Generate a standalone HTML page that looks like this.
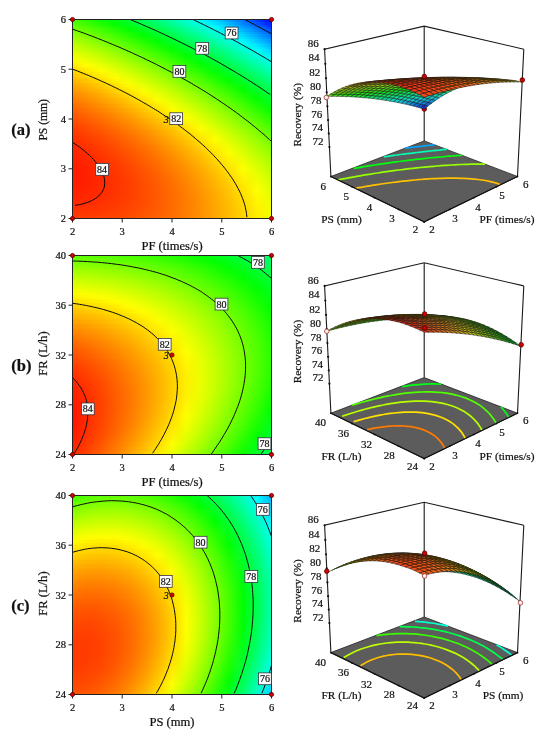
<!DOCTYPE html>
<html><head><meta charset="utf-8"><title>Response surface plots</title>
<style>html,body{margin:0;padding:0;background:#fff;overflow:hidden}svg{display:block}text{font-family:"Liberation Serif","Times New Roman",serif;fill:#111;stroke:#111;stroke-width:0.22px}</style>
</head><body>
<svg width="550" height="736" viewBox="0 0 550 736">
<defs><linearGradient id="ga0"><stop offset="0%" stop-color="#48ff00"/><stop offset="7.1%" stop-color="#2dff00"/><stop offset="14.3%" stop-color="#10ff00"/><stop offset="21.4%" stop-color="#00ff10"/><stop offset="28.6%" stop-color="#00ff32"/><stop offset="35.7%" stop-color="#00ff55"/><stop offset="42.9%" stop-color="#00ff7b"/><stop offset="50%" stop-color="#00ffa3"/><stop offset="57.1%" stop-color="#00ffcd"/><stop offset="64.3%" stop-color="#00fff9"/><stop offset="71.4%" stop-color="#00d6ff"/><stop offset="78.6%" stop-color="#00a6ff"/><stop offset="85.7%" stop-color="#0073ff"/><stop offset="92.9%" stop-color="#003fff"/><stop offset="100%" stop-color="#0008ff"/></linearGradient>
<linearGradient id="ga1"><stop offset="0%" stop-color="#56ff00"/><stop offset="7.1%" stop-color="#3bff00"/><stop offset="14.3%" stop-color="#1dff00"/><stop offset="21.4%" stop-color="#00ff02"/><stop offset="28.6%" stop-color="#00ff23"/><stop offset="35.7%" stop-color="#00ff47"/><stop offset="42.9%" stop-color="#00ff6c"/><stop offset="50%" stop-color="#00ff94"/><stop offset="57.1%" stop-color="#00ffbd"/><stop offset="64.3%" stop-color="#00ffe9"/><stop offset="71.4%" stop-color="#00e7ff"/><stop offset="78.6%" stop-color="#00b7ff"/><stop offset="85.7%" stop-color="#0085ff"/><stop offset="92.9%" stop-color="#0051ff"/><stop offset="100%" stop-color="#001aff"/></linearGradient>
<linearGradient id="ga2"><stop offset="0%" stop-color="#63ff00"/><stop offset="7.1%" stop-color="#48ff00"/><stop offset="14.3%" stop-color="#2bff00"/><stop offset="21.4%" stop-color="#0cff00"/><stop offset="28.6%" stop-color="#00ff15"/><stop offset="35.7%" stop-color="#00ff38"/><stop offset="42.9%" stop-color="#00ff5d"/><stop offset="50%" stop-color="#00ff84"/><stop offset="57.1%" stop-color="#00ffae"/><stop offset="64.3%" stop-color="#00ffd9"/><stop offset="71.4%" stop-color="#00f7ff"/><stop offset="78.6%" stop-color="#00c7ff"/><stop offset="85.7%" stop-color="#0096ff"/><stop offset="92.9%" stop-color="#0062ff"/><stop offset="100%" stop-color="#002cff"/></linearGradient>
<linearGradient id="ga3"><stop offset="0%" stop-color="#70ff00"/><stop offset="7.1%" stop-color="#55ff00"/><stop offset="14.3%" stop-color="#39ff00"/><stop offset="21.4%" stop-color="#1aff00"/><stop offset="28.6%" stop-color="#00ff07"/><stop offset="35.7%" stop-color="#00ff29"/><stop offset="42.9%" stop-color="#00ff4e"/><stop offset="50%" stop-color="#00ff75"/><stop offset="57.1%" stop-color="#00ff9e"/><stop offset="64.3%" stop-color="#00ffc9"/><stop offset="71.4%" stop-color="#00fff7"/><stop offset="78.6%" stop-color="#00d8ff"/><stop offset="85.7%" stop-color="#00a6ff"/><stop offset="92.9%" stop-color="#0073ff"/><stop offset="100%" stop-color="#003dff"/></linearGradient>
<linearGradient id="ga4"><stop offset="0%" stop-color="#7cff00"/><stop offset="7.1%" stop-color="#62ff00"/><stop offset="14.3%" stop-color="#46ff00"/><stop offset="21.4%" stop-color="#28ff00"/><stop offset="28.6%" stop-color="#07ff00"/><stop offset="35.7%" stop-color="#00ff1b"/><stop offset="42.9%" stop-color="#00ff40"/><stop offset="50%" stop-color="#00ff66"/><stop offset="57.1%" stop-color="#00ff8f"/><stop offset="64.3%" stop-color="#00ffba"/><stop offset="71.4%" stop-color="#00ffe7"/><stop offset="78.6%" stop-color="#00e8ff"/><stop offset="85.7%" stop-color="#00b7ff"/><stop offset="92.9%" stop-color="#0084ff"/><stop offset="100%" stop-color="#004fff"/></linearGradient>
<linearGradient id="ga5"><stop offset="0%" stop-color="#88ff00"/><stop offset="7.1%" stop-color="#6fff00"/><stop offset="14.3%" stop-color="#53ff00"/><stop offset="21.4%" stop-color="#35ff00"/><stop offset="28.6%" stop-color="#15ff00"/><stop offset="35.7%" stop-color="#00ff0d"/><stop offset="42.9%" stop-color="#00ff31"/><stop offset="50%" stop-color="#00ff58"/><stop offset="57.1%" stop-color="#00ff80"/><stop offset="64.3%" stop-color="#00ffab"/><stop offset="71.4%" stop-color="#00ffd7"/><stop offset="78.6%" stop-color="#00f8ff"/><stop offset="85.7%" stop-color="#00c7ff"/><stop offset="92.9%" stop-color="#0095ff"/><stop offset="100%" stop-color="#0060ff"/></linearGradient>
<linearGradient id="ga6"><stop offset="0%" stop-color="#95ff00"/><stop offset="7.1%" stop-color="#7bff00"/><stop offset="14.3%" stop-color="#60ff00"/><stop offset="21.4%" stop-color="#42ff00"/><stop offset="28.6%" stop-color="#22ff00"/><stop offset="35.7%" stop-color="#01ff00"/><stop offset="42.9%" stop-color="#00ff23"/><stop offset="50%" stop-color="#00ff49"/><stop offset="57.1%" stop-color="#00ff71"/><stop offset="64.3%" stop-color="#00ff9b"/><stop offset="71.4%" stop-color="#00ffc8"/><stop offset="78.6%" stop-color="#00fff6"/><stop offset="85.7%" stop-color="#00d8ff"/><stop offset="92.9%" stop-color="#00a5ff"/><stop offset="100%" stop-color="#0070ff"/></linearGradient>
<linearGradient id="ga7"><stop offset="0%" stop-color="#a1ff00"/><stop offset="7.1%" stop-color="#88ff00"/><stop offset="14.3%" stop-color="#6cff00"/><stop offset="21.4%" stop-color="#4fff00"/><stop offset="28.6%" stop-color="#30ff00"/><stop offset="35.7%" stop-color="#0eff00"/><stop offset="42.9%" stop-color="#00ff15"/><stop offset="50%" stop-color="#00ff3b"/><stop offset="57.1%" stop-color="#00ff63"/><stop offset="64.3%" stop-color="#00ff8c"/><stop offset="71.4%" stop-color="#00ffb8"/><stop offset="78.6%" stop-color="#00ffe6"/><stop offset="85.7%" stop-color="#00e7ff"/><stop offset="92.9%" stop-color="#00b5ff"/><stop offset="100%" stop-color="#0081ff"/></linearGradient>
<linearGradient id="ga8"><stop offset="0%" stop-color="#acff00"/><stop offset="7.1%" stop-color="#94ff00"/><stop offset="14.3%" stop-color="#79ff00"/><stop offset="21.4%" stop-color="#5cff00"/><stop offset="28.6%" stop-color="#3dff00"/><stop offset="35.7%" stop-color="#1cff00"/><stop offset="42.9%" stop-color="#00ff08"/><stop offset="50%" stop-color="#00ff2d"/><stop offset="57.1%" stop-color="#00ff54"/><stop offset="64.3%" stop-color="#00ff7e"/><stop offset="71.4%" stop-color="#00ffa9"/><stop offset="78.6%" stop-color="#00ffd7"/><stop offset="85.7%" stop-color="#00f7ff"/><stop offset="92.9%" stop-color="#00c5ff"/><stop offset="100%" stop-color="#0091ff"/></linearGradient>
<linearGradient id="ga9"><stop offset="0%" stop-color="#b8ff00"/><stop offset="7.1%" stop-color="#9fff00"/><stop offset="14.3%" stop-color="#85ff00"/><stop offset="21.4%" stop-color="#68ff00"/><stop offset="28.6%" stop-color="#4aff00"/><stop offset="35.7%" stop-color="#29ff00"/><stop offset="42.9%" stop-color="#06ff00"/><stop offset="50%" stop-color="#00ff1f"/><stop offset="57.1%" stop-color="#00ff46"/><stop offset="64.3%" stop-color="#00ff6f"/><stop offset="71.4%" stop-color="#00ff9b"/><stop offset="78.6%" stop-color="#00ffc8"/><stop offset="85.7%" stop-color="#00fff7"/><stop offset="92.9%" stop-color="#00d5ff"/><stop offset="100%" stop-color="#00a1ff"/></linearGradient>
<linearGradient id="ga10"><stop offset="0%" stop-color="#c3ff00"/><stop offset="7.1%" stop-color="#abff00"/><stop offset="14.3%" stop-color="#91ff00"/><stop offset="21.4%" stop-color="#75ff00"/><stop offset="28.6%" stop-color="#56ff00"/><stop offset="35.7%" stop-color="#36ff00"/><stop offset="42.9%" stop-color="#13ff00"/><stop offset="50%" stop-color="#00ff11"/><stop offset="57.1%" stop-color="#00ff38"/><stop offset="64.3%" stop-color="#00ff61"/><stop offset="71.4%" stop-color="#00ff8c"/><stop offset="78.6%" stop-color="#00ffb9"/><stop offset="85.7%" stop-color="#00ffe8"/><stop offset="92.9%" stop-color="#00e5ff"/><stop offset="100%" stop-color="#00b1ff"/></linearGradient>
<linearGradient id="ga11"><stop offset="0%" stop-color="#ceff00"/><stop offset="7.1%" stop-color="#b6ff00"/><stop offset="14.3%" stop-color="#9dff00"/><stop offset="21.4%" stop-color="#81ff00"/><stop offset="28.6%" stop-color="#63ff00"/><stop offset="35.7%" stop-color="#43ff00"/><stop offset="42.9%" stop-color="#20ff00"/><stop offset="50%" stop-color="#00ff04"/><stop offset="57.1%" stop-color="#00ff2a"/><stop offset="64.3%" stop-color="#00ff53"/><stop offset="71.4%" stop-color="#00ff7e"/><stop offset="78.6%" stop-color="#00ffaa"/><stop offset="85.7%" stop-color="#00ffd9"/><stop offset="92.9%" stop-color="#00f4ff"/><stop offset="100%" stop-color="#00c1ff"/></linearGradient>
<linearGradient id="ga12"><stop offset="0%" stop-color="#d9ff00"/><stop offset="7.1%" stop-color="#c2ff00"/><stop offset="14.3%" stop-color="#a8ff00"/><stop offset="21.4%" stop-color="#8dff00"/><stop offset="28.6%" stop-color="#6fff00"/><stop offset="35.7%" stop-color="#4fff00"/><stop offset="42.9%" stop-color="#2dff00"/><stop offset="50%" stop-color="#09ff00"/><stop offset="57.1%" stop-color="#00ff1d"/><stop offset="64.3%" stop-color="#00ff45"/><stop offset="71.4%" stop-color="#00ff6f"/><stop offset="78.6%" stop-color="#00ff9c"/><stop offset="85.7%" stop-color="#00ffca"/><stop offset="92.9%" stop-color="#00fffb"/><stop offset="100%" stop-color="#00d1ff"/></linearGradient>
<linearGradient id="ga13"><stop offset="0%" stop-color="#e4ff00"/><stop offset="7.1%" stop-color="#cdff00"/><stop offset="14.3%" stop-color="#b3ff00"/><stop offset="21.4%" stop-color="#98ff00"/><stop offset="28.6%" stop-color="#7bff00"/><stop offset="35.7%" stop-color="#5bff00"/><stop offset="42.9%" stop-color="#3aff00"/><stop offset="50%" stop-color="#16ff00"/><stop offset="57.1%" stop-color="#00ff10"/><stop offset="64.3%" stop-color="#00ff37"/><stop offset="71.4%" stop-color="#00ff61"/><stop offset="78.6%" stop-color="#00ff8d"/><stop offset="85.7%" stop-color="#00ffbc"/><stop offset="92.9%" stop-color="#00ffec"/><stop offset="100%" stop-color="#00e0ff"/></linearGradient>
<linearGradient id="ga14"><stop offset="0%" stop-color="#eeff00"/><stop offset="7.1%" stop-color="#d7ff00"/><stop offset="14.3%" stop-color="#bfff00"/><stop offset="21.4%" stop-color="#a4ff00"/><stop offset="28.6%" stop-color="#87ff00"/><stop offset="35.7%" stop-color="#67ff00"/><stop offset="42.9%" stop-color="#46ff00"/><stop offset="50%" stop-color="#23ff00"/><stop offset="57.1%" stop-color="#00ff03"/><stop offset="64.3%" stop-color="#00ff2a"/><stop offset="71.4%" stop-color="#00ff54"/><stop offset="78.6%" stop-color="#00ff7f"/><stop offset="85.7%" stop-color="#00ffad"/><stop offset="92.9%" stop-color="#00ffdd"/><stop offset="100%" stop-color="#00efff"/></linearGradient>
<linearGradient id="ga15"><stop offset="0%" stop-color="#f8ff00"/><stop offset="7.1%" stop-color="#e2ff00"/><stop offset="14.3%" stop-color="#c9ff00"/><stop offset="21.4%" stop-color="#afff00"/><stop offset="28.6%" stop-color="#92ff00"/><stop offset="35.7%" stop-color="#73ff00"/><stop offset="42.9%" stop-color="#52ff00"/><stop offset="50%" stop-color="#2fff00"/><stop offset="57.1%" stop-color="#0aff00"/><stop offset="64.3%" stop-color="#00ff1d"/><stop offset="71.4%" stop-color="#00ff46"/><stop offset="78.6%" stop-color="#00ff72"/><stop offset="85.7%" stop-color="#00ff9f"/><stop offset="92.9%" stop-color="#00ffcf"/><stop offset="100%" stop-color="#00feff"/></linearGradient>
<linearGradient id="ga16"><stop offset="0%" stop-color="#fffc00"/><stop offset="7.1%" stop-color="#ecff00"/><stop offset="14.3%" stop-color="#d4ff00"/><stop offset="21.4%" stop-color="#baff00"/><stop offset="28.6%" stop-color="#9dff00"/><stop offset="35.7%" stop-color="#7fff00"/><stop offset="42.9%" stop-color="#5eff00"/><stop offset="50%" stop-color="#3cff00"/><stop offset="57.1%" stop-color="#17ff00"/><stop offset="64.3%" stop-color="#00ff10"/><stop offset="71.4%" stop-color="#00ff39"/><stop offset="78.6%" stop-color="#00ff64"/><stop offset="85.7%" stop-color="#00ff91"/><stop offset="92.9%" stop-color="#00ffc0"/><stop offset="100%" stop-color="#00fff2"/></linearGradient>
<linearGradient id="ga17"><stop offset="0%" stop-color="#fff200"/><stop offset="7.1%" stop-color="#f6ff00"/><stop offset="14.3%" stop-color="#dfff00"/><stop offset="21.4%" stop-color="#c5ff00"/><stop offset="28.6%" stop-color="#a9ff00"/><stop offset="35.7%" stop-color="#8aff00"/><stop offset="42.9%" stop-color="#6aff00"/><stop offset="50%" stop-color="#48ff00"/><stop offset="57.1%" stop-color="#23ff00"/><stop offset="64.3%" stop-color="#00ff03"/><stop offset="71.4%" stop-color="#00ff2c"/><stop offset="78.6%" stop-color="#00ff56"/><stop offset="85.7%" stop-color="#00ff83"/><stop offset="92.9%" stop-color="#00ffb2"/><stop offset="100%" stop-color="#00ffe3"/></linearGradient>
<linearGradient id="ga18"><stop offset="0%" stop-color="#ffe800"/><stop offset="7.1%" stop-color="#fffe00"/><stop offset="14.3%" stop-color="#e9ff00"/><stop offset="21.4%" stop-color="#cfff00"/><stop offset="28.6%" stop-color="#b3ff00"/><stop offset="35.7%" stop-color="#96ff00"/><stop offset="42.9%" stop-color="#76ff00"/><stop offset="50%" stop-color="#54ff00"/><stop offset="57.1%" stop-color="#30ff00"/><stop offset="64.3%" stop-color="#09ff00"/><stop offset="71.4%" stop-color="#00ff1f"/><stop offset="78.6%" stop-color="#00ff49"/><stop offset="85.7%" stop-color="#00ff76"/><stop offset="92.9%" stop-color="#00ffa4"/><stop offset="100%" stop-color="#00ffd5"/></linearGradient>
<linearGradient id="ga19"><stop offset="0%" stop-color="#ffdf00"/><stop offset="7.1%" stop-color="#fff400"/><stop offset="14.3%" stop-color="#f3ff00"/><stop offset="21.4%" stop-color="#d9ff00"/><stop offset="28.6%" stop-color="#beff00"/><stop offset="35.7%" stop-color="#a1ff00"/><stop offset="42.9%" stop-color="#81ff00"/><stop offset="50%" stop-color="#5fff00"/><stop offset="57.1%" stop-color="#3cff00"/><stop offset="64.3%" stop-color="#16ff00"/><stop offset="71.4%" stop-color="#00ff12"/><stop offset="78.6%" stop-color="#00ff3c"/><stop offset="85.7%" stop-color="#00ff68"/><stop offset="92.9%" stop-color="#00ff97"/><stop offset="100%" stop-color="#00ffc7"/></linearGradient>
<linearGradient id="ga20"><stop offset="0%" stop-color="#ffd600"/><stop offset="7.1%" stop-color="#ffeb00"/><stop offset="14.3%" stop-color="#fdff00"/><stop offset="21.4%" stop-color="#e4ff00"/><stop offset="28.6%" stop-color="#c9ff00"/><stop offset="35.7%" stop-color="#abff00"/><stop offset="42.9%" stop-color="#8cff00"/><stop offset="50%" stop-color="#6bff00"/><stop offset="57.1%" stop-color="#47ff00"/><stop offset="64.3%" stop-color="#22ff00"/><stop offset="71.4%" stop-color="#00ff06"/><stop offset="78.6%" stop-color="#00ff2f"/><stop offset="85.7%" stop-color="#00ff5b"/><stop offset="92.9%" stop-color="#00ff89"/><stop offset="100%" stop-color="#00ffb9"/></linearGradient>
<linearGradient id="ga21"><stop offset="0%" stop-color="#ffcd00"/><stop offset="7.1%" stop-color="#ffe100"/><stop offset="14.3%" stop-color="#fff800"/><stop offset="21.4%" stop-color="#edff00"/><stop offset="28.6%" stop-color="#d3ff00"/><stop offset="35.7%" stop-color="#b6ff00"/><stop offset="42.9%" stop-color="#97ff00"/><stop offset="50%" stop-color="#76ff00"/><stop offset="57.1%" stop-color="#53ff00"/><stop offset="64.3%" stop-color="#2eff00"/><stop offset="71.4%" stop-color="#06ff00"/><stop offset="78.6%" stop-color="#00ff23"/><stop offset="85.7%" stop-color="#00ff4e"/><stop offset="92.9%" stop-color="#00ff7c"/><stop offset="100%" stop-color="#00ffac"/></linearGradient>
<linearGradient id="ga22"><stop offset="0%" stop-color="#ffc400"/><stop offset="7.1%" stop-color="#ffd800"/><stop offset="14.3%" stop-color="#ffef00"/><stop offset="21.4%" stop-color="#f7ff00"/><stop offset="28.6%" stop-color="#ddff00"/><stop offset="35.7%" stop-color="#c0ff00"/><stop offset="42.9%" stop-color="#a2ff00"/><stop offset="50%" stop-color="#81ff00"/><stop offset="57.1%" stop-color="#5eff00"/><stop offset="64.3%" stop-color="#39ff00"/><stop offset="71.4%" stop-color="#12ff00"/><stop offset="78.6%" stop-color="#00ff17"/><stop offset="85.7%" stop-color="#00ff42"/><stop offset="92.9%" stop-color="#00ff6f"/><stop offset="100%" stop-color="#00ff9e"/></linearGradient>
<linearGradient id="ga23"><stop offset="0%" stop-color="#ffbc00"/><stop offset="7.1%" stop-color="#ffd000"/><stop offset="14.3%" stop-color="#ffe500"/><stop offset="21.4%" stop-color="#fffd00"/><stop offset="28.6%" stop-color="#e7ff00"/><stop offset="35.7%" stop-color="#caff00"/><stop offset="42.9%" stop-color="#acff00"/><stop offset="50%" stop-color="#8cff00"/><stop offset="57.1%" stop-color="#69ff00"/><stop offset="64.3%" stop-color="#45ff00"/><stop offset="71.4%" stop-color="#1eff00"/><stop offset="78.6%" stop-color="#00ff0a"/><stop offset="85.7%" stop-color="#00ff35"/><stop offset="92.9%" stop-color="#00ff62"/><stop offset="100%" stop-color="#00ff91"/></linearGradient>
<linearGradient id="ga24"><stop offset="0%" stop-color="#ffb300"/><stop offset="7.1%" stop-color="#ffc700"/><stop offset="14.3%" stop-color="#ffdc00"/><stop offset="21.4%" stop-color="#fff400"/><stop offset="28.6%" stop-color="#f0ff00"/><stop offset="35.7%" stop-color="#d4ff00"/><stop offset="42.9%" stop-color="#b6ff00"/><stop offset="50%" stop-color="#96ff00"/><stop offset="57.1%" stop-color="#74ff00"/><stop offset="64.3%" stop-color="#50ff00"/><stop offset="71.4%" stop-color="#2aff00"/><stop offset="78.6%" stop-color="#01ff00"/><stop offset="85.7%" stop-color="#00ff29"/><stop offset="92.9%" stop-color="#00ff56"/><stop offset="100%" stop-color="#00ff84"/></linearGradient>
<linearGradient id="ga25"><stop offset="0%" stop-color="#ffab00"/><stop offset="7.1%" stop-color="#ffbf00"/><stop offset="14.3%" stop-color="#ffd400"/><stop offset="21.4%" stop-color="#ffeb00"/><stop offset="28.6%" stop-color="#faff00"/><stop offset="35.7%" stop-color="#deff00"/><stop offset="42.9%" stop-color="#c0ff00"/><stop offset="50%" stop-color="#a1ff00"/><stop offset="57.1%" stop-color="#7fff00"/><stop offset="64.3%" stop-color="#5bff00"/><stop offset="71.4%" stop-color="#35ff00"/><stop offset="78.6%" stop-color="#0dff00"/><stop offset="85.7%" stop-color="#00ff1d"/><stop offset="92.9%" stop-color="#00ff49"/><stop offset="100%" stop-color="#00ff78"/></linearGradient>
<linearGradient id="ga26"><stop offset="0%" stop-color="#ffa400"/><stop offset="7.1%" stop-color="#ffb600"/><stop offset="14.3%" stop-color="#ffcb00"/><stop offset="21.4%" stop-color="#ffe200"/><stop offset="28.6%" stop-color="#fffb00"/><stop offset="35.7%" stop-color="#e8ff00"/><stop offset="42.9%" stop-color="#caff00"/><stop offset="50%" stop-color="#abff00"/><stop offset="57.1%" stop-color="#89ff00"/><stop offset="64.3%" stop-color="#66ff00"/><stop offset="71.4%" stop-color="#40ff00"/><stop offset="78.6%" stop-color="#19ff00"/><stop offset="85.7%" stop-color="#00ff11"/><stop offset="92.9%" stop-color="#00ff3d"/><stop offset="100%" stop-color="#00ff6b"/></linearGradient>
<linearGradient id="ga27"><stop offset="0%" stop-color="#ff9c00"/><stop offset="7.1%" stop-color="#ffae00"/><stop offset="14.3%" stop-color="#ffc300"/><stop offset="21.4%" stop-color="#ffda00"/><stop offset="28.6%" stop-color="#fff200"/><stop offset="35.7%" stop-color="#f1ff00"/><stop offset="42.9%" stop-color="#d4ff00"/><stop offset="50%" stop-color="#b5ff00"/><stop offset="57.1%" stop-color="#94ff00"/><stop offset="64.3%" stop-color="#71ff00"/><stop offset="71.4%" stop-color="#4bff00"/><stop offset="78.6%" stop-color="#24ff00"/><stop offset="85.7%" stop-color="#00ff06"/><stop offset="92.9%" stop-color="#00ff31"/><stop offset="100%" stop-color="#00ff5f"/></linearGradient>
<linearGradient id="ga28"><stop offset="0%" stop-color="#ff9500"/><stop offset="7.1%" stop-color="#ffa700"/><stop offset="14.3%" stop-color="#ffbb00"/><stop offset="21.4%" stop-color="#ffd100"/><stop offset="28.6%" stop-color="#ffea00"/><stop offset="35.7%" stop-color="#faff00"/><stop offset="42.9%" stop-color="#ddff00"/><stop offset="50%" stop-color="#bfff00"/><stop offset="57.1%" stop-color="#9eff00"/><stop offset="64.3%" stop-color="#7bff00"/><stop offset="71.4%" stop-color="#56ff00"/><stop offset="78.6%" stop-color="#2fff00"/><stop offset="85.7%" stop-color="#06ff00"/><stop offset="92.9%" stop-color="#00ff26"/><stop offset="100%" stop-color="#00ff53"/></linearGradient>
<linearGradient id="ga29"><stop offset="0%" stop-color="#ff8d00"/><stop offset="7.1%" stop-color="#ff9f00"/><stop offset="14.3%" stop-color="#ffb300"/><stop offset="21.4%" stop-color="#ffc900"/><stop offset="28.6%" stop-color="#ffe100"/><stop offset="35.7%" stop-color="#fffb00"/><stop offset="42.9%" stop-color="#e6ff00"/><stop offset="50%" stop-color="#c8ff00"/><stop offset="57.1%" stop-color="#a8ff00"/><stop offset="64.3%" stop-color="#85ff00"/><stop offset="71.4%" stop-color="#60ff00"/><stop offset="78.6%" stop-color="#3aff00"/><stop offset="85.7%" stop-color="#11ff00"/><stop offset="92.9%" stop-color="#00ff1a"/><stop offset="100%" stop-color="#00ff47"/></linearGradient>
<linearGradient id="ga30"><stop offset="0%" stop-color="#ff8600"/><stop offset="7.1%" stop-color="#ff9800"/><stop offset="14.3%" stop-color="#ffab00"/><stop offset="21.4%" stop-color="#ffc100"/><stop offset="28.6%" stop-color="#ffd900"/><stop offset="35.7%" stop-color="#fff300"/><stop offset="42.9%" stop-color="#efff00"/><stop offset="50%" stop-color="#d1ff00"/><stop offset="57.1%" stop-color="#b1ff00"/><stop offset="64.3%" stop-color="#8fff00"/><stop offset="71.4%" stop-color="#6bff00"/><stop offset="78.6%" stop-color="#44ff00"/><stop offset="85.7%" stop-color="#1cff00"/><stop offset="92.9%" stop-color="#00ff0f"/><stop offset="100%" stop-color="#00ff3c"/></linearGradient>
<linearGradient id="ga31"><stop offset="0%" stop-color="#ff8000"/><stop offset="7.1%" stop-color="#ff9100"/><stop offset="14.3%" stop-color="#ffa400"/><stop offset="21.4%" stop-color="#ffb900"/><stop offset="28.6%" stop-color="#ffd100"/><stop offset="35.7%" stop-color="#ffea00"/><stop offset="42.9%" stop-color="#f8ff00"/><stop offset="50%" stop-color="#daff00"/><stop offset="57.1%" stop-color="#bbff00"/><stop offset="64.3%" stop-color="#99ff00"/><stop offset="71.4%" stop-color="#75ff00"/><stop offset="78.6%" stop-color="#4fff00"/><stop offset="85.7%" stop-color="#27ff00"/><stop offset="92.9%" stop-color="#00ff04"/><stop offset="100%" stop-color="#00ff30"/></linearGradient>
<linearGradient id="ga32"><stop offset="0%" stop-color="#ff7900"/><stop offset="7.1%" stop-color="#ff8a00"/><stop offset="14.3%" stop-color="#ff9d00"/><stop offset="21.4%" stop-color="#ffb200"/><stop offset="28.6%" stop-color="#ffc900"/><stop offset="35.7%" stop-color="#ffe200"/><stop offset="42.9%" stop-color="#fffd00"/><stop offset="50%" stop-color="#e3ff00"/><stop offset="57.1%" stop-color="#c4ff00"/><stop offset="64.3%" stop-color="#a2ff00"/><stop offset="71.4%" stop-color="#7fff00"/><stop offset="78.6%" stop-color="#59ff00"/><stop offset="85.7%" stop-color="#31ff00"/><stop offset="92.9%" stop-color="#07ff00"/><stop offset="100%" stop-color="#00ff25"/></linearGradient>
<linearGradient id="ga33"><stop offset="0%" stop-color="#ff7300"/><stop offset="7.1%" stop-color="#ff8300"/><stop offset="14.3%" stop-color="#ff9600"/><stop offset="21.4%" stop-color="#ffab00"/><stop offset="28.6%" stop-color="#ffc100"/><stop offset="35.7%" stop-color="#ffda00"/><stop offset="42.9%" stop-color="#fff500"/><stop offset="50%" stop-color="#ecff00"/><stop offset="57.1%" stop-color="#cdff00"/><stop offset="64.3%" stop-color="#acff00"/><stop offset="71.4%" stop-color="#88ff00"/><stop offset="78.6%" stop-color="#63ff00"/><stop offset="85.7%" stop-color="#3bff00"/><stop offset="92.9%" stop-color="#12ff00"/><stop offset="100%" stop-color="#00ff1a"/></linearGradient>
<linearGradient id="ga34"><stop offset="0%" stop-color="#ff6d00"/><stop offset="7.1%" stop-color="#ff7d00"/><stop offset="14.3%" stop-color="#ff8f00"/><stop offset="21.4%" stop-color="#ffa300"/><stop offset="28.6%" stop-color="#ffba00"/><stop offset="35.7%" stop-color="#ffd200"/><stop offset="42.9%" stop-color="#ffed00"/><stop offset="50%" stop-color="#f4ff00"/><stop offset="57.1%" stop-color="#d5ff00"/><stop offset="64.3%" stop-color="#b5ff00"/><stop offset="71.4%" stop-color="#92ff00"/><stop offset="78.6%" stop-color="#6dff00"/><stop offset="85.7%" stop-color="#45ff00"/><stop offset="92.9%" stop-color="#1cff00"/><stop offset="100%" stop-color="#00ff0f"/></linearGradient>
<linearGradient id="ga35"><stop offset="0%" stop-color="#ff6700"/><stop offset="7.1%" stop-color="#ff7700"/><stop offset="14.3%" stop-color="#ff8900"/><stop offset="21.4%" stop-color="#ff9d00"/><stop offset="28.6%" stop-color="#ffb300"/><stop offset="35.7%" stop-color="#ffcb00"/><stop offset="42.9%" stop-color="#ffe500"/><stop offset="50%" stop-color="#fcff00"/><stop offset="57.1%" stop-color="#deff00"/><stop offset="64.3%" stop-color="#bdff00"/><stop offset="71.4%" stop-color="#9bff00"/><stop offset="78.6%" stop-color="#76ff00"/><stop offset="85.7%" stop-color="#4fff00"/><stop offset="92.9%" stop-color="#26ff00"/><stop offset="100%" stop-color="#00ff05"/></linearGradient>
<linearGradient id="ga36"><stop offset="0%" stop-color="#ff6100"/><stop offset="7.1%" stop-color="#ff7100"/><stop offset="14.3%" stop-color="#ff8200"/><stop offset="21.4%" stop-color="#ff9600"/><stop offset="28.6%" stop-color="#ffac00"/><stop offset="35.7%" stop-color="#ffc400"/><stop offset="42.9%" stop-color="#ffdd00"/><stop offset="50%" stop-color="#fffa00"/><stop offset="57.1%" stop-color="#e6ff00"/><stop offset="64.3%" stop-color="#c6ff00"/><stop offset="71.4%" stop-color="#a4ff00"/><stop offset="78.6%" stop-color="#7fff00"/><stop offset="85.7%" stop-color="#59ff00"/><stop offset="92.9%" stop-color="#30ff00"/><stop offset="100%" stop-color="#06ff00"/></linearGradient>
<linearGradient id="ga37"><stop offset="0%" stop-color="#ff5c00"/><stop offset="7.1%" stop-color="#ff6b00"/><stop offset="14.3%" stop-color="#ff7c00"/><stop offset="21.4%" stop-color="#ff9000"/><stop offset="28.6%" stop-color="#ffa500"/><stop offset="35.7%" stop-color="#ffbc00"/><stop offset="42.9%" stop-color="#ffd600"/><stop offset="50%" stop-color="#fff200"/><stop offset="57.1%" stop-color="#eeff00"/><stop offset="64.3%" stop-color="#cfff00"/><stop offset="71.4%" stop-color="#adff00"/><stop offset="78.6%" stop-color="#88ff00"/><stop offset="85.7%" stop-color="#62ff00"/><stop offset="92.9%" stop-color="#3aff00"/><stop offset="100%" stop-color="#10ff00"/></linearGradient>
<linearGradient id="ga38"><stop offset="0%" stop-color="#ff5700"/><stop offset="7.1%" stop-color="#ff6500"/><stop offset="14.3%" stop-color="#ff7600"/><stop offset="21.4%" stop-color="#ff8900"/><stop offset="28.6%" stop-color="#ff9e00"/><stop offset="35.7%" stop-color="#ffb600"/><stop offset="42.9%" stop-color="#ffcf00"/><stop offset="50%" stop-color="#ffea00"/><stop offset="57.1%" stop-color="#f6ff00"/><stop offset="64.3%" stop-color="#d7ff00"/><stop offset="71.4%" stop-color="#b5ff00"/><stop offset="78.6%" stop-color="#91ff00"/><stop offset="85.7%" stop-color="#6bff00"/><stop offset="92.9%" stop-color="#44ff00"/><stop offset="100%" stop-color="#19ff00"/></linearGradient>
<linearGradient id="ga39"><stop offset="0%" stop-color="#ff5200"/><stop offset="7.1%" stop-color="#ff6000"/><stop offset="14.3%" stop-color="#ff7100"/><stop offset="21.4%" stop-color="#ff8300"/><stop offset="28.6%" stop-color="#ff9800"/><stop offset="35.7%" stop-color="#ffaf00"/><stop offset="42.9%" stop-color="#ffc800"/><stop offset="50%" stop-color="#ffe300"/><stop offset="57.1%" stop-color="#feff00"/><stop offset="64.3%" stop-color="#dfff00"/><stop offset="71.4%" stop-color="#bdff00"/><stop offset="78.6%" stop-color="#9aff00"/><stop offset="85.7%" stop-color="#74ff00"/><stop offset="92.9%" stop-color="#4dff00"/><stop offset="100%" stop-color="#23ff00"/></linearGradient>
<linearGradient id="ga40"><stop offset="0%" stop-color="#ff4d00"/><stop offset="7.1%" stop-color="#ff5b00"/><stop offset="14.3%" stop-color="#ff6b00"/><stop offset="21.4%" stop-color="#ff7e00"/><stop offset="28.6%" stop-color="#ff9200"/><stop offset="35.7%" stop-color="#ffa800"/><stop offset="42.9%" stop-color="#ffc100"/><stop offset="50%" stop-color="#ffdc00"/><stop offset="57.1%" stop-color="#fff900"/><stop offset="64.3%" stop-color="#e6ff00"/><stop offset="71.4%" stop-color="#c5ff00"/><stop offset="78.6%" stop-color="#a2ff00"/><stop offset="85.7%" stop-color="#7dff00"/><stop offset="92.9%" stop-color="#56ff00"/><stop offset="100%" stop-color="#2dff00"/></linearGradient>
<linearGradient id="ga41"><stop offset="0%" stop-color="#ff4800"/><stop offset="7.1%" stop-color="#ff5600"/><stop offset="14.3%" stop-color="#ff6600"/><stop offset="21.4%" stop-color="#ff7800"/><stop offset="28.6%" stop-color="#ff8c00"/><stop offset="35.7%" stop-color="#ffa200"/><stop offset="42.9%" stop-color="#ffbb00"/><stop offset="50%" stop-color="#ffd500"/><stop offset="57.1%" stop-color="#fff100"/><stop offset="64.3%" stop-color="#eeff00"/><stop offset="71.4%" stop-color="#cdff00"/><stop offset="78.6%" stop-color="#abff00"/><stop offset="85.7%" stop-color="#86ff00"/><stop offset="92.9%" stop-color="#5fff00"/><stop offset="100%" stop-color="#36ff00"/></linearGradient>
<linearGradient id="ga42"><stop offset="0%" stop-color="#ff4400"/><stop offset="7.1%" stop-color="#ff5100"/><stop offset="14.3%" stop-color="#ff6100"/><stop offset="21.4%" stop-color="#ff7300"/><stop offset="28.6%" stop-color="#ff8600"/><stop offset="35.7%" stop-color="#ff9c00"/><stop offset="42.9%" stop-color="#ffb400"/><stop offset="50%" stop-color="#ffce00"/><stop offset="57.1%" stop-color="#ffea00"/><stop offset="64.3%" stop-color="#f5ff00"/><stop offset="71.4%" stop-color="#d5ff00"/><stop offset="78.6%" stop-color="#b3ff00"/><stop offset="85.7%" stop-color="#8eff00"/><stop offset="92.9%" stop-color="#67ff00"/><stop offset="100%" stop-color="#3fff00"/></linearGradient>
<linearGradient id="ga43"><stop offset="0%" stop-color="#ff4000"/><stop offset="7.1%" stop-color="#ff4d00"/><stop offset="14.3%" stop-color="#ff5c00"/><stop offset="21.4%" stop-color="#ff6d00"/><stop offset="28.6%" stop-color="#ff8100"/><stop offset="35.7%" stop-color="#ff9600"/><stop offset="42.9%" stop-color="#ffae00"/><stop offset="50%" stop-color="#ffc800"/><stop offset="57.1%" stop-color="#ffe400"/><stop offset="64.3%" stop-color="#fdff00"/><stop offset="71.4%" stop-color="#dcff00"/><stop offset="78.6%" stop-color="#baff00"/><stop offset="85.7%" stop-color="#96ff00"/><stop offset="92.9%" stop-color="#70ff00"/><stop offset="100%" stop-color="#48ff00"/></linearGradient>
<linearGradient id="ga44"><stop offset="0%" stop-color="#ff3c00"/><stop offset="7.1%" stop-color="#ff4900"/><stop offset="14.3%" stop-color="#ff5800"/><stop offset="21.4%" stop-color="#ff6900"/><stop offset="28.6%" stop-color="#ff7c00"/><stop offset="35.7%" stop-color="#ff9100"/><stop offset="42.9%" stop-color="#ffa800"/><stop offset="50%" stop-color="#ffc200"/><stop offset="57.1%" stop-color="#ffdd00"/><stop offset="64.3%" stop-color="#fffb00"/><stop offset="71.4%" stop-color="#e4ff00"/><stop offset="78.6%" stop-color="#c2ff00"/><stop offset="85.7%" stop-color="#9eff00"/><stop offset="92.9%" stop-color="#78ff00"/><stop offset="100%" stop-color="#50ff00"/></linearGradient>
<linearGradient id="ga45"><stop offset="0%" stop-color="#ff3800"/><stop offset="7.1%" stop-color="#ff4500"/><stop offset="14.3%" stop-color="#ff5300"/><stop offset="21.4%" stop-color="#ff6400"/><stop offset="28.6%" stop-color="#ff7700"/><stop offset="35.7%" stop-color="#ff8b00"/><stop offset="42.9%" stop-color="#ffa200"/><stop offset="50%" stop-color="#ffbb00"/><stop offset="57.1%" stop-color="#ffd700"/><stop offset="64.3%" stop-color="#fff400"/><stop offset="71.4%" stop-color="#ebff00"/><stop offset="78.6%" stop-color="#c9ff00"/><stop offset="85.7%" stop-color="#a6ff00"/><stop offset="92.9%" stop-color="#80ff00"/><stop offset="100%" stop-color="#58ff00"/></linearGradient>
<linearGradient id="ga46"><stop offset="0%" stop-color="#ff3500"/><stop offset="7.1%" stop-color="#ff4100"/><stop offset="14.3%" stop-color="#ff4f00"/><stop offset="21.4%" stop-color="#ff5f00"/><stop offset="28.6%" stop-color="#ff7200"/><stop offset="35.7%" stop-color="#ff8600"/><stop offset="42.9%" stop-color="#ff9d00"/><stop offset="50%" stop-color="#ffb600"/><stop offset="57.1%" stop-color="#ffd100"/><stop offset="64.3%" stop-color="#ffed00"/><stop offset="71.4%" stop-color="#f2ff00"/><stop offset="78.6%" stop-color="#d0ff00"/><stop offset="85.7%" stop-color="#adff00"/><stop offset="92.9%" stop-color="#88ff00"/><stop offset="100%" stop-color="#61ff00"/></linearGradient>
<linearGradient id="ga47"><stop offset="0%" stop-color="#ff3100"/><stop offset="7.1%" stop-color="#ff3d00"/><stop offset="14.3%" stop-color="#ff4b00"/><stop offset="21.4%" stop-color="#ff5b00"/><stop offset="28.6%" stop-color="#ff6d00"/><stop offset="35.7%" stop-color="#ff8100"/><stop offset="42.9%" stop-color="#ff9800"/><stop offset="50%" stop-color="#ffb000"/><stop offset="57.1%" stop-color="#ffcb00"/><stop offset="64.3%" stop-color="#ffe700"/><stop offset="71.4%" stop-color="#f8ff00"/><stop offset="78.6%" stop-color="#d7ff00"/><stop offset="85.7%" stop-color="#b4ff00"/><stop offset="92.9%" stop-color="#90ff00"/><stop offset="100%" stop-color="#68ff00"/></linearGradient>
<linearGradient id="ga48"><stop offset="0%" stop-color="#ff2e00"/><stop offset="7.1%" stop-color="#ff3a00"/><stop offset="14.3%" stop-color="#ff4700"/><stop offset="21.4%" stop-color="#ff5700"/><stop offset="28.6%" stop-color="#ff6900"/><stop offset="35.7%" stop-color="#ff7d00"/><stop offset="42.9%" stop-color="#ff9300"/><stop offset="50%" stop-color="#ffab00"/><stop offset="57.1%" stop-color="#ffc500"/><stop offset="64.3%" stop-color="#ffe100"/><stop offset="71.4%" stop-color="#ffff00"/><stop offset="78.6%" stop-color="#deff00"/><stop offset="85.7%" stop-color="#bcff00"/><stop offset="92.9%" stop-color="#97ff00"/><stop offset="100%" stop-color="#70ff00"/></linearGradient>
<linearGradient id="ga49"><stop offset="0%" stop-color="#ff2b00"/><stop offset="7.1%" stop-color="#ff3700"/><stop offset="14.3%" stop-color="#ff4400"/><stop offset="21.4%" stop-color="#ff5300"/><stop offset="28.6%" stop-color="#ff6500"/><stop offset="35.7%" stop-color="#ff7800"/><stop offset="42.9%" stop-color="#ff8e00"/><stop offset="50%" stop-color="#ffa600"/><stop offset="57.1%" stop-color="#ffbf00"/><stop offset="64.3%" stop-color="#ffdb00"/><stop offset="71.4%" stop-color="#fff900"/><stop offset="78.6%" stop-color="#e5ff00"/><stop offset="85.7%" stop-color="#c2ff00"/><stop offset="92.9%" stop-color="#9eff00"/><stop offset="100%" stop-color="#78ff00"/></linearGradient>
<linearGradient id="ga50"><stop offset="0%" stop-color="#ff2900"/><stop offset="7.1%" stop-color="#ff3400"/><stop offset="14.3%" stop-color="#ff4100"/><stop offset="21.4%" stop-color="#ff5000"/><stop offset="28.6%" stop-color="#ff6100"/><stop offset="35.7%" stop-color="#ff7400"/><stop offset="42.9%" stop-color="#ff8900"/><stop offset="50%" stop-color="#ffa100"/><stop offset="57.1%" stop-color="#ffba00"/><stop offset="64.3%" stop-color="#ffd600"/><stop offset="71.4%" stop-color="#fff300"/><stop offset="78.6%" stop-color="#ebff00"/><stop offset="85.7%" stop-color="#c9ff00"/><stop offset="92.9%" stop-color="#a5ff00"/><stop offset="100%" stop-color="#7fff00"/></linearGradient>
<linearGradient id="ga51"><stop offset="0%" stop-color="#ff2600"/><stop offset="7.1%" stop-color="#ff3100"/><stop offset="14.3%" stop-color="#ff3d00"/><stop offset="21.4%" stop-color="#ff4c00"/><stop offset="28.6%" stop-color="#ff5d00"/><stop offset="35.7%" stop-color="#ff7000"/><stop offset="42.9%" stop-color="#ff8500"/><stop offset="50%" stop-color="#ff9c00"/><stop offset="57.1%" stop-color="#ffb500"/><stop offset="64.3%" stop-color="#ffd000"/><stop offset="71.4%" stop-color="#ffee00"/><stop offset="78.6%" stop-color="#f1ff00"/><stop offset="85.7%" stop-color="#cfff00"/><stop offset="92.9%" stop-color="#acff00"/><stop offset="100%" stop-color="#86ff00"/></linearGradient>
<linearGradient id="ga52"><stop offset="0%" stop-color="#ff2400"/><stop offset="7.1%" stop-color="#ff2e00"/><stop offset="14.3%" stop-color="#ff3b00"/><stop offset="21.4%" stop-color="#ff4900"/><stop offset="28.6%" stop-color="#ff5900"/><stop offset="35.7%" stop-color="#ff6c00"/><stop offset="42.9%" stop-color="#ff8100"/><stop offset="50%" stop-color="#ff9700"/><stop offset="57.1%" stop-color="#ffb000"/><stop offset="64.3%" stop-color="#ffcb00"/><stop offset="71.4%" stop-color="#ffe800"/><stop offset="78.6%" stop-color="#f7ff00"/><stop offset="85.7%" stop-color="#d5ff00"/><stop offset="92.9%" stop-color="#b2ff00"/><stop offset="100%" stop-color="#8dff00"/></linearGradient>
<linearGradient id="ga53"><stop offset="0%" stop-color="#ff2200"/><stop offset="7.1%" stop-color="#ff2c00"/><stop offset="14.3%" stop-color="#ff3800"/><stop offset="21.4%" stop-color="#ff4600"/><stop offset="28.6%" stop-color="#ff5600"/><stop offset="35.7%" stop-color="#ff6800"/><stop offset="42.9%" stop-color="#ff7d00"/><stop offset="50%" stop-color="#ff9300"/><stop offset="57.1%" stop-color="#ffac00"/><stop offset="64.3%" stop-color="#ffc600"/><stop offset="71.4%" stop-color="#ffe300"/><stop offset="78.6%" stop-color="#fcff00"/><stop offset="85.7%" stop-color="#dbff00"/><stop offset="92.9%" stop-color="#b8ff00"/><stop offset="100%" stop-color="#93ff00"/></linearGradient>
<linearGradient id="ga54"><stop offset="0%" stop-color="#ff2000"/><stop offset="7.1%" stop-color="#ff2a00"/><stop offset="14.3%" stop-color="#ff3600"/><stop offset="21.4%" stop-color="#ff4300"/><stop offset="28.6%" stop-color="#ff5300"/><stop offset="35.7%" stop-color="#ff6500"/><stop offset="42.9%" stop-color="#ff7900"/><stop offset="50%" stop-color="#ff8f00"/><stop offset="57.1%" stop-color="#ffa700"/><stop offset="64.3%" stop-color="#ffc100"/><stop offset="71.4%" stop-color="#ffde00"/><stop offset="78.6%" stop-color="#fffc00"/><stop offset="85.7%" stop-color="#e1ff00"/><stop offset="92.9%" stop-color="#bfff00"/><stop offset="100%" stop-color="#9aff00"/></linearGradient>
<linearGradient id="ga55"><stop offset="0%" stop-color="#ff1f00"/><stop offset="7.1%" stop-color="#ff2800"/><stop offset="14.3%" stop-color="#ff3300"/><stop offset="21.4%" stop-color="#ff4100"/><stop offset="28.6%" stop-color="#ff5000"/><stop offset="35.7%" stop-color="#ff6200"/><stop offset="42.9%" stop-color="#ff7500"/><stop offset="50%" stop-color="#ff8b00"/><stop offset="57.1%" stop-color="#ffa300"/><stop offset="64.3%" stop-color="#ffbd00"/><stop offset="71.4%" stop-color="#ffd900"/><stop offset="78.6%" stop-color="#fff700"/><stop offset="85.7%" stop-color="#e7ff00"/><stop offset="92.9%" stop-color="#c4ff00"/><stop offset="100%" stop-color="#a0ff00"/></linearGradient>
<linearGradient id="ga56"><stop offset="0%" stop-color="#ff1e00"/><stop offset="7.1%" stop-color="#ff2600"/><stop offset="14.3%" stop-color="#ff3100"/><stop offset="21.4%" stop-color="#ff3e00"/><stop offset="28.6%" stop-color="#ff4e00"/><stop offset="35.7%" stop-color="#ff5f00"/><stop offset="42.9%" stop-color="#ff7200"/><stop offset="50%" stop-color="#ff8800"/><stop offset="57.1%" stop-color="#ff9f00"/><stop offset="64.3%" stop-color="#ffb900"/><stop offset="71.4%" stop-color="#ffd400"/><stop offset="78.6%" stop-color="#fff200"/><stop offset="85.7%" stop-color="#ecff00"/><stop offset="92.9%" stop-color="#caff00"/><stop offset="100%" stop-color="#a6ff00"/></linearGradient>
<linearGradient id="ga57"><stop offset="0%" stop-color="#ff1c00"/><stop offset="7.1%" stop-color="#ff2500"/><stop offset="14.3%" stop-color="#ff3000"/><stop offset="21.4%" stop-color="#ff3c00"/><stop offset="28.6%" stop-color="#ff4b00"/><stop offset="35.7%" stop-color="#ff5c00"/><stop offset="42.9%" stop-color="#ff6f00"/><stop offset="50%" stop-color="#ff8400"/><stop offset="57.1%" stop-color="#ff9b00"/><stop offset="64.3%" stop-color="#ffb500"/><stop offset="71.4%" stop-color="#ffd000"/><stop offset="78.6%" stop-color="#ffed00"/><stop offset="85.7%" stop-color="#f1ff00"/><stop offset="92.9%" stop-color="#cfff00"/><stop offset="100%" stop-color="#acff00"/></linearGradient>
<linearGradient id="ga58"><stop offset="0%" stop-color="#ff1c00"/><stop offset="7.1%" stop-color="#ff2400"/><stop offset="14.3%" stop-color="#ff2e00"/><stop offset="21.4%" stop-color="#ff3a00"/><stop offset="28.6%" stop-color="#ff4900"/><stop offset="35.7%" stop-color="#ff5900"/><stop offset="42.9%" stop-color="#ff6c00"/><stop offset="50%" stop-color="#ff8100"/><stop offset="57.1%" stop-color="#ff9800"/><stop offset="64.3%" stop-color="#ffb100"/><stop offset="71.4%" stop-color="#ffcc00"/><stop offset="78.6%" stop-color="#ffe900"/><stop offset="85.7%" stop-color="#f6ff00"/><stop offset="92.9%" stop-color="#d5ff00"/><stop offset="100%" stop-color="#b1ff00"/></linearGradient>
<linearGradient id="ga59"><stop offset="0%" stop-color="#ff1b00"/><stop offset="7.1%" stop-color="#ff2300"/><stop offset="14.3%" stop-color="#ff2d00"/><stop offset="21.4%" stop-color="#ff3900"/><stop offset="28.6%" stop-color="#ff4700"/><stop offset="35.7%" stop-color="#ff5700"/><stop offset="42.9%" stop-color="#ff6900"/><stop offset="50%" stop-color="#ff7e00"/><stop offset="57.1%" stop-color="#ff9400"/><stop offset="64.3%" stop-color="#ffad00"/><stop offset="71.4%" stop-color="#ffc800"/><stop offset="78.6%" stop-color="#ffe500"/><stop offset="85.7%" stop-color="#fbff00"/><stop offset="92.9%" stop-color="#daff00"/><stop offset="100%" stop-color="#b6ff00"/></linearGradient>
<linearGradient id="ga60"><stop offset="0%" stop-color="#ff1a00"/><stop offset="7.1%" stop-color="#ff2200"/><stop offset="14.3%" stop-color="#ff2c00"/><stop offset="21.4%" stop-color="#ff3700"/><stop offset="28.6%" stop-color="#ff4500"/><stop offset="35.7%" stop-color="#ff5500"/><stop offset="42.9%" stop-color="#ff6700"/><stop offset="50%" stop-color="#ff7b00"/><stop offset="57.1%" stop-color="#ff9100"/><stop offset="64.3%" stop-color="#ffaa00"/><stop offset="71.4%" stop-color="#ffc400"/><stop offset="78.6%" stop-color="#ffe000"/><stop offset="85.7%" stop-color="#ffff00"/><stop offset="92.9%" stop-color="#deff00"/><stop offset="100%" stop-color="#bcff00"/></linearGradient>
<linearGradient id="ga61"><stop offset="0%" stop-color="#ff1a00"/><stop offset="7.1%" stop-color="#ff2100"/><stop offset="14.3%" stop-color="#ff2b00"/><stop offset="21.4%" stop-color="#ff3600"/><stop offset="28.6%" stop-color="#ff4400"/><stop offset="35.7%" stop-color="#ff5300"/><stop offset="42.9%" stop-color="#ff6500"/><stop offset="50%" stop-color="#ff7900"/><stop offset="57.1%" stop-color="#ff8e00"/><stop offset="64.3%" stop-color="#ffa600"/><stop offset="71.4%" stop-color="#ffc000"/><stop offset="78.6%" stop-color="#ffdd00"/><stop offset="85.7%" stop-color="#fffb00"/><stop offset="92.9%" stop-color="#e3ff00"/><stop offset="100%" stop-color="#c0ff00"/></linearGradient>
<linearGradient id="ga62"><stop offset="0%" stop-color="#ff1a00"/><stop offset="7.1%" stop-color="#ff2100"/><stop offset="14.3%" stop-color="#ff2a00"/><stop offset="21.4%" stop-color="#ff3500"/><stop offset="28.6%" stop-color="#ff4200"/><stop offset="35.7%" stop-color="#ff5100"/><stop offset="42.9%" stop-color="#ff6300"/><stop offset="50%" stop-color="#ff7600"/><stop offset="57.1%" stop-color="#ff8c00"/><stop offset="64.3%" stop-color="#ffa300"/><stop offset="71.4%" stop-color="#ffbd00"/><stop offset="78.6%" stop-color="#ffd900"/><stop offset="85.7%" stop-color="#fff700"/><stop offset="92.9%" stop-color="#e7ff00"/><stop offset="100%" stop-color="#c5ff00"/></linearGradient>
<linearGradient id="ga63"><stop offset="0%" stop-color="#ff1a00"/><stop offset="7.1%" stop-color="#ff2100"/><stop offset="14.3%" stop-color="#ff2a00"/><stop offset="21.4%" stop-color="#ff3400"/><stop offset="28.6%" stop-color="#ff4100"/><stop offset="35.7%" stop-color="#ff5000"/><stop offset="42.9%" stop-color="#ff6100"/><stop offset="50%" stop-color="#ff7400"/><stop offset="57.1%" stop-color="#ff8900"/><stop offset="64.3%" stop-color="#ffa100"/><stop offset="71.4%" stop-color="#ffba00"/><stop offset="78.6%" stop-color="#ffd500"/><stop offset="85.7%" stop-color="#fff300"/><stop offset="92.9%" stop-color="#ebff00"/><stop offset="100%" stop-color="#caff00"/></linearGradient>
<linearGradient id="ga64"><stop offset="0%" stop-color="#ff1b00"/><stop offset="7.1%" stop-color="#ff2100"/><stop offset="14.3%" stop-color="#ff2900"/><stop offset="21.4%" stop-color="#ff3400"/><stop offset="28.6%" stop-color="#ff4000"/><stop offset="35.7%" stop-color="#ff4f00"/><stop offset="42.9%" stop-color="#ff5f00"/><stop offset="50%" stop-color="#ff7200"/><stop offset="57.1%" stop-color="#ff8700"/><stop offset="64.3%" stop-color="#ff9e00"/><stop offset="71.4%" stop-color="#ffb700"/><stop offset="78.6%" stop-color="#ffd200"/><stop offset="85.7%" stop-color="#ffef00"/><stop offset="92.9%" stop-color="#efff00"/><stop offset="100%" stop-color="#ceff00"/></linearGradient>
<linearGradient id="ga65"><stop offset="0%" stop-color="#ff1b00"/><stop offset="7.1%" stop-color="#ff2100"/><stop offset="14.3%" stop-color="#ff2900"/><stop offset="21.4%" stop-color="#ff3300"/><stop offset="28.6%" stop-color="#ff3f00"/><stop offset="35.7%" stop-color="#ff4e00"/><stop offset="42.9%" stop-color="#ff5e00"/><stop offset="50%" stop-color="#ff7000"/><stop offset="57.1%" stop-color="#ff8500"/><stop offset="64.3%" stop-color="#ff9c00"/><stop offset="71.4%" stop-color="#ffb400"/><stop offset="78.6%" stop-color="#ffcf00"/><stop offset="85.7%" stop-color="#ffec00"/><stop offset="92.9%" stop-color="#f3ff00"/><stop offset="100%" stop-color="#d2ff00"/></linearGradient>
<linearGradient id="ga66"><stop offset="0%" stop-color="#ff1c00"/><stop offset="7.1%" stop-color="#ff2200"/><stop offset="14.3%" stop-color="#ff2900"/><stop offset="21.4%" stop-color="#ff3300"/><stop offset="28.6%" stop-color="#ff3f00"/><stop offset="35.7%" stop-color="#ff4d00"/><stop offset="42.9%" stop-color="#ff5d00"/><stop offset="50%" stop-color="#ff6f00"/><stop offset="57.1%" stop-color="#ff8300"/><stop offset="64.3%" stop-color="#ff9a00"/><stop offset="71.4%" stop-color="#ffb200"/><stop offset="78.6%" stop-color="#ffcc00"/><stop offset="85.7%" stop-color="#ffe900"/><stop offset="92.9%" stop-color="#f6ff00"/><stop offset="100%" stop-color="#d6ff00"/></linearGradient>
<linearGradient id="ga67"><stop offset="0%" stop-color="#ff1d00"/><stop offset="7.1%" stop-color="#ff2300"/><stop offset="14.3%" stop-color="#ff2a00"/><stop offset="21.4%" stop-color="#ff3300"/><stop offset="28.6%" stop-color="#ff3f00"/><stop offset="35.7%" stop-color="#ff4c00"/><stop offset="42.9%" stop-color="#ff5c00"/><stop offset="50%" stop-color="#ff6e00"/><stop offset="57.1%" stop-color="#ff8200"/><stop offset="64.3%" stop-color="#ff9800"/><stop offset="71.4%" stop-color="#ffb000"/><stop offset="78.6%" stop-color="#ffca00"/><stop offset="85.7%" stop-color="#ffe600"/><stop offset="92.9%" stop-color="#faff00"/><stop offset="100%" stop-color="#d9ff00"/></linearGradient>
<linearGradient id="ga68"><stop offset="0%" stop-color="#ff1f00"/><stop offset="7.1%" stop-color="#ff2300"/><stop offset="14.3%" stop-color="#ff2a00"/><stop offset="21.4%" stop-color="#ff3400"/><stop offset="28.6%" stop-color="#ff3f00"/><stop offset="35.7%" stop-color="#ff4c00"/><stop offset="42.9%" stop-color="#ff5b00"/><stop offset="50%" stop-color="#ff6d00"/><stop offset="57.1%" stop-color="#ff8000"/><stop offset="64.3%" stop-color="#ff9600"/><stop offset="71.4%" stop-color="#ffae00"/><stop offset="78.6%" stop-color="#ffc700"/><stop offset="85.7%" stop-color="#ffe300"/><stop offset="92.9%" stop-color="#fdff00"/><stop offset="100%" stop-color="#dcff00"/></linearGradient>
<linearGradient id="ga69"><stop offset="0%" stop-color="#ff2000"/><stop offset="7.1%" stop-color="#ff2500"/><stop offset="14.3%" stop-color="#ff2b00"/><stop offset="21.4%" stop-color="#ff3400"/><stop offset="28.6%" stop-color="#ff3f00"/><stop offset="35.7%" stop-color="#ff4c00"/><stop offset="42.9%" stop-color="#ff5b00"/><stop offset="50%" stop-color="#ff6c00"/><stop offset="57.1%" stop-color="#ff7f00"/><stop offset="64.3%" stop-color="#ff9400"/><stop offset="71.4%" stop-color="#ffac00"/><stop offset="78.6%" stop-color="#ffc500"/><stop offset="85.7%" stop-color="#ffe100"/><stop offset="92.9%" stop-color="#ffff00"/><stop offset="100%" stop-color="#e0ff00"/></linearGradient>
<linearGradient id="ga70"><stop offset="0%" stop-color="#ff2200"/><stop offset="7.1%" stop-color="#ff2600"/><stop offset="14.3%" stop-color="#ff2c00"/><stop offset="21.4%" stop-color="#ff3500"/><stop offset="28.6%" stop-color="#ff3f00"/><stop offset="35.7%" stop-color="#ff4c00"/><stop offset="42.9%" stop-color="#ff5b00"/><stop offset="50%" stop-color="#ff6b00"/><stop offset="57.1%" stop-color="#ff7e00"/><stop offset="64.3%" stop-color="#ff9300"/><stop offset="71.4%" stop-color="#ffaa00"/><stop offset="78.6%" stop-color="#ffc300"/><stop offset="85.7%" stop-color="#ffdf00"/><stop offset="92.9%" stop-color="#fffc00"/><stop offset="100%" stop-color="#e3ff00"/></linearGradient>
<linearGradient id="ga71"><stop offset="0%" stop-color="#ff2400"/><stop offset="7.1%" stop-color="#ff2800"/><stop offset="14.3%" stop-color="#ff2e00"/><stop offset="21.4%" stop-color="#ff3600"/><stop offset="28.6%" stop-color="#ff4000"/><stop offset="35.7%" stop-color="#ff4c00"/><stop offset="42.9%" stop-color="#ff5a00"/><stop offset="50%" stop-color="#ff6b00"/><stop offset="57.1%" stop-color="#ff7d00"/><stop offset="64.3%" stop-color="#ff9200"/><stop offset="71.4%" stop-color="#ffa900"/><stop offset="78.6%" stop-color="#ffc200"/><stop offset="85.7%" stop-color="#ffdd00"/><stop offset="92.9%" stop-color="#fffa00"/><stop offset="100%" stop-color="#e5ff00"/></linearGradient>
<linearGradient id="ga72"><stop offset="0%" stop-color="#ff2600"/><stop offset="7.1%" stop-color="#ff2900"/><stop offset="14.3%" stop-color="#ff2f00"/><stop offset="21.4%" stop-color="#ff3700"/><stop offset="28.6%" stop-color="#ff4100"/><stop offset="35.7%" stop-color="#ff4d00"/><stop offset="42.9%" stop-color="#ff5b00"/><stop offset="50%" stop-color="#ff6b00"/><stop offset="57.1%" stop-color="#ff7d00"/><stop offset="64.3%" stop-color="#ff9100"/><stop offset="71.4%" stop-color="#ffa800"/><stop offset="78.6%" stop-color="#ffc000"/><stop offset="85.7%" stop-color="#ffdb00"/><stop offset="92.9%" stop-color="#fff700"/><stop offset="100%" stop-color="#e8ff00"/></linearGradient>
<linearGradient id="ga73"><stop offset="0%" stop-color="#ff2800"/><stop offset="7.1%" stop-color="#ff2b00"/><stop offset="14.3%" stop-color="#ff3100"/><stop offset="21.4%" stop-color="#ff3800"/><stop offset="28.6%" stop-color="#ff4200"/><stop offset="35.7%" stop-color="#ff4d00"/><stop offset="42.9%" stop-color="#ff5b00"/><stop offset="50%" stop-color="#ff6b00"/><stop offset="57.1%" stop-color="#ff7d00"/><stop offset="64.3%" stop-color="#ff9100"/><stop offset="71.4%" stop-color="#ffa700"/><stop offset="78.6%" stop-color="#ffbf00"/><stop offset="85.7%" stop-color="#ffd900"/><stop offset="92.9%" stop-color="#fff600"/><stop offset="100%" stop-color="#eaff00"/></linearGradient>
<linearGradient id="ga74"><stop offset="0%" stop-color="#ff2b00"/><stop offset="7.1%" stop-color="#ff2e00"/><stop offset="14.3%" stop-color="#ff3300"/><stop offset="21.4%" stop-color="#ff3a00"/><stop offset="28.6%" stop-color="#ff4300"/><stop offset="35.7%" stop-color="#ff4e00"/><stop offset="42.9%" stop-color="#ff5c00"/><stop offset="50%" stop-color="#ff6b00"/><stop offset="57.1%" stop-color="#ff7d00"/><stop offset="64.3%" stop-color="#ff9000"/><stop offset="71.4%" stop-color="#ffa600"/><stop offset="78.6%" stop-color="#ffbe00"/><stop offset="85.7%" stop-color="#ffd800"/><stop offset="92.9%" stop-color="#fff400"/><stop offset="100%" stop-color="#ecff00"/></linearGradient>
<linearGradient id="ga75"><stop offset="0%" stop-color="#ff2e00"/><stop offset="7.1%" stop-color="#ff3000"/><stop offset="14.3%" stop-color="#ff3500"/><stop offset="21.4%" stop-color="#ff3c00"/><stop offset="28.6%" stop-color="#ff4400"/><stop offset="35.7%" stop-color="#ff4f00"/><stop offset="42.9%" stop-color="#ff5c00"/><stop offset="50%" stop-color="#ff6c00"/><stop offset="57.1%" stop-color="#ff7d00"/><stop offset="64.3%" stop-color="#ff9000"/><stop offset="71.4%" stop-color="#ffa500"/><stop offset="78.6%" stop-color="#ffbd00"/><stop offset="85.7%" stop-color="#ffd700"/><stop offset="92.9%" stop-color="#fff200"/><stop offset="100%" stop-color="#eeff00"/></linearGradient>
<linearGradient id="ga76"><stop offset="0%" stop-color="#ff3100"/><stop offset="7.1%" stop-color="#ff3300"/><stop offset="14.3%" stop-color="#ff3700"/><stop offset="21.4%" stop-color="#ff3e00"/><stop offset="28.6%" stop-color="#ff4600"/><stop offset="35.7%" stop-color="#ff5100"/><stop offset="42.9%" stop-color="#ff5d00"/><stop offset="50%" stop-color="#ff6c00"/><stop offset="57.1%" stop-color="#ff7d00"/><stop offset="64.3%" stop-color="#ff9000"/><stop offset="71.4%" stop-color="#ffa500"/><stop offset="78.6%" stop-color="#ffbc00"/><stop offset="85.7%" stop-color="#ffd600"/><stop offset="92.9%" stop-color="#fff100"/><stop offset="100%" stop-color="#f0ff00"/></linearGradient>
<linearGradient id="ga77"><stop offset="0%" stop-color="#ff3400"/><stop offset="7.1%" stop-color="#ff3600"/><stop offset="14.3%" stop-color="#ff3a00"/><stop offset="21.4%" stop-color="#ff4000"/><stop offset="28.6%" stop-color="#ff4800"/><stop offset="35.7%" stop-color="#ff5200"/><stop offset="42.9%" stop-color="#ff5f00"/><stop offset="50%" stop-color="#ff6d00"/><stop offset="57.1%" stop-color="#ff7e00"/><stop offset="64.3%" stop-color="#ff9000"/><stop offset="71.4%" stop-color="#ffa500"/><stop offset="78.6%" stop-color="#ffbc00"/><stop offset="85.7%" stop-color="#ffd500"/><stop offset="92.9%" stop-color="#fff000"/><stop offset="100%" stop-color="#f1ff00"/></linearGradient>
<linearGradient id="ga78"><stop offset="0%" stop-color="#ff3700"/><stop offset="7.1%" stop-color="#ff3900"/><stop offset="14.3%" stop-color="#ff3d00"/><stop offset="21.4%" stop-color="#ff4200"/><stop offset="28.6%" stop-color="#ff4a00"/><stop offset="35.7%" stop-color="#ff5400"/><stop offset="42.9%" stop-color="#ff6000"/><stop offset="50%" stop-color="#ff6e00"/><stop offset="57.1%" stop-color="#ff7e00"/><stop offset="64.3%" stop-color="#ff9100"/><stop offset="71.4%" stop-color="#ffa500"/><stop offset="78.6%" stop-color="#ffbc00"/><stop offset="85.7%" stop-color="#ffd400"/><stop offset="92.9%" stop-color="#ffef00"/><stop offset="100%" stop-color="#f2ff00"/></linearGradient>
<linearGradient id="ga79"><stop offset="0%" stop-color="#ff3b00"/><stop offset="7.1%" stop-color="#ff3c00"/><stop offset="14.3%" stop-color="#ff4000"/><stop offset="21.4%" stop-color="#ff4500"/><stop offset="28.6%" stop-color="#ff4c00"/><stop offset="35.7%" stop-color="#ff5600"/><stop offset="42.9%" stop-color="#ff6200"/><stop offset="50%" stop-color="#ff7000"/><stop offset="57.1%" stop-color="#ff7f00"/><stop offset="64.3%" stop-color="#ff9100"/><stop offset="71.4%" stop-color="#ffa600"/><stop offset="78.6%" stop-color="#ffbc00"/><stop offset="85.7%" stop-color="#ffd400"/><stop offset="92.9%" stop-color="#ffee00"/><stop offset="100%" stop-color="#f3ff00"/></linearGradient>
<linearGradient id="gb0"><stop offset="0%" stop-color="#5fff00"/><stop offset="7.1%" stop-color="#5dff00"/><stop offset="14.3%" stop-color="#59ff00"/><stop offset="21.4%" stop-color="#54ff00"/><stop offset="28.6%" stop-color="#4bff00"/><stop offset="35.7%" stop-color="#41ff00"/><stop offset="42.9%" stop-color="#35ff00"/><stop offset="50%" stop-color="#27ff00"/><stop offset="57.1%" stop-color="#16ff00"/><stop offset="64.3%" stop-color="#04ff00"/><stop offset="71.4%" stop-color="#00ff11"/><stop offset="78.6%" stop-color="#00ff28"/><stop offset="85.7%" stop-color="#00ff40"/><stop offset="92.9%" stop-color="#00ff5b"/><stop offset="100%" stop-color="#00ff78"/></linearGradient>
<linearGradient id="gb1"><stop offset="0%" stop-color="#6bff00"/><stop offset="7.1%" stop-color="#69ff00"/><stop offset="14.3%" stop-color="#65ff00"/><stop offset="21.4%" stop-color="#5fff00"/><stop offset="28.6%" stop-color="#56ff00"/><stop offset="35.7%" stop-color="#4cff00"/><stop offset="42.9%" stop-color="#3fff00"/><stop offset="50%" stop-color="#31ff00"/><stop offset="57.1%" stop-color="#20ff00"/><stop offset="64.3%" stop-color="#0dff00"/><stop offset="71.4%" stop-color="#00ff08"/><stop offset="78.6%" stop-color="#00ff1f"/><stop offset="85.7%" stop-color="#00ff38"/><stop offset="92.9%" stop-color="#00ff53"/><stop offset="100%" stop-color="#00ff71"/></linearGradient>
<linearGradient id="gb2"><stop offset="0%" stop-color="#77ff00"/><stop offset="7.1%" stop-color="#75ff00"/><stop offset="14.3%" stop-color="#70ff00"/><stop offset="21.4%" stop-color="#6aff00"/><stop offset="28.6%" stop-color="#61ff00"/><stop offset="35.7%" stop-color="#56ff00"/><stop offset="42.9%" stop-color="#49ff00"/><stop offset="50%" stop-color="#3aff00"/><stop offset="57.1%" stop-color="#29ff00"/><stop offset="64.3%" stop-color="#16ff00"/><stop offset="71.4%" stop-color="#01ff00"/><stop offset="78.6%" stop-color="#00ff16"/><stop offset="85.7%" stop-color="#00ff30"/><stop offset="92.9%" stop-color="#00ff4b"/><stop offset="100%" stop-color="#00ff69"/></linearGradient>
<linearGradient id="gb3"><stop offset="0%" stop-color="#83ff00"/><stop offset="7.1%" stop-color="#80ff00"/><stop offset="14.3%" stop-color="#7bff00"/><stop offset="21.4%" stop-color="#75ff00"/><stop offset="28.6%" stop-color="#6cff00"/><stop offset="35.7%" stop-color="#60ff00"/><stop offset="42.9%" stop-color="#53ff00"/><stop offset="50%" stop-color="#44ff00"/><stop offset="57.1%" stop-color="#33ff00"/><stop offset="64.3%" stop-color="#1fff00"/><stop offset="71.4%" stop-color="#0aff00"/><stop offset="78.6%" stop-color="#00ff0e"/><stop offset="85.7%" stop-color="#00ff28"/><stop offset="92.9%" stop-color="#00ff44"/><stop offset="100%" stop-color="#00ff62"/></linearGradient>
<linearGradient id="gb4"><stop offset="0%" stop-color="#8fff00"/><stop offset="7.1%" stop-color="#8cff00"/><stop offset="14.3%" stop-color="#86ff00"/><stop offset="21.4%" stop-color="#7fff00"/><stop offset="28.6%" stop-color="#76ff00"/><stop offset="35.7%" stop-color="#6aff00"/><stop offset="42.9%" stop-color="#5dff00"/><stop offset="50%" stop-color="#4dff00"/><stop offset="57.1%" stop-color="#3cff00"/><stop offset="64.3%" stop-color="#28ff00"/><stop offset="71.4%" stop-color="#12ff00"/><stop offset="78.6%" stop-color="#00ff06"/><stop offset="85.7%" stop-color="#00ff20"/><stop offset="92.9%" stop-color="#00ff3c"/><stop offset="100%" stop-color="#00ff5b"/></linearGradient>
<linearGradient id="gb5"><stop offset="0%" stop-color="#9aff00"/><stop offset="7.1%" stop-color="#97ff00"/><stop offset="14.3%" stop-color="#91ff00"/><stop offset="21.4%" stop-color="#8aff00"/><stop offset="28.6%" stop-color="#80ff00"/><stop offset="35.7%" stop-color="#74ff00"/><stop offset="42.9%" stop-color="#66ff00"/><stop offset="50%" stop-color="#57ff00"/><stop offset="57.1%" stop-color="#45ff00"/><stop offset="64.3%" stop-color="#30ff00"/><stop offset="71.4%" stop-color="#1aff00"/><stop offset="78.6%" stop-color="#02ff00"/><stop offset="85.7%" stop-color="#00ff18"/><stop offset="92.9%" stop-color="#00ff35"/><stop offset="100%" stop-color="#00ff54"/></linearGradient>
<linearGradient id="gb6"><stop offset="0%" stop-color="#a5ff00"/><stop offset="7.1%" stop-color="#a2ff00"/><stop offset="14.3%" stop-color="#9cff00"/><stop offset="21.4%" stop-color="#94ff00"/><stop offset="28.6%" stop-color="#8aff00"/><stop offset="35.7%" stop-color="#7eff00"/><stop offset="42.9%" stop-color="#70ff00"/><stop offset="50%" stop-color="#60ff00"/><stop offset="57.1%" stop-color="#4dff00"/><stop offset="64.3%" stop-color="#39ff00"/><stop offset="71.4%" stop-color="#22ff00"/><stop offset="78.6%" stop-color="#0aff00"/><stop offset="85.7%" stop-color="#00ff11"/><stop offset="92.9%" stop-color="#00ff2e"/><stop offset="100%" stop-color="#00ff4d"/></linearGradient>
<linearGradient id="gb7"><stop offset="0%" stop-color="#b0ff00"/><stop offset="7.1%" stop-color="#acff00"/><stop offset="14.3%" stop-color="#a6ff00"/><stop offset="21.4%" stop-color="#9eff00"/><stop offset="28.6%" stop-color="#94ff00"/><stop offset="35.7%" stop-color="#87ff00"/><stop offset="42.9%" stop-color="#79ff00"/><stop offset="50%" stop-color="#68ff00"/><stop offset="57.1%" stop-color="#56ff00"/><stop offset="64.3%" stop-color="#41ff00"/><stop offset="71.4%" stop-color="#2aff00"/><stop offset="78.6%" stop-color="#11ff00"/><stop offset="85.7%" stop-color="#00ff0a"/><stop offset="92.9%" stop-color="#00ff27"/><stop offset="100%" stop-color="#00ff46"/></linearGradient>
<linearGradient id="gb8"><stop offset="0%" stop-color="#bbff00"/><stop offset="7.1%" stop-color="#b7ff00"/><stop offset="14.3%" stop-color="#b0ff00"/><stop offset="21.4%" stop-color="#a8ff00"/><stop offset="28.6%" stop-color="#9dff00"/><stop offset="35.7%" stop-color="#91ff00"/><stop offset="42.9%" stop-color="#82ff00"/><stop offset="50%" stop-color="#71ff00"/><stop offset="57.1%" stop-color="#5eff00"/><stop offset="64.3%" stop-color="#49ff00"/><stop offset="71.4%" stop-color="#32ff00"/><stop offset="78.6%" stop-color="#18ff00"/><stop offset="85.7%" stop-color="#00ff03"/><stop offset="92.9%" stop-color="#00ff20"/><stop offset="100%" stop-color="#00ff40"/></linearGradient>
<linearGradient id="gb9"><stop offset="0%" stop-color="#c6ff00"/><stop offset="7.1%" stop-color="#c1ff00"/><stop offset="14.3%" stop-color="#baff00"/><stop offset="21.4%" stop-color="#b2ff00"/><stop offset="28.6%" stop-color="#a7ff00"/><stop offset="35.7%" stop-color="#9aff00"/><stop offset="42.9%" stop-color="#8bff00"/><stop offset="50%" stop-color="#79ff00"/><stop offset="57.1%" stop-color="#66ff00"/><stop offset="64.3%" stop-color="#51ff00"/><stop offset="71.4%" stop-color="#39ff00"/><stop offset="78.6%" stop-color="#20ff00"/><stop offset="85.7%" stop-color="#04ff00"/><stop offset="92.9%" stop-color="#00ff1a"/><stop offset="100%" stop-color="#00ff3a"/></linearGradient>
<linearGradient id="gb10"><stop offset="0%" stop-color="#d0ff00"/><stop offset="7.1%" stop-color="#cbff00"/><stop offset="14.3%" stop-color="#c4ff00"/><stop offset="21.4%" stop-color="#bbff00"/><stop offset="28.6%" stop-color="#b0ff00"/><stop offset="35.7%" stop-color="#a3ff00"/><stop offset="42.9%" stop-color="#93ff00"/><stop offset="50%" stop-color="#82ff00"/><stop offset="57.1%" stop-color="#6eff00"/><stop offset="64.3%" stop-color="#58ff00"/><stop offset="71.4%" stop-color="#40ff00"/><stop offset="78.6%" stop-color="#27ff00"/><stop offset="85.7%" stop-color="#0bff00"/><stop offset="92.9%" stop-color="#00ff13"/><stop offset="100%" stop-color="#00ff34"/></linearGradient>
<linearGradient id="gb11"><stop offset="0%" stop-color="#daff00"/><stop offset="7.1%" stop-color="#d5ff00"/><stop offset="14.3%" stop-color="#ceff00"/><stop offset="21.4%" stop-color="#c4ff00"/><stop offset="28.6%" stop-color="#b9ff00"/><stop offset="35.7%" stop-color="#abff00"/><stop offset="42.9%" stop-color="#9bff00"/><stop offset="50%" stop-color="#8aff00"/><stop offset="57.1%" stop-color="#76ff00"/><stop offset="64.3%" stop-color="#60ff00"/><stop offset="71.4%" stop-color="#48ff00"/><stop offset="78.6%" stop-color="#2dff00"/><stop offset="85.7%" stop-color="#11ff00"/><stop offset="92.9%" stop-color="#00ff0d"/><stop offset="100%" stop-color="#00ff2e"/></linearGradient>
<linearGradient id="gb12"><stop offset="0%" stop-color="#e4ff00"/><stop offset="7.1%" stop-color="#dfff00"/><stop offset="14.3%" stop-color="#d7ff00"/><stop offset="21.4%" stop-color="#cdff00"/><stop offset="28.6%" stop-color="#c2ff00"/><stop offset="35.7%" stop-color="#b4ff00"/><stop offset="42.9%" stop-color="#a4ff00"/><stop offset="50%" stop-color="#91ff00"/><stop offset="57.1%" stop-color="#7dff00"/><stop offset="64.3%" stop-color="#67ff00"/><stop offset="71.4%" stop-color="#4eff00"/><stop offset="78.6%" stop-color="#34ff00"/><stop offset="85.7%" stop-color="#17ff00"/><stop offset="92.9%" stop-color="#00ff07"/><stop offset="100%" stop-color="#00ff28"/></linearGradient>
<linearGradient id="gb13"><stop offset="0%" stop-color="#eeff00"/><stop offset="7.1%" stop-color="#e8ff00"/><stop offset="14.3%" stop-color="#e0ff00"/><stop offset="21.4%" stop-color="#d6ff00"/><stop offset="28.6%" stop-color="#caff00"/><stop offset="35.7%" stop-color="#bcff00"/><stop offset="42.9%" stop-color="#acff00"/><stop offset="50%" stop-color="#99ff00"/><stop offset="57.1%" stop-color="#85ff00"/><stop offset="64.3%" stop-color="#6eff00"/><stop offset="71.4%" stop-color="#55ff00"/><stop offset="78.6%" stop-color="#3aff00"/><stop offset="85.7%" stop-color="#1dff00"/><stop offset="92.9%" stop-color="#00ff02"/><stop offset="100%" stop-color="#00ff23"/></linearGradient>
<linearGradient id="gb14"><stop offset="0%" stop-color="#f8ff00"/><stop offset="7.1%" stop-color="#f2ff00"/><stop offset="14.3%" stop-color="#eaff00"/><stop offset="21.4%" stop-color="#dfff00"/><stop offset="28.6%" stop-color="#d3ff00"/><stop offset="35.7%" stop-color="#c4ff00"/><stop offset="42.9%" stop-color="#b3ff00"/><stop offset="50%" stop-color="#a1ff00"/><stop offset="57.1%" stop-color="#8cff00"/><stop offset="64.3%" stop-color="#75ff00"/><stop offset="71.4%" stop-color="#5cff00"/><stop offset="78.6%" stop-color="#41ff00"/><stop offset="85.7%" stop-color="#23ff00"/><stop offset="92.9%" stop-color="#04ff00"/><stop offset="100%" stop-color="#00ff1e"/></linearGradient>
<linearGradient id="gb15"><stop offset="0%" stop-color="#fffc00"/><stop offset="7.1%" stop-color="#fbff00"/><stop offset="14.3%" stop-color="#f2ff00"/><stop offset="21.4%" stop-color="#e8ff00"/><stop offset="28.6%" stop-color="#dbff00"/><stop offset="35.7%" stop-color="#ccff00"/><stop offset="42.9%" stop-color="#bbff00"/><stop offset="50%" stop-color="#a8ff00"/><stop offset="57.1%" stop-color="#93ff00"/><stop offset="64.3%" stop-color="#7bff00"/><stop offset="71.4%" stop-color="#62ff00"/><stop offset="78.6%" stop-color="#47ff00"/><stop offset="85.7%" stop-color="#29ff00"/><stop offset="92.9%" stop-color="#09ff00"/><stop offset="100%" stop-color="#00ff18"/></linearGradient>
<linearGradient id="gb16"><stop offset="0%" stop-color="#fff300"/><stop offset="7.1%" stop-color="#fffa00"/><stop offset="14.3%" stop-color="#fbff00"/><stop offset="21.4%" stop-color="#f0ff00"/><stop offset="28.6%" stop-color="#e3ff00"/><stop offset="35.7%" stop-color="#d4ff00"/><stop offset="42.9%" stop-color="#c2ff00"/><stop offset="50%" stop-color="#afff00"/><stop offset="57.1%" stop-color="#99ff00"/><stop offset="64.3%" stop-color="#82ff00"/><stop offset="71.4%" stop-color="#68ff00"/><stop offset="78.6%" stop-color="#4cff00"/><stop offset="85.7%" stop-color="#2eff00"/><stop offset="92.9%" stop-color="#0eff00"/><stop offset="100%" stop-color="#00ff14"/></linearGradient>
<linearGradient id="gb17"><stop offset="0%" stop-color="#ffea00"/><stop offset="7.1%" stop-color="#fff100"/><stop offset="14.3%" stop-color="#fffa00"/><stop offset="21.4%" stop-color="#f8ff00"/><stop offset="28.6%" stop-color="#ebff00"/><stop offset="35.7%" stop-color="#dbff00"/><stop offset="42.9%" stop-color="#caff00"/><stop offset="50%" stop-color="#b6ff00"/><stop offset="57.1%" stop-color="#a0ff00"/><stop offset="64.3%" stop-color="#88ff00"/><stop offset="71.4%" stop-color="#6eff00"/><stop offset="78.6%" stop-color="#52ff00"/><stop offset="85.7%" stop-color="#34ff00"/><stop offset="92.9%" stop-color="#13ff00"/><stop offset="100%" stop-color="#00ff0f"/></linearGradient>
<linearGradient id="gb18"><stop offset="0%" stop-color="#ffe100"/><stop offset="7.1%" stop-color="#ffe900"/><stop offset="14.3%" stop-color="#fff200"/><stop offset="21.4%" stop-color="#fffe00"/><stop offset="28.6%" stop-color="#f2ff00"/><stop offset="35.7%" stop-color="#e3ff00"/><stop offset="42.9%" stop-color="#d1ff00"/><stop offset="50%" stop-color="#bdff00"/><stop offset="57.1%" stop-color="#a6ff00"/><stop offset="64.3%" stop-color="#8eff00"/><stop offset="71.4%" stop-color="#74ff00"/><stop offset="78.6%" stop-color="#57ff00"/><stop offset="85.7%" stop-color="#39ff00"/><stop offset="92.9%" stop-color="#18ff00"/><stop offset="100%" stop-color="#00ff0a"/></linearGradient>
<linearGradient id="gb19"><stop offset="0%" stop-color="#ffd800"/><stop offset="7.1%" stop-color="#ffe000"/><stop offset="14.3%" stop-color="#ffea00"/><stop offset="21.4%" stop-color="#fff600"/><stop offset="28.6%" stop-color="#faff00"/><stop offset="35.7%" stop-color="#eaff00"/><stop offset="42.9%" stop-color="#d7ff00"/><stop offset="50%" stop-color="#c3ff00"/><stop offset="57.1%" stop-color="#adff00"/><stop offset="64.3%" stop-color="#94ff00"/><stop offset="71.4%" stop-color="#79ff00"/><stop offset="78.6%" stop-color="#5dff00"/><stop offset="85.7%" stop-color="#3eff00"/><stop offset="92.9%" stop-color="#1dff00"/><stop offset="100%" stop-color="#00ff06"/></linearGradient>
<linearGradient id="gb20"><stop offset="0%" stop-color="#ffd000"/><stop offset="7.1%" stop-color="#ffd800"/><stop offset="14.3%" stop-color="#ffe200"/><stop offset="21.4%" stop-color="#ffee00"/><stop offset="28.6%" stop-color="#fffd00"/><stop offset="35.7%" stop-color="#f1ff00"/><stop offset="42.9%" stop-color="#deff00"/><stop offset="50%" stop-color="#c9ff00"/><stop offset="57.1%" stop-color="#b3ff00"/><stop offset="64.3%" stop-color="#9aff00"/><stop offset="71.4%" stop-color="#7fff00"/><stop offset="78.6%" stop-color="#62ff00"/><stop offset="85.7%" stop-color="#43ff00"/><stop offset="92.9%" stop-color="#21ff00"/><stop offset="100%" stop-color="#00ff02"/></linearGradient>
<linearGradient id="gb21"><stop offset="0%" stop-color="#ffc700"/><stop offset="7.1%" stop-color="#ffd000"/><stop offset="14.3%" stop-color="#ffda00"/><stop offset="21.4%" stop-color="#ffe700"/><stop offset="28.6%" stop-color="#fff600"/><stop offset="35.7%" stop-color="#f7ff00"/><stop offset="42.9%" stop-color="#e5ff00"/><stop offset="50%" stop-color="#d0ff00"/><stop offset="57.1%" stop-color="#b8ff00"/><stop offset="64.3%" stop-color="#9fff00"/><stop offset="71.4%" stop-color="#84ff00"/><stop offset="78.6%" stop-color="#67ff00"/><stop offset="85.7%" stop-color="#47ff00"/><stop offset="92.9%" stop-color="#25ff00"/><stop offset="100%" stop-color="#02ff00"/></linearGradient>
<linearGradient id="gb22"><stop offset="0%" stop-color="#ffbf00"/><stop offset="7.1%" stop-color="#ffc800"/><stop offset="14.3%" stop-color="#ffd300"/><stop offset="21.4%" stop-color="#ffe000"/><stop offset="28.6%" stop-color="#ffef00"/><stop offset="35.7%" stop-color="#feff00"/><stop offset="42.9%" stop-color="#ebff00"/><stop offset="50%" stop-color="#d5ff00"/><stop offset="57.1%" stop-color="#beff00"/><stop offset="64.3%" stop-color="#a5ff00"/><stop offset="71.4%" stop-color="#89ff00"/><stop offset="78.6%" stop-color="#6bff00"/><stop offset="85.7%" stop-color="#4bff00"/><stop offset="92.9%" stop-color="#2aff00"/><stop offset="100%" stop-color="#06ff00"/></linearGradient>
<linearGradient id="gb23"><stop offset="0%" stop-color="#ffb700"/><stop offset="7.1%" stop-color="#ffc000"/><stop offset="14.3%" stop-color="#ffcc00"/><stop offset="21.4%" stop-color="#ffd900"/><stop offset="28.6%" stop-color="#ffe800"/><stop offset="35.7%" stop-color="#fffa00"/><stop offset="42.9%" stop-color="#f1ff00"/><stop offset="50%" stop-color="#dbff00"/><stop offset="57.1%" stop-color="#c3ff00"/><stop offset="64.3%" stop-color="#aaff00"/><stop offset="71.4%" stop-color="#8eff00"/><stop offset="78.6%" stop-color="#70ff00"/><stop offset="85.7%" stop-color="#50ff00"/><stop offset="92.9%" stop-color="#2dff00"/><stop offset="100%" stop-color="#09ff00"/></linearGradient>
<linearGradient id="gb24"><stop offset="0%" stop-color="#ffb000"/><stop offset="7.1%" stop-color="#ffb900"/><stop offset="14.3%" stop-color="#ffc400"/><stop offset="21.4%" stop-color="#ffd200"/><stop offset="28.6%" stop-color="#ffe200"/><stop offset="35.7%" stop-color="#fff300"/><stop offset="42.9%" stop-color="#f7ff00"/><stop offset="50%" stop-color="#e1ff00"/><stop offset="57.1%" stop-color="#c9ff00"/><stop offset="64.3%" stop-color="#afff00"/><stop offset="71.4%" stop-color="#92ff00"/><stop offset="78.6%" stop-color="#74ff00"/><stop offset="85.7%" stop-color="#54ff00"/><stop offset="92.9%" stop-color="#31ff00"/><stop offset="100%" stop-color="#0cff00"/></linearGradient>
<linearGradient id="gb25"><stop offset="0%" stop-color="#ffa800"/><stop offset="7.1%" stop-color="#ffb200"/><stop offset="14.3%" stop-color="#ffbd00"/><stop offset="21.4%" stop-color="#ffcb00"/><stop offset="28.6%" stop-color="#ffdb00"/><stop offset="35.7%" stop-color="#ffed00"/><stop offset="42.9%" stop-color="#fcff00"/><stop offset="50%" stop-color="#e6ff00"/><stop offset="57.1%" stop-color="#ceff00"/><stop offset="64.3%" stop-color="#b3ff00"/><stop offset="71.4%" stop-color="#97ff00"/><stop offset="78.6%" stop-color="#78ff00"/><stop offset="85.7%" stop-color="#57ff00"/><stop offset="92.9%" stop-color="#34ff00"/><stop offset="100%" stop-color="#10ff00"/></linearGradient>
<linearGradient id="gb26"><stop offset="0%" stop-color="#ffa100"/><stop offset="7.1%" stop-color="#ffab00"/><stop offset="14.3%" stop-color="#ffb700"/><stop offset="21.4%" stop-color="#ffc500"/><stop offset="28.6%" stop-color="#ffd500"/><stop offset="35.7%" stop-color="#ffe800"/><stop offset="42.9%" stop-color="#fffc00"/><stop offset="50%" stop-color="#ebff00"/><stop offset="57.1%" stop-color="#d3ff00"/><stop offset="64.3%" stop-color="#b8ff00"/><stop offset="71.4%" stop-color="#9bff00"/><stop offset="78.6%" stop-color="#7cff00"/><stop offset="85.7%" stop-color="#5bff00"/><stop offset="92.9%" stop-color="#38ff00"/><stop offset="100%" stop-color="#13ff00"/></linearGradient>
<linearGradient id="gb27"><stop offset="0%" stop-color="#ff9900"/><stop offset="7.1%" stop-color="#ffa400"/><stop offset="14.3%" stop-color="#ffb000"/><stop offset="21.4%" stop-color="#ffbf00"/><stop offset="28.6%" stop-color="#ffcf00"/><stop offset="35.7%" stop-color="#ffe200"/><stop offset="42.9%" stop-color="#fff700"/><stop offset="50%" stop-color="#f0ff00"/><stop offset="57.1%" stop-color="#d7ff00"/><stop offset="64.3%" stop-color="#bcff00"/><stop offset="71.4%" stop-color="#9fff00"/><stop offset="78.6%" stop-color="#80ff00"/><stop offset="85.7%" stop-color="#5eff00"/><stop offset="92.9%" stop-color="#3bff00"/><stop offset="100%" stop-color="#15ff00"/></linearGradient>
<linearGradient id="gb28"><stop offset="0%" stop-color="#ff9200"/><stop offset="7.1%" stop-color="#ff9d00"/><stop offset="14.3%" stop-color="#ffaa00"/><stop offset="21.4%" stop-color="#ffb900"/><stop offset="28.6%" stop-color="#ffc900"/><stop offset="35.7%" stop-color="#ffdd00"/><stop offset="42.9%" stop-color="#fff200"/><stop offset="50%" stop-color="#f5ff00"/><stop offset="57.1%" stop-color="#dcff00"/><stop offset="64.3%" stop-color="#c0ff00"/><stop offset="71.4%" stop-color="#a3ff00"/><stop offset="78.6%" stop-color="#83ff00"/><stop offset="85.7%" stop-color="#62ff00"/><stop offset="92.9%" stop-color="#3eff00"/><stop offset="100%" stop-color="#18ff00"/></linearGradient>
<linearGradient id="gb29"><stop offset="0%" stop-color="#ff8b00"/><stop offset="7.1%" stop-color="#ff9600"/><stop offset="14.3%" stop-color="#ffa300"/><stop offset="21.4%" stop-color="#ffb300"/><stop offset="28.6%" stop-color="#ffc400"/><stop offset="35.7%" stop-color="#ffd700"/><stop offset="42.9%" stop-color="#ffed00"/><stop offset="50%" stop-color="#faff00"/><stop offset="57.1%" stop-color="#e0ff00"/><stop offset="64.3%" stop-color="#c4ff00"/><stop offset="71.4%" stop-color="#a7ff00"/><stop offset="78.6%" stop-color="#87ff00"/><stop offset="85.7%" stop-color="#65ff00"/><stop offset="92.9%" stop-color="#40ff00"/><stop offset="100%" stop-color="#1aff00"/></linearGradient>
<linearGradient id="gb30"><stop offset="0%" stop-color="#ff8500"/><stop offset="7.1%" stop-color="#ff9000"/><stop offset="14.3%" stop-color="#ff9d00"/><stop offset="21.4%" stop-color="#ffad00"/><stop offset="28.6%" stop-color="#ffbf00"/><stop offset="35.7%" stop-color="#ffd200"/><stop offset="42.9%" stop-color="#ffe800"/><stop offset="50%" stop-color="#feff00"/><stop offset="57.1%" stop-color="#e4ff00"/><stop offset="64.3%" stop-color="#c8ff00"/><stop offset="71.4%" stop-color="#aaff00"/><stop offset="78.6%" stop-color="#8aff00"/><stop offset="85.7%" stop-color="#67ff00"/><stop offset="92.9%" stop-color="#43ff00"/><stop offset="100%" stop-color="#1cff00"/></linearGradient>
<linearGradient id="gb31"><stop offset="0%" stop-color="#ff7e00"/><stop offset="7.1%" stop-color="#ff8a00"/><stop offset="14.3%" stop-color="#ff9800"/><stop offset="21.4%" stop-color="#ffa700"/><stop offset="28.6%" stop-color="#ffb900"/><stop offset="35.7%" stop-color="#ffcd00"/><stop offset="42.9%" stop-color="#ffe300"/><stop offset="50%" stop-color="#fffc00"/><stop offset="57.1%" stop-color="#e8ff00"/><stop offset="64.3%" stop-color="#ccff00"/><stop offset="71.4%" stop-color="#adff00"/><stop offset="78.6%" stop-color="#8dff00"/><stop offset="85.7%" stop-color="#6aff00"/><stop offset="92.9%" stop-color="#45ff00"/><stop offset="100%" stop-color="#1eff00"/></linearGradient>
<linearGradient id="gb32"><stop offset="0%" stop-color="#ff7800"/><stop offset="7.1%" stop-color="#ff8400"/><stop offset="14.3%" stop-color="#ff9200"/><stop offset="21.4%" stop-color="#ffa200"/><stop offset="28.6%" stop-color="#ffb400"/><stop offset="35.7%" stop-color="#ffc900"/><stop offset="42.9%" stop-color="#ffdf00"/><stop offset="50%" stop-color="#fff800"/><stop offset="57.1%" stop-color="#ecff00"/><stop offset="64.3%" stop-color="#cfff00"/><stop offset="71.4%" stop-color="#b0ff00"/><stop offset="78.6%" stop-color="#8fff00"/><stop offset="85.7%" stop-color="#6dff00"/><stop offset="92.9%" stop-color="#47ff00"/><stop offset="100%" stop-color="#20ff00"/></linearGradient>
<linearGradient id="gb33"><stop offset="0%" stop-color="#ff7200"/><stop offset="7.1%" stop-color="#ff7e00"/><stop offset="14.3%" stop-color="#ff8d00"/><stop offset="21.4%" stop-color="#ff9d00"/><stop offset="28.6%" stop-color="#ffb000"/><stop offset="35.7%" stop-color="#ffc400"/><stop offset="42.9%" stop-color="#ffdb00"/><stop offset="50%" stop-color="#fff400"/><stop offset="57.1%" stop-color="#efff00"/><stop offset="64.3%" stop-color="#d2ff00"/><stop offset="71.4%" stop-color="#b3ff00"/><stop offset="78.6%" stop-color="#92ff00"/><stop offset="85.7%" stop-color="#6fff00"/><stop offset="92.9%" stop-color="#49ff00"/><stop offset="100%" stop-color="#22ff00"/></linearGradient>
<linearGradient id="gb34"><stop offset="0%" stop-color="#ff6c00"/><stop offset="7.1%" stop-color="#ff7900"/><stop offset="14.3%" stop-color="#ff8700"/><stop offset="21.4%" stop-color="#ff9800"/><stop offset="28.6%" stop-color="#ffab00"/><stop offset="35.7%" stop-color="#ffc000"/><stop offset="42.9%" stop-color="#ffd700"/><stop offset="50%" stop-color="#fff000"/><stop offset="57.1%" stop-color="#f3ff00"/><stop offset="64.3%" stop-color="#d5ff00"/><stop offset="71.4%" stop-color="#b6ff00"/><stop offset="78.6%" stop-color="#94ff00"/><stop offset="85.7%" stop-color="#71ff00"/><stop offset="92.9%" stop-color="#4bff00"/><stop offset="100%" stop-color="#23ff00"/></linearGradient>
<linearGradient id="gb35"><stop offset="0%" stop-color="#ff6600"/><stop offset="7.1%" stop-color="#ff7300"/><stop offset="14.3%" stop-color="#ff8200"/><stop offset="21.4%" stop-color="#ff9300"/><stop offset="28.6%" stop-color="#ffa700"/><stop offset="35.7%" stop-color="#ffbc00"/><stop offset="42.9%" stop-color="#ffd300"/><stop offset="50%" stop-color="#ffed00"/><stop offset="57.1%" stop-color="#f6ff00"/><stop offset="64.3%" stop-color="#d8ff00"/><stop offset="71.4%" stop-color="#b8ff00"/><stop offset="78.6%" stop-color="#97ff00"/><stop offset="85.7%" stop-color="#73ff00"/><stop offset="92.9%" stop-color="#4dff00"/><stop offset="100%" stop-color="#25ff00"/></linearGradient>
<linearGradient id="gb36"><stop offset="0%" stop-color="#ff6100"/><stop offset="7.1%" stop-color="#ff6e00"/><stop offset="14.3%" stop-color="#ff7d00"/><stop offset="21.4%" stop-color="#ff8f00"/><stop offset="28.6%" stop-color="#ffa200"/><stop offset="35.7%" stop-color="#ffb800"/><stop offset="42.9%" stop-color="#ffd000"/><stop offset="50%" stop-color="#ffe900"/><stop offset="57.1%" stop-color="#f9ff00"/><stop offset="64.3%" stop-color="#dbff00"/><stop offset="71.4%" stop-color="#bbff00"/><stop offset="78.6%" stop-color="#99ff00"/><stop offset="85.7%" stop-color="#74ff00"/><stop offset="92.9%" stop-color="#4eff00"/><stop offset="100%" stop-color="#26ff00"/></linearGradient>
<linearGradient id="gb37"><stop offset="0%" stop-color="#ff5c00"/><stop offset="7.1%" stop-color="#ff6900"/><stop offset="14.3%" stop-color="#ff7900"/><stop offset="21.4%" stop-color="#ff8a00"/><stop offset="28.6%" stop-color="#ff9e00"/><stop offset="35.7%" stop-color="#ffb400"/><stop offset="42.9%" stop-color="#ffcc00"/><stop offset="50%" stop-color="#ffe600"/><stop offset="57.1%" stop-color="#fcff00"/><stop offset="64.3%" stop-color="#ddff00"/><stop offset="71.4%" stop-color="#bdff00"/><stop offset="78.6%" stop-color="#9aff00"/><stop offset="85.7%" stop-color="#76ff00"/><stop offset="92.9%" stop-color="#4fff00"/><stop offset="100%" stop-color="#27ff00"/></linearGradient>
<linearGradient id="gb38"><stop offset="0%" stop-color="#ff5600"/><stop offset="7.1%" stop-color="#ff6400"/><stop offset="14.3%" stop-color="#ff7400"/><stop offset="21.4%" stop-color="#ff8600"/><stop offset="28.6%" stop-color="#ff9a00"/><stop offset="35.7%" stop-color="#ffb100"/><stop offset="42.9%" stop-color="#ffc900"/><stop offset="50%" stop-color="#ffe300"/><stop offset="57.1%" stop-color="#feff00"/><stop offset="64.3%" stop-color="#e0ff00"/><stop offset="71.4%" stop-color="#bfff00"/><stop offset="78.6%" stop-color="#9cff00"/><stop offset="85.7%" stop-color="#77ff00"/><stop offset="92.9%" stop-color="#50ff00"/><stop offset="100%" stop-color="#27ff00"/></linearGradient>
<linearGradient id="gb39"><stop offset="0%" stop-color="#ff5200"/><stop offset="7.1%" stop-color="#ff6000"/><stop offset="14.3%" stop-color="#ff7000"/><stop offset="21.4%" stop-color="#ff8200"/><stop offset="28.6%" stop-color="#ff9700"/><stop offset="35.7%" stop-color="#ffad00"/><stop offset="42.9%" stop-color="#ffc600"/><stop offset="50%" stop-color="#ffe100"/><stop offset="57.1%" stop-color="#fffd00"/><stop offset="64.3%" stop-color="#e2ff00"/><stop offset="71.4%" stop-color="#c1ff00"/><stop offset="78.6%" stop-color="#9eff00"/><stop offset="85.7%" stop-color="#78ff00"/><stop offset="92.9%" stop-color="#51ff00"/><stop offset="100%" stop-color="#28ff00"/></linearGradient>
<linearGradient id="gb40"><stop offset="0%" stop-color="#ff4d00"/><stop offset="7.1%" stop-color="#ff5b00"/><stop offset="14.3%" stop-color="#ff6c00"/><stop offset="21.4%" stop-color="#ff7f00"/><stop offset="28.6%" stop-color="#ff9300"/><stop offset="35.7%" stop-color="#ffaa00"/><stop offset="42.9%" stop-color="#ffc300"/><stop offset="50%" stop-color="#ffde00"/><stop offset="57.1%" stop-color="#fffb00"/><stop offset="64.3%" stop-color="#e4ff00"/><stop offset="71.4%" stop-color="#c2ff00"/><stop offset="78.6%" stop-color="#9fff00"/><stop offset="85.7%" stop-color="#79ff00"/><stop offset="92.9%" stop-color="#52ff00"/><stop offset="100%" stop-color="#28ff00"/></linearGradient>
<linearGradient id="gb41"><stop offset="0%" stop-color="#ff4800"/><stop offset="7.1%" stop-color="#ff5700"/><stop offset="14.3%" stop-color="#ff6800"/><stop offset="21.4%" stop-color="#ff7b00"/><stop offset="28.6%" stop-color="#ff9000"/><stop offset="35.7%" stop-color="#ffa700"/><stop offset="42.9%" stop-color="#ffc000"/><stop offset="50%" stop-color="#ffdc00"/><stop offset="57.1%" stop-color="#fff900"/><stop offset="64.3%" stop-color="#e5ff00"/><stop offset="71.4%" stop-color="#c4ff00"/><stop offset="78.6%" stop-color="#a0ff00"/><stop offset="85.7%" stop-color="#7aff00"/><stop offset="92.9%" stop-color="#52ff00"/><stop offset="100%" stop-color="#28ff00"/></linearGradient>
<linearGradient id="gb42"><stop offset="0%" stop-color="#ff4400"/><stop offset="7.1%" stop-color="#ff5300"/><stop offset="14.3%" stop-color="#ff6400"/><stop offset="21.4%" stop-color="#ff7700"/><stop offset="28.6%" stop-color="#ff8d00"/><stop offset="35.7%" stop-color="#ffa400"/><stop offset="42.9%" stop-color="#ffbe00"/><stop offset="50%" stop-color="#ffda00"/><stop offset="57.1%" stop-color="#fff700"/><stop offset="64.3%" stop-color="#e7ff00"/><stop offset="71.4%" stop-color="#c5ff00"/><stop offset="78.6%" stop-color="#a1ff00"/><stop offset="85.7%" stop-color="#7bff00"/><stop offset="92.9%" stop-color="#52ff00"/><stop offset="100%" stop-color="#28ff00"/></linearGradient>
<linearGradient id="gb43"><stop offset="0%" stop-color="#ff4000"/><stop offset="7.1%" stop-color="#ff4f00"/><stop offset="14.3%" stop-color="#ff6100"/><stop offset="21.4%" stop-color="#ff7400"/><stop offset="28.6%" stop-color="#ff8a00"/><stop offset="35.7%" stop-color="#ffa200"/><stop offset="42.9%" stop-color="#ffbc00"/><stop offset="50%" stop-color="#ffd800"/><stop offset="57.1%" stop-color="#fff600"/><stop offset="64.3%" stop-color="#e8ff00"/><stop offset="71.4%" stop-color="#c6ff00"/><stop offset="78.6%" stop-color="#a1ff00"/><stop offset="85.7%" stop-color="#7bff00"/><stop offset="92.9%" stop-color="#52ff00"/><stop offset="100%" stop-color="#28ff00"/></linearGradient>
<linearGradient id="gb44"><stop offset="0%" stop-color="#ff3c00"/><stop offset="7.1%" stop-color="#ff4b00"/><stop offset="14.3%" stop-color="#ff5d00"/><stop offset="21.4%" stop-color="#ff7100"/><stop offset="28.6%" stop-color="#ff8700"/><stop offset="35.7%" stop-color="#ff9f00"/><stop offset="42.9%" stop-color="#ffba00"/><stop offset="50%" stop-color="#ffd600"/><stop offset="57.1%" stop-color="#fff400"/><stop offset="64.3%" stop-color="#e9ff00"/><stop offset="71.4%" stop-color="#c7ff00"/><stop offset="78.6%" stop-color="#a2ff00"/><stop offset="85.7%" stop-color="#7bff00"/><stop offset="92.9%" stop-color="#52ff00"/><stop offset="100%" stop-color="#27ff00"/></linearGradient>
<linearGradient id="gb45"><stop offset="0%" stop-color="#ff3800"/><stop offset="7.1%" stop-color="#ff4800"/><stop offset="14.3%" stop-color="#ff5a00"/><stop offset="21.4%" stop-color="#ff6e00"/><stop offset="28.6%" stop-color="#ff8500"/><stop offset="35.7%" stop-color="#ff9d00"/><stop offset="42.9%" stop-color="#ffb800"/><stop offset="50%" stop-color="#ffd400"/><stop offset="57.1%" stop-color="#fff300"/><stop offset="64.3%" stop-color="#eaff00"/><stop offset="71.4%" stop-color="#c7ff00"/><stop offset="78.6%" stop-color="#a2ff00"/><stop offset="85.7%" stop-color="#7bff00"/><stop offset="92.9%" stop-color="#52ff00"/><stop offset="100%" stop-color="#27ff00"/></linearGradient>
<linearGradient id="gb46"><stop offset="0%" stop-color="#ff3400"/><stop offset="7.1%" stop-color="#ff4500"/><stop offset="14.3%" stop-color="#ff5700"/><stop offset="21.4%" stop-color="#ff6c00"/><stop offset="28.6%" stop-color="#ff8200"/><stop offset="35.7%" stop-color="#ff9b00"/><stop offset="42.9%" stop-color="#ffb600"/><stop offset="50%" stop-color="#ffd300"/><stop offset="57.1%" stop-color="#fff200"/><stop offset="64.3%" stop-color="#ebff00"/><stop offset="71.4%" stop-color="#c8ff00"/><stop offset="78.6%" stop-color="#a2ff00"/><stop offset="85.7%" stop-color="#7bff00"/><stop offset="92.9%" stop-color="#51ff00"/><stop offset="100%" stop-color="#26ff00"/></linearGradient>
<linearGradient id="gb47"><stop offset="0%" stop-color="#ff3100"/><stop offset="7.1%" stop-color="#ff4200"/><stop offset="14.3%" stop-color="#ff5400"/><stop offset="21.4%" stop-color="#ff6900"/><stop offset="28.6%" stop-color="#ff8000"/><stop offset="35.7%" stop-color="#ff9900"/><stop offset="42.9%" stop-color="#ffb500"/><stop offset="50%" stop-color="#ffd200"/><stop offset="57.1%" stop-color="#fff100"/><stop offset="64.3%" stop-color="#ebff00"/><stop offset="71.4%" stop-color="#c8ff00"/><stop offset="78.6%" stop-color="#a2ff00"/><stop offset="85.7%" stop-color="#7aff00"/><stop offset="92.9%" stop-color="#51ff00"/><stop offset="100%" stop-color="#25ff00"/></linearGradient>
<linearGradient id="gb48"><stop offset="0%" stop-color="#ff2e00"/><stop offset="7.1%" stop-color="#ff3f00"/><stop offset="14.3%" stop-color="#ff5200"/><stop offset="21.4%" stop-color="#ff6700"/><stop offset="28.6%" stop-color="#ff7e00"/><stop offset="35.7%" stop-color="#ff9800"/><stop offset="42.9%" stop-color="#ffb300"/><stop offset="50%" stop-color="#ffd100"/><stop offset="57.1%" stop-color="#fff000"/><stop offset="64.3%" stop-color="#ecff00"/><stop offset="71.4%" stop-color="#c8ff00"/><stop offset="78.6%" stop-color="#a2ff00"/><stop offset="85.7%" stop-color="#7aff00"/><stop offset="92.9%" stop-color="#50ff00"/><stop offset="100%" stop-color="#23ff00"/></linearGradient>
<linearGradient id="gb49"><stop offset="0%" stop-color="#ff2b00"/><stop offset="7.1%" stop-color="#ff3c00"/><stop offset="14.3%" stop-color="#ff4f00"/><stop offset="21.4%" stop-color="#ff6500"/><stop offset="28.6%" stop-color="#ff7d00"/><stop offset="35.7%" stop-color="#ff9600"/><stop offset="42.9%" stop-color="#ffb200"/><stop offset="50%" stop-color="#ffd000"/><stop offset="57.1%" stop-color="#fff000"/><stop offset="64.3%" stop-color="#ecff00"/><stop offset="71.4%" stop-color="#c8ff00"/><stop offset="78.6%" stop-color="#a1ff00"/><stop offset="85.7%" stop-color="#79ff00"/><stop offset="92.9%" stop-color="#4fff00"/><stop offset="100%" stop-color="#22ff00"/></linearGradient>
<linearGradient id="gb50"><stop offset="0%" stop-color="#ff2800"/><stop offset="7.1%" stop-color="#ff3900"/><stop offset="14.3%" stop-color="#ff4d00"/><stop offset="21.4%" stop-color="#ff6300"/><stop offset="28.6%" stop-color="#ff7b00"/><stop offset="35.7%" stop-color="#ff9500"/><stop offset="42.9%" stop-color="#ffb100"/><stop offset="50%" stop-color="#ffcf00"/><stop offset="57.1%" stop-color="#fff000"/><stop offset="64.3%" stop-color="#ecff00"/><stop offset="71.4%" stop-color="#c7ff00"/><stop offset="78.6%" stop-color="#a1ff00"/><stop offset="85.7%" stop-color="#78ff00"/><stop offset="92.9%" stop-color="#4dff00"/><stop offset="100%" stop-color="#20ff00"/></linearGradient>
<linearGradient id="gb51"><stop offset="0%" stop-color="#ff2500"/><stop offset="7.1%" stop-color="#ff3700"/><stop offset="14.3%" stop-color="#ff4b00"/><stop offset="21.4%" stop-color="#ff6100"/><stop offset="28.6%" stop-color="#ff7a00"/><stop offset="35.7%" stop-color="#ff9400"/><stop offset="42.9%" stop-color="#ffb000"/><stop offset="50%" stop-color="#ffcf00"/><stop offset="57.1%" stop-color="#fff000"/><stop offset="64.3%" stop-color="#ecff00"/><stop offset="71.4%" stop-color="#c7ff00"/><stop offset="78.6%" stop-color="#a0ff00"/><stop offset="85.7%" stop-color="#77ff00"/><stop offset="92.9%" stop-color="#4cff00"/><stop offset="100%" stop-color="#1fff00"/></linearGradient>
<linearGradient id="gb52"><stop offset="0%" stop-color="#ff2300"/><stop offset="7.1%" stop-color="#ff3500"/><stop offset="14.3%" stop-color="#ff4900"/><stop offset="21.4%" stop-color="#ff6000"/><stop offset="28.6%" stop-color="#ff7800"/><stop offset="35.7%" stop-color="#ff9300"/><stop offset="42.9%" stop-color="#ffb000"/><stop offset="50%" stop-color="#ffcf00"/><stop offset="57.1%" stop-color="#fff000"/><stop offset="64.3%" stop-color="#ebff00"/><stop offset="71.4%" stop-color="#c6ff00"/><stop offset="78.6%" stop-color="#9fff00"/><stop offset="85.7%" stop-color="#76ff00"/><stop offset="92.9%" stop-color="#4aff00"/><stop offset="100%" stop-color="#1dff00"/></linearGradient>
<linearGradient id="gb53"><stop offset="0%" stop-color="#ff2000"/><stop offset="7.1%" stop-color="#ff3300"/><stop offset="14.3%" stop-color="#ff4800"/><stop offset="21.4%" stop-color="#ff5f00"/><stop offset="28.6%" stop-color="#ff7700"/><stop offset="35.7%" stop-color="#ff9200"/><stop offset="42.9%" stop-color="#ffaf00"/><stop offset="50%" stop-color="#ffcf00"/><stop offset="57.1%" stop-color="#fff000"/><stop offset="64.3%" stop-color="#ebff00"/><stop offset="71.4%" stop-color="#c5ff00"/><stop offset="78.6%" stop-color="#9eff00"/><stop offset="85.7%" stop-color="#74ff00"/><stop offset="92.9%" stop-color="#48ff00"/><stop offset="100%" stop-color="#1bff00"/></linearGradient>
<linearGradient id="gb54"><stop offset="0%" stop-color="#ff1e00"/><stop offset="7.1%" stop-color="#ff3100"/><stop offset="14.3%" stop-color="#ff4600"/><stop offset="21.4%" stop-color="#ff5d00"/><stop offset="28.6%" stop-color="#ff7700"/><stop offset="35.7%" stop-color="#ff9200"/><stop offset="42.9%" stop-color="#ffaf00"/><stop offset="50%" stop-color="#ffcf00"/><stop offset="57.1%" stop-color="#fff000"/><stop offset="64.3%" stop-color="#eaff00"/><stop offset="71.4%" stop-color="#c4ff00"/><stop offset="78.6%" stop-color="#9cff00"/><stop offset="85.7%" stop-color="#72ff00"/><stop offset="92.9%" stop-color="#46ff00"/><stop offset="100%" stop-color="#18ff00"/></linearGradient>
<linearGradient id="gb55"><stop offset="0%" stop-color="#ff1c00"/><stop offset="7.1%" stop-color="#ff3000"/><stop offset="14.3%" stop-color="#ff4500"/><stop offset="21.4%" stop-color="#ff5c00"/><stop offset="28.6%" stop-color="#ff7600"/><stop offset="35.7%" stop-color="#ff9200"/><stop offset="42.9%" stop-color="#ffaf00"/><stop offset="50%" stop-color="#ffcf00"/><stop offset="57.1%" stop-color="#fff100"/><stop offset="64.3%" stop-color="#e9ff00"/><stop offset="71.4%" stop-color="#c3ff00"/><stop offset="78.6%" stop-color="#9bff00"/><stop offset="85.7%" stop-color="#70ff00"/><stop offset="92.9%" stop-color="#44ff00"/><stop offset="100%" stop-color="#16ff00"/></linearGradient>
<linearGradient id="gb56"><stop offset="0%" stop-color="#ff1b00"/><stop offset="7.1%" stop-color="#ff2e00"/><stop offset="14.3%" stop-color="#ff4400"/><stop offset="21.4%" stop-color="#ff5c00"/><stop offset="28.6%" stop-color="#ff7600"/><stop offset="35.7%" stop-color="#ff9200"/><stop offset="42.9%" stop-color="#ffb000"/><stop offset="50%" stop-color="#ffd000"/><stop offset="57.1%" stop-color="#fff200"/><stop offset="64.3%" stop-color="#e8ff00"/><stop offset="71.4%" stop-color="#c1ff00"/><stop offset="78.6%" stop-color="#99ff00"/><stop offset="85.7%" stop-color="#6eff00"/><stop offset="92.9%" stop-color="#42ff00"/><stop offset="100%" stop-color="#13ff00"/></linearGradient>
<linearGradient id="gb57"><stop offset="0%" stop-color="#ff1900"/><stop offset="7.1%" stop-color="#ff2d00"/><stop offset="14.3%" stop-color="#ff4300"/><stop offset="21.4%" stop-color="#ff5b00"/><stop offset="28.6%" stop-color="#ff7500"/><stop offset="35.7%" stop-color="#ff9200"/><stop offset="42.9%" stop-color="#ffb000"/><stop offset="50%" stop-color="#ffd000"/><stop offset="57.1%" stop-color="#fff300"/><stop offset="64.3%" stop-color="#e6ff00"/><stop offset="71.4%" stop-color="#c0ff00"/><stop offset="78.6%" stop-color="#97ff00"/><stop offset="85.7%" stop-color="#6cff00"/><stop offset="92.9%" stop-color="#3fff00"/><stop offset="100%" stop-color="#10ff00"/></linearGradient>
<linearGradient id="gb58"><stop offset="0%" stop-color="#ff1800"/><stop offset="7.1%" stop-color="#ff2c00"/><stop offset="14.3%" stop-color="#ff4200"/><stop offset="21.4%" stop-color="#ff5b00"/><stop offset="28.6%" stop-color="#ff7500"/><stop offset="35.7%" stop-color="#ff9200"/><stop offset="42.9%" stop-color="#ffb100"/><stop offset="50%" stop-color="#ffd100"/><stop offset="57.1%" stop-color="#fff400"/><stop offset="64.3%" stop-color="#e5ff00"/><stop offset="71.4%" stop-color="#beff00"/><stop offset="78.6%" stop-color="#95ff00"/><stop offset="85.7%" stop-color="#6aff00"/><stop offset="92.9%" stop-color="#3cff00"/><stop offset="100%" stop-color="#0dff00"/></linearGradient>
<linearGradient id="gb59"><stop offset="0%" stop-color="#ff1700"/><stop offset="7.1%" stop-color="#ff2b00"/><stop offset="14.3%" stop-color="#ff4200"/><stop offset="21.4%" stop-color="#ff5b00"/><stop offset="28.6%" stop-color="#ff7500"/><stop offset="35.7%" stop-color="#ff9200"/><stop offset="42.9%" stop-color="#ffb100"/><stop offset="50%" stop-color="#ffd200"/><stop offset="57.1%" stop-color="#fff600"/><stop offset="64.3%" stop-color="#e3ff00"/><stop offset="71.4%" stop-color="#bcff00"/><stop offset="78.6%" stop-color="#92ff00"/><stop offset="85.7%" stop-color="#67ff00"/><stop offset="92.9%" stop-color="#39ff00"/><stop offset="100%" stop-color="#09ff00"/></linearGradient>
<linearGradient id="gb60"><stop offset="0%" stop-color="#ff1600"/><stop offset="7.1%" stop-color="#ff2b00"/><stop offset="14.3%" stop-color="#ff4200"/><stop offset="21.4%" stop-color="#ff5b00"/><stop offset="28.6%" stop-color="#ff7600"/><stop offset="35.7%" stop-color="#ff9300"/><stop offset="42.9%" stop-color="#ffb200"/><stop offset="50%" stop-color="#ffd400"/><stop offset="57.1%" stop-color="#fff700"/><stop offset="64.3%" stop-color="#e1ff00"/><stop offset="71.4%" stop-color="#baff00"/><stop offset="78.6%" stop-color="#90ff00"/><stop offset="85.7%" stop-color="#64ff00"/><stop offset="92.9%" stop-color="#36ff00"/><stop offset="100%" stop-color="#06ff00"/></linearGradient>
<linearGradient id="gb61"><stop offset="0%" stop-color="#ff1500"/><stop offset="7.1%" stop-color="#ff2a00"/><stop offset="14.3%" stop-color="#ff4200"/><stop offset="21.4%" stop-color="#ff5b00"/><stop offset="28.6%" stop-color="#ff7600"/><stop offset="35.7%" stop-color="#ff9400"/><stop offset="42.9%" stop-color="#ffb300"/><stop offset="50%" stop-color="#ffd500"/><stop offset="57.1%" stop-color="#fff900"/><stop offset="64.3%" stop-color="#dfff00"/><stop offset="71.4%" stop-color="#b7ff00"/><stop offset="78.6%" stop-color="#8dff00"/><stop offset="85.7%" stop-color="#61ff00"/><stop offset="92.9%" stop-color="#33ff00"/><stop offset="100%" stop-color="#02ff00"/></linearGradient>
<linearGradient id="gb62"><stop offset="0%" stop-color="#ff1500"/><stop offset="7.1%" stop-color="#ff2a00"/><stop offset="14.3%" stop-color="#ff4200"/><stop offset="21.4%" stop-color="#ff5b00"/><stop offset="28.6%" stop-color="#ff7700"/><stop offset="35.7%" stop-color="#ff9500"/><stop offset="42.9%" stop-color="#ffb500"/><stop offset="50%" stop-color="#ffd700"/><stop offset="57.1%" stop-color="#fffb00"/><stop offset="64.3%" stop-color="#ddff00"/><stop offset="71.4%" stop-color="#b5ff00"/><stop offset="78.6%" stop-color="#8aff00"/><stop offset="85.7%" stop-color="#5eff00"/><stop offset="92.9%" stop-color="#2fff00"/><stop offset="100%" stop-color="#00ff02"/></linearGradient>
<linearGradient id="gb63"><stop offset="0%" stop-color="#ff1400"/><stop offset="7.1%" stop-color="#ff2a00"/><stop offset="14.3%" stop-color="#ff4200"/><stop offset="21.4%" stop-color="#ff5c00"/><stop offset="28.6%" stop-color="#ff7800"/><stop offset="35.7%" stop-color="#ff9600"/><stop offset="42.9%" stop-color="#ffb600"/><stop offset="50%" stop-color="#ffd900"/><stop offset="57.1%" stop-color="#fffd00"/><stop offset="64.3%" stop-color="#daff00"/><stop offset="71.4%" stop-color="#b2ff00"/><stop offset="78.6%" stop-color="#87ff00"/><stop offset="85.7%" stop-color="#5aff00"/><stop offset="92.9%" stop-color="#2bff00"/><stop offset="100%" stop-color="#00ff06"/></linearGradient>
<linearGradient id="gb64"><stop offset="0%" stop-color="#ff1400"/><stop offset="7.1%" stop-color="#ff2a00"/><stop offset="14.3%" stop-color="#ff4200"/><stop offset="21.4%" stop-color="#ff5d00"/><stop offset="28.6%" stop-color="#ff7900"/><stop offset="35.7%" stop-color="#ff9700"/><stop offset="42.9%" stop-color="#ffb800"/><stop offset="50%" stop-color="#ffdb00"/><stop offset="57.1%" stop-color="#ffff00"/><stop offset="64.3%" stop-color="#d8ff00"/><stop offset="71.4%" stop-color="#afff00"/><stop offset="78.6%" stop-color="#84ff00"/><stop offset="85.7%" stop-color="#57ff00"/><stop offset="92.9%" stop-color="#27ff00"/><stop offset="100%" stop-color="#00ff0a"/></linearGradient>
<linearGradient id="gb65"><stop offset="0%" stop-color="#ff1400"/><stop offset="7.1%" stop-color="#ff2a00"/><stop offset="14.3%" stop-color="#ff4300"/><stop offset="21.4%" stop-color="#ff5e00"/><stop offset="28.6%" stop-color="#ff7a00"/><stop offset="35.7%" stop-color="#ff9900"/><stop offset="42.9%" stop-color="#ffba00"/><stop offset="50%" stop-color="#ffdd00"/><stop offset="57.1%" stop-color="#fcff00"/><stop offset="64.3%" stop-color="#d5ff00"/><stop offset="71.4%" stop-color="#acff00"/><stop offset="78.6%" stop-color="#80ff00"/><stop offset="85.7%" stop-color="#53ff00"/><stop offset="92.9%" stop-color="#23ff00"/><stop offset="100%" stop-color="#00ff0e"/></linearGradient>
<linearGradient id="gb66"><stop offset="0%" stop-color="#ff1400"/><stop offset="7.1%" stop-color="#ff2b00"/><stop offset="14.3%" stop-color="#ff4400"/><stop offset="21.4%" stop-color="#ff5f00"/><stop offset="28.6%" stop-color="#ff7c00"/><stop offset="35.7%" stop-color="#ff9b00"/><stop offset="42.9%" stop-color="#ffbc00"/><stop offset="50%" stop-color="#ffdf00"/><stop offset="57.1%" stop-color="#f9ff00"/><stop offset="64.3%" stop-color="#d2ff00"/><stop offset="71.4%" stop-color="#a8ff00"/><stop offset="78.6%" stop-color="#7dff00"/><stop offset="85.7%" stop-color="#4fff00"/><stop offset="92.9%" stop-color="#1fff00"/><stop offset="100%" stop-color="#00ff13"/></linearGradient>
<linearGradient id="gb67"><stop offset="0%" stop-color="#ff1500"/><stop offset="7.1%" stop-color="#ff2c00"/><stop offset="14.3%" stop-color="#ff4500"/><stop offset="21.4%" stop-color="#ff6000"/><stop offset="28.6%" stop-color="#ff7d00"/><stop offset="35.7%" stop-color="#ff9d00"/><stop offset="42.9%" stop-color="#ffbe00"/><stop offset="50%" stop-color="#ffe200"/><stop offset="57.1%" stop-color="#f6ff00"/><stop offset="64.3%" stop-color="#cfff00"/><stop offset="71.4%" stop-color="#a5ff00"/><stop offset="78.6%" stop-color="#79ff00"/><stop offset="85.7%" stop-color="#4bff00"/><stop offset="92.9%" stop-color="#1aff00"/><stop offset="100%" stop-color="#00ff18"/></linearGradient>
<linearGradient id="gb68"><stop offset="0%" stop-color="#ff1500"/><stop offset="7.1%" stop-color="#ff2d00"/><stop offset="14.3%" stop-color="#ff4600"/><stop offset="21.4%" stop-color="#ff6200"/><stop offset="28.6%" stop-color="#ff7f00"/><stop offset="35.7%" stop-color="#ff9f00"/><stop offset="42.9%" stop-color="#ffc100"/><stop offset="50%" stop-color="#ffe500"/><stop offset="57.1%" stop-color="#f3ff00"/><stop offset="64.3%" stop-color="#cbff00"/><stop offset="71.4%" stop-color="#a1ff00"/><stop offset="78.6%" stop-color="#75ff00"/><stop offset="85.7%" stop-color="#46ff00"/><stop offset="92.9%" stop-color="#16ff00"/><stop offset="100%" stop-color="#00ff1d"/></linearGradient>
<linearGradient id="gb69"><stop offset="0%" stop-color="#ff1600"/><stop offset="7.1%" stop-color="#ff2e00"/><stop offset="14.3%" stop-color="#ff4700"/><stop offset="21.4%" stop-color="#ff6300"/><stop offset="28.6%" stop-color="#ff8100"/><stop offset="35.7%" stop-color="#ffa100"/><stop offset="42.9%" stop-color="#ffc400"/><stop offset="50%" stop-color="#ffe800"/><stop offset="57.1%" stop-color="#f0ff00"/><stop offset="64.3%" stop-color="#c7ff00"/><stop offset="71.4%" stop-color="#9dff00"/><stop offset="78.6%" stop-color="#70ff00"/><stop offset="85.7%" stop-color="#42ff00"/><stop offset="92.9%" stop-color="#11ff00"/><stop offset="100%" stop-color="#00ff22"/></linearGradient>
<linearGradient id="gb70"><stop offset="0%" stop-color="#ff1700"/><stop offset="7.1%" stop-color="#ff2f00"/><stop offset="14.3%" stop-color="#ff4900"/><stop offset="21.4%" stop-color="#ff6500"/><stop offset="28.6%" stop-color="#ff8400"/><stop offset="35.7%" stop-color="#ffa400"/><stop offset="42.9%" stop-color="#ffc600"/><stop offset="50%" stop-color="#ffeb00"/><stop offset="57.1%" stop-color="#ecff00"/><stop offset="64.3%" stop-color="#c4ff00"/><stop offset="71.4%" stop-color="#99ff00"/><stop offset="78.6%" stop-color="#6cff00"/><stop offset="85.7%" stop-color="#3dff00"/><stop offset="92.9%" stop-color="#0cff00"/><stop offset="100%" stop-color="#00ff28"/></linearGradient>
<linearGradient id="gb71"><stop offset="0%" stop-color="#ff1800"/><stop offset="7.1%" stop-color="#ff3000"/><stop offset="14.3%" stop-color="#ff4b00"/><stop offset="21.4%" stop-color="#ff6700"/><stop offset="28.6%" stop-color="#ff8600"/><stop offset="35.7%" stop-color="#ffa700"/><stop offset="42.9%" stop-color="#ffc900"/><stop offset="50%" stop-color="#ffee00"/><stop offset="57.1%" stop-color="#e9ff00"/><stop offset="64.3%" stop-color="#c0ff00"/><stop offset="71.4%" stop-color="#94ff00"/><stop offset="78.6%" stop-color="#67ff00"/><stop offset="85.7%" stop-color="#38ff00"/><stop offset="92.9%" stop-color="#06ff00"/><stop offset="100%" stop-color="#00ff2d"/></linearGradient>
<linearGradient id="gb72"><stop offset="0%" stop-color="#ff1900"/><stop offset="7.1%" stop-color="#ff3200"/><stop offset="14.3%" stop-color="#ff4d00"/><stop offset="21.4%" stop-color="#ff6a00"/><stop offset="28.6%" stop-color="#ff8900"/><stop offset="35.7%" stop-color="#ffaa00"/><stop offset="42.9%" stop-color="#ffcd00"/><stop offset="50%" stop-color="#fff200"/><stop offset="57.1%" stop-color="#e5ff00"/><stop offset="64.3%" stop-color="#bbff00"/><stop offset="71.4%" stop-color="#90ff00"/><stop offset="78.6%" stop-color="#62ff00"/><stop offset="85.7%" stop-color="#33ff00"/><stop offset="92.9%" stop-color="#01ff00"/><stop offset="100%" stop-color="#00ff33"/></linearGradient>
<linearGradient id="gb73"><stop offset="0%" stop-color="#ff1b00"/><stop offset="7.1%" stop-color="#ff3400"/><stop offset="14.3%" stop-color="#ff4f00"/><stop offset="21.4%" stop-color="#ff6c00"/><stop offset="28.6%" stop-color="#ff8b00"/><stop offset="35.7%" stop-color="#ffad00"/><stop offset="42.9%" stop-color="#ffd000"/><stop offset="50%" stop-color="#fff600"/><stop offset="57.1%" stop-color="#e1ff00"/><stop offset="64.3%" stop-color="#b7ff00"/><stop offset="71.4%" stop-color="#8bff00"/><stop offset="78.6%" stop-color="#5dff00"/><stop offset="85.7%" stop-color="#2dff00"/><stop offset="92.9%" stop-color="#00ff05"/><stop offset="100%" stop-color="#00ff39"/></linearGradient>
<linearGradient id="gb74"><stop offset="0%" stop-color="#ff1d00"/><stop offset="7.1%" stop-color="#ff3600"/><stop offset="14.3%" stop-color="#ff5100"/><stop offset="21.4%" stop-color="#ff6f00"/><stop offset="28.6%" stop-color="#ff8e00"/><stop offset="35.7%" stop-color="#ffb000"/><stop offset="42.9%" stop-color="#ffd400"/><stop offset="50%" stop-color="#fffa00"/><stop offset="57.1%" stop-color="#dcff00"/><stop offset="64.3%" stop-color="#b2ff00"/><stop offset="71.4%" stop-color="#86ff00"/><stop offset="78.6%" stop-color="#58ff00"/><stop offset="85.7%" stop-color="#28ff00"/><stop offset="92.9%" stop-color="#00ff0b"/><stop offset="100%" stop-color="#00ff3f"/></linearGradient>
<linearGradient id="gb75"><stop offset="0%" stop-color="#ff1f00"/><stop offset="7.1%" stop-color="#ff3800"/><stop offset="14.3%" stop-color="#ff5400"/><stop offset="21.4%" stop-color="#ff7200"/><stop offset="28.6%" stop-color="#ff9200"/><stop offset="35.7%" stop-color="#ffb400"/><stop offset="42.9%" stop-color="#ffd800"/><stop offset="50%" stop-color="#fffe00"/><stop offset="57.1%" stop-color="#d8ff00"/><stop offset="64.3%" stop-color="#aeff00"/><stop offset="71.4%" stop-color="#81ff00"/><stop offset="78.6%" stop-color="#53ff00"/><stop offset="85.7%" stop-color="#22ff00"/><stop offset="92.9%" stop-color="#00ff11"/><stop offset="100%" stop-color="#00ff46"/></linearGradient>
<linearGradient id="gb76"><stop offset="0%" stop-color="#ff2100"/><stop offset="7.1%" stop-color="#ff3b00"/><stop offset="14.3%" stop-color="#ff5700"/><stop offset="21.4%" stop-color="#ff7500"/><stop offset="28.6%" stop-color="#ff9500"/><stop offset="35.7%" stop-color="#ffb700"/><stop offset="42.9%" stop-color="#ffdc00"/><stop offset="50%" stop-color="#fcff00"/><stop offset="57.1%" stop-color="#d3ff00"/><stop offset="64.3%" stop-color="#a9ff00"/><stop offset="71.4%" stop-color="#7cff00"/><stop offset="78.6%" stop-color="#4dff00"/><stop offset="85.7%" stop-color="#1cff00"/><stop offset="92.9%" stop-color="#00ff17"/><stop offset="100%" stop-color="#00ff4c"/></linearGradient>
<linearGradient id="gb77"><stop offset="0%" stop-color="#ff2300"/><stop offset="7.1%" stop-color="#ff3d00"/><stop offset="14.3%" stop-color="#ff5a00"/><stop offset="21.4%" stop-color="#ff7800"/><stop offset="28.6%" stop-color="#ff9900"/><stop offset="35.7%" stop-color="#ffbb00"/><stop offset="42.9%" stop-color="#ffe000"/><stop offset="50%" stop-color="#f7ff00"/><stop offset="57.1%" stop-color="#cfff00"/><stop offset="64.3%" stop-color="#a4ff00"/><stop offset="71.4%" stop-color="#76ff00"/><stop offset="78.6%" stop-color="#47ff00"/><stop offset="85.7%" stop-color="#16ff00"/><stop offset="92.9%" stop-color="#00ff1d"/><stop offset="100%" stop-color="#00ff53"/></linearGradient>
<linearGradient id="gb78"><stop offset="0%" stop-color="#ff2600"/><stop offset="7.1%" stop-color="#ff4000"/><stop offset="14.3%" stop-color="#ff5d00"/><stop offset="21.4%" stop-color="#ff7b00"/><stop offset="28.6%" stop-color="#ff9c00"/><stop offset="35.7%" stop-color="#ffbf00"/><stop offset="42.9%" stop-color="#ffe400"/><stop offset="50%" stop-color="#f3ff00"/><stop offset="57.1%" stop-color="#c9ff00"/><stop offset="64.3%" stop-color="#9eff00"/><stop offset="71.4%" stop-color="#71ff00"/><stop offset="78.6%" stop-color="#41ff00"/><stop offset="85.7%" stop-color="#10ff00"/><stop offset="92.9%" stop-color="#00ff24"/><stop offset="100%" stop-color="#00ff5a"/></linearGradient>
<linearGradient id="gb79"><stop offset="0%" stop-color="#ff2800"/><stop offset="7.1%" stop-color="#ff4300"/><stop offset="14.3%" stop-color="#ff6000"/><stop offset="21.4%" stop-color="#ff7f00"/><stop offset="28.6%" stop-color="#ffa000"/><stop offset="35.7%" stop-color="#ffc300"/><stop offset="42.9%" stop-color="#ffe900"/><stop offset="50%" stop-color="#eeff00"/><stop offset="57.1%" stop-color="#c4ff00"/><stop offset="64.3%" stop-color="#99ff00"/><stop offset="71.4%" stop-color="#6bff00"/><stop offset="78.6%" stop-color="#3bff00"/><stop offset="85.7%" stop-color="#09ff00"/><stop offset="92.9%" stop-color="#00ff2b"/><stop offset="100%" stop-color="#00ff61"/></linearGradient>
<linearGradient id="gc0"><stop offset="0%" stop-color="#44ff00"/><stop offset="7.1%" stop-color="#55ff00"/><stop offset="14.3%" stop-color="#5fff00"/><stop offset="21.4%" stop-color="#62ff00"/><stop offset="28.6%" stop-color="#5eff00"/><stop offset="35.7%" stop-color="#53ff00"/><stop offset="42.9%" stop-color="#40ff00"/><stop offset="50%" stop-color="#27ff00"/><stop offset="57.1%" stop-color="#06ff00"/><stop offset="64.3%" stop-color="#00ff21"/><stop offset="71.4%" stop-color="#00ff50"/><stop offset="78.6%" stop-color="#00ff86"/><stop offset="85.7%" stop-color="#00ffc3"/><stop offset="92.9%" stop-color="#00f7ff"/><stop offset="100%" stop-color="#00acff"/></linearGradient>
<linearGradient id="gc1"><stop offset="0%" stop-color="#50ff00"/><stop offset="7.1%" stop-color="#61ff00"/><stop offset="14.3%" stop-color="#6bff00"/><stop offset="21.4%" stop-color="#6dff00"/><stop offset="28.6%" stop-color="#69ff00"/><stop offset="35.7%" stop-color="#5dff00"/><stop offset="42.9%" stop-color="#4aff00"/><stop offset="50%" stop-color="#31ff00"/><stop offset="57.1%" stop-color="#10ff00"/><stop offset="64.3%" stop-color="#00ff18"/><stop offset="71.4%" stop-color="#00ff47"/><stop offset="78.6%" stop-color="#00ff7d"/><stop offset="85.7%" stop-color="#00ffba"/><stop offset="92.9%" stop-color="#00ffff"/><stop offset="100%" stop-color="#00b4ff"/></linearGradient>
<linearGradient id="gc2"><stop offset="0%" stop-color="#5cff00"/><stop offset="7.1%" stop-color="#6dff00"/><stop offset="14.3%" stop-color="#76ff00"/><stop offset="21.4%" stop-color="#78ff00"/><stop offset="28.6%" stop-color="#73ff00"/><stop offset="35.7%" stop-color="#67ff00"/><stop offset="42.9%" stop-color="#55ff00"/><stop offset="50%" stop-color="#3aff00"/><stop offset="57.1%" stop-color="#19ff00"/><stop offset="64.3%" stop-color="#00ff0f"/><stop offset="71.4%" stop-color="#00ff3e"/><stop offset="78.6%" stop-color="#00ff75"/><stop offset="85.7%" stop-color="#00ffb2"/><stop offset="92.9%" stop-color="#00fff7"/><stop offset="100%" stop-color="#00bcff"/></linearGradient>
<linearGradient id="gc3"><stop offset="0%" stop-color="#68ff00"/><stop offset="7.1%" stop-color="#78ff00"/><stop offset="14.3%" stop-color="#81ff00"/><stop offset="21.4%" stop-color="#83ff00"/><stop offset="28.6%" stop-color="#7eff00"/><stop offset="35.7%" stop-color="#72ff00"/><stop offset="42.9%" stop-color="#5eff00"/><stop offset="50%" stop-color="#44ff00"/><stop offset="57.1%" stop-color="#23ff00"/><stop offset="64.3%" stop-color="#00ff06"/><stop offset="71.4%" stop-color="#00ff36"/><stop offset="78.6%" stop-color="#00ff6c"/><stop offset="85.7%" stop-color="#00ffaa"/><stop offset="92.9%" stop-color="#00ffef"/><stop offset="100%" stop-color="#00c3ff"/></linearGradient>
<linearGradient id="gc4"><stop offset="0%" stop-color="#73ff00"/><stop offset="7.1%" stop-color="#83ff00"/><stop offset="14.3%" stop-color="#8cff00"/><stop offset="21.4%" stop-color="#8dff00"/><stop offset="28.6%" stop-color="#88ff00"/><stop offset="35.7%" stop-color="#7cff00"/><stop offset="42.9%" stop-color="#68ff00"/><stop offset="50%" stop-color="#4dff00"/><stop offset="57.1%" stop-color="#2cff00"/><stop offset="64.3%" stop-color="#03ff00"/><stop offset="71.4%" stop-color="#00ff2d"/><stop offset="78.6%" stop-color="#00ff64"/><stop offset="85.7%" stop-color="#00ffa2"/><stop offset="92.9%" stop-color="#00ffe7"/><stop offset="100%" stop-color="#00cbff"/></linearGradient>
<linearGradient id="gc5"><stop offset="0%" stop-color="#7eff00"/><stop offset="7.1%" stop-color="#8eff00"/><stop offset="14.3%" stop-color="#96ff00"/><stop offset="21.4%" stop-color="#98ff00"/><stop offset="28.6%" stop-color="#92ff00"/><stop offset="35.7%" stop-color="#85ff00"/><stop offset="42.9%" stop-color="#71ff00"/><stop offset="50%" stop-color="#57ff00"/><stop offset="57.1%" stop-color="#35ff00"/><stop offset="64.3%" stop-color="#0bff00"/><stop offset="71.4%" stop-color="#00ff25"/><stop offset="78.6%" stop-color="#00ff5c"/><stop offset="85.7%" stop-color="#00ff9a"/><stop offset="92.9%" stop-color="#00ffe0"/><stop offset="100%" stop-color="#00d2ff"/></linearGradient>
<linearGradient id="gc6"><stop offset="0%" stop-color="#8aff00"/><stop offset="7.1%" stop-color="#99ff00"/><stop offset="14.3%" stop-color="#a1ff00"/><stop offset="21.4%" stop-color="#a2ff00"/><stop offset="28.6%" stop-color="#9cff00"/><stop offset="35.7%" stop-color="#8fff00"/><stop offset="42.9%" stop-color="#7bff00"/><stop offset="50%" stop-color="#60ff00"/><stop offset="57.1%" stop-color="#3dff00"/><stop offset="64.3%" stop-color="#14ff00"/><stop offset="71.4%" stop-color="#00ff1d"/><stop offset="78.6%" stop-color="#00ff54"/><stop offset="85.7%" stop-color="#00ff93"/><stop offset="92.9%" stop-color="#00ffd9"/><stop offset="100%" stop-color="#00d9ff"/></linearGradient>
<linearGradient id="gc7"><stop offset="0%" stop-color="#94ff00"/><stop offset="7.1%" stop-color="#a3ff00"/><stop offset="14.3%" stop-color="#abff00"/><stop offset="21.4%" stop-color="#acff00"/><stop offset="28.6%" stop-color="#a6ff00"/><stop offset="35.7%" stop-color="#98ff00"/><stop offset="42.9%" stop-color="#84ff00"/><stop offset="50%" stop-color="#68ff00"/><stop offset="57.1%" stop-color="#46ff00"/><stop offset="64.3%" stop-color="#1cff00"/><stop offset="71.4%" stop-color="#00ff15"/><stop offset="78.6%" stop-color="#00ff4d"/><stop offset="85.7%" stop-color="#00ff8b"/><stop offset="92.9%" stop-color="#00ffd1"/><stop offset="100%" stop-color="#00dfff"/></linearGradient>
<linearGradient id="gc8"><stop offset="0%" stop-color="#9fff00"/><stop offset="7.1%" stop-color="#aeff00"/><stop offset="14.3%" stop-color="#b5ff00"/><stop offset="21.4%" stop-color="#b6ff00"/><stop offset="28.6%" stop-color="#afff00"/><stop offset="35.7%" stop-color="#a2ff00"/><stop offset="42.9%" stop-color="#8dff00"/><stop offset="50%" stop-color="#71ff00"/><stop offset="57.1%" stop-color="#4eff00"/><stop offset="64.3%" stop-color="#24ff00"/><stop offset="71.4%" stop-color="#00ff0d"/><stop offset="78.6%" stop-color="#00ff45"/><stop offset="85.7%" stop-color="#00ff84"/><stop offset="92.9%" stop-color="#00ffcb"/><stop offset="100%" stop-color="#00e6ff"/></linearGradient>
<linearGradient id="gc9"><stop offset="0%" stop-color="#aaff00"/><stop offset="7.1%" stop-color="#b8ff00"/><stop offset="14.3%" stop-color="#bfff00"/><stop offset="21.4%" stop-color="#bfff00"/><stop offset="28.6%" stop-color="#b8ff00"/><stop offset="35.7%" stop-color="#abff00"/><stop offset="42.9%" stop-color="#95ff00"/><stop offset="50%" stop-color="#79ff00"/><stop offset="57.1%" stop-color="#56ff00"/><stop offset="64.3%" stop-color="#2cff00"/><stop offset="71.4%" stop-color="#00ff05"/><stop offset="78.6%" stop-color="#00ff3e"/><stop offset="85.7%" stop-color="#00ff7d"/><stop offset="92.9%" stop-color="#00ffc4"/><stop offset="100%" stop-color="#00ecff"/></linearGradient>
<linearGradient id="gc10"><stop offset="0%" stop-color="#b4ff00"/><stop offset="7.1%" stop-color="#c2ff00"/><stop offset="14.3%" stop-color="#c9ff00"/><stop offset="21.4%" stop-color="#c9ff00"/><stop offset="28.6%" stop-color="#c2ff00"/><stop offset="35.7%" stop-color="#b3ff00"/><stop offset="42.9%" stop-color="#9eff00"/><stop offset="50%" stop-color="#82ff00"/><stop offset="57.1%" stop-color="#5eff00"/><stop offset="64.3%" stop-color="#34ff00"/><stop offset="71.4%" stop-color="#02ff00"/><stop offset="78.6%" stop-color="#00ff37"/><stop offset="85.7%" stop-color="#00ff77"/><stop offset="92.9%" stop-color="#00ffbe"/><stop offset="100%" stop-color="#00f3ff"/></linearGradient>
<linearGradient id="gc11"><stop offset="0%" stop-color="#beff00"/><stop offset="7.1%" stop-color="#ccff00"/><stop offset="14.3%" stop-color="#d2ff00"/><stop offset="21.4%" stop-color="#d2ff00"/><stop offset="28.6%" stop-color="#caff00"/><stop offset="35.7%" stop-color="#bcff00"/><stop offset="42.9%" stop-color="#a6ff00"/><stop offset="50%" stop-color="#8aff00"/><stop offset="57.1%" stop-color="#66ff00"/><stop offset="64.3%" stop-color="#3bff00"/><stop offset="71.4%" stop-color="#09ff00"/><stop offset="78.6%" stop-color="#00ff30"/><stop offset="85.7%" stop-color="#00ff70"/><stop offset="92.9%" stop-color="#00ffb7"/><stop offset="100%" stop-color="#00f8ff"/></linearGradient>
<linearGradient id="gc12"><stop offset="0%" stop-color="#c8ff00"/><stop offset="7.1%" stop-color="#d5ff00"/><stop offset="14.3%" stop-color="#dcff00"/><stop offset="21.4%" stop-color="#dbff00"/><stop offset="28.6%" stop-color="#d3ff00"/><stop offset="35.7%" stop-color="#c4ff00"/><stop offset="42.9%" stop-color="#aeff00"/><stop offset="50%" stop-color="#91ff00"/><stop offset="57.1%" stop-color="#6dff00"/><stop offset="64.3%" stop-color="#42ff00"/><stop offset="71.4%" stop-color="#10ff00"/><stop offset="78.6%" stop-color="#00ff29"/><stop offset="85.7%" stop-color="#00ff6a"/><stop offset="92.9%" stop-color="#00ffb1"/><stop offset="100%" stop-color="#00feff"/></linearGradient>
<linearGradient id="gc13"><stop offset="0%" stop-color="#d2ff00"/><stop offset="7.1%" stop-color="#dfff00"/><stop offset="14.3%" stop-color="#e5ff00"/><stop offset="21.4%" stop-color="#e4ff00"/><stop offset="28.6%" stop-color="#dcff00"/><stop offset="35.7%" stop-color="#cdff00"/><stop offset="42.9%" stop-color="#b6ff00"/><stop offset="50%" stop-color="#99ff00"/><stop offset="57.1%" stop-color="#75ff00"/><stop offset="64.3%" stop-color="#49ff00"/><stop offset="71.4%" stop-color="#17ff00"/><stop offset="78.6%" stop-color="#00ff23"/><stop offset="85.7%" stop-color="#00ff64"/><stop offset="92.9%" stop-color="#00ffab"/><stop offset="100%" stop-color="#00fffa"/></linearGradient>
<linearGradient id="gc14"><stop offset="0%" stop-color="#dbff00"/><stop offset="7.1%" stop-color="#e8ff00"/><stop offset="14.3%" stop-color="#eeff00"/><stop offset="21.4%" stop-color="#ecff00"/><stop offset="28.6%" stop-color="#e4ff00"/><stop offset="35.7%" stop-color="#d5ff00"/><stop offset="42.9%" stop-color="#beff00"/><stop offset="50%" stop-color="#a1ff00"/><stop offset="57.1%" stop-color="#7cff00"/><stop offset="64.3%" stop-color="#50ff00"/><stop offset="71.4%" stop-color="#1dff00"/><stop offset="78.6%" stop-color="#00ff1d"/><stop offset="85.7%" stop-color="#00ff5e"/><stop offset="92.9%" stop-color="#00ffa6"/><stop offset="100%" stop-color="#00fff5"/></linearGradient>
<linearGradient id="gc15"><stop offset="0%" stop-color="#e4ff00"/><stop offset="7.1%" stop-color="#f1ff00"/><stop offset="14.3%" stop-color="#f6ff00"/><stop offset="21.4%" stop-color="#f5ff00"/><stop offset="28.6%" stop-color="#ecff00"/><stop offset="35.7%" stop-color="#ddff00"/><stop offset="42.9%" stop-color="#c6ff00"/><stop offset="50%" stop-color="#a8ff00"/><stop offset="57.1%" stop-color="#83ff00"/><stop offset="64.3%" stop-color="#57ff00"/><stop offset="71.4%" stop-color="#24ff00"/><stop offset="78.6%" stop-color="#00ff16"/><stop offset="85.7%" stop-color="#00ff58"/><stop offset="92.9%" stop-color="#00ffa0"/><stop offset="100%" stop-color="#00fff0"/></linearGradient>
<linearGradient id="gc16"><stop offset="0%" stop-color="#eeff00"/><stop offset="7.1%" stop-color="#faff00"/><stop offset="14.3%" stop-color="#ffff00"/><stop offset="21.4%" stop-color="#fdff00"/><stop offset="28.6%" stop-color="#f4ff00"/><stop offset="35.7%" stop-color="#e4ff00"/><stop offset="42.9%" stop-color="#cdff00"/><stop offset="50%" stop-color="#afff00"/><stop offset="57.1%" stop-color="#8aff00"/><stop offset="64.3%" stop-color="#5dff00"/><stop offset="71.4%" stop-color="#2aff00"/><stop offset="78.6%" stop-color="#00ff11"/><stop offset="85.7%" stop-color="#00ff52"/><stop offset="92.9%" stop-color="#00ff9b"/><stop offset="100%" stop-color="#00ffea"/></linearGradient>
<linearGradient id="gc17"><stop offset="0%" stop-color="#f6ff00"/><stop offset="7.1%" stop-color="#fffc00"/><stop offset="14.3%" stop-color="#fff700"/><stop offset="21.4%" stop-color="#fff900"/><stop offset="28.6%" stop-color="#fcff00"/><stop offset="35.7%" stop-color="#ecff00"/><stop offset="42.9%" stop-color="#d4ff00"/><stop offset="50%" stop-color="#b6ff00"/><stop offset="57.1%" stop-color="#90ff00"/><stop offset="64.3%" stop-color="#64ff00"/><stop offset="71.4%" stop-color="#30ff00"/><stop offset="78.6%" stop-color="#00ff0b"/><stop offset="85.7%" stop-color="#00ff4d"/><stop offset="92.9%" stop-color="#00ff96"/><stop offset="100%" stop-color="#00ffe6"/></linearGradient>
<linearGradient id="gc18"><stop offset="0%" stop-color="#ffff00"/><stop offset="7.1%" stop-color="#fff300"/><stop offset="14.3%" stop-color="#ffee00"/><stop offset="21.4%" stop-color="#fff100"/><stop offset="28.6%" stop-color="#fffa00"/><stop offset="35.7%" stop-color="#f3ff00"/><stop offset="42.9%" stop-color="#dbff00"/><stop offset="50%" stop-color="#bdff00"/><stop offset="57.1%" stop-color="#97ff00"/><stop offset="64.3%" stop-color="#6aff00"/><stop offset="71.4%" stop-color="#36ff00"/><stop offset="78.6%" stop-color="#00ff05"/><stop offset="85.7%" stop-color="#00ff47"/><stop offset="92.9%" stop-color="#00ff91"/><stop offset="100%" stop-color="#00ffe1"/></linearGradient>
<linearGradient id="gc19"><stop offset="0%" stop-color="#fff600"/><stop offset="7.1%" stop-color="#ffeb00"/><stop offset="14.3%" stop-color="#ffe600"/><stop offset="21.4%" stop-color="#ffe900"/><stop offset="28.6%" stop-color="#fff300"/><stop offset="35.7%" stop-color="#faff00"/><stop offset="42.9%" stop-color="#e2ff00"/><stop offset="50%" stop-color="#c3ff00"/><stop offset="57.1%" stop-color="#9dff00"/><stop offset="64.3%" stop-color="#70ff00"/><stop offset="71.4%" stop-color="#3bff00"/><stop offset="78.6%" stop-color="#00ff00"/><stop offset="85.7%" stop-color="#00ff42"/><stop offset="92.9%" stop-color="#00ff8c"/><stop offset="100%" stop-color="#00ffdd"/></linearGradient>
<linearGradient id="gc20"><stop offset="0%" stop-color="#ffee00"/><stop offset="7.1%" stop-color="#ffe300"/><stop offset="14.3%" stop-color="#ffdf00"/><stop offset="21.4%" stop-color="#ffe200"/><stop offset="28.6%" stop-color="#ffec00"/><stop offset="35.7%" stop-color="#fffd00"/><stop offset="42.9%" stop-color="#e9ff00"/><stop offset="50%" stop-color="#c9ff00"/><stop offset="57.1%" stop-color="#a3ff00"/><stop offset="64.3%" stop-color="#75ff00"/><stop offset="71.4%" stop-color="#41ff00"/><stop offset="78.6%" stop-color="#05ff00"/><stop offset="85.7%" stop-color="#00ff3e"/><stop offset="92.9%" stop-color="#00ff87"/><stop offset="100%" stop-color="#00ffd8"/></linearGradient>
<linearGradient id="gc21"><stop offset="0%" stop-color="#ffe600"/><stop offset="7.1%" stop-color="#ffdb00"/><stop offset="14.3%" stop-color="#ffd700"/><stop offset="21.4%" stop-color="#ffda00"/><stop offset="28.6%" stop-color="#ffe500"/><stop offset="35.7%" stop-color="#fff600"/><stop offset="42.9%" stop-color="#efff00"/><stop offset="50%" stop-color="#d0ff00"/><stop offset="57.1%" stop-color="#a9ff00"/><stop offset="64.3%" stop-color="#7bff00"/><stop offset="71.4%" stop-color="#46ff00"/><stop offset="78.6%" stop-color="#0aff00"/><stop offset="85.7%" stop-color="#00ff39"/><stop offset="92.9%" stop-color="#00ff83"/><stop offset="100%" stop-color="#00ffd4"/></linearGradient>
<linearGradient id="gc22"><stop offset="0%" stop-color="#ffde00"/><stop offset="7.1%" stop-color="#ffd300"/><stop offset="14.3%" stop-color="#ffd000"/><stop offset="21.4%" stop-color="#ffd300"/><stop offset="28.6%" stop-color="#ffde00"/><stop offset="35.7%" stop-color="#fff000"/><stop offset="42.9%" stop-color="#f5ff00"/><stop offset="50%" stop-color="#d5ff00"/><stop offset="57.1%" stop-color="#aeff00"/><stop offset="64.3%" stop-color="#80ff00"/><stop offset="71.4%" stop-color="#4bff00"/><stop offset="78.6%" stop-color="#0fff00"/><stop offset="85.7%" stop-color="#00ff34"/><stop offset="92.9%" stop-color="#00ff7f"/><stop offset="100%" stop-color="#00ffd0"/></linearGradient>
<linearGradient id="gc23"><stop offset="0%" stop-color="#ffd600"/><stop offset="7.1%" stop-color="#ffcc00"/><stop offset="14.3%" stop-color="#ffc800"/><stop offset="21.4%" stop-color="#ffcc00"/><stop offset="28.6%" stop-color="#ffd700"/><stop offset="35.7%" stop-color="#ffe900"/><stop offset="42.9%" stop-color="#fbff00"/><stop offset="50%" stop-color="#dbff00"/><stop offset="57.1%" stop-color="#b4ff00"/><stop offset="64.3%" stop-color="#86ff00"/><stop offset="71.4%" stop-color="#50ff00"/><stop offset="78.6%" stop-color="#13ff00"/><stop offset="85.7%" stop-color="#00ff30"/><stop offset="92.9%" stop-color="#00ff7b"/><stop offset="100%" stop-color="#00ffcd"/></linearGradient>
<linearGradient id="gc24"><stop offset="0%" stop-color="#ffce00"/><stop offset="7.1%" stop-color="#ffc400"/><stop offset="14.3%" stop-color="#ffc100"/><stop offset="21.4%" stop-color="#ffc600"/><stop offset="28.6%" stop-color="#ffd100"/><stop offset="35.7%" stop-color="#ffe300"/><stop offset="42.9%" stop-color="#fffd00"/><stop offset="50%" stop-color="#e1ff00"/><stop offset="57.1%" stop-color="#b9ff00"/><stop offset="64.3%" stop-color="#8aff00"/><stop offset="71.4%" stop-color="#55ff00"/><stop offset="78.6%" stop-color="#18ff00"/><stop offset="85.7%" stop-color="#00ff2c"/><stop offset="92.9%" stop-color="#00ff77"/><stop offset="100%" stop-color="#00ffc9"/></linearGradient>
<linearGradient id="gc25"><stop offset="0%" stop-color="#ffc700"/><stop offset="7.1%" stop-color="#ffbd00"/><stop offset="14.3%" stop-color="#ffbb00"/><stop offset="21.4%" stop-color="#ffbf00"/><stop offset="28.6%" stop-color="#ffcb00"/><stop offset="35.7%" stop-color="#ffdd00"/><stop offset="42.9%" stop-color="#fff700"/><stop offset="50%" stop-color="#e6ff00"/><stop offset="57.1%" stop-color="#beff00"/><stop offset="64.3%" stop-color="#8fff00"/><stop offset="71.4%" stop-color="#59ff00"/><stop offset="78.6%" stop-color="#1cff00"/><stop offset="85.7%" stop-color="#00ff28"/><stop offset="92.9%" stop-color="#00ff73"/><stop offset="100%" stop-color="#00ffc6"/></linearGradient>
<linearGradient id="gc26"><stop offset="0%" stop-color="#ffbf00"/><stop offset="7.1%" stop-color="#ffb600"/><stop offset="14.3%" stop-color="#ffb400"/><stop offset="21.4%" stop-color="#ffb900"/><stop offset="28.6%" stop-color="#ffc500"/><stop offset="35.7%" stop-color="#ffd800"/><stop offset="42.9%" stop-color="#fff200"/><stop offset="50%" stop-color="#ebff00"/><stop offset="57.1%" stop-color="#c3ff00"/><stop offset="64.3%" stop-color="#94ff00"/><stop offset="71.4%" stop-color="#5eff00"/><stop offset="78.6%" stop-color="#20ff00"/><stop offset="85.7%" stop-color="#00ff24"/><stop offset="92.9%" stop-color="#00ff70"/><stop offset="100%" stop-color="#00ffc3"/></linearGradient>
<linearGradient id="gc27"><stop offset="0%" stop-color="#ffb800"/><stop offset="7.1%" stop-color="#ffaf00"/><stop offset="14.3%" stop-color="#ffad00"/><stop offset="21.4%" stop-color="#ffb300"/><stop offset="28.6%" stop-color="#ffbf00"/><stop offset="35.7%" stop-color="#ffd200"/><stop offset="42.9%" stop-color="#ffec00"/><stop offset="50%" stop-color="#f0ff00"/><stop offset="57.1%" stop-color="#c8ff00"/><stop offset="64.3%" stop-color="#98ff00"/><stop offset="71.4%" stop-color="#62ff00"/><stop offset="78.6%" stop-color="#24ff00"/><stop offset="85.7%" stop-color="#00ff21"/><stop offset="92.9%" stop-color="#00ff6d"/><stop offset="100%" stop-color="#00ffc0"/></linearGradient>
<linearGradient id="gc28"><stop offset="0%" stop-color="#ffb200"/><stop offset="7.1%" stop-color="#ffa900"/><stop offset="14.3%" stop-color="#ffa700"/><stop offset="21.4%" stop-color="#ffad00"/><stop offset="28.6%" stop-color="#ffb900"/><stop offset="35.7%" stop-color="#ffcd00"/><stop offset="42.9%" stop-color="#ffe700"/><stop offset="50%" stop-color="#f5ff00"/><stop offset="57.1%" stop-color="#ccff00"/><stop offset="64.3%" stop-color="#9cff00"/><stop offset="71.4%" stop-color="#66ff00"/><stop offset="78.6%" stop-color="#28ff00"/><stop offset="85.7%" stop-color="#00ff1e"/><stop offset="92.9%" stop-color="#00ff6a"/><stop offset="100%" stop-color="#00ffbd"/></linearGradient>
<linearGradient id="gc29"><stop offset="0%" stop-color="#ffab00"/><stop offset="7.1%" stop-color="#ffa200"/><stop offset="14.3%" stop-color="#ffa100"/><stop offset="21.4%" stop-color="#ffa700"/><stop offset="28.6%" stop-color="#ffb300"/><stop offset="35.7%" stop-color="#ffc700"/><stop offset="42.9%" stop-color="#ffe200"/><stop offset="50%" stop-color="#faff00"/><stop offset="57.1%" stop-color="#d1ff00"/><stop offset="64.3%" stop-color="#a1ff00"/><stop offset="71.4%" stop-color="#69ff00"/><stop offset="78.6%" stop-color="#2bff00"/><stop offset="85.7%" stop-color="#00ff1a"/><stop offset="92.9%" stop-color="#00ff67"/><stop offset="100%" stop-color="#00ffba"/></linearGradient>
<linearGradient id="gc30"><stop offset="0%" stop-color="#ffa400"/><stop offset="7.1%" stop-color="#ff9c00"/><stop offset="14.3%" stop-color="#ff9b00"/><stop offset="21.4%" stop-color="#ffa100"/><stop offset="28.6%" stop-color="#ffae00"/><stop offset="35.7%" stop-color="#ffc200"/><stop offset="42.9%" stop-color="#ffde00"/><stop offset="50%" stop-color="#feff00"/><stop offset="57.1%" stop-color="#d5ff00"/><stop offset="64.3%" stop-color="#a4ff00"/><stop offset="71.4%" stop-color="#6dff00"/><stop offset="78.6%" stop-color="#2eff00"/><stop offset="85.7%" stop-color="#00ff17"/><stop offset="92.9%" stop-color="#00ff64"/><stop offset="100%" stop-color="#00ffb8"/></linearGradient>
<linearGradient id="gc31"><stop offset="0%" stop-color="#ff9e00"/><stop offset="7.1%" stop-color="#ff9600"/><stop offset="14.3%" stop-color="#ff9500"/><stop offset="21.4%" stop-color="#ff9c00"/><stop offset="28.6%" stop-color="#ffa900"/><stop offset="35.7%" stop-color="#ffbe00"/><stop offset="42.9%" stop-color="#ffd900"/><stop offset="50%" stop-color="#fffc00"/><stop offset="57.1%" stop-color="#d9ff00"/><stop offset="64.3%" stop-color="#a8ff00"/><stop offset="71.4%" stop-color="#70ff00"/><stop offset="78.6%" stop-color="#31ff00"/><stop offset="85.7%" stop-color="#00ff15"/><stop offset="92.9%" stop-color="#00ff62"/><stop offset="100%" stop-color="#00ffb6"/></linearGradient>
<linearGradient id="gc32"><stop offset="0%" stop-color="#ff9800"/><stop offset="7.1%" stop-color="#ff9000"/><stop offset="14.3%" stop-color="#ff9000"/><stop offset="21.4%" stop-color="#ff9700"/><stop offset="28.6%" stop-color="#ffa400"/><stop offset="35.7%" stop-color="#ffb900"/><stop offset="42.9%" stop-color="#ffd500"/><stop offset="50%" stop-color="#fff800"/><stop offset="57.1%" stop-color="#dcff00"/><stop offset="64.3%" stop-color="#abff00"/><stop offset="71.4%" stop-color="#73ff00"/><stop offset="78.6%" stop-color="#34ff00"/><stop offset="85.7%" stop-color="#00ff12"/><stop offset="92.9%" stop-color="#00ff60"/><stop offset="100%" stop-color="#00ffb4"/></linearGradient>
<linearGradient id="gc33"><stop offset="0%" stop-color="#ff9200"/><stop offset="7.1%" stop-color="#ff8b00"/><stop offset="14.3%" stop-color="#ff8b00"/><stop offset="21.4%" stop-color="#ff9100"/><stop offset="28.6%" stop-color="#ff9f00"/><stop offset="35.7%" stop-color="#ffb400"/><stop offset="42.9%" stop-color="#ffd100"/><stop offset="50%" stop-color="#fff400"/><stop offset="57.1%" stop-color="#e0ff00"/><stop offset="64.3%" stop-color="#afff00"/><stop offset="71.4%" stop-color="#76ff00"/><stop offset="78.6%" stop-color="#37ff00"/><stop offset="85.7%" stop-color="#00ff10"/><stop offset="92.9%" stop-color="#00ff5d"/><stop offset="100%" stop-color="#00ffb2"/></linearGradient>
<linearGradient id="gc34"><stop offset="0%" stop-color="#ff8c00"/><stop offset="7.1%" stop-color="#ff8500"/><stop offset="14.3%" stop-color="#ff8500"/><stop offset="21.4%" stop-color="#ff8d00"/><stop offset="28.6%" stop-color="#ff9b00"/><stop offset="35.7%" stop-color="#ffb000"/><stop offset="42.9%" stop-color="#ffcd00"/><stop offset="50%" stop-color="#fff000"/><stop offset="57.1%" stop-color="#e3ff00"/><stop offset="64.3%" stop-color="#b2ff00"/><stop offset="71.4%" stop-color="#79ff00"/><stop offset="78.6%" stop-color="#39ff00"/><stop offset="85.7%" stop-color="#00ff0e"/><stop offset="92.9%" stop-color="#00ff5c"/><stop offset="100%" stop-color="#00ffb1"/></linearGradient>
<linearGradient id="gc35"><stop offset="0%" stop-color="#ff8700"/><stop offset="7.1%" stop-color="#ff8000"/><stop offset="14.3%" stop-color="#ff8100"/><stop offset="21.4%" stop-color="#ff8800"/><stop offset="28.6%" stop-color="#ff9700"/><stop offset="35.7%" stop-color="#ffac00"/><stop offset="42.9%" stop-color="#ffc900"/><stop offset="50%" stop-color="#ffed00"/><stop offset="57.1%" stop-color="#e7ff00"/><stop offset="64.3%" stop-color="#b5ff00"/><stop offset="71.4%" stop-color="#7cff00"/><stop offset="78.6%" stop-color="#3cff00"/><stop offset="85.7%" stop-color="#00ff0c"/><stop offset="92.9%" stop-color="#00ff5a"/><stop offset="100%" stop-color="#00ffaf"/></linearGradient>
<linearGradient id="gc36"><stop offset="0%" stop-color="#ff8200"/><stop offset="7.1%" stop-color="#ff7b00"/><stop offset="14.3%" stop-color="#ff7c00"/><stop offset="21.4%" stop-color="#ff8400"/><stop offset="28.6%" stop-color="#ff9200"/><stop offset="35.7%" stop-color="#ffa800"/><stop offset="42.9%" stop-color="#ffc500"/><stop offset="50%" stop-color="#ffe900"/><stop offset="57.1%" stop-color="#eaff00"/><stop offset="64.3%" stop-color="#b7ff00"/><stop offset="71.4%" stop-color="#7eff00"/><stop offset="78.6%" stop-color="#3eff00"/><stop offset="85.7%" stop-color="#00ff0a"/><stop offset="92.9%" stop-color="#00ff58"/><stop offset="100%" stop-color="#00ffae"/></linearGradient>
<linearGradient id="gc37"><stop offset="0%" stop-color="#ff7c00"/><stop offset="7.1%" stop-color="#ff7600"/><stop offset="14.3%" stop-color="#ff7700"/><stop offset="21.4%" stop-color="#ff7f00"/><stop offset="28.6%" stop-color="#ff8e00"/><stop offset="35.7%" stop-color="#ffa500"/><stop offset="42.9%" stop-color="#ffc200"/><stop offset="50%" stop-color="#ffe600"/><stop offset="57.1%" stop-color="#ecff00"/><stop offset="64.3%" stop-color="#baff00"/><stop offset="71.4%" stop-color="#80ff00"/><stop offset="78.6%" stop-color="#40ff00"/><stop offset="85.7%" stop-color="#00ff08"/><stop offset="92.9%" stop-color="#00ff57"/><stop offset="100%" stop-color="#00ffad"/></linearGradient>
<linearGradient id="gc38"><stop offset="0%" stop-color="#ff7700"/><stop offset="7.1%" stop-color="#ff7200"/><stop offset="14.3%" stop-color="#ff7300"/><stop offset="21.4%" stop-color="#ff7b00"/><stop offset="28.6%" stop-color="#ff8b00"/><stop offset="35.7%" stop-color="#ffa100"/><stop offset="42.9%" stop-color="#ffbf00"/><stop offset="50%" stop-color="#ffe300"/><stop offset="57.1%" stop-color="#efff00"/><stop offset="64.3%" stop-color="#bcff00"/><stop offset="71.4%" stop-color="#82ff00"/><stop offset="78.6%" stop-color="#41ff00"/><stop offset="85.7%" stop-color="#00ff07"/><stop offset="92.9%" stop-color="#00ff56"/><stop offset="100%" stop-color="#00ffac"/></linearGradient>
<linearGradient id="gc39"><stop offset="0%" stop-color="#ff7300"/><stop offset="7.1%" stop-color="#ff6d00"/><stop offset="14.3%" stop-color="#ff6f00"/><stop offset="21.4%" stop-color="#ff7700"/><stop offset="28.6%" stop-color="#ff8700"/><stop offset="35.7%" stop-color="#ff9e00"/><stop offset="42.9%" stop-color="#ffbc00"/><stop offset="50%" stop-color="#ffe100"/><stop offset="57.1%" stop-color="#f1ff00"/><stop offset="64.3%" stop-color="#beff00"/><stop offset="71.4%" stop-color="#84ff00"/><stop offset="78.6%" stop-color="#43ff00"/><stop offset="85.7%" stop-color="#00ff05"/><stop offset="92.9%" stop-color="#00ff55"/><stop offset="100%" stop-color="#00ffab"/></linearGradient>
<linearGradient id="gc40"><stop offset="0%" stop-color="#ff6e00"/><stop offset="7.1%" stop-color="#ff6900"/><stop offset="14.3%" stop-color="#ff6b00"/><stop offset="21.4%" stop-color="#ff7400"/><stop offset="28.6%" stop-color="#ff8400"/><stop offset="35.7%" stop-color="#ff9b00"/><stop offset="42.9%" stop-color="#ffb900"/><stop offset="50%" stop-color="#ffde00"/><stop offset="57.1%" stop-color="#f4ff00"/><stop offset="64.3%" stop-color="#c0ff00"/><stop offset="71.4%" stop-color="#86ff00"/><stop offset="78.6%" stop-color="#44ff00"/><stop offset="85.7%" stop-color="#00ff04"/><stop offset="92.9%" stop-color="#00ff54"/><stop offset="100%" stop-color="#00ffab"/></linearGradient>
<linearGradient id="gc41"><stop offset="0%" stop-color="#ff6a00"/><stop offset="7.1%" stop-color="#ff6500"/><stop offset="14.3%" stop-color="#ff6700"/><stop offset="21.4%" stop-color="#ff7000"/><stop offset="28.6%" stop-color="#ff8000"/><stop offset="35.7%" stop-color="#ff9800"/><stop offset="42.9%" stop-color="#ffb600"/><stop offset="50%" stop-color="#ffdc00"/><stop offset="57.1%" stop-color="#f6ff00"/><stop offset="64.3%" stop-color="#c2ff00"/><stop offset="71.4%" stop-color="#87ff00"/><stop offset="78.6%" stop-color="#45ff00"/><stop offset="85.7%" stop-color="#00ff04"/><stop offset="92.9%" stop-color="#00ff54"/><stop offset="100%" stop-color="#00ffab"/></linearGradient>
<linearGradient id="gc42"><stop offset="0%" stop-color="#ff6500"/><stop offset="7.1%" stop-color="#ff6100"/><stop offset="14.3%" stop-color="#ff6300"/><stop offset="21.4%" stop-color="#ff6d00"/><stop offset="28.6%" stop-color="#ff7d00"/><stop offset="35.7%" stop-color="#ff9500"/><stop offset="42.9%" stop-color="#ffb400"/><stop offset="50%" stop-color="#ffda00"/><stop offset="57.1%" stop-color="#f7ff00"/><stop offset="64.3%" stop-color="#c3ff00"/><stop offset="71.4%" stop-color="#88ff00"/><stop offset="78.6%" stop-color="#46ff00"/><stop offset="85.7%" stop-color="#00ff03"/><stop offset="92.9%" stop-color="#00ff53"/><stop offset="100%" stop-color="#00ffab"/></linearGradient>
<linearGradient id="gc43"><stop offset="0%" stop-color="#ff6100"/><stop offset="7.1%" stop-color="#ff5d00"/><stop offset="14.3%" stop-color="#ff6000"/><stop offset="21.4%" stop-color="#ff6a00"/><stop offset="28.6%" stop-color="#ff7b00"/><stop offset="35.7%" stop-color="#ff9300"/><stop offset="42.9%" stop-color="#ffb200"/><stop offset="50%" stop-color="#ffd800"/><stop offset="57.1%" stop-color="#f9ff00"/><stop offset="64.3%" stop-color="#c5ff00"/><stop offset="71.4%" stop-color="#8aff00"/><stop offset="78.6%" stop-color="#47ff00"/><stop offset="85.7%" stop-color="#00ff02"/><stop offset="92.9%" stop-color="#00ff53"/><stop offset="100%" stop-color="#00ffab"/></linearGradient>
<linearGradient id="gc44"><stop offset="0%" stop-color="#ff5e00"/><stop offset="7.1%" stop-color="#ff5a00"/><stop offset="14.3%" stop-color="#ff5d00"/><stop offset="21.4%" stop-color="#ff6700"/><stop offset="28.6%" stop-color="#ff7800"/><stop offset="35.7%" stop-color="#ff9000"/><stop offset="42.9%" stop-color="#ffaf00"/><stop offset="50%" stop-color="#ffd600"/><stop offset="57.1%" stop-color="#fbff00"/><stop offset="64.3%" stop-color="#c6ff00"/><stop offset="71.4%" stop-color="#8aff00"/><stop offset="78.6%" stop-color="#48ff00"/><stop offset="85.7%" stop-color="#00ff02"/><stop offset="92.9%" stop-color="#00ff53"/><stop offset="100%" stop-color="#00ffab"/></linearGradient>
<linearGradient id="gc45"><stop offset="0%" stop-color="#ff5a00"/><stop offset="7.1%" stop-color="#ff5600"/><stop offset="14.3%" stop-color="#ff5a00"/><stop offset="21.4%" stop-color="#ff6400"/><stop offset="28.6%" stop-color="#ff7500"/><stop offset="35.7%" stop-color="#ff8e00"/><stop offset="42.9%" stop-color="#ffae00"/><stop offset="50%" stop-color="#ffd400"/><stop offset="57.1%" stop-color="#fcff00"/><stop offset="64.3%" stop-color="#c7ff00"/><stop offset="71.4%" stop-color="#8bff00"/><stop offset="78.6%" stop-color="#48ff00"/><stop offset="85.7%" stop-color="#00ff02"/><stop offset="92.9%" stop-color="#00ff53"/><stop offset="100%" stop-color="#00ffab"/></linearGradient>
<linearGradient id="gc46"><stop offset="0%" stop-color="#ff5700"/><stop offset="7.1%" stop-color="#ff5300"/><stop offset="14.3%" stop-color="#ff5700"/><stop offset="21.4%" stop-color="#ff6100"/><stop offset="28.6%" stop-color="#ff7300"/><stop offset="35.7%" stop-color="#ff8c00"/><stop offset="42.9%" stop-color="#ffac00"/><stop offset="50%" stop-color="#ffd300"/><stop offset="57.1%" stop-color="#fdff00"/><stop offset="64.3%" stop-color="#c8ff00"/><stop offset="71.4%" stop-color="#8cff00"/><stop offset="78.6%" stop-color="#48ff00"/><stop offset="85.7%" stop-color="#00ff02"/><stop offset="92.9%" stop-color="#00ff54"/><stop offset="100%" stop-color="#00ffac"/></linearGradient>
<linearGradient id="gc47"><stop offset="0%" stop-color="#ff5300"/><stop offset="7.1%" stop-color="#ff5000"/><stop offset="14.3%" stop-color="#ff5400"/><stop offset="21.4%" stop-color="#ff5f00"/><stop offset="28.6%" stop-color="#ff7100"/><stop offset="35.7%" stop-color="#ff8a00"/><stop offset="42.9%" stop-color="#ffaa00"/><stop offset="50%" stop-color="#ffd200"/><stop offset="57.1%" stop-color="#feff00"/><stop offset="64.3%" stop-color="#c8ff00"/><stop offset="71.4%" stop-color="#8cff00"/><stop offset="78.6%" stop-color="#48ff00"/><stop offset="85.7%" stop-color="#00ff02"/><stop offset="92.9%" stop-color="#00ff54"/><stop offset="100%" stop-color="#00ffad"/></linearGradient>
<linearGradient id="gc48"><stop offset="0%" stop-color="#ff5000"/><stop offset="7.1%" stop-color="#ff4d00"/><stop offset="14.3%" stop-color="#ff5200"/><stop offset="21.4%" stop-color="#ff5d00"/><stop offset="28.6%" stop-color="#ff6f00"/><stop offset="35.7%" stop-color="#ff8900"/><stop offset="42.9%" stop-color="#ffa900"/><stop offset="50%" stop-color="#ffd100"/><stop offset="57.1%" stop-color="#ffff00"/><stop offset="64.3%" stop-color="#c9ff00"/><stop offset="71.4%" stop-color="#8cff00"/><stop offset="78.6%" stop-color="#48ff00"/><stop offset="85.7%" stop-color="#00ff03"/><stop offset="92.9%" stop-color="#00ff55"/><stop offset="100%" stop-color="#00ffae"/></linearGradient>
<linearGradient id="gc49"><stop offset="0%" stop-color="#ff4d00"/><stop offset="7.1%" stop-color="#ff4b00"/><stop offset="14.3%" stop-color="#ff4f00"/><stop offset="21.4%" stop-color="#ff5b00"/><stop offset="28.6%" stop-color="#ff6e00"/><stop offset="35.7%" stop-color="#ff8700"/><stop offset="42.9%" stop-color="#ffa800"/><stop offset="50%" stop-color="#ffd000"/><stop offset="57.1%" stop-color="#ffff00"/><stop offset="64.3%" stop-color="#c9ff00"/><stop offset="71.4%" stop-color="#8cff00"/><stop offset="78.6%" stop-color="#48ff00"/><stop offset="85.7%" stop-color="#00ff04"/><stop offset="92.9%" stop-color="#00ff56"/><stop offset="100%" stop-color="#00ffaf"/></linearGradient>
<linearGradient id="gc50"><stop offset="0%" stop-color="#ff4b00"/><stop offset="7.1%" stop-color="#ff4800"/><stop offset="14.3%" stop-color="#ff4d00"/><stop offset="21.4%" stop-color="#ff5900"/><stop offset="28.6%" stop-color="#ff6c00"/><stop offset="35.7%" stop-color="#ff8600"/><stop offset="42.9%" stop-color="#ffa700"/><stop offset="50%" stop-color="#ffcf00"/><stop offset="57.1%" stop-color="#ffff00"/><stop offset="64.3%" stop-color="#c9ff00"/><stop offset="71.4%" stop-color="#8cff00"/><stop offset="78.6%" stop-color="#47ff00"/><stop offset="85.7%" stop-color="#00ff04"/><stop offset="92.9%" stop-color="#00ff57"/><stop offset="100%" stop-color="#00ffb1"/></linearGradient>
<linearGradient id="gc51"><stop offset="0%" stop-color="#ff4800"/><stop offset="7.1%" stop-color="#ff4600"/><stop offset="14.3%" stop-color="#ff4b00"/><stop offset="21.4%" stop-color="#ff5800"/><stop offset="28.6%" stop-color="#ff6b00"/><stop offset="35.7%" stop-color="#ff8500"/><stop offset="42.9%" stop-color="#ffa600"/><stop offset="50%" stop-color="#ffcf00"/><stop offset="57.1%" stop-color="#fffe00"/><stop offset="64.3%" stop-color="#c9ff00"/><stop offset="71.4%" stop-color="#8bff00"/><stop offset="78.6%" stop-color="#46ff00"/><stop offset="85.7%" stop-color="#00ff05"/><stop offset="92.9%" stop-color="#00ff58"/><stop offset="100%" stop-color="#00ffb2"/></linearGradient>
<linearGradient id="gc52"><stop offset="0%" stop-color="#ff4600"/><stop offset="7.1%" stop-color="#ff4400"/><stop offset="14.3%" stop-color="#ff4a00"/><stop offset="21.4%" stop-color="#ff5600"/><stop offset="28.6%" stop-color="#ff6a00"/><stop offset="35.7%" stop-color="#ff8400"/><stop offset="42.9%" stop-color="#ffa600"/><stop offset="50%" stop-color="#ffcf00"/><stop offset="57.1%" stop-color="#ffff00"/><stop offset="64.3%" stop-color="#c9ff00"/><stop offset="71.4%" stop-color="#8bff00"/><stop offset="78.6%" stop-color="#45ff00"/><stop offset="85.7%" stop-color="#00ff07"/><stop offset="92.9%" stop-color="#00ff5a"/><stop offset="100%" stop-color="#00ffb4"/></linearGradient>
<linearGradient id="gc53"><stop offset="0%" stop-color="#ff4400"/><stop offset="7.1%" stop-color="#ff4200"/><stop offset="14.3%" stop-color="#ff4800"/><stop offset="21.4%" stop-color="#ff5500"/><stop offset="28.6%" stop-color="#ff6900"/><stop offset="35.7%" stop-color="#ff8400"/><stop offset="42.9%" stop-color="#ffa600"/><stop offset="50%" stop-color="#ffcf00"/><stop offset="57.1%" stop-color="#ffff00"/><stop offset="64.3%" stop-color="#c8ff00"/><stop offset="71.4%" stop-color="#8aff00"/><stop offset="78.6%" stop-color="#44ff00"/><stop offset="85.7%" stop-color="#00ff08"/><stop offset="92.9%" stop-color="#00ff5c"/><stop offset="100%" stop-color="#00ffb6"/></linearGradient>
<linearGradient id="gc54"><stop offset="0%" stop-color="#ff4200"/><stop offset="7.1%" stop-color="#ff4100"/><stop offset="14.3%" stop-color="#ff4700"/><stop offset="21.4%" stop-color="#ff5400"/><stop offset="28.6%" stop-color="#ff6800"/><stop offset="35.7%" stop-color="#ff8300"/><stop offset="42.9%" stop-color="#ffa500"/><stop offset="50%" stop-color="#ffcf00"/><stop offset="57.1%" stop-color="#ffff00"/><stop offset="64.3%" stop-color="#c7ff00"/><stop offset="71.4%" stop-color="#89ff00"/><stop offset="78.6%" stop-color="#43ff00"/><stop offset="85.7%" stop-color="#00ff0a"/><stop offset="92.9%" stop-color="#00ff5e"/><stop offset="100%" stop-color="#00ffb8"/></linearGradient>
<linearGradient id="gc55"><stop offset="0%" stop-color="#ff4000"/><stop offset="7.1%" stop-color="#ff3f00"/><stop offset="14.3%" stop-color="#ff4600"/><stop offset="21.4%" stop-color="#ff5300"/><stop offset="28.6%" stop-color="#ff6700"/><stop offset="35.7%" stop-color="#ff8300"/><stop offset="42.9%" stop-color="#ffa500"/><stop offset="50%" stop-color="#ffcf00"/><stop offset="57.1%" stop-color="#feff00"/><stop offset="64.3%" stop-color="#c6ff00"/><stop offset="71.4%" stop-color="#87ff00"/><stop offset="78.6%" stop-color="#41ff00"/><stop offset="85.7%" stop-color="#00ff0c"/><stop offset="92.9%" stop-color="#00ff60"/><stop offset="100%" stop-color="#00ffbb"/></linearGradient>
<linearGradient id="gc56"><stop offset="0%" stop-color="#ff3f00"/><stop offset="7.1%" stop-color="#ff3e00"/><stop offset="14.3%" stop-color="#ff4500"/><stop offset="21.4%" stop-color="#ff5200"/><stop offset="28.6%" stop-color="#ff6700"/><stop offset="35.7%" stop-color="#ff8300"/><stop offset="42.9%" stop-color="#ffa600"/><stop offset="50%" stop-color="#ffd000"/><stop offset="57.1%" stop-color="#fdff00"/><stop offset="64.3%" stop-color="#c5ff00"/><stop offset="71.4%" stop-color="#86ff00"/><stop offset="78.6%" stop-color="#40ff00"/><stop offset="85.7%" stop-color="#00ff0e"/><stop offset="92.9%" stop-color="#00ff62"/><stop offset="100%" stop-color="#00ffbd"/></linearGradient>
<linearGradient id="gc57"><stop offset="0%" stop-color="#ff3d00"/><stop offset="7.1%" stop-color="#ff3d00"/><stop offset="14.3%" stop-color="#ff4400"/><stop offset="21.4%" stop-color="#ff5200"/><stop offset="28.6%" stop-color="#ff6700"/><stop offset="35.7%" stop-color="#ff8300"/><stop offset="42.9%" stop-color="#ffa600"/><stop offset="50%" stop-color="#ffd000"/><stop offset="57.1%" stop-color="#fcff00"/><stop offset="64.3%" stop-color="#c4ff00"/><stop offset="71.4%" stop-color="#84ff00"/><stop offset="78.6%" stop-color="#3eff00"/><stop offset="85.7%" stop-color="#00ff10"/><stop offset="92.9%" stop-color="#00ff64"/><stop offset="100%" stop-color="#00ffc0"/></linearGradient>
<linearGradient id="gc58"><stop offset="0%" stop-color="#ff3c00"/><stop offset="7.1%" stop-color="#ff3c00"/><stop offset="14.3%" stop-color="#ff4300"/><stop offset="21.4%" stop-color="#ff5200"/><stop offset="28.6%" stop-color="#ff6700"/><stop offset="35.7%" stop-color="#ff8300"/><stop offset="42.9%" stop-color="#ffa700"/><stop offset="50%" stop-color="#ffd100"/><stop offset="57.1%" stop-color="#fbff00"/><stop offset="64.3%" stop-color="#c2ff00"/><stop offset="71.4%" stop-color="#83ff00"/><stop offset="78.6%" stop-color="#3cff00"/><stop offset="85.7%" stop-color="#00ff12"/><stop offset="92.9%" stop-color="#00ff67"/><stop offset="100%" stop-color="#00ffc3"/></linearGradient>
<linearGradient id="gc59"><stop offset="0%" stop-color="#ff3b00"/><stop offset="7.1%" stop-color="#ff3c00"/><stop offset="14.3%" stop-color="#ff4300"/><stop offset="21.4%" stop-color="#ff5200"/><stop offset="28.6%" stop-color="#ff6700"/><stop offset="35.7%" stop-color="#ff8400"/><stop offset="42.9%" stop-color="#ffa800"/><stop offset="50%" stop-color="#ffd200"/><stop offset="57.1%" stop-color="#faff00"/><stop offset="64.3%" stop-color="#c1ff00"/><stop offset="71.4%" stop-color="#81ff00"/><stop offset="78.6%" stop-color="#3aff00"/><stop offset="85.7%" stop-color="#00ff15"/><stop offset="92.9%" stop-color="#00ff6a"/><stop offset="100%" stop-color="#00ffc6"/></linearGradient>
<linearGradient id="gc60"><stop offset="0%" stop-color="#ff3a00"/><stop offset="7.1%" stop-color="#ff3b00"/><stop offset="14.3%" stop-color="#ff4300"/><stop offset="21.4%" stop-color="#ff5200"/><stop offset="28.6%" stop-color="#ff6800"/><stop offset="35.7%" stop-color="#ff8400"/><stop offset="42.9%" stop-color="#ffa900"/><stop offset="50%" stop-color="#ffd400"/><stop offset="57.1%" stop-color="#f8ff00"/><stop offset="64.3%" stop-color="#bfff00"/><stop offset="71.4%" stop-color="#7fff00"/><stop offset="78.6%" stop-color="#37ff00"/><stop offset="85.7%" stop-color="#00ff17"/><stop offset="92.9%" stop-color="#00ff6d"/><stop offset="100%" stop-color="#00ffca"/></linearGradient>
<linearGradient id="gc61"><stop offset="0%" stop-color="#ff3a00"/><stop offset="7.1%" stop-color="#ff3b00"/><stop offset="14.3%" stop-color="#ff4300"/><stop offset="21.4%" stop-color="#ff5200"/><stop offset="28.6%" stop-color="#ff6800"/><stop offset="35.7%" stop-color="#ff8500"/><stop offset="42.9%" stop-color="#ffaa00"/><stop offset="50%" stop-color="#ffd500"/><stop offset="57.1%" stop-color="#f6ff00"/><stop offset="64.3%" stop-color="#bdff00"/><stop offset="71.4%" stop-color="#7cff00"/><stop offset="78.6%" stop-color="#34ff00"/><stop offset="85.7%" stop-color="#00ff1a"/><stop offset="92.9%" stop-color="#00ff70"/><stop offset="100%" stop-color="#00ffcd"/></linearGradient>
<linearGradient id="gc62"><stop offset="0%" stop-color="#ff3900"/><stop offset="7.1%" stop-color="#ff3b00"/><stop offset="14.3%" stop-color="#ff4300"/><stop offset="21.4%" stop-color="#ff5200"/><stop offset="28.6%" stop-color="#ff6900"/><stop offset="35.7%" stop-color="#ff8600"/><stop offset="42.9%" stop-color="#ffab00"/><stop offset="50%" stop-color="#ffd700"/><stop offset="57.1%" stop-color="#f4ff00"/><stop offset="64.3%" stop-color="#bbff00"/><stop offset="71.4%" stop-color="#7aff00"/><stop offset="78.6%" stop-color="#32ff00"/><stop offset="85.7%" stop-color="#00ff1e"/><stop offset="92.9%" stop-color="#00ff74"/><stop offset="100%" stop-color="#00ffd1"/></linearGradient>
<linearGradient id="gc63"><stop offset="0%" stop-color="#ff3900"/><stop offset="7.1%" stop-color="#ff3b00"/><stop offset="14.3%" stop-color="#ff4300"/><stop offset="21.4%" stop-color="#ff5300"/><stop offset="28.6%" stop-color="#ff6a00"/><stop offset="35.7%" stop-color="#ff8800"/><stop offset="42.9%" stop-color="#ffad00"/><stop offset="50%" stop-color="#ffd900"/><stop offset="57.1%" stop-color="#f2ff00"/><stop offset="64.3%" stop-color="#b8ff00"/><stop offset="71.4%" stop-color="#77ff00"/><stop offset="78.6%" stop-color="#2fff00"/><stop offset="85.7%" stop-color="#00ff21"/><stop offset="92.9%" stop-color="#00ff77"/><stop offset="100%" stop-color="#00ffd5"/></linearGradient>
<linearGradient id="gc64"><stop offset="0%" stop-color="#ff3900"/><stop offset="7.1%" stop-color="#ff3b00"/><stop offset="14.3%" stop-color="#ff4400"/><stop offset="21.4%" stop-color="#ff5400"/><stop offset="28.6%" stop-color="#ff6b00"/><stop offset="35.7%" stop-color="#ff8900"/><stop offset="42.9%" stop-color="#ffae00"/><stop offset="50%" stop-color="#ffdb00"/><stop offset="57.1%" stop-color="#f0ff00"/><stop offset="64.3%" stop-color="#b5ff00"/><stop offset="71.4%" stop-color="#74ff00"/><stop offset="78.6%" stop-color="#2bff00"/><stop offset="85.7%" stop-color="#00ff24"/><stop offset="92.9%" stop-color="#00ff7b"/><stop offset="100%" stop-color="#00ffd9"/></linearGradient>
<linearGradient id="gc65"><stop offset="0%" stop-color="#ff3900"/><stop offset="7.1%" stop-color="#ff3c00"/><stop offset="14.3%" stop-color="#ff4500"/><stop offset="21.4%" stop-color="#ff5500"/><stop offset="28.6%" stop-color="#ff6c00"/><stop offset="35.7%" stop-color="#ff8b00"/><stop offset="42.9%" stop-color="#ffb000"/><stop offset="50%" stop-color="#ffdd00"/><stop offset="57.1%" stop-color="#edff00"/><stop offset="64.3%" stop-color="#b3ff00"/><stop offset="71.4%" stop-color="#71ff00"/><stop offset="78.6%" stop-color="#28ff00"/><stop offset="85.7%" stop-color="#00ff28"/><stop offset="92.9%" stop-color="#00ff7f"/><stop offset="100%" stop-color="#00ffdd"/></linearGradient>
<linearGradient id="gc66"><stop offset="0%" stop-color="#ff3a00"/><stop offset="7.1%" stop-color="#ff3c00"/><stop offset="14.3%" stop-color="#ff4600"/><stop offset="21.4%" stop-color="#ff5600"/><stop offset="28.6%" stop-color="#ff6e00"/><stop offset="35.7%" stop-color="#ff8d00"/><stop offset="42.9%" stop-color="#ffb200"/><stop offset="50%" stop-color="#ffdf00"/><stop offset="57.1%" stop-color="#ebff00"/><stop offset="64.3%" stop-color="#b0ff00"/><stop offset="71.4%" stop-color="#6eff00"/><stop offset="78.6%" stop-color="#24ff00"/><stop offset="85.7%" stop-color="#00ff2c"/><stop offset="92.9%" stop-color="#00ff83"/><stop offset="100%" stop-color="#00ffe2"/></linearGradient>
<linearGradient id="gc67"><stop offset="0%" stop-color="#ff3a00"/><stop offset="7.1%" stop-color="#ff3d00"/><stop offset="14.3%" stop-color="#ff4700"/><stop offset="21.4%" stop-color="#ff5800"/><stop offset="28.6%" stop-color="#ff7000"/><stop offset="35.7%" stop-color="#ff8f00"/><stop offset="42.9%" stop-color="#ffb500"/><stop offset="50%" stop-color="#ffe200"/><stop offset="57.1%" stop-color="#e8ff00"/><stop offset="64.3%" stop-color="#acff00"/><stop offset="71.4%" stop-color="#6aff00"/><stop offset="78.6%" stop-color="#21ff00"/><stop offset="85.7%" stop-color="#00ff30"/><stop offset="92.9%" stop-color="#00ff88"/><stop offset="100%" stop-color="#00ffe6"/></linearGradient>
<linearGradient id="gc68"><stop offset="0%" stop-color="#ff3b00"/><stop offset="7.1%" stop-color="#ff3e00"/><stop offset="14.3%" stop-color="#ff4800"/><stop offset="21.4%" stop-color="#ff5900"/><stop offset="28.6%" stop-color="#ff7200"/><stop offset="35.7%" stop-color="#ff9100"/><stop offset="42.9%" stop-color="#ffb700"/><stop offset="50%" stop-color="#ffe500"/><stop offset="57.1%" stop-color="#e5ff00"/><stop offset="64.3%" stop-color="#a9ff00"/><stop offset="71.4%" stop-color="#66ff00"/><stop offset="78.6%" stop-color="#1dff00"/><stop offset="85.7%" stop-color="#00ff34"/><stop offset="92.9%" stop-color="#00ff8c"/><stop offset="100%" stop-color="#00ffeb"/></linearGradient>
<linearGradient id="gc69"><stop offset="0%" stop-color="#ff3c00"/><stop offset="7.1%" stop-color="#ff3f00"/><stop offset="14.3%" stop-color="#ff4a00"/><stop offset="21.4%" stop-color="#ff5b00"/><stop offset="28.6%" stop-color="#ff7400"/><stop offset="35.7%" stop-color="#ff9300"/><stop offset="42.9%" stop-color="#ffba00"/><stop offset="50%" stop-color="#ffe800"/><stop offset="57.1%" stop-color="#e1ff00"/><stop offset="64.3%" stop-color="#a5ff00"/><stop offset="71.4%" stop-color="#62ff00"/><stop offset="78.6%" stop-color="#18ff00"/><stop offset="85.7%" stop-color="#00ff39"/><stop offset="92.9%" stop-color="#00ff91"/><stop offset="100%" stop-color="#00fff0"/></linearGradient>
<linearGradient id="gc70"><stop offset="0%" stop-color="#ff3d00"/><stop offset="7.1%" stop-color="#ff4100"/><stop offset="14.3%" stop-color="#ff4b00"/><stop offset="21.4%" stop-color="#ff5d00"/><stop offset="28.6%" stop-color="#ff7600"/><stop offset="35.7%" stop-color="#ff9600"/><stop offset="42.9%" stop-color="#ffbd00"/><stop offset="50%" stop-color="#ffeb00"/><stop offset="57.1%" stop-color="#deff00"/><stop offset="64.3%" stop-color="#a2ff00"/><stop offset="71.4%" stop-color="#5eff00"/><stop offset="78.6%" stop-color="#14ff00"/><stop offset="85.7%" stop-color="#00ff3d"/><stop offset="92.9%" stop-color="#00ff96"/><stop offset="100%" stop-color="#00fff6"/></linearGradient>
<linearGradient id="gc71"><stop offset="0%" stop-color="#ff3f00"/><stop offset="7.1%" stop-color="#ff4200"/><stop offset="14.3%" stop-color="#ff4d00"/><stop offset="21.4%" stop-color="#ff5f00"/><stop offset="28.6%" stop-color="#ff7900"/><stop offset="35.7%" stop-color="#ff9900"/><stop offset="42.9%" stop-color="#ffc000"/><stop offset="50%" stop-color="#ffee00"/><stop offset="57.1%" stop-color="#daff00"/><stop offset="64.3%" stop-color="#9eff00"/><stop offset="71.4%" stop-color="#5aff00"/><stop offset="78.6%" stop-color="#0fff00"/><stop offset="85.7%" stop-color="#00ff42"/><stop offset="92.9%" stop-color="#00ff9b"/><stop offset="100%" stop-color="#00fffb"/></linearGradient>
<linearGradient id="gc72"><stop offset="0%" stop-color="#ff4000"/><stop offset="7.1%" stop-color="#ff4400"/><stop offset="14.3%" stop-color="#ff4f00"/><stop offset="21.4%" stop-color="#ff6200"/><stop offset="28.6%" stop-color="#ff7b00"/><stop offset="35.7%" stop-color="#ff9c00"/><stop offset="42.9%" stop-color="#ffc300"/><stop offset="50%" stop-color="#fff200"/><stop offset="57.1%" stop-color="#d6ff00"/><stop offset="64.3%" stop-color="#9aff00"/><stop offset="71.4%" stop-color="#56ff00"/><stop offset="78.6%" stop-color="#0bff00"/><stop offset="85.7%" stop-color="#00ff47"/><stop offset="92.9%" stop-color="#00ffa0"/><stop offset="100%" stop-color="#00fdff"/></linearGradient>
<linearGradient id="gc73"><stop offset="0%" stop-color="#ff4200"/><stop offset="7.1%" stop-color="#ff4600"/><stop offset="14.3%" stop-color="#ff5200"/><stop offset="21.4%" stop-color="#ff6400"/><stop offset="28.6%" stop-color="#ff7e00"/><stop offset="35.7%" stop-color="#ff9f00"/><stop offset="42.9%" stop-color="#ffc700"/><stop offset="50%" stop-color="#fff600"/><stop offset="57.1%" stop-color="#d2ff00"/><stop offset="64.3%" stop-color="#95ff00"/><stop offset="71.4%" stop-color="#51ff00"/><stop offset="78.6%" stop-color="#06ff00"/><stop offset="85.7%" stop-color="#00ff4d"/><stop offset="92.9%" stop-color="#00ffa6"/><stop offset="100%" stop-color="#00f8ff"/></linearGradient>
<linearGradient id="gc74"><stop offset="0%" stop-color="#ff4400"/><stop offset="7.1%" stop-color="#ff4800"/><stop offset="14.3%" stop-color="#ff5400"/><stop offset="21.4%" stop-color="#ff6700"/><stop offset="28.6%" stop-color="#ff8100"/><stop offset="35.7%" stop-color="#ffa200"/><stop offset="42.9%" stop-color="#ffca00"/><stop offset="50%" stop-color="#fffa00"/><stop offset="57.1%" stop-color="#ceff00"/><stop offset="64.3%" stop-color="#91ff00"/><stop offset="71.4%" stop-color="#4cff00"/><stop offset="78.6%" stop-color="#01ff00"/><stop offset="85.7%" stop-color="#00ff52"/><stop offset="92.9%" stop-color="#00ffac"/><stop offset="100%" stop-color="#00f2ff"/></linearGradient>
<linearGradient id="gc75"><stop offset="0%" stop-color="#ff4600"/><stop offset="7.1%" stop-color="#ff4b00"/><stop offset="14.3%" stop-color="#ff5700"/><stop offset="21.4%" stop-color="#ff6a00"/><stop offset="28.6%" stop-color="#ff8400"/><stop offset="35.7%" stop-color="#ffa600"/><stop offset="42.9%" stop-color="#ffce00"/><stop offset="50%" stop-color="#fffe00"/><stop offset="57.1%" stop-color="#caff00"/><stop offset="64.3%" stop-color="#8cff00"/><stop offset="71.4%" stop-color="#47ff00"/><stop offset="78.6%" stop-color="#00ff05"/><stop offset="85.7%" stop-color="#00ff58"/><stop offset="92.9%" stop-color="#00ffb2"/><stop offset="100%" stop-color="#00ebff"/></linearGradient>
<linearGradient id="gc76"><stop offset="0%" stop-color="#ff4800"/><stop offset="7.1%" stop-color="#ff4d00"/><stop offset="14.3%" stop-color="#ff5a00"/><stop offset="21.4%" stop-color="#ff6d00"/><stop offset="28.6%" stop-color="#ff8800"/><stop offset="35.7%" stop-color="#ffaa00"/><stop offset="42.9%" stop-color="#ffd200"/><stop offset="50%" stop-color="#fcff00"/><stop offset="57.1%" stop-color="#c5ff00"/><stop offset="64.3%" stop-color="#87ff00"/><stop offset="71.4%" stop-color="#42ff00"/><stop offset="78.6%" stop-color="#00ff0a"/><stop offset="85.7%" stop-color="#00ff5d"/><stop offset="92.9%" stop-color="#00ffb8"/><stop offset="100%" stop-color="#00e5ff"/></linearGradient>
<linearGradient id="gc77"><stop offset="0%" stop-color="#ff4a00"/><stop offset="7.1%" stop-color="#ff5000"/><stop offset="14.3%" stop-color="#ff5d00"/><stop offset="21.4%" stop-color="#ff7100"/><stop offset="28.6%" stop-color="#ff8b00"/><stop offset="35.7%" stop-color="#ffad00"/><stop offset="42.9%" stop-color="#ffd600"/><stop offset="50%" stop-color="#f7ff00"/><stop offset="57.1%" stop-color="#c0ff00"/><stop offset="64.3%" stop-color="#82ff00"/><stop offset="71.4%" stop-color="#3dff00"/><stop offset="78.6%" stop-color="#00ff10"/><stop offset="85.7%" stop-color="#00ff63"/><stop offset="92.9%" stop-color="#00ffbe"/><stop offset="100%" stop-color="#00deff"/></linearGradient>
<linearGradient id="gc78"><stop offset="0%" stop-color="#ff4d00"/><stop offset="7.1%" stop-color="#ff5300"/><stop offset="14.3%" stop-color="#ff6000"/><stop offset="21.4%" stop-color="#ff7400"/><stop offset="28.6%" stop-color="#ff8f00"/><stop offset="35.7%" stop-color="#ffb200"/><stop offset="42.9%" stop-color="#ffdb00"/><stop offset="50%" stop-color="#f3ff00"/><stop offset="57.1%" stop-color="#bbff00"/><stop offset="64.3%" stop-color="#7dff00"/><stop offset="71.4%" stop-color="#37ff00"/><stop offset="78.6%" stop-color="#00ff16"/><stop offset="85.7%" stop-color="#00ff6a"/><stop offset="92.9%" stop-color="#00ffc4"/><stop offset="100%" stop-color="#00d8ff"/></linearGradient>
<linearGradient id="gc79"><stop offset="0%" stop-color="#ff5000"/><stop offset="7.1%" stop-color="#ff5600"/><stop offset="14.3%" stop-color="#ff6300"/><stop offset="21.4%" stop-color="#ff7800"/><stop offset="28.6%" stop-color="#ff9300"/><stop offset="35.7%" stop-color="#ffb600"/><stop offset="42.9%" stop-color="#ffe000"/><stop offset="50%" stop-color="#eeff00"/><stop offset="57.1%" stop-color="#b6ff00"/><stop offset="64.3%" stop-color="#77ff00"/><stop offset="71.4%" stop-color="#31ff00"/><stop offset="78.6%" stop-color="#00ff1c"/><stop offset="85.7%" stop-color="#00ff70"/><stop offset="92.9%" stop-color="#00ffcb"/><stop offset="100%" stop-color="#00d1ff"/></linearGradient></defs>
<rect width="550" height="736" fill="#fff"/>
<g shape-rendering="crispEdges"><rect x="72.5" y="19.5" width="199" height="3.1" fill="url(#ga0)"/><rect x="72.5" y="22" width="199" height="3.1" fill="url(#ga1)"/><rect x="72.5" y="24.5" width="199" height="3.1" fill="url(#ga2)"/><rect x="72.5" y="27" width="199" height="3.1" fill="url(#ga3)"/><rect x="72.5" y="29.4" width="199" height="3.1" fill="url(#ga4)"/><rect x="72.5" y="31.9" width="199" height="3.1" fill="url(#ga5)"/><rect x="72.5" y="34.4" width="199" height="3.1" fill="url(#ga6)"/><rect x="72.5" y="36.9" width="199" height="3.1" fill="url(#ga7)"/><rect x="72.5" y="39.4" width="199" height="3.1" fill="url(#ga8)"/><rect x="72.5" y="41.9" width="199" height="3.1" fill="url(#ga9)"/><rect x="72.5" y="44.4" width="199" height="3.1" fill="url(#ga10)"/><rect x="72.5" y="46.9" width="199" height="3.1" fill="url(#ga11)"/><rect x="72.5" y="49.4" width="199" height="3.1" fill="url(#ga12)"/><rect x="72.5" y="51.8" width="199" height="3.1" fill="url(#ga13)"/><rect x="72.5" y="54.3" width="199" height="3.1" fill="url(#ga14)"/><rect x="72.5" y="56.8" width="199" height="3.1" fill="url(#ga15)"/><rect x="72.5" y="59.3" width="199" height="3.1" fill="url(#ga16)"/><rect x="72.5" y="61.8" width="199" height="3.1" fill="url(#ga17)"/><rect x="72.5" y="64.3" width="199" height="3.1" fill="url(#ga18)"/><rect x="72.5" y="66.8" width="199" height="3.1" fill="url(#ga19)"/><rect x="72.5" y="69.2" width="199" height="3.1" fill="url(#ga20)"/><rect x="72.5" y="71.7" width="199" height="3.1" fill="url(#ga21)"/><rect x="72.5" y="74.2" width="199" height="3.1" fill="url(#ga22)"/><rect x="72.5" y="76.7" width="199" height="3.1" fill="url(#ga23)"/><rect x="72.5" y="79.2" width="199" height="3.1" fill="url(#ga24)"/><rect x="72.5" y="81.7" width="199" height="3.1" fill="url(#ga25)"/><rect x="72.5" y="84.2" width="199" height="3.1" fill="url(#ga26)"/><rect x="72.5" y="86.7" width="199" height="3.1" fill="url(#ga27)"/><rect x="72.5" y="89.2" width="199" height="3.1" fill="url(#ga28)"/><rect x="72.5" y="91.6" width="199" height="3.1" fill="url(#ga29)"/><rect x="72.5" y="94.1" width="199" height="3.1" fill="url(#ga30)"/><rect x="72.5" y="96.6" width="199" height="3.1" fill="url(#ga31)"/><rect x="72.5" y="99.1" width="199" height="3.1" fill="url(#ga32)"/><rect x="72.5" y="101.6" width="199" height="3.1" fill="url(#ga33)"/><rect x="72.5" y="104.1" width="199" height="3.1" fill="url(#ga34)"/><rect x="72.5" y="106.6" width="199" height="3.1" fill="url(#ga35)"/><rect x="72.5" y="109" width="199" height="3.1" fill="url(#ga36)"/><rect x="72.5" y="111.5" width="199" height="3.1" fill="url(#ga37)"/><rect x="72.5" y="114" width="199" height="3.1" fill="url(#ga38)"/><rect x="72.5" y="116.5" width="199" height="3.1" fill="url(#ga39)"/><rect x="72.5" y="119" width="199" height="3.1" fill="url(#ga40)"/><rect x="72.5" y="121.5" width="199" height="3.1" fill="url(#ga41)"/><rect x="72.5" y="124" width="199" height="3.1" fill="url(#ga42)"/><rect x="72.5" y="126.5" width="199" height="3.1" fill="url(#ga43)"/><rect x="72.5" y="128.9" width="199" height="3.1" fill="url(#ga44)"/><rect x="72.5" y="131.4" width="199" height="3.1" fill="url(#ga45)"/><rect x="72.5" y="133.9" width="199" height="3.1" fill="url(#ga46)"/><rect x="72.5" y="136.4" width="199" height="3.1" fill="url(#ga47)"/><rect x="72.5" y="138.9" width="199" height="3.1" fill="url(#ga48)"/><rect x="72.5" y="141.4" width="199" height="3.1" fill="url(#ga49)"/><rect x="72.5" y="143.9" width="199" height="3.1" fill="url(#ga50)"/><rect x="72.5" y="146.4" width="199" height="3.1" fill="url(#ga51)"/><rect x="72.5" y="148.8" width="199" height="3.1" fill="url(#ga52)"/><rect x="72.5" y="151.3" width="199" height="3.1" fill="url(#ga53)"/><rect x="72.5" y="153.8" width="199" height="3.1" fill="url(#ga54)"/><rect x="72.5" y="156.3" width="199" height="3.1" fill="url(#ga55)"/><rect x="72.5" y="158.8" width="199" height="3.1" fill="url(#ga56)"/><rect x="72.5" y="161.3" width="199" height="3.1" fill="url(#ga57)"/><rect x="72.5" y="163.8" width="199" height="3.1" fill="url(#ga58)"/><rect x="72.5" y="166.3" width="199" height="3.1" fill="url(#ga59)"/><rect x="72.5" y="168.8" width="199" height="3.1" fill="url(#ga60)"/><rect x="72.5" y="171.2" width="199" height="3.1" fill="url(#ga61)"/><rect x="72.5" y="173.7" width="199" height="3.1" fill="url(#ga62)"/><rect x="72.5" y="176.2" width="199" height="3.1" fill="url(#ga63)"/><rect x="72.5" y="178.7" width="199" height="3.1" fill="url(#ga64)"/><rect x="72.5" y="181.2" width="199" height="3.1" fill="url(#ga65)"/><rect x="72.5" y="183.7" width="199" height="3.1" fill="url(#ga66)"/><rect x="72.5" y="186.2" width="199" height="3.1" fill="url(#ga67)"/><rect x="72.5" y="188.7" width="199" height="3.1" fill="url(#ga68)"/><rect x="72.5" y="191.1" width="199" height="3.1" fill="url(#ga69)"/><rect x="72.5" y="193.6" width="199" height="3.1" fill="url(#ga70)"/><rect x="72.5" y="196.1" width="199" height="3.1" fill="url(#ga71)"/><rect x="72.5" y="198.6" width="199" height="3.1" fill="url(#ga72)"/><rect x="72.5" y="201.1" width="199" height="3.1" fill="url(#ga73)"/><rect x="72.5" y="203.6" width="199" height="3.1" fill="url(#ga74)"/><rect x="72.5" y="206.1" width="199" height="3.1" fill="url(#ga75)"/><rect x="72.5" y="208.6" width="199" height="3.1" fill="url(#ga76)"/><rect x="72.5" y="211" width="199" height="3.1" fill="url(#ga77)"/><rect x="72.5" y="213.5" width="199" height="3.1" fill="url(#ga78)"/><rect x="72.5" y="216" width="199" height="2.5" fill="url(#ga79)"/></g>
<path d="M244.7,19.5L247.1,20.8L249.5,22L251.9,23.3L254.3,24.5L256.6,25.8L259,27L261.5,28.4L264,29.8L266.5,31.2L269,32.5L271.5,33.9M193,19.5L195.6,20.8L198.2,22L200.8,23.3L203.3,24.5L205.9,25.8L208.4,27L210.9,28.3L213.4,29.5L215.8,30.8L218.3,32L220.7,33.3L223.1,34.5L225.5,35.8L227.9,37L230.2,38.3L232.7,39.6L235.2,41L237.7,42.3L240.2,43.7L242.7,45.1L245.2,46.5L247.7,47.9L250.2,49.3L252.7,50.7L255,52L257.2,53.3L259.3,54.5L261.5,55.8L264,57.3L266.5,58.8L269,60.3L271.5,61.8M130.2,19.5L133.2,20.8L136.2,22L138.8,23.1L141.3,24.2L143.8,25.3L146.3,26.4L148.8,27.5L151.3,28.6L153.9,29.7L156.4,30.8L158.9,32L161.7,33.3L164.4,34.5L167,35.8L169.7,37L172.3,38.3L174.9,39.5L177.5,40.8L180.1,42L182.6,43.3L185.1,44.5L187.6,45.8L190.1,47L192.5,48.3L194.9,49.5L197.3,50.8L199.7,52L202.1,53.3L204.4,54.5L206.8,55.8L209.1,57L211.4,58.3L213.9,59.7L216.4,61.1L218.9,62.5L221.4,63.9L223.9,65.4L226.4,66.8L228.9,68.3L231.1,69.6L233.2,70.8L235.3,72.1L237.7,73.5L240.2,75L242.7,76.6L245.2,78.1L247.5,79.6L249.5,80.8L251.5,82.1L254,83.7L256.5,85.3L259,87L261.1,88.3L262.9,89.6L265.2,91.2L267.7,92.9L270.2,94.6M72.5,29.1L75,30L77.5,30.9L80.7,32L83.8,33.1L86.3,34.1L88.8,35L91.3,35.9L94.1,37L97.3,38.3L100,39.3L102.5,40.3L105,41.3L107.5,42.3L110,43.4L112.8,44.5L115.8,45.8L118.8,47L121.3,48.1L123.8,49.2L126.3,50.3L128.8,51.4L131.3,52.5L133.8,53.7L136.3,54.8L138.8,56L141.3,57.1L143.8,58.3L146.4,59.6L149,60.8L151.6,62.1L154.1,63.3L156.6,64.6L159.1,65.8L161.5,67.1L164,68.3L166.4,69.6L168.9,70.9L171.4,72.2L173.9,73.5L176.4,74.9L178.9,76.3L181.4,77.7L183.9,79.1L186.4,80.5L188.9,81.9L191.4,83.3L193.5,84.6L195.6,85.8L197.7,87.1L200.2,88.6L202.7,90.1L205.2,91.6L207.7,93.2L209.9,94.6L211.8,95.8L213.9,97.2L216.4,98.8L218.9,100.5L221.3,102.1L223.2,103.4L225.2,104.7L227.7,106.5L230.2,108.2L232.2,109.6L234,110.9L236.5,112.7L239,114.5L240.7,115.9L242.7,117.4L245.2,119.3L247.3,120.9L249,122.2L251.5,124.2L253.6,125.9L255.2,127.2L257.7,129.3L259.6,130.9L261.5,132.5L264,134.6L265.4,135.9L267.7,138L269.6,139.7L271.5,141.4M72.5,69.1L75,70.1L77.5,71L80.1,72.1L83.2,73.3L86.3,74.6L88.8,75.6L91.3,76.7L93.8,77.7L96.3,78.8L98.8,79.9L101.3,81.1L103.8,82.2L106.3,83.3L109,84.6L111.6,85.8L114.2,87.1L116.8,88.3L119.3,89.6L121.8,90.8L124.2,92.1L126.7,93.3L129.1,94.6L131.4,95.8L133.8,97.1L136.3,98.5L138.8,99.9L141.3,101.3L143.8,102.8L146.3,104.2L148.8,105.7L151.2,107.1L153.3,108.4L155.3,109.6L157.6,111L160.1,112.6L162.6,114.3L165.1,115.9L167,117.1L168.9,118.4L171.4,120.1L173.9,121.9L176,123.4L177.7,124.6L180.1,126.4L182.6,128.3L184.4,129.6L186.4,131.2L188.9,133.1L190.8,134.6L192.7,136.2L195.2,138.3L196.8,139.7L198.9,141.5L201.1,143.4L202.7,144.8L205.2,147.1L206.5,148.4L208.9,150.7L210.4,152.2L212.7,154.5L214,155.9L216.4,158.4L217.7,159.9L219.7,162.2L221.4,164.2L222.9,165.9L224.9,168.4L226.4,170.4L227.8,172.2L229.6,174.7L231.4,177.2L232.7,179.2L234,181.2L235.3,183.5L236.8,186L238.1,188.5L239.4,191L240.6,193.5L241.6,196L242.7,198.7L243.9,202.2L244.7,204.7L245.3,207.2L246.1,211L246.5,213.5L246.9,217.2M72.5,142.3L75,144L77.5,145.7L79.6,147.2L81.3,148.4L83.8,150.4L85.9,152.2L87.5,153.6L90,155.9L91.3,157.2L93.7,159.7L95,161.2L96.8,163.4L98.7,165.9L100,168.1L101.3,170.3L102.5,172.8L103.7,175.9L104.3,178.4L104.8,182.2L104.5,186L103.8,188.5L102.5,191.2L101,193.5L98.8,195.9L97.2,197.2L95,198.8L92.5,200.2L90,201.4L87.5,202.4L84.1,203.5L81.3,204.2L78.8,204.7L75,205.4" fill="none" stroke="#0a0a0a" stroke-width="1"/>
<rect x="72.5" y="19.5" width="199" height="199" fill="none" stroke="#222" stroke-width="1"/>
<text x="72.5" y="234.5" font-size="10.5" text-anchor="middle">2</text>
<text x="122.2" y="234.5" font-size="10.5" text-anchor="middle">3</text>
<text x="172" y="234.5" font-size="10.5" text-anchor="middle">4</text>
<text x="221.8" y="234.5" font-size="10.5" text-anchor="middle">5</text>
<text x="271.5" y="234.5" font-size="10.5" text-anchor="middle">6</text>
<text x="66" y="222" font-size="10.5" text-anchor="end">2</text>
<text x="66" y="172.2" font-size="10.5" text-anchor="end">3</text>
<text x="66" y="122.5" font-size="10.5" text-anchor="end">4</text>
<text x="66" y="72.8" font-size="10.5" text-anchor="end">5</text>
<text x="66" y="23" font-size="10.5" text-anchor="end">6</text>
<path d="M72.5,218.5v4M122.2,218.5v4M172,218.5v4M221.8,218.5v4M271.5,218.5v4M72.5,218.5h-4M72.5,168.8h-4M72.5,119h-4M72.5,69.2h-4M72.5,19.5h-4" stroke="#222" stroke-width="1" fill="none"/>
<text x="172" y="249.5" font-size="12.6" text-anchor="middle">PF (times/s)</text>
<text transform="translate(46.9,119.8) rotate(-90)" font-size="11.6" text-anchor="middle">PS (mm)</text>
<text x="11.3" y="135" font-size="16.5" font-weight="bold">(a)</text>
<circle cx="72.5" cy="19.5" r="2.1" fill="#d40000" stroke="#500" stroke-width="0.8"/>
<circle cx="271.5" cy="19.5" r="2.1" fill="#d40000" stroke="#500" stroke-width="0.8"/>
<circle cx="72.5" cy="218.5" r="2.1" fill="#d40000" stroke="#500" stroke-width="0.8"/>
<circle cx="271.5" cy="218.5" r="2.1" fill="#d40000" stroke="#500" stroke-width="0.8"/>
<circle cx="172" cy="119" r="2.1" fill="#d40000" stroke="#500" stroke-width="0.8"/>
<text x="168.8" y="122.6" font-size="10" font-style="italic" text-anchor="end">3</text>
<rect x="95.7" y="163.5" width="12.8" height="11.8" fill="#fff" stroke="#334" stroke-width="0.8"/>
<text x="102.1" y="172.8" font-size="10" text-anchor="middle" fill="#000" stroke="none">84</text>
<rect x="169.8" y="112.8" width="12.8" height="11.8" fill="#fff" stroke="#334" stroke-width="0.8"/>
<text x="176.2" y="122.1" font-size="10" text-anchor="middle" fill="#000" stroke="none">82</text>
<rect x="173" y="65.5" width="12.8" height="11.8" fill="#fff" stroke="#334" stroke-width="0.8"/>
<text x="179.4" y="74.8" font-size="10" text-anchor="middle" fill="#000" stroke="none">80</text>
<rect x="195.8" y="42.4" width="12.8" height="11.8" fill="#fff" stroke="#334" stroke-width="0.8"/>
<text x="202.2" y="51.7" font-size="10" text-anchor="middle" fill="#000" stroke="none">78</text>
<rect x="225.2" y="27.1" width="12.8" height="11.8" fill="#fff" stroke="#334" stroke-width="0.8"/>
<text x="231.6" y="36.4" font-size="10" text-anchor="middle" fill="#000" stroke="none">76</text>
<g shape-rendering="crispEdges"><rect x="72.5" y="255.5" width="199" height="3.1" fill="url(#gb0)"/><rect x="72.5" y="258" width="199" height="3.1" fill="url(#gb1)"/><rect x="72.5" y="260.5" width="199" height="3.1" fill="url(#gb2)"/><rect x="72.5" y="263" width="199" height="3.1" fill="url(#gb3)"/><rect x="72.5" y="265.4" width="199" height="3.1" fill="url(#gb4)"/><rect x="72.5" y="267.9" width="199" height="3.1" fill="url(#gb5)"/><rect x="72.5" y="270.4" width="199" height="3.1" fill="url(#gb6)"/><rect x="72.5" y="272.9" width="199" height="3.1" fill="url(#gb7)"/><rect x="72.5" y="275.4" width="199" height="3.1" fill="url(#gb8)"/><rect x="72.5" y="277.9" width="199" height="3.1" fill="url(#gb9)"/><rect x="72.5" y="280.4" width="199" height="3.1" fill="url(#gb10)"/><rect x="72.5" y="282.9" width="199" height="3.1" fill="url(#gb11)"/><rect x="72.5" y="285.4" width="199" height="3.1" fill="url(#gb12)"/><rect x="72.5" y="287.8" width="199" height="3.1" fill="url(#gb13)"/><rect x="72.5" y="290.3" width="199" height="3.1" fill="url(#gb14)"/><rect x="72.5" y="292.8" width="199" height="3.1" fill="url(#gb15)"/><rect x="72.5" y="295.3" width="199" height="3.1" fill="url(#gb16)"/><rect x="72.5" y="297.8" width="199" height="3.1" fill="url(#gb17)"/><rect x="72.5" y="300.3" width="199" height="3.1" fill="url(#gb18)"/><rect x="72.5" y="302.8" width="199" height="3.1" fill="url(#gb19)"/><rect x="72.5" y="305.2" width="199" height="3.1" fill="url(#gb20)"/><rect x="72.5" y="307.7" width="199" height="3.1" fill="url(#gb21)"/><rect x="72.5" y="310.2" width="199" height="3.1" fill="url(#gb22)"/><rect x="72.5" y="312.7" width="199" height="3.1" fill="url(#gb23)"/><rect x="72.5" y="315.2" width="199" height="3.1" fill="url(#gb24)"/><rect x="72.5" y="317.7" width="199" height="3.1" fill="url(#gb25)"/><rect x="72.5" y="320.2" width="199" height="3.1" fill="url(#gb26)"/><rect x="72.5" y="322.7" width="199" height="3.1" fill="url(#gb27)"/><rect x="72.5" y="325.1" width="199" height="3.1" fill="url(#gb28)"/><rect x="72.5" y="327.6" width="199" height="3.1" fill="url(#gb29)"/><rect x="72.5" y="330.1" width="199" height="3.1" fill="url(#gb30)"/><rect x="72.5" y="332.6" width="199" height="3.1" fill="url(#gb31)"/><rect x="72.5" y="335.1" width="199" height="3.1" fill="url(#gb32)"/><rect x="72.5" y="337.6" width="199" height="3.1" fill="url(#gb33)"/><rect x="72.5" y="340.1" width="199" height="3.1" fill="url(#gb34)"/><rect x="72.5" y="342.6" width="199" height="3.1" fill="url(#gb35)"/><rect x="72.5" y="345.1" width="199" height="3.1" fill="url(#gb36)"/><rect x="72.5" y="347.5" width="199" height="3.1" fill="url(#gb37)"/><rect x="72.5" y="350" width="199" height="3.1" fill="url(#gb38)"/><rect x="72.5" y="352.5" width="199" height="3.1" fill="url(#gb39)"/><rect x="72.5" y="355" width="199" height="3.1" fill="url(#gb40)"/><rect x="72.5" y="357.5" width="199" height="3.1" fill="url(#gb41)"/><rect x="72.5" y="360" width="199" height="3.1" fill="url(#gb42)"/><rect x="72.5" y="362.5" width="199" height="3.1" fill="url(#gb43)"/><rect x="72.5" y="364.9" width="199" height="3.1" fill="url(#gb44)"/><rect x="72.5" y="367.4" width="199" height="3.1" fill="url(#gb45)"/><rect x="72.5" y="369.9" width="199" height="3.1" fill="url(#gb46)"/><rect x="72.5" y="372.4" width="199" height="3.1" fill="url(#gb47)"/><rect x="72.5" y="374.9" width="199" height="3.1" fill="url(#gb48)"/><rect x="72.5" y="377.4" width="199" height="3.1" fill="url(#gb49)"/><rect x="72.5" y="379.9" width="199" height="3.1" fill="url(#gb50)"/><rect x="72.5" y="382.4" width="199" height="3.1" fill="url(#gb51)"/><rect x="72.5" y="384.9" width="199" height="3.1" fill="url(#gb52)"/><rect x="72.5" y="387.3" width="199" height="3.1" fill="url(#gb53)"/><rect x="72.5" y="389.8" width="199" height="3.1" fill="url(#gb54)"/><rect x="72.5" y="392.3" width="199" height="3.1" fill="url(#gb55)"/><rect x="72.5" y="394.8" width="199" height="3.1" fill="url(#gb56)"/><rect x="72.5" y="397.3" width="199" height="3.1" fill="url(#gb57)"/><rect x="72.5" y="399.8" width="199" height="3.1" fill="url(#gb58)"/><rect x="72.5" y="402.3" width="199" height="3.1" fill="url(#gb59)"/><rect x="72.5" y="404.8" width="199" height="3.1" fill="url(#gb60)"/><rect x="72.5" y="407.2" width="199" height="3.1" fill="url(#gb61)"/><rect x="72.5" y="409.7" width="199" height="3.1" fill="url(#gb62)"/><rect x="72.5" y="412.2" width="199" height="3.1" fill="url(#gb63)"/><rect x="72.5" y="414.7" width="199" height="3.1" fill="url(#gb64)"/><rect x="72.5" y="417.2" width="199" height="3.1" fill="url(#gb65)"/><rect x="72.5" y="419.7" width="199" height="3.1" fill="url(#gb66)"/><rect x="72.5" y="422.2" width="199" height="3.1" fill="url(#gb67)"/><rect x="72.5" y="424.6" width="199" height="3.1" fill="url(#gb68)"/><rect x="72.5" y="427.1" width="199" height="3.1" fill="url(#gb69)"/><rect x="72.5" y="429.6" width="199" height="3.1" fill="url(#gb70)"/><rect x="72.5" y="432.1" width="199" height="3.1" fill="url(#gb71)"/><rect x="72.5" y="434.6" width="199" height="3.1" fill="url(#gb72)"/><rect x="72.5" y="437.1" width="199" height="3.1" fill="url(#gb73)"/><rect x="72.5" y="439.6" width="199" height="3.1" fill="url(#gb74)"/><rect x="72.5" y="442.1" width="199" height="3.1" fill="url(#gb75)"/><rect x="72.5" y="444.6" width="199" height="3.1" fill="url(#gb76)"/><rect x="72.5" y="447" width="199" height="3.1" fill="url(#gb77)"/><rect x="72.5" y="449.5" width="199" height="3.1" fill="url(#gb78)"/><rect x="72.5" y="452" width="199" height="2.5" fill="url(#gb79)"/></g>
<path d="M237.7,255.5L240.2,256.8L242.7,258.1L245.2,259.5L247.7,260.9L250.2,262.5L252.7,264L255,265.5L256.8,266.8L259,268.3L261.5,270.1L263.6,271.8L265.2,273.1L267.7,275.2L269.6,276.8L271.5,278.5M271.5,439.2L270.2,441.1L268.8,443.2L267.1,445.7L265.3,448.2L264,450L262.6,452L260.7,454.5M72.5,261L76.3,261.1L80,261.2L83.8,261.4L87.5,261.6L90.5,261.8L93.8,262L97.5,262.2L101.3,262.6L105,262.9L107.5,263.2L111.3,263.6L115.1,264.1L117.6,264.4L121.3,264.9L125.1,265.5L127.6,265.9L131.3,266.6L133.8,267.1L137.6,267.8L140.1,268.3L143.8,269.2L146.3,269.8L149.4,270.5L152.6,271.4L155.1,272L158.5,273L161.4,273.9L163.9,274.7L166.4,275.5L169.9,276.8L172.6,277.8L175.1,278.7L177.6,279.8L180.1,280.8L182.6,281.9L185.1,283.1L187.7,284.3L190.2,285.5L192.7,286.8L195.2,288.2L197.7,289.6L200.2,291.1L202.7,292.7L205,294.3L206.8,295.6L208.9,297.1L211.4,299L213.4,300.6L215.2,302.1L217.7,304.3L219.1,305.6L221.4,307.9L222.8,309.3L225.1,311.8L226.4,313.4L228.2,315.6L230.1,318.1L231.4,320L232.7,321.9L234.2,324.3L235.6,326.8L237,329.3L238.2,331.8L239.3,334.3L240.3,336.9L241.5,340.1L242.4,343.1L243.1,345.6L243.9,349.4L244.4,351.9L244.9,355.6L245.2,358.2L245.5,361.9L245.6,365.6L245.5,369.4L245.4,373.1L245.1,375.7L244.7,379.4L244.1,383.2L243.7,385.7L242.9,389.4L242.3,391.9L241.5,395.1L240.6,398.2L239.8,400.7L239,403.2L237.7,406.6L236.6,409.4L235.6,411.9L234.5,414.4L233.4,417L232.2,419.5L231,422L229.8,424.5L228.5,427L227.1,429.5L225.7,432L224.2,434.5L222.7,437L221.4,439.1L220.2,441.1L218.8,443.2L217.1,445.7L215.4,448.2L213.9,450.4L212.7,452.1L211,454.5M72.5,303.3L76.3,303.8L79.5,304.3L82.5,304.8L86.3,305.5L88.8,306L92.5,306.8L95,307.4L98,308.1L101.3,308.9L103.8,309.6L107.1,310.6L110,311.5L112.6,312.3L115.1,313.2L118.2,314.3L121.3,315.6L123.8,316.6L126.3,317.7L128.8,318.8L131.3,320.1L133.8,321.4L136.3,322.7L138.8,324.2L141.2,325.6L143.1,326.8L145.1,328.2L147.6,330L150,331.8L151.5,333.1L153.9,335.1L155.8,336.9L157.6,338.7L159.5,340.6L161.4,342.8L162.7,344.4L164.6,346.9L166.4,349.4L167.6,351.3L168.9,353.4L170.1,355.8L171.4,358.3L172.6,361.2L173.8,364.4L174.6,366.9L175.3,369.4L176.1,373.1L176.6,375.7L177,379.4L177.3,383.2L177.4,386.9L177.2,390.7L176.9,394.4L176.5,398.2L176.1,400.7L175.3,404.4L174.7,406.9L173.9,410.2L173,413.2L172.2,415.7L171.3,418.2L170.1,421.2L168.9,424.3L167.7,427L166.5,429.5L165.3,432L164,434.5L162.7,437L161.4,439.3L160.1,441.5L158.9,443.6L157.5,445.7L155.9,448.2L154.3,450.7L152.6,453.2M72.5,377.7L74.2,379.4L76.3,381.6L77.5,383.2L79.4,385.7L81.1,388.2L82.5,390.7L83.7,393.2L84.8,395.7L85.7,398.2L86.4,400.7L87.2,404.4L87.5,407L87.8,410.7L87.8,414.4L87.5,418.2L87.2,420.7L86.5,424.5L86,427L85,430.4L84.1,433.2L83.2,435.7L82.2,438.2L81.1,440.7L80,443.2L78.7,445.7L77.4,448.2L76,450.7L74.5,453.2" fill="none" stroke="#0a0a0a" stroke-width="1"/>
<rect x="72.5" y="255.5" width="199" height="199" fill="none" stroke="#222" stroke-width="1"/>
<text x="72.5" y="470.5" font-size="10.5" text-anchor="middle">2</text>
<text x="122.2" y="470.5" font-size="10.5" text-anchor="middle">3</text>
<text x="172" y="470.5" font-size="10.5" text-anchor="middle">4</text>
<text x="221.8" y="470.5" font-size="10.5" text-anchor="middle">5</text>
<text x="271.5" y="470.5" font-size="10.5" text-anchor="middle">6</text>
<text x="66" y="458" font-size="10.5" text-anchor="end">24</text>
<text x="66" y="408.2" font-size="10.5" text-anchor="end">28</text>
<text x="66" y="358.5" font-size="10.5" text-anchor="end">32</text>
<text x="66" y="308.8" font-size="10.5" text-anchor="end">36</text>
<text x="66" y="259" font-size="10.5" text-anchor="end">40</text>
<path d="M72.5,454.5v4M122.2,454.5v4M172,454.5v4M221.8,454.5v4M271.5,454.5v4M72.5,454.5h-4M72.5,404.8h-4M72.5,355h-4M72.5,305.2h-4M72.5,255.5h-4" stroke="#222" stroke-width="1" fill="none"/>
<text x="172" y="485.5" font-size="12.6" text-anchor="middle">PF (times/s)</text>
<text transform="translate(46.9,353.6) rotate(-90)" font-size="12.6" text-anchor="middle">FR (L/h)</text>
<text x="11.3" y="371" font-size="16.5" font-weight="bold">(b)</text>
<circle cx="72.5" cy="255.5" r="2.1" fill="#d40000" stroke="#500" stroke-width="0.8"/>
<circle cx="271.5" cy="255.5" r="2.1" fill="#d40000" stroke="#500" stroke-width="0.8"/>
<circle cx="72.5" cy="454.5" r="2.1" fill="#d40000" stroke="#500" stroke-width="0.8"/>
<circle cx="271.5" cy="454.5" r="2.1" fill="#d40000" stroke="#500" stroke-width="0.8"/>
<circle cx="172" cy="355" r="2.1" fill="#d40000" stroke="#500" stroke-width="0.8"/>
<text x="168.8" y="358.6" font-size="10" font-style="italic" text-anchor="end">3</text>
<rect x="81.4" y="403" width="12.8" height="11.8" fill="#fff" stroke="#334" stroke-width="0.8"/>
<text x="87.8" y="412.3" font-size="10" text-anchor="middle" fill="#000" stroke="none">84</text>
<rect x="158.3" y="338.4" width="12.8" height="11.8" fill="#fff" stroke="#334" stroke-width="0.8"/>
<text x="164.7" y="347.7" font-size="10" text-anchor="middle" fill="#000" stroke="none">82</text>
<rect x="215.1" y="298.2" width="12.8" height="11.8" fill="#fff" stroke="#334" stroke-width="0.8"/>
<text x="221.5" y="307.5" font-size="10" text-anchor="middle" fill="#000" stroke="none">80</text>
<rect x="251.5" y="256.5" width="12.8" height="11.8" fill="#fff" stroke="#334" stroke-width="0.8"/>
<text x="257.9" y="265.8" font-size="10" text-anchor="middle" fill="#000" stroke="none">78</text>
<rect x="258.1" y="437.8" width="12.8" height="11.8" fill="#fff" stroke="#334" stroke-width="0.8"/>
<text x="264.5" y="447.1" font-size="10" text-anchor="middle" fill="#000" stroke="none">78</text>
<g shape-rendering="crispEdges"><rect x="72.5" y="495.5" width="199" height="3.1" fill="url(#gc0)"/><rect x="72.5" y="498" width="199" height="3.1" fill="url(#gc1)"/><rect x="72.5" y="500.5" width="199" height="3.1" fill="url(#gc2)"/><rect x="72.5" y="503" width="199" height="3.1" fill="url(#gc3)"/><rect x="72.5" y="505.4" width="199" height="3.1" fill="url(#gc4)"/><rect x="72.5" y="507.9" width="199" height="3.1" fill="url(#gc5)"/><rect x="72.5" y="510.4" width="199" height="3.1" fill="url(#gc6)"/><rect x="72.5" y="512.9" width="199" height="3.1" fill="url(#gc7)"/><rect x="72.5" y="515.4" width="199" height="3.1" fill="url(#gc8)"/><rect x="72.5" y="517.9" width="199" height="3.1" fill="url(#gc9)"/><rect x="72.5" y="520.4" width="199" height="3.1" fill="url(#gc10)"/><rect x="72.5" y="522.9" width="199" height="3.1" fill="url(#gc11)"/><rect x="72.5" y="525.4" width="199" height="3.1" fill="url(#gc12)"/><rect x="72.5" y="527.8" width="199" height="3.1" fill="url(#gc13)"/><rect x="72.5" y="530.3" width="199" height="3.1" fill="url(#gc14)"/><rect x="72.5" y="532.8" width="199" height="3.1" fill="url(#gc15)"/><rect x="72.5" y="535.3" width="199" height="3.1" fill="url(#gc16)"/><rect x="72.5" y="537.8" width="199" height="3.1" fill="url(#gc17)"/><rect x="72.5" y="540.3" width="199" height="3.1" fill="url(#gc18)"/><rect x="72.5" y="542.8" width="199" height="3.1" fill="url(#gc19)"/><rect x="72.5" y="545.2" width="199" height="3.1" fill="url(#gc20)"/><rect x="72.5" y="547.7" width="199" height="3.1" fill="url(#gc21)"/><rect x="72.5" y="550.2" width="199" height="3.1" fill="url(#gc22)"/><rect x="72.5" y="552.7" width="199" height="3.1" fill="url(#gc23)"/><rect x="72.5" y="555.2" width="199" height="3.1" fill="url(#gc24)"/><rect x="72.5" y="557.7" width="199" height="3.1" fill="url(#gc25)"/><rect x="72.5" y="560.2" width="199" height="3.1" fill="url(#gc26)"/><rect x="72.5" y="562.7" width="199" height="3.1" fill="url(#gc27)"/><rect x="72.5" y="565.1" width="199" height="3.1" fill="url(#gc28)"/><rect x="72.5" y="567.6" width="199" height="3.1" fill="url(#gc29)"/><rect x="72.5" y="570.1" width="199" height="3.1" fill="url(#gc30)"/><rect x="72.5" y="572.6" width="199" height="3.1" fill="url(#gc31)"/><rect x="72.5" y="575.1" width="199" height="3.1" fill="url(#gc32)"/><rect x="72.5" y="577.6" width="199" height="3.1" fill="url(#gc33)"/><rect x="72.5" y="580.1" width="199" height="3.1" fill="url(#gc34)"/><rect x="72.5" y="582.6" width="199" height="3.1" fill="url(#gc35)"/><rect x="72.5" y="585" width="199" height="3.1" fill="url(#gc36)"/><rect x="72.5" y="587.5" width="199" height="3.1" fill="url(#gc37)"/><rect x="72.5" y="590" width="199" height="3.1" fill="url(#gc38)"/><rect x="72.5" y="592.5" width="199" height="3.1" fill="url(#gc39)"/><rect x="72.5" y="595" width="199" height="3.1" fill="url(#gc40)"/><rect x="72.5" y="597.5" width="199" height="3.1" fill="url(#gc41)"/><rect x="72.5" y="600" width="199" height="3.1" fill="url(#gc42)"/><rect x="72.5" y="602.5" width="199" height="3.1" fill="url(#gc43)"/><rect x="72.5" y="605" width="199" height="3.1" fill="url(#gc44)"/><rect x="72.5" y="607.4" width="199" height="3.1" fill="url(#gc45)"/><rect x="72.5" y="609.9" width="199" height="3.1" fill="url(#gc46)"/><rect x="72.5" y="612.4" width="199" height="3.1" fill="url(#gc47)"/><rect x="72.5" y="614.9" width="199" height="3.1" fill="url(#gc48)"/><rect x="72.5" y="617.4" width="199" height="3.1" fill="url(#gc49)"/><rect x="72.5" y="619.9" width="199" height="3.1" fill="url(#gc50)"/><rect x="72.5" y="622.4" width="199" height="3.1" fill="url(#gc51)"/><rect x="72.5" y="624.9" width="199" height="3.1" fill="url(#gc52)"/><rect x="72.5" y="627.3" width="199" height="3.1" fill="url(#gc53)"/><rect x="72.5" y="629.8" width="199" height="3.1" fill="url(#gc54)"/><rect x="72.5" y="632.3" width="199" height="3.1" fill="url(#gc55)"/><rect x="72.5" y="634.8" width="199" height="3.1" fill="url(#gc56)"/><rect x="72.5" y="637.3" width="199" height="3.1" fill="url(#gc57)"/><rect x="72.5" y="639.8" width="199" height="3.1" fill="url(#gc58)"/><rect x="72.5" y="642.3" width="199" height="3.1" fill="url(#gc59)"/><rect x="72.5" y="644.8" width="199" height="3.1" fill="url(#gc60)"/><rect x="72.5" y="647.2" width="199" height="3.1" fill="url(#gc61)"/><rect x="72.5" y="649.7" width="199" height="3.1" fill="url(#gc62)"/><rect x="72.5" y="652.2" width="199" height="3.1" fill="url(#gc63)"/><rect x="72.5" y="654.7" width="199" height="3.1" fill="url(#gc64)"/><rect x="72.5" y="657.2" width="199" height="3.1" fill="url(#gc65)"/><rect x="72.5" y="659.7" width="199" height="3.1" fill="url(#gc66)"/><rect x="72.5" y="662.2" width="199" height="3.1" fill="url(#gc67)"/><rect x="72.5" y="664.6" width="199" height="3.1" fill="url(#gc68)"/><rect x="72.5" y="667.1" width="199" height="3.1" fill="url(#gc69)"/><rect x="72.5" y="669.6" width="199" height="3.1" fill="url(#gc70)"/><rect x="72.5" y="672.1" width="199" height="3.1" fill="url(#gc71)"/><rect x="72.5" y="674.6" width="199" height="3.1" fill="url(#gc72)"/><rect x="72.5" y="677.1" width="199" height="3.1" fill="url(#gc73)"/><rect x="72.5" y="679.6" width="199" height="3.1" fill="url(#gc74)"/><rect x="72.5" y="682.1" width="199" height="3.1" fill="url(#gc75)"/><rect x="72.5" y="684.5" width="199" height="3.1" fill="url(#gc76)"/><rect x="72.5" y="687" width="199" height="3.1" fill="url(#gc77)"/><rect x="72.5" y="689.5" width="199" height="3.1" fill="url(#gc78)"/><rect x="72.5" y="692" width="199" height="2.5" fill="url(#gc79)"/></g>
<path d="M250.6,495.5L252.4,498L254,500.4L255.2,502.3L256.5,504.4L257.9,506.8L259.4,509.3L260.7,511.8L262,514.3L263.3,516.8L264.5,519.3L265.7,521.8L266.8,524.3L267.8,526.8L269,529.8L270.2,533L271.1,535.6M271.5,665.3L270.7,668.2L269.9,670.7L269,673.6L267.9,677L267,679.5L266.2,682L265.2,684.6L264,687.9L262.9,690.7L261.9,693.2M207.1,495.5L208.9,497.1L211.2,499.3L212.7,500.6L215,503L216.4,504.5L218.5,506.8L220.2,508.7L221.7,510.5L223.7,513L225.2,514.9L226.5,516.8L228.3,519.3L230,521.8L231.4,524.1L232.7,526.2L234,528.3L235.2,530.6L236.5,533L237.8,535.6L239,538.1L240.2,540.8L241.5,543.7L242.7,546.8L243.6,549.3L244.5,551.8L245.4,554.3L246.5,557.9L247.2,560.6L247.9,563.1L248.8,566.8L249.4,569.3L250.2,573.1L250.6,575.6L251.2,579.4L251.6,581.9L252.1,585.6L252.5,589.4L252.7,592.7L252.9,595.6L253.1,599.4L253.2,603.1L253.2,606.9L253.1,610.6L253,614.4L252.8,618.2L252.6,620.7L252.3,624.4L251.9,628.2L251.5,631.9L251.1,634.4L250.6,638.2L250.1,640.7L249.4,644.4L248.9,646.9L248.1,650.7L247.6,653.2L246.7,657L246,659.5L245.2,662.4L244.3,665.7L243.5,668.2L242.7,670.8L241.5,674.5L240.6,677L239.7,679.5L238.8,682L237.7,684.9L236.5,688.1L235.3,690.7L234.3,693.2M72.5,506.9L75,506.1L77.5,505.5L81.3,504.5L83.8,504L87.5,503.2L90,502.7L93.8,502.1L96.6,501.8L100,501.4L103.8,501.1L107.5,500.8L111.3,500.7L115.1,500.8L118.8,500.9L122.6,501.1L126.3,501.5L128.8,501.8L132.6,502.4L136.1,503L138.8,503.6L141.6,504.3L145.1,505.2L147.6,506L150.1,506.8L153.3,508L156.4,509.2L158.9,510.3L161.4,511.5L163.9,512.8L166.4,514.1L168.8,515.5L170.8,516.8L172.7,518L175.1,519.7L177.6,521.5L179.6,523L181.4,524.5L183.9,526.7L185.4,528L187.6,530.2L189.2,531.8L191.4,534.2L192.7,535.6L194.7,538.1L196.4,540.2L197.7,541.9L199.4,544.3L201,546.8L202.6,549.3L203.9,551.5L205.2,553.7L206.4,556.1L207.7,558.6L208.9,561.3L210.2,564.2L211.2,566.8L212.2,569.3L213.1,571.8L213.9,574.5L215,578.1L215.6,580.6L216.4,583.8L217.1,586.9L217.7,590L218.2,593.1L218.7,596.9L219,599.4L219.4,603.1L219.6,606.9L219.8,610.6L219.8,614.4L219.8,618.2L219.7,621.9L219.5,625.7L219.2,629.4L218.9,631.9L218.5,635.7L218,639.4L217.6,641.9L216.9,645.7L216.4,648.2L215.6,651.9L215,654.4L214,658.2L213.4,660.7L212.7,663.2L211.5,667L210.7,669.5L209.9,672L208.9,674.6L207.7,678L206.6,680.7L205.6,683.2L204.5,685.7L203.4,688.2L202.3,690.7L201.1,693.2M72.5,552.3L75,551.6L78.8,550.6L81.3,550L84.6,549.3L87.5,548.8L91.3,548.3L93.8,548.1L97.5,547.8L101.3,547.7L105,547.8L108.8,548L111.3,548.3L115.1,548.8L117.9,549.3L121.3,550.1L123.8,550.8L127.2,551.8L130.1,552.9L132.6,553.9L135.1,555.1L137.6,556.3L140.1,557.8L142.6,559.3L144.5,560.6L146.3,561.9L148.8,563.9L150.8,565.6L152.6,567.3L154.7,569.3L156.4,571.2L158,573.1L160,575.6L161.4,577.5L162.6,579.4L164.2,581.9L165.6,584.4L166.9,586.9L168.1,589.4L169.2,591.9L170.2,594.4L171.4,597.7L172.3,600.6L172.9,603.1L173.8,606.9L174.3,609.4L174.9,613.1L175.2,615.7L175.6,619.4L175.8,623.2L175.8,626.9L175.8,630.7L175.6,634.4L175.2,638.2L175,640.7L174.4,644.4L173.9,647.7L173.3,650.7L172.6,653.6L171.8,657L171.1,659.5L170.1,662.7L169.1,665.7L168.3,668.2L167.3,670.7L166.3,673.2L165.1,676.2L163.9,679L162.6,681.6L161.4,684.1L160.1,686.6L158.9,688.9L157.6,691.1L156.3,693.2" fill="none" stroke="#0a0a0a" stroke-width="1"/>
<rect x="72.5" y="495.5" width="199" height="199" fill="none" stroke="#222" stroke-width="1"/>
<text x="72.5" y="710.5" font-size="10.5" text-anchor="middle">2</text>
<text x="122.2" y="710.5" font-size="10.5" text-anchor="middle">3</text>
<text x="172" y="710.5" font-size="10.5" text-anchor="middle">4</text>
<text x="221.8" y="710.5" font-size="10.5" text-anchor="middle">5</text>
<text x="271.5" y="710.5" font-size="10.5" text-anchor="middle">6</text>
<text x="66" y="698" font-size="10.5" text-anchor="end">24</text>
<text x="66" y="648.2" font-size="10.5" text-anchor="end">28</text>
<text x="66" y="598.5" font-size="10.5" text-anchor="end">32</text>
<text x="66" y="548.8" font-size="10.5" text-anchor="end">36</text>
<text x="66" y="499" font-size="10.5" text-anchor="end">40</text>
<path d="M72.5,694.5v4M122.2,694.5v4M172,694.5v4M221.8,694.5v4M271.5,694.5v4M72.5,694.5h-4M72.5,644.8h-4M72.5,595h-4M72.5,545.2h-4M72.5,495.5h-4" stroke="#222" stroke-width="1" fill="none"/>
<text x="172" y="725.5" font-size="12.6" text-anchor="middle">PS (mm)</text>
<text transform="translate(46.9,593.6) rotate(-90)" font-size="12.6" text-anchor="middle">FR (L/h)</text>
<text x="11.3" y="611" font-size="16.5" font-weight="bold">(c)</text>
<circle cx="72.5" cy="495.5" r="2.1" fill="#d40000" stroke="#500" stroke-width="0.8"/>
<circle cx="271.5" cy="495.5" r="2.1" fill="#d40000" stroke="#500" stroke-width="0.8"/>
<circle cx="72.5" cy="694.5" r="2.1" fill="#d40000" stroke="#500" stroke-width="0.8"/>
<circle cx="271.5" cy="694.5" r="2.1" fill="#d40000" stroke="#500" stroke-width="0.8"/>
<circle cx="172" cy="595" r="2.1" fill="#d40000" stroke="#500" stroke-width="0.8"/>
<text x="168.8" y="598.6" font-size="10" font-style="italic" text-anchor="end">3</text>
<rect x="159.4" y="575.5" width="12.8" height="11.8" fill="#fff" stroke="#334" stroke-width="0.8"/>
<text x="165.8" y="584.8" font-size="10" text-anchor="middle" fill="#000" stroke="none">82</text>
<rect x="194.2" y="536.3" width="12.8" height="11.8" fill="#fff" stroke="#334" stroke-width="0.8"/>
<text x="200.6" y="545.6" font-size="10" text-anchor="middle" fill="#000" stroke="none">80</text>
<rect x="244.9" y="570.6" width="12.8" height="11.8" fill="#fff" stroke="#334" stroke-width="0.8"/>
<text x="251.3" y="579.9" font-size="10" text-anchor="middle" fill="#000" stroke="none">78</text>
<rect x="256.4" y="503.5" width="12.8" height="11.8" fill="#fff" stroke="#334" stroke-width="0.8"/>
<text x="262.8" y="512.8" font-size="10" text-anchor="middle" fill="#000" stroke="none">76</text>
<rect x="258.5" y="672.9" width="12.8" height="11.8" fill="#fff" stroke="#334" stroke-width="0.8"/>
<text x="264.9" y="682.2" font-size="10" text-anchor="middle" fill="#000" stroke="none">76</text>
<polygon points="330.9,176.5 424.2,221.9 517.5,176.5 424.2,140.9" fill="#5c5c5c" stroke="#222" stroke-width="0.8"/>
<path d="M434.5,144.8L431.1,145.1L427.8,145.5L424.5,145.9L421.1,146.3L417.8,146.6L414.5,147L411.4,147.4L408.2,147.8L405,148.2" fill="none" stroke="#00a5ff" stroke-width="1.7"/>
<path d="M446.6,149.4L443.1,149.7L439.6,150.1L436.2,150.4L433.3,150.7L430.3,151L427.4,151.3L424.1,151.7L420.7,152.1L417.3,152.5L413.9,152.9L410.6,153.3L407.2,153.7L403.8,154.1L400.5,154.5L397.1,155L393.8,155.4L390.5,155.9L387.2,156.4L383.8,156.8" fill="none" stroke="#00ffb3" stroke-width="1.7"/>
<path d="M462.1,155.3L458.8,155.5L456.2,155.7L452.7,156L449,156.2L445.3,156.5L442.5,156.8L439.7,157L436.2,157.3L432.6,157.7L429,158L425.5,158.4L422.1,158.8L419,159.1L415.9,159.4L412.7,159.8L409.5,160.2L406.2,160.6L402.8,161L399.3,161.5L395.9,161.9L392.4,162.4L389,162.9L385.6,163.4L382.1,163.9L378.4,164.4L374.7,165L370.9,165.6L367,166.2L363.6,166.7L360.3,167.3L356.9,167.9L353.6,168.4" fill="none" stroke="#00ff0d" stroke-width="1.7"/>
<path d="M485.1,164.1L481.6,164.1L478.3,164.1L474.6,164.1L471.7,164.2L467.5,164.3L465,164.4L461.2,164.5L457.5,164.7L454.9,164.8L451,165L447.1,165.3L444.3,165.4L441.2,165.7L437.4,166L433.5,166.3L430.2,166.6L427.3,166.8L424.1,167.1L420.4,167.5L416.8,167.9L413.1,168.3L409.5,168.7L405.8,169.1L402.3,169.6L398.9,170L395.4,170.4L392,170.9L388.4,171.4L384.8,171.9L381.1,172.4L377.5,173L374,173.5L370.6,174.1L367.1,174.6L363.6,175.2L360.2,175.8L356.8,176.4L353,177.1L348.5,177.9L344.8,178.6L341.4,179.2L338,179.9" fill="none" stroke="#98ff00" stroke-width="1.7"/>
<path d="M500.6,184.7L497.1,183.4L493.5,182.3L489.6,181.4L485.3,180.5L481.7,180L478,179.5L474.4,179.1L471.4,178.9L468,178.6L463.7,178.4L460.5,178.3L457,178.2L453.1,178.2L449.9,178.2L446.1,178.2L442.5,178.3L439.4,178.4L435.1,178.6L432,178.7L428.8,178.9L424.6,179.2L420.7,179.5L417.8,179.7L414.6,180L410.7,180.4L406.8,180.8L402.9,181.2L399.1,181.6L395.5,182.1L392,182.5L388.5,183L384.9,183.5L381.2,184L377.4,184.6L373.5,185.2L369.6,185.8L366,186.4L362.4,187.1L358.9,187.7L355.3,188.4" fill="none" stroke="#ffc000" stroke-width="1.7"/>
<path d="M330.9,176.5L424.2,221.9L517.5,176.5" fill="none" stroke="#111" stroke-width="1.2"/>
<path d="M330.9,176.5L324.6,49.2L424.2,26.1L523.8,49.2M424.2,26.1L424.2,140.9M523.8,49.2L517.5,176.5" fill="none" stroke="#1a1a1a" stroke-width="1.1"/>
<circle cx="424.3" cy="109" r="2.3" fill="#d40000" stroke="#500" stroke-width="0.8"/>
<g stroke="#0c0c0c" stroke-width="0.46" stroke-linejoin="round"><path d="M424.2,105L427.9,106.1L424.2,109.1L420.5,108Z" fill="#1537cd"/><path d="M420.5,104L424.2,105L420.5,108L416.8,107Z" fill="#154fce"/><path d="M428,102.1L431.7,103.2L427.9,106.1L424.2,105Z" fill="#1563ce"/><path d="M416.7,103L420.5,104L416.8,107L413,106Z" fill="#1567cf"/><path d="M424.2,101.2L428,102.1L424.2,105L420.5,104Z" fill="#157acf"/><path d="M431.8,99.4L435.5,100.4L431.7,103.2L428,102.1Z" fill="#158dd0"/><path d="M412.8,102.1L416.7,103L413,106L409.1,105Z" fill="#157ed0"/><path d="M420.4,100.2L424.2,101.2L420.5,104L416.7,103Z" fill="#1592d0"/><path d="M428,98.5L431.8,99.4L428,102.1L424.2,101.2Z" fill="#15a5d1"/><path d="M435.6,96.9L439.3,97.8L435.5,100.4L431.8,99.4Z" fill="#15b6d1"/><path d="M408.9,101.2L412.8,102.1L409.1,105L405.3,104.1Z" fill="#1595d1"/><path d="M416.6,99.3L420.4,100.2L416.7,103L412.8,102.1Z" fill="#15a9d1"/><path d="M424.2,97.6L428,98.5L424.2,101.2L420.4,100.2Z" fill="#15bcd2"/><path d="M431.9,95.9L435.6,96.9L431.8,99.4L428,98.5Z" fill="#15ced2"/><path d="M439.5,94.4L443.2,95.4L439.3,97.8L435.6,96.9Z" fill="#15d2c6"/><path d="M405,100.4L408.9,101.2L405.3,104.1L401.3,103.3Z" fill="#15abd2"/><path d="M412.7,98.5L416.6,99.3L412.8,102.1L408.9,101.2Z" fill="#15c0d2"/><path d="M420.4,96.7L424.2,97.6L420.4,100.2L416.6,99.3Z" fill="#15d2d2"/><path d="M428.1,95L431.9,95.9L428,98.5L424.2,97.6Z" fill="#15d3c0"/><path d="M435.8,93.5L439.5,94.4L435.6,96.9L431.9,95.9Z" fill="#15d3b1"/><path d="M443.5,92.2L447.2,93.1L443.2,95.4L439.5,94.4Z" fill="#15d4a3"/><path d="M401,99.6L405,100.4L401.3,103.3L397.4,102.4Z" fill="#15c1d2"/><path d="M408.7,97.7L412.7,98.5L408.9,101.2L405,100.4Z" fill="#15d3cf"/><path d="M416.5,95.9L420.4,96.7L416.6,99.3L412.7,98.5Z" fill="#15d3bd"/><path d="M424.2,94.2L428.1,95L424.2,97.6L420.4,96.7Z" fill="#15d4ab"/><path d="M432,92.7L435.8,93.5L431.9,95.9L428.1,95Z" fill="#15d49c"/><path d="M439.7,91.3L443.5,92.2L439.5,94.4L435.8,93.5Z" fill="#15d58d"/><path d="M447.5,90.1L451.2,91L447.2,93.1L443.5,92.2Z" fill="#15d581"/><path d="M397,98.9L401,99.6L397.4,102.4L393.3,101.7Z" fill="#15d3d0"/><path d="M404.8,96.9L408.7,97.7L405,100.4L401,99.6Z" fill="#15d4bb"/><path d="M412.5,95.1L416.5,95.9L412.7,98.5L408.7,97.7Z" fill="#15d4a8"/><path d="M420.3,93.4L424.2,94.2L420.4,96.7L416.5,95.9Z" fill="#15d597"/><path d="M428.1,91.9L432,92.7L428.1,95L424.2,94.2Z" fill="#15d587"/><path d="M435.9,90.5L439.7,91.3L435.8,93.5L432,92.7Z" fill="#15d579"/><path d="M443.7,89.3L447.5,90.1L443.5,92.2L439.7,91.3Z" fill="#15d66b"/><path d="M451.6,88.2L455.3,89L451.2,91L447.5,90.1Z" fill="#15d660"/><path d="M392.9,98.2L397,98.9L393.3,101.7L389.3,101Z" fill="#15d4bc"/><path d="M400.7,96.2L404.8,96.9L401,99.6L397,98.9Z" fill="#15d5a7"/><path d="M408.5,94.4L412.5,95.1L408.7,97.7L404.8,96.9Z" fill="#15d594"/><path d="M416.4,92.7L420.3,93.4L416.5,95.9L412.5,95.1Z" fill="#15d683"/><path d="M424.2,91.1L428.1,91.9L424.2,94.2L420.3,93.4Z" fill="#15d672"/><path d="M432.1,89.7L435.9,90.5L432,92.7L428.1,91.9Z" fill="#15d664"/><path d="M439.9,88.5L443.7,89.3L439.7,91.3L435.9,90.5Z" fill="#15d757"/><path d="M447.8,87.4L451.6,88.2L447.5,90.1L443.7,89.3Z" fill="#16d74b"/><path d="M388.8,97.5L392.9,98.2L389.3,101L385.1,100.3Z" fill="#15d5a8"/><path d="M455.7,86.4L459.4,87.2L455.3,89L451.6,88.2Z" fill="#16d841"/><path d="M396.6,95.5L400.7,96.2L397,98.9L392.9,98.2Z" fill="#15d694"/><path d="M404.5,93.7L408.5,94.4L404.8,96.9L400.7,96.2Z" fill="#15d681"/><path d="M412.4,92L416.4,92.7L412.5,95.1L408.5,94.4Z" fill="#15d66f"/><path d="M420.3,90.4L424.2,91.1L420.3,93.4L416.4,92.7Z" fill="#15d75f"/><path d="M428.2,89L432.1,89.7L428.1,91.9L424.2,91.1Z" fill="#16d750"/><path d="M436.1,87.7L439.9,88.5L435.9,90.5L432.1,89.7Z" fill="#16d843"/><path d="M444,86.6L447.8,87.4L443.7,89.3L439.9,88.5Z" fill="#16d836"/><path d="M384.6,96.9L388.8,97.5L385.1,100.3L381,99.7Z" fill="#15d696"/><path d="M451.9,85.7L455.7,86.4L451.6,88.2L447.8,87.4Z" fill="#16d92d"/><path d="M459.9,84.9L463.6,85.6L459.4,87.2L455.7,86.4Z" fill="#16d923"/><path d="M392.5,94.9L396.6,95.5L392.9,98.2L388.8,97.5Z" fill="#15d781"/><path d="M400.4,93L404.5,93.7L400.7,96.2L396.6,95.5Z" fill="#15d76e"/><path d="M408.3,91.3L412.4,92L408.5,94.4L404.5,93.7Z" fill="#16d75b"/><path d="M416.3,89.8L420.3,90.4L416.4,92.7L412.4,92Z" fill="#16d84b"/><path d="M424.2,88.3L428.2,89L424.2,91.1L420.3,90.4Z" fill="#16d83d"/><path d="M432.2,87.1L436.1,87.7L432.1,89.7L428.2,89Z" fill="#16d92f"/><path d="M440.1,85.9L444,86.6L439.9,88.5L436.1,87.7Z" fill="#16d923"/><path d="M380.4,96.4L384.6,96.9L381,99.7L376.8,99.1Z" fill="#15d783"/><path d="M448.1,84.9L451.9,85.7L447.8,87.4L444,86.6Z" fill="#16d918"/><path d="M456.1,84.1L459.9,84.9L455.7,86.4L451.9,85.7Z" fill="#1dda16"/><path d="M388.3,94.4L392.5,94.9L388.8,97.5L384.6,96.9Z" fill="#16d76f"/><path d="M464.1,83.4L467.8,84.2L463.6,85.6L459.9,84.9Z" fill="#24da16"/><path d="M396.3,92.5L400.4,93L396.6,95.5L392.5,94.9Z" fill="#16d85b"/><path d="M404.2,90.7L408.3,91.3L404.5,93.7L400.4,93Z" fill="#16d849"/><path d="M412.2,89.1L416.3,89.8L412.4,92L408.3,91.3Z" fill="#16d938"/><path d="M420.2,87.7L424.2,88.3L420.3,90.4L416.3,89.8Z" fill="#16d929"/><path d="M428.2,86.4L432.2,87.1L428.2,89L424.2,88.3Z" fill="#16da1b"/><path d="M436.2,85.3L440.1,85.9L436.1,87.7L432.2,87.1Z" fill="#1dda16"/><path d="M376.1,95.9L380.4,96.4L376.8,99.1L372.5,98.6Z" fill="#16d871"/><path d="M444.3,84.3L448.1,84.9L444,86.6L440.1,85.9Z" fill="#28da16"/><path d="M452.3,83.4L456.1,84.1L451.9,85.7L448.1,84.9Z" fill="#30db16"/><path d="M384.1,93.8L388.3,94.4L384.6,96.9L380.4,96.4Z" fill="#16d85c"/><path d="M460.3,82.8L464.1,83.4L459.9,84.9L456.1,84.1Z" fill="#38db16"/><path d="M468.3,82.2L472.1,82.9L467.8,84.2L464.1,83.4Z" fill="#3edb16"/><path d="M392.1,91.9L396.3,92.5L392.5,94.9L388.3,94.4Z" fill="#16d948"/><path d="M400.1,90.2L404.2,90.7L400.4,93L396.3,92.5Z" fill="#16d936"/><path d="M408.1,88.6L412.2,89.1L408.3,91.3L404.2,90.7Z" fill="#16da25"/><path d="M416.2,87.1L420.2,87.7L416.3,89.8L412.2,89.1Z" fill="#16da16"/><path d="M424.2,85.8L428.2,86.4L424.2,88.3L420.2,87.7Z" fill="#24db16"/><path d="M432.3,84.7L436.2,85.3L432.2,87.1L428.2,86.4Z" fill="#30db16"/><path d="M371.8,95.5L376.1,95.9L372.5,98.6L368.2,98.1Z" fill="#16d960"/><path d="M440.3,83.7L444.3,84.3L440.1,85.9L436.2,85.3Z" fill="#3bdb16"/><path d="M448.4,82.8L452.3,83.4L448.1,84.9L444.3,84.3Z" fill="#44dc16"/><path d="M379.8,93.4L384.1,93.8L380.4,96.4L376.1,95.9Z" fill="#16d94b"/><path d="M456.5,82.1L460.3,82.8L456.1,84.1L452.3,83.4Z" fill="#4cdc16"/><path d="M464.6,81.6L468.3,82.2L464.1,83.4L460.3,82.8Z" fill="#52dc16"/><path d="M472.7,81.2L476.4,81.8L472.1,82.9L468.3,82.2Z" fill="#57dd16"/><path d="M387.9,91.5L392.1,91.9L388.3,94.4L384.1,93.8Z" fill="#16da37"/><path d="M395.9,89.7L400.1,90.2L396.3,92.5L392.1,91.9Z" fill="#16da24"/><path d="M404,88.1L408.1,88.6L404.2,90.7L400.1,90.2Z" fill="#19db16"/><path d="M412.1,86.6L416.2,87.1L412.2,89.1L408.1,88.6Z" fill="#28db16"/><path d="M420.2,85.3L424.2,85.8L420.2,87.7L416.2,87.1Z" fill="#37dc16"/><path d="M428.3,84.1L432.3,84.7L428.2,86.4L424.2,85.8Z" fill="#43dc16"/><path d="M367.4,95.1L371.8,95.5L368.2,98.1L363.8,97.7Z" fill="#16da4f"/><path d="M436.4,83.1L440.3,83.7L436.2,85.3L432.3,84.7Z" fill="#4edc16"/><path d="M444.5,82.2L448.4,82.8L444.3,84.3L440.3,83.7Z" fill="#58dd16"/><path d="M375.5,93L379.8,93.4L376.1,95.9L371.8,95.5Z" fill="#16da39"/><path d="M452.6,81.5L456.5,82.1L452.3,83.4L448.4,82.8Z" fill="#5fdd16"/><path d="M460.8,81L464.6,81.6L460.3,82.8L456.5,82.1Z" fill="#66dd16"/><path d="M468.9,80.6L472.7,81.2L468.3,82.2L464.6,81.6Z" fill="#6bde16"/><path d="M477,80.4L480.7,81L476.4,81.8L472.7,81.2Z" fill="#6ede16"/><path d="M383.6,91L387.9,91.5L384.1,93.8L379.8,93.4Z" fill="#16db25"/><path d="M391.7,89.3L395.9,89.7L392.1,91.9L387.9,91.5Z" fill="#19db16"/><path d="M399.8,87.6L404,88.1L400.1,90.2L395.9,89.7Z" fill="#2bdc16"/><path d="M407.9,86.1L412.1,86.6L408.1,88.6L404,88.1Z" fill="#3bdc16"/><path d="M416.1,84.8L420.2,85.3L416.2,87.1L412.1,86.6Z" fill="#49dd16"/><path d="M424.2,83.6L428.3,84.1L424.2,85.8L420.2,85.3Z" fill="#55dd16"/><path d="M363,94.7L367.4,95.1L363.8,97.7L359.4,97.3Z" fill="#16db3e"/><path d="M432.4,82.6L436.4,83.1L432.3,84.7L428.3,84.1Z" fill="#60dd16"/><path d="M440.6,81.7L444.5,82.2L440.3,83.7L436.4,83.1Z" fill="#6ade16"/><path d="M371.1,92.6L375.5,93L371.8,95.5L367.4,95.1Z" fill="#16db28"/><path d="M448.7,81L452.6,81.5L448.4,82.8L444.5,82.2Z" fill="#72de16"/><path d="M456.9,80.5L460.8,81L456.5,82.1L452.6,81.5Z" fill="#78de16"/><path d="M465.1,80L468.9,80.6L464.6,81.6L460.8,81Z" fill="#7edf16"/><path d="M473.3,79.8L477,80.4L472.7,81.2L468.9,80.6Z" fill="#81df16"/><path d="M379.2,90.7L383.6,91L379.8,93.4L375.5,93Z" fill="#18dc16"/><path d="M481.4,79.7L485.2,80.3L480.7,81L477,80.4Z" fill="#83df16" stroke-width="0.45"/><path d="M387.4,88.9L391.7,89.3L387.9,91.5L383.6,91Z" fill="#2bdc16"/><path d="M395.5,87.2L399.8,87.6L395.9,89.7L391.7,89.3Z" fill="#3cdd16"/><path d="M403.7,85.7L407.9,86.1L404,88.1L399.8,87.6Z" fill="#4cdd16"/><path d="M411.9,84.4L416.1,84.8L412.1,86.6L407.9,86.1Z" fill="#5ade16"/><path d="M420.1,83.2L424.2,83.6L420.2,85.3L416.1,84.8Z" fill="#67de16"/><path d="M358.5,94.5L363,94.7L359.4,97.3L354.9,97Z" fill="#16dc2e"/><path d="M428.3,82.1L432.4,82.6L428.3,84.1L424.2,83.6Z" fill="#73de16"/><path d="M436.5,81.3L440.6,81.7L436.4,83.1L432.4,82.6Z" fill="#7ddf16"/><path d="M366.7,92.3L371.1,92.6L367.4,95.1L363,94.7Z" fill="#16dc18"/><path d="M444.8,80.5L448.7,81L444.5,82.2L440.6,81.7Z" fill="#85df16"/><path d="M453,80L456.9,80.5L452.6,81.5L448.7,81Z" fill="#8bdf16"/><path d="M461.2,79.6L465.1,80L460.8,81L456.9,80.5Z" fill="#90e016"/><path d="M469.5,79.3L473.3,79.8L468.9,80.6L465.1,80Z" fill="#94e016" stroke-width="0.46"/><path d="M374.8,90.4L379.2,90.7L375.5,93L371.1,92.6Z" fill="#29dd16"/><path d="M477.7,79.2L481.4,79.7L477,80.4L473.3,79.8Z" fill="#96e016" stroke-width="0.43"/><path d="M485.9,79.3L489.6,79.8L485.2,80.3L481.4,79.7Z" fill="#96e016" stroke-width="0.41"/><path d="M383,88.6L387.4,88.9L383.6,91L379.2,90.7Z" fill="#3cdd16"/><path d="M391.2,86.9L395.5,87.2L391.7,89.3L387.4,88.9Z" fill="#4dde16"/><path d="M399.5,85.4L403.7,85.7L399.8,87.6L395.5,87.2Z" fill="#5ede16"/><path d="M407.7,84L411.9,84.4L407.9,86.1L403.7,85.7Z" fill="#6cdf16"/><path d="M354,94.3L358.5,94.5L354.9,97L350.4,96.7Z" fill="#16dd1e"/><path d="M416,82.8L420.1,83.2L416.1,84.8L411.9,84.4Z" fill="#79df16"/><path d="M424.2,81.7L428.3,82.1L424.2,83.6L420.1,83.2Z" fill="#84df16"/><path d="M432.5,80.9L436.5,81.3L432.4,82.6L428.3,82.1Z" fill="#8ee016"/><path d="M362.2,92.1L366.7,92.3L363,94.7L358.5,94.5Z" fill="#24dd16"/><path d="M440.8,80.1L444.8,80.5L440.6,81.7L436.5,81.3Z" fill="#97e016"/><path d="M449,79.5L453,80L448.7,81L444.8,80.5Z" fill="#9de016"/><path d="M457.3,79.1L461.2,79.6L456.9,80.5L453,80Z" fill="#a3e116"/><path d="M370.4,90.1L374.8,90.4L371.1,92.6L366.7,92.3Z" fill="#39de16"/><path d="M465.6,78.8L469.5,79.3L465.1,80L461.2,79.6Z" fill="#a6e116" stroke-width="0.44"/><path d="M490.4,79L494.1,79.5L489.6,79.8L485.9,79.3Z" fill="#a7e117" stroke-width="0.36"/><path d="M473.9,78.7L477.7,79.2L473.3,79.8L469.5,79.3Z" fill="#a8e117" stroke-width="0.42"/><path d="M482.2,78.8L485.9,79.3L481.4,79.7L477.7,79.2Z" fill="#a8e117" stroke-width="0.39"/><path d="M378.6,88.3L383,88.6L379.2,90.7L374.8,90.4Z" fill="#4cde16"/><path d="M386.9,86.6L391.2,86.9L387.4,88.9L383,88.6Z" fill="#5edf16"/><path d="M395.2,85.1L399.5,85.4L395.5,87.2L391.2,86.9Z" fill="#6edf16"/><path d="M403.4,83.7L407.7,84L403.7,85.7L399.5,85.4Z" fill="#7de016"/><path d="M349.4,94.1L354,94.3L350.4,96.7L345.8,96.6Z" fill="#1ede16"/><path d="M411.7,82.5L416,82.8L411.9,84.4L407.7,84Z" fill="#8ae016"/><path d="M420.1,81.4L424.2,81.7L420.1,83.2L416,82.8Z" fill="#95e016"/><path d="M428.4,80.5L432.5,80.9L428.3,82.1L424.2,81.7Z" fill="#a0e116"/><path d="M357.6,91.9L362.2,92.1L358.5,94.5L354,94.3Z" fill="#34de16"/><path d="M436.7,79.8L440.8,80.1L436.5,81.3L432.5,80.9Z" fill="#a8e117"/><path d="M445,79.2L449,79.5L444.8,80.5L440.8,80.1Z" fill="#afe117"/><path d="M453.4,78.7L457.3,79.1L453,80L449,79.5Z" fill="#b4e217" stroke-width="0.45"/><path d="M365.9,89.9L370.4,90.1L366.7,92.3L362.2,92.1Z" fill="#49df16"/><path d="M495,79L498.7,79.4L494.1,79.5L490.4,79Z" fill="#b7e217" stroke-width="0.30"/><path d="M461.7,78.5L465.6,78.8L461.2,79.6L457.3,79.1Z" fill="#b8e217" stroke-width="0.42"/><path d="M486.7,78.6L490.4,79L485.9,79.3L482.2,78.8Z" fill="#b9e217" stroke-width="0.33"/><path d="M470,78.3L473.9,78.7L469.5,79.3L465.6,78.8Z" fill="#bae217" stroke-width="0.40"/><path d="M478.4,78.4L482.2,78.8L477.7,79.2L473.9,78.7Z" fill="#bae217" stroke-width="0.37"/><path d="M374.2,88.1L378.6,88.3L374.8,90.4L370.4,90.1Z" fill="#5cdf16"/><path d="M382.5,86.4L386.9,86.6L383,88.6L378.6,88.3Z" fill="#6ee016"/><path d="M390.8,84.8L395.2,85.1L391.2,86.9L386.9,86.6Z" fill="#7fe016"/><path d="M399.1,83.4L403.4,83.7L399.5,85.4L395.2,85.1Z" fill="#8de116"/><path d="M344.7,94L349.4,94.1L345.8,96.6L341.2,96.4Z" fill="#2cdf16"/><path d="M407.5,82.2L411.7,82.5L407.7,84L403.4,83.7Z" fill="#9ae117"/><path d="M415.8,81.1L420.1,81.4L416,82.8L411.7,82.5Z" fill="#a7e117"/><path d="M353,91.8L357.6,91.9L354,94.3L349.4,94.1Z" fill="#43df16"/><path d="M424.2,80.2L428.4,80.5L424.2,81.7L420.1,81.4Z" fill="#b0e217"/><path d="M432.6,79.4L436.7,79.8L432.5,80.9L428.4,80.5Z" fill="#b9e217"/><path d="M441,78.8L445,79.2L440.8,80.1L436.7,79.8Z" fill="#c0e217" stroke-width="0.46"/><path d="M499.6,79.1L503.3,79.5L498.7,79.4L495,79Z" fill="#c3e317" stroke-width="0.23"/><path d="M361.3,89.8L365.9,89.9L362.2,92.1L357.6,91.9Z" fill="#58e016"/><path d="M449.4,78.4L453.4,78.7L449,79.5L445,79.2Z" fill="#c5e317" stroke-width="0.43"/><path d="M491.3,78.6L495,79L490.4,79L486.7,78.6Z" fill="#c8e317" stroke-width="0.27"/><path d="M457.7,78.1L461.7,78.5L457.3,79.1L453.4,78.7Z" fill="#c9e317" stroke-width="0.40"/><path d="M482.9,78.2L486.7,78.6L482.2,78.8L478.4,78.4Z" fill="#cbe317" stroke-width="0.31"/><path d="M466.1,78L470,78.3L465.6,78.8L461.7,78.5Z" fill="#cbe317" stroke-width="0.37"/><path d="M474.5,78L478.4,78.4L473.9,78.7L470,78.3Z" fill="#cce317" stroke-width="0.34"/><path d="M369.7,87.9L374.2,88.1L370.4,90.1L365.9,89.9Z" fill="#6ce016"/><path d="M378,86.2L382.5,86.4L378.6,88.3L374.2,88.1Z" fill="#7ee116"/><path d="M386.4,84.6L390.8,84.8L386.9,86.6L382.5,86.4Z" fill="#8ee117"/><path d="M394.8,83.2L399.1,83.4L395.2,85.1L390.8,84.8Z" fill="#9de217"/><path d="M340,94L344.7,94L341.2,96.4L336.5,96.3Z" fill="#3bdf16"/><path d="M403.2,82L407.5,82.2L403.4,83.7L399.1,83.4Z" fill="#abe217"/><path d="M411.6,80.9L415.8,81.1L411.7,82.5L407.5,82.2Z" fill="#b6e217"/><path d="M348.4,91.8L353,91.8L349.4,94.1L344.7,94Z" fill="#52e016"/><path d="M420,80L424.2,80.2L420.1,81.4L415.8,81.1Z" fill="#c1e317"/><path d="M428.4,79.2L432.6,79.4L428.4,80.5L424.2,80.2Z" fill="#c9e317"/><path d="M504.3,79.5L508,79.8L503.3,79.5L499.6,79.1Z" fill="#cfe417" stroke-width="0.10"/><path d="M436.9,78.6L441,78.8L436.7,79.8L432.6,79.4Z" fill="#d1e317" stroke-width="0.44"/><path d="M495.9,78.8L499.6,79.1L495,79L491.3,78.6Z" fill="#d4e417" stroke-width="0.18"/><path d="M356.7,89.7L361.3,89.8L357.6,91.9L353,91.8Z" fill="#67e116"/><path d="M445.3,78.1L449.4,78.4L445,79.2L441,78.8Z" fill="#d6e417" stroke-width="0.41"/><path d="M487.5,78.3L491.3,78.6L486.7,78.6L482.9,78.2Z" fill="#d9e417" stroke-width="0.23"/><path d="M453.7,77.9L457.7,78.1L453.4,78.7L449.4,78.4Z" fill="#dae417" stroke-width="0.38"/><path d="M479,77.9L482.9,78.2L478.4,78.4L474.5,78Z" fill="#dbe417" stroke-width="0.28"/><path d="M462.2,77.7L466.1,78L461.7,78.5L457.7,78.1Z" fill="#dce417" stroke-width="0.35"/><path d="M470.6,77.8L474.5,78L470,78.3L466.1,78Z" fill="#dde417" stroke-width="0.31"/><path d="M365.1,87.8L369.7,87.9L365.9,89.9L361.3,89.8Z" fill="#7be117"/><path d="M373.5,86.1L378,86.2L374.2,88.1L369.7,87.9Z" fill="#8de217"/><path d="M381.9,84.5L386.4,84.6L382.5,86.4L378,86.2Z" fill="#9de217"/><path d="M390.4,83.1L394.8,83.2L390.8,84.8L386.4,84.6Z" fill="#ade317"/><path d="M335.3,94L340,94L336.5,96.3L331.7,96.3Z" fill="#49e016"/><path d="M398.8,81.8L403.2,82L399.1,83.4L394.8,83.2Z" fill="#bae317"/><path d="M407.3,80.7L411.6,80.9L407.5,82.2L403.2,82Z" fill="#c7e317"/><path d="M343.7,91.8L348.4,91.8L344.7,94L340,94Z" fill="#60e117"/><path d="M415.7,79.8L420,80L415.8,81.1L411.6,80.9Z" fill="#d1e417"/><path d="M509,80.1L512.7,80.3L508,79.8L504.3,79.5Z" fill="#d7e517" stroke-width="0.18"/><path d="M424.2,79L428.4,79.2L424.2,80.2L420,80Z" fill="#dae417" stroke-width="0.45"/><path d="M500.5,79.3L504.3,79.5L499.6,79.1L495.9,78.8Z" fill="#dfe517" stroke-width="0.10"/><path d="M432.7,78.4L436.9,78.6L432.6,79.4L428.4,79.2Z" fill="#e1e417" stroke-width="0.42"/><path d="M352.1,89.7L356.7,89.7L353,91.8L348.4,91.8Z" fill="#75e217"/><path d="M492.1,78.6L495.9,78.8L491.3,78.6L487.5,78.3Z" fill="#e5e517" stroke-width="0.11"/><path d="M441.2,77.9L445.3,78.1L441,78.8L436.9,78.6Z" fill="#e5e317" stroke-width="0.39"/><path d="M483.6,78.1L487.5,78.3L482.9,78.2L479,77.9Z" fill="#e5e117" stroke-width="0.19"/><path d="M449.7,77.6L453.7,77.9L449.4,78.4L445.3,78.1Z" fill="#e5df17" stroke-width="0.36"/><path d="M475.1,77.7L479,77.9L474.5,78L470.6,77.8Z" fill="#e5de17" stroke-width="0.24"/><path d="M458.2,77.5L462.2,77.7L457.7,78.1L453.7,77.9Z" fill="#e5de17" stroke-width="0.32"/><path d="M466.7,77.5L470.6,77.8L466.1,78L462.2,77.7Z" fill="#e5dd17" stroke-width="0.28"/><path d="M360.5,87.8L365.1,87.8L361.3,89.8L356.7,89.7Z" fill="#8ae217"/><path d="M368.9,86L373.5,86.1L369.7,87.9L365.1,87.8Z" fill="#9be317"/><path d="M377.4,84.5L381.9,84.5L378,86.2L373.5,86.1Z" fill="#ade317"/><path d="M385.9,83L390.4,83.1L386.4,84.6L381.9,84.5Z" fill="#bce417"/><path d="M330.5,94.1L335.3,94L331.7,96.3L326.9,96.4Z" fill="#56e117"/><path d="M394.4,81.7L398.8,81.8L394.8,83.2L390.4,83.1Z" fill="#c9e417"/><path d="M402.9,80.6L407.3,80.7L403.2,82L398.8,81.8Z" fill="#d6e417"/><path d="M338.9,91.8L343.7,91.8L340,94L335.3,94Z" fill="#6ee217"/><path d="M513.7,80.9L517.4,81.1L512.7,80.3L509,80.1Z" fill="#dfe617" stroke-width="0.27"/><path d="M411.4,79.7L415.7,79.8L411.6,80.9L407.3,80.7Z" fill="#e1e517" stroke-width="0.46"/><path d="M505.2,79.9L509,80.1L504.3,79.5L500.5,79.3Z" fill="#e6e417" stroke-width="0.23"/><path d="M419.9,78.9L424.2,79L420,80L415.7,79.8Z" fill="#e5e117" stroke-width="0.43"/><path d="M496.8,79.1L500.5,79.3L495.9,78.8L492.1,78.6Z" fill="#e6dd17" stroke-width="0.18"/><path d="M428.5,78.3L432.7,78.4L428.4,79.2L424.2,79Z" fill="#e5da17" stroke-width="0.40"/><path d="M347.3,89.8L352.1,89.7L348.4,91.8L343.7,91.8Z" fill="#83e317"/><path d="M488.2,78.4L492.1,78.6L487.5,78.3L483.6,78.1Z" fill="#e6d717" stroke-width="0.09"/><path d="M437,77.8L441.2,77.9L436.9,78.6L432.7,78.4Z" fill="#e6d517" stroke-width="0.37"/><path d="M479.7,77.9L483.6,78.1L479,77.9L475.1,77.7Z" fill="#e6d317" stroke-width="0.12"/><path d="M445.6,77.5L449.7,77.6L445.3,78.1L441.2,77.9Z" fill="#e6d217" stroke-width="0.33"/><path d="M471.2,77.5L475.1,77.7L470.6,77.8L466.7,77.5Z" fill="#e6d017" stroke-width="0.20"/><path d="M454.1,77.3L458.2,77.5L453.7,77.9L449.7,77.6Z" fill="#e6cf17" stroke-width="0.29"/><path d="M462.6,77.4L466.7,77.5L462.2,77.7L458.2,77.5Z" fill="#e6cf17" stroke-width="0.25"/><path d="M355.8,87.8L360.5,87.8L356.7,89.7L352.1,89.7Z" fill="#98e317"/><path d="M364.3,86.1L368.9,86L365.1,87.8L360.5,87.8Z" fill="#aae417"/><path d="M372.8,84.5L377.4,84.5L373.5,86.1L368.9,86Z" fill="#bbe417"/><path d="M381.4,83L385.9,83L381.9,84.5L377.4,84.5Z" fill="#cbe517"/><path d="M389.9,81.7L394.4,81.7L390.4,83.1L385.9,83Z" fill="#d8e517"/><path d="M518.5,81.9L522.2,82.1L517.4,81.1L513.7,80.9Z" fill="#e2e617" stroke-width="0.34"/><path d="M398.5,80.6L402.9,80.6L398.8,81.8L394.4,81.7Z" fill="#e5e517"/><path d="M334.1,92L338.9,91.8L335.3,94L330.5,94.1Z" fill="#7be317"/><path d="M510,80.8L513.7,80.9L509,80.1L505.2,79.9Z" fill="#e7df17" stroke-width="0.31"/><path d="M407,79.6L411.4,79.7L407.3,80.7L402.9,80.6Z" fill="#e6dc17" stroke-width="0.44"/><path d="M501.5,79.8L505.2,79.9L500.5,79.3L496.8,79.1Z" fill="#e7d717" stroke-width="0.27"/><path d="M415.6,78.8L419.9,78.9L415.7,79.8L411.4,79.7Z" fill="#e6d317" stroke-width="0.41"/><path d="M492.9,79L496.8,79.1L492.1,78.6L488.2,78.4Z" fill="#e7cf17" stroke-width="0.23"/><path d="M424.2,78.2L428.5,78.3L424.2,79L419.9,78.9Z" fill="#e6cd17" stroke-width="0.38"/><path d="M342.6,89.9L347.3,89.8L343.7,91.8L338.9,91.8Z" fill="#91e417"/><path d="M484.3,78.3L488.2,78.4L483.6,78.1L479.7,77.9Z" fill="#e7ca17" stroke-width="0.17"/><path d="M432.8,77.7L437,77.8L432.7,78.4L428.5,78.3Z" fill="#e7c817" stroke-width="0.34"/><path d="M475.8,77.8L479.7,77.9L475.1,77.7L471.2,77.5Z" fill="#e7c517" stroke-width="0.08"/><path d="M441.4,77.4L445.6,77.5L441.2,77.9L437,77.8Z" fill="#e7c417" stroke-width="0.30"/><path d="M467.2,77.4L471.2,77.5L466.7,77.5L462.6,77.4Z" fill="#e7c217" stroke-width="0.13"/><path d="M450,77.2L454.1,77.3L449.7,77.6L445.6,77.5Z" fill="#e7c217" stroke-width="0.26"/><path d="M458.6,77.3L462.6,77.4L458.2,77.5L454.1,77.3Z" fill="#e7c217" stroke-width="0.21"/><path d="M351.1,87.9L355.8,87.8L352.1,89.7L347.3,89.8Z" fill="#a5e417"/><path d="M359.6,86.1L364.3,86.1L360.5,87.8L355.8,87.8Z" fill="#b7e517"/><path d="M368.2,84.5L372.8,84.5L368.9,86L364.3,86.1Z" fill="#c9e517"/><path d="M376.8,83L381.4,83L377.4,84.5L372.8,84.5Z" fill="#d9e617"/><path d="M385.4,81.7L389.9,81.7L385.9,83L381.4,83Z" fill="#e6e517"/><path d="M514.8,81.9L518.5,81.9L513.7,80.9L510,80.8Z" fill="#e7dd17" stroke-width="0.38"/><path d="M394,80.6L398.5,80.6L394.4,81.7L389.9,81.7Z" fill="#e6da17" stroke-width="0.45"/><path d="M506.2,80.7L510,80.8L505.2,79.9L501.5,79.8Z" fill="#e8d217" stroke-width="0.35"/><path d="M402.6,79.6L407,79.6L402.9,80.6L398.5,80.6Z" fill="#e7d017" stroke-width="0.42"/><path d="M497.6,79.7L501.5,79.8L496.8,79.1L492.9,79Z" fill="#e8ca17" stroke-width="0.31"/><path d="M411.3,78.8L415.6,78.8L411.4,79.7L407,79.6Z" fill="#e7c717" stroke-width="0.39"/><path d="M489,78.9L492.9,79L488.2,78.4L484.3,78.3Z" fill="#e8c217" stroke-width="0.27"/><path d="M337.7,90.1L342.6,89.9L338.9,91.8L334.1,92Z" fill="#9ee517"/><path d="M419.9,78.2L424.2,78.2L419.9,78.9L415.6,78.8Z" fill="#e7c017" stroke-width="0.35"/><path d="M480.4,78.2L484.3,78.3L479.7,77.9L475.8,77.8Z" fill="#e8bc17" stroke-width="0.22"/><path d="M428.5,77.7L432.8,77.7L428.5,78.3L424.2,78.2Z" fill="#e8bb17" stroke-width="0.31"/><path d="M471.8,77.7L475.8,77.8L471.2,77.5L467.2,77.4Z" fill="#e8b817" stroke-width="0.16"/><path d="M437.2,77.4L441.4,77.4L437,77.8L432.8,77.7Z" fill="#e8b817" stroke-width="0.27"/><path d="M463.1,77.4L467.2,77.4L462.6,77.4L458.6,77.3Z" fill="#e8b517" stroke-width="0.08"/><path d="M445.8,77.2L450,77.2L445.6,77.5L441.4,77.4Z" fill="#e8b517" stroke-width="0.22"/><path d="M454.5,77.2L458.6,77.3L454.1,77.3L450,77.2Z" fill="#e8b517" stroke-width="0.15"/><path d="M346.3,88.1L351.1,87.9L347.3,89.8L342.6,89.9Z" fill="#b2e517"/><path d="M354.9,86.3L359.6,86.1L355.8,87.8L351.1,87.9Z" fill="#c5e617"/><path d="M363.5,84.6L368.2,84.5L364.3,86.1L359.6,86.1Z" fill="#d6e617"/><path d="M372.2,83.2L376.8,83L372.8,84.5L368.2,84.5Z" fill="#e6e717"/><path d="M380.8,81.8L385.4,81.7L381.4,83L376.8,83Z" fill="#e7da17"/><path d="M511,81.9L514.8,81.9L510,80.8L506.2,80.7Z" fill="#e8d017" stroke-width="0.41"/><path d="M389.5,80.7L394,80.6L389.9,81.7L385.4,81.7Z" fill="#e7ce17" stroke-width="0.43"/><path d="M502.4,80.7L506.2,80.7L501.5,79.8L497.6,79.7Z" fill="#e8c517" stroke-width="0.38"/><path d="M398.1,79.7L402.6,79.6L398.5,80.6L394,80.6Z" fill="#e8c417" stroke-width="0.40"/><path d="M493.8,79.7L497.6,79.7L492.9,79L489,78.9Z" fill="#e9bc17" stroke-width="0.35"/><path d="M406.8,78.9L411.3,78.8L407,79.6L402.6,79.6Z" fill="#e8bb17" stroke-width="0.36"/><path d="M485.1,78.9L489,78.9L484.3,78.3L480.4,78.2Z" fill="#e9b517" stroke-width="0.31"/><path d="M415.5,78.2L419.9,78.2L415.6,78.8L411.3,78.8Z" fill="#e8b417" stroke-width="0.32"/><path d="M476.4,78.2L480.4,78.2L475.8,77.8L471.8,77.7Z" fill="#e9af17" stroke-width="0.27"/><path d="M424.2,77.7L428.5,77.7L424.2,78.2L419.9,78.2Z" fill="#e9ae17" stroke-width="0.28"/><path d="M467.7,77.7L471.8,77.7L467.2,77.4L463.1,77.4Z" fill="#e9ab17" stroke-width="0.22"/><path d="M432.9,77.4L437.2,77.4L432.8,77.7L428.5,77.7Z" fill="#e9ab17" stroke-width="0.23"/><path d="M459,77.4L463.1,77.4L458.6,77.3L454.5,77.2Z" fill="#e9a917" stroke-width="0.15"/><path d="M441.6,77.2L445.8,77.2L441.4,77.4L437.2,77.4Z" fill="#e9a917" stroke-width="0.16"/><path d="M450.3,77.2L454.5,77.2L450,77.2L445.8,77.2Z" fill="#e9a817" stroke-width="0.08"/><path d="M341.5,88.3L346.3,88.1L342.6,89.9L337.7,90.1Z" fill="#bee617"/><path d="M350.1,86.5L354.9,86.3L351.1,87.9L346.3,88.1Z" fill="#d1e717"/><path d="M358.8,84.8L363.5,84.6L359.6,86.1L354.9,86.3Z" fill="#e3e717"/><path d="M367.5,83.3L372.2,83.2L368.2,84.5L363.5,84.6Z" fill="#e8dc17"/><path d="M376.2,82L380.8,81.8L376.8,83L372.2,83.2Z" fill="#e8cf17" stroke-width="0.44"/><path d="M507.2,82L511,81.9L506.2,80.7L502.4,80.7Z" fill="#e9c417" stroke-width="0.44"/><path d="M384.9,80.8L389.5,80.7L385.4,81.7L380.8,81.8Z" fill="#e8c317" stroke-width="0.41"/><path d="M498.5,80.8L502.4,80.7L497.6,79.7L493.8,79.7Z" fill="#e9ba17" stroke-width="0.41"/><path d="M393.6,79.8L398.1,79.7L394,80.6L389.5,80.7Z" fill="#e9b817" stroke-width="0.38"/><path d="M489.8,79.8L493.8,79.7L489,78.9L485.1,78.9Z" fill="#eab117" stroke-width="0.38"/><path d="M402.3,79L406.8,78.9L402.6,79.6L398.1,79.7Z" fill="#e9b017" stroke-width="0.34"/><path d="M481.1,79L485.1,78.9L480.4,78.2L476.4,78.2Z" fill="#eaa917" stroke-width="0.35"/><path d="M411.1,78.3L415.5,78.2L411.3,78.8L406.8,78.9Z" fill="#e9a817" stroke-width="0.29"/><path d="M472.4,78.3L476.4,78.2L471.8,77.7L467.7,77.7Z" fill="#eaa317" stroke-width="0.31"/><path d="M419.8,77.8L424.2,77.7L419.9,78.2L415.5,78.2Z" fill="#eaa317" stroke-width="0.24"/><path d="M463.6,77.8L467.7,77.7L463.1,77.4L459,77.4Z" fill="#ea9f17" stroke-width="0.27"/><path d="M428.6,77.5L432.9,77.4L428.5,77.7L424.2,77.7Z" fill="#ea9f17" stroke-width="0.18"/><path d="M454.9,77.5L459,77.4L454.5,77.2L450.3,77.2Z" fill="#ea9c17" stroke-width="0.21"/><path d="M437.4,77.3L441.6,77.2L437.2,77.4L432.9,77.4Z" fill="#ea9c17" stroke-width="0.08"/><path d="M446.1,77.3L450.3,77.2L445.8,77.2L441.6,77.2Z" fill="#ea9c17" stroke-width="0.14"/><path d="M345.3,86.8L350.1,86.5L346.3,88.1L341.5,88.3Z" fill="#dee817"/><path d="M354,85.1L358.8,84.8L354.9,86.3L350.1,86.5Z" fill="#e8e117"/><path d="M362.7,83.6L367.5,83.3L363.5,84.6L358.8,84.8Z" fill="#e9d217" stroke-width="0.46"/><path d="M371.5,82.2L376.2,82L372.2,83.2L367.5,83.3Z" fill="#e9c417" stroke-width="0.42"/><path d="M380.2,81.1L384.9,80.8L380.8,81.8L376.2,82Z" fill="#e9b817" stroke-width="0.39"/><path d="M503.4,82.1L507.2,82L502.4,80.7L498.5,80.8Z" fill="#eab717"/><path d="M389,80L393.6,79.8L389.5,80.7L384.9,80.8Z" fill="#eaae17" stroke-width="0.35"/><path d="M494.6,80.9L498.5,80.8L493.8,79.7L489.8,79.8Z" fill="#eaad17" stroke-width="0.44"/><path d="M397.8,79.2L402.3,79L398.1,79.7L393.6,79.8Z" fill="#eaa517" stroke-width="0.31"/><path d="M485.8,79.9L489.8,79.8L485.1,78.9L481.1,79Z" fill="#eaa517" stroke-width="0.41"/><path d="M406.6,78.5L411.1,78.3L406.8,78.9L402.3,79Z" fill="#ea9d17" stroke-width="0.26"/><path d="M477.1,79.1L481.1,79L476.4,78.2L472.4,78.3Z" fill="#eb9e17" stroke-width="0.38"/><path d="M415.4,78L419.8,77.8L415.5,78.2L411.1,78.3Z" fill="#eb9817" stroke-width="0.20"/><path d="M468.3,78.4L472.4,78.3L467.7,77.7L463.6,77.8Z" fill="#eb9817" stroke-width="0.35"/><path d="M424.2,77.7L428.6,77.5L424.2,77.7L419.8,77.8Z" fill="#eb9417" stroke-width="0.11"/><path d="M459.5,78L463.6,77.8L459,77.4L454.9,77.5Z" fill="#eb9417" stroke-width="0.31"/><path d="M433,77.5L437.4,77.3L432.9,77.4L428.6,77.5Z" fill="#eb9117" stroke-width="0.13"/><path d="M450.7,77.6L454.9,77.5L450.3,77.2L446.1,77.3Z" fill="#eb9117" stroke-width="0.26"/><path d="M441.8,77.5L446.1,77.3L441.6,77.2L437.4,77.3Z" fill="#eb9117" stroke-width="0.21"/><path d="M349.1,85.4L354,85.1L350.1,86.5L345.3,86.8Z" fill="#e9d717"/><path d="M357.9,83.9L362.7,83.6L358.8,84.8L354,85.1Z" fill="#eac817" stroke-width="0.44"/><path d="M366.7,82.5L371.5,82.2L367.5,83.3L362.7,83.6Z" fill="#eaba17" stroke-width="0.40"/><path d="M375.5,81.3L380.2,81.1L376.2,82L371.5,82.2Z" fill="#eaae17" stroke-width="0.36"/><path d="M499.4,82.3L503.4,82.1L498.5,80.8L494.6,80.9Z" fill="#ebac17"/><path d="M384.4,80.3L389,80L384.9,80.8L380.2,81.1Z" fill="#eba417" stroke-width="0.32"/><path d="M490.6,81.1L494.6,80.9L489.8,79.8L485.8,79.9Z" fill="#eba217"/><path d="M393.2,79.5L397.8,79.2L393.6,79.8L389,80Z" fill="#eb9b18" stroke-width="0.27"/><path d="M481.8,80.1L485.8,79.9L481.1,79L477.1,79.1Z" fill="#eb9918" stroke-width="0.44"/><path d="M402.1,78.8L406.6,78.5L402.3,79L397.8,79.2Z" fill="#eb9218" stroke-width="0.21"/><path d="M473,79.3L477.1,79.1L472.4,78.3L468.3,78.4Z" fill="#eb9218" stroke-width="0.41"/><path d="M410.9,78.2L415.4,78L411.1,78.3L406.6,78.5Z" fill="#ec8d18" stroke-width="0.13"/><path d="M464.1,78.7L468.3,78.4L463.6,77.8L459.5,78Z" fill="#ec8d18" stroke-width="0.38"/><path d="M419.8,77.9L424.2,77.7L419.8,77.8L415.4,78Z" fill="#ec8918" stroke-width="0.10"/><path d="M455.2,78.2L459.5,78L454.9,77.5L450.7,77.6Z" fill="#ec8918" stroke-width="0.34"/><path d="M428.6,77.7L433,77.5L428.6,77.5L424.2,77.7Z" fill="#ec8618" stroke-width="0.19"/><path d="M446.4,77.8L450.7,77.6L446.1,77.3L441.8,77.5Z" fill="#ec8618" stroke-width="0.30"/><path d="M437.5,77.7L441.8,77.5L437.4,77.3L433,77.5Z" fill="#ec8518" stroke-width="0.25"/><path d="M353,84.3L357.9,83.9L354,85.1L349.1,85.4Z" fill="#ebbf17" stroke-width="0.41"/><path d="M361.9,82.9L366.7,82.5L362.7,83.6L357.9,83.9Z" fill="#ebb018" stroke-width="0.38"/><path d="M370.8,81.7L375.5,81.3L371.5,82.2L366.7,82.5Z" fill="#eba418" stroke-width="0.33"/><path d="M495.5,82.6L499.4,82.3L494.6,80.9L490.6,81.1Z" fill="#eba218"/><path d="M379.6,80.7L384.4,80.3L380.2,81.1L375.5,81.3Z" fill="#ec9918" stroke-width="0.29"/><path d="M486.6,81.4L490.6,81.1L485.8,79.9L481.8,80.1Z" fill="#ec9818"/><path d="M388.5,79.8L393.2,79.5L389,80L384.4,80.3Z" fill="#ec9018" stroke-width="0.23"/><path d="M477.7,80.4L481.8,80.1L477.1,79.1L473,79.3Z" fill="#ec8f18"/><path d="M397.5,79.1L402.1,78.8L397.8,79.2L393.2,79.5Z" fill="#ec8918" stroke-width="0.15"/><path d="M468.8,79.6L473,79.3L468.3,78.4L464.1,78.7Z" fill="#ec8718" stroke-width="0.44"/><path d="M406.4,78.6L410.9,78.2L406.6,78.5L402.1,78.8Z" fill="#ed8318" stroke-width="0.08"/><path d="M459.9,78.9L464.1,78.7L459.5,78L455.2,78.2Z" fill="#ed8218" stroke-width="0.41"/><path d="M415.3,78.2L419.8,77.9L415.4,78L410.9,78.2Z" fill="#ed7e18" stroke-width="0.18"/><path d="M451,78.4L455.2,78.2L450.7,77.6L446.4,77.8Z" fill="#ed7e18" stroke-width="0.38"/><path d="M424.2,78L428.6,77.7L424.2,77.7L419.8,77.9Z" fill="#ed7c18" stroke-width="0.25"/><path d="M442.1,78.1L446.4,77.8L441.8,77.5L437.5,77.7Z" fill="#ed7c18" stroke-width="0.34"/><path d="M433.1,78L437.5,77.7L433,77.5L428.6,77.7Z" fill="#ed7b18" stroke-width="0.30"/><path d="M357,83.4L361.9,82.9L357.9,83.9L353,84.3Z" fill="#eca818" stroke-width="0.35"/><path d="M365.9,82.1L370.8,81.7L366.7,82.5L361.9,82.9Z" fill="#ec9b18" stroke-width="0.30"/><path d="M491.4,82.9L495.5,82.6L490.6,81.1L486.6,81.4Z" fill="#ec9818"/><path d="M374.9,81.1L379.6,80.7L375.5,81.3L370.8,81.7Z" fill="#ed9018" stroke-width="0.25"/><path d="M482.5,81.7L486.6,81.4L481.8,80.1L477.7,80.4Z" fill="#ec8d18"/><path d="M383.8,80.2L388.5,79.8L384.4,80.3L379.6,80.7Z" fill="#ed8718" stroke-width="0.18"/><path d="M473.6,80.8L477.7,80.4L473,79.3L468.8,79.6Z" fill="#ed8418"/><path d="M392.8,79.5L397.5,79.1L393.2,79.5L388.5,79.8Z" fill="#ed8018" stroke-width="0.08"/><path d="M464.6,79.9L468.8,79.6L464.1,78.7L459.9,78.9Z" fill="#ed7e18"/><path d="M401.8,78.9L406.4,78.6L402.1,78.8L397.5,79.1Z" fill="#ed7a18" stroke-width="0.17"/><path d="M455.6,79.3L459.9,78.9L455.2,78.2L451,78.4Z" fill="#ed7818" stroke-width="0.44"/><path d="M410.7,78.6L415.3,78.2L410.9,78.2L406.4,78.6Z" fill="#ee7518" stroke-width="0.24"/><path d="M446.7,78.8L451,78.4L446.4,77.8L442.1,78.1Z" fill="#ee7418" stroke-width="0.41"/><path d="M419.7,78.4L424.2,78L419.8,77.9L415.3,78.2Z" fill="#ee7218" stroke-width="0.29"/><path d="M437.7,78.5L442.1,78.1L437.5,77.7L433.1,78Z" fill="#ee7218" stroke-width="0.37"/><path d="M428.7,78.3L433.1,78L428.6,77.7L424.2,78Z" fill="#ee7218" stroke-width="0.34"/><path d="M361.1,82.6L365.9,82.1L361.9,82.9L357,83.4Z" fill="#ed9318" stroke-width="0.27"/><path d="M487.3,83.3L491.4,82.9L486.6,81.4L482.5,81.7Z" fill="#ed8e18"/><path d="M370.1,81.6L374.9,81.1L370.8,81.7L365.9,82.1Z" fill="#ee8718" stroke-width="0.20"/><path d="M478.4,82.2L482.5,81.7L477.7,80.4L473.6,80.8Z" fill="#ed8418"/><path d="M379.1,80.7L383.8,80.2L379.6,80.7L374.9,81.1Z" fill="#ee7e18" stroke-width="0.10"/><path d="M469.4,81.2L473.6,80.8L468.8,79.6L464.6,79.9Z" fill="#ee7b18"/><path d="M388.1,79.9L392.8,79.5L388.5,79.8L383.8,80.2Z" fill="#ee7718" stroke-width="0.14"/><path d="M460.3,80.3L464.6,79.9L459.9,78.9L455.6,79.3Z" fill="#ee7418"/><path d="M397.1,79.4L401.8,78.9L397.5,79.1L392.8,79.5Z" fill="#ee7018" stroke-width="0.22"/><path d="M451.3,79.7L455.6,79.3L451,78.4L446.7,78.8Z" fill="#ee6e18"/><path d="M406.1,79L410.7,78.6L406.4,78.6L401.8,78.9Z" fill="#ef6c18" stroke-width="0.28"/><path d="M442.3,79.2L446.7,78.8L442.1,78.1L437.7,78.5Z" fill="#ee6b18" stroke-width="0.44"/><path d="M415.2,78.8L419.7,78.4L415.3,78.2L410.7,78.6Z" fill="#ef6a18" stroke-width="0.33"/><path d="M433.3,78.9L437.7,78.5L433.1,78L428.7,78.3Z" fill="#ef6918" stroke-width="0.41"/><path d="M424.2,78.8L428.7,78.3L424.2,78L419.7,78.4Z" fill="#ef6818" stroke-width="0.37"/><path d="M483.2,83.8L487.3,83.3L482.5,81.7L478.4,82.2Z" fill="#ee8618"/><path d="M365.2,82.1L370.1,81.6L365.9,82.1L361.1,82.6Z" fill="#ef7f18" stroke-width="0.13"/><path d="M474.2,82.6L478.4,82.2L473.6,80.8L469.4,81.2Z" fill="#ee7b18"/><path d="M374.2,81.2L379.1,80.7L374.9,81.1L370.1,81.6Z" fill="#ef7618" stroke-width="0.12"/><path d="M465.1,81.6L469.4,81.2L464.6,79.9L460.3,80.3Z" fill="#ee7218"/><path d="M383.3,80.5L388.1,79.9L383.8,80.2L379.1,80.7Z" fill="#ef6e18" stroke-width="0.21"/><path d="M456,80.8L460.3,80.3L455.6,79.3L451.3,79.7Z" fill="#ef6b18"/><path d="M392.4,79.9L397.1,79.4L392.8,79.5L388.1,79.9Z" fill="#ef6818" stroke-width="0.27"/><path d="M446.9,80.2L451.3,79.7L446.7,78.8L442.3,79.2Z" fill="#ef6618"/><path d="M401.5,79.5L406.1,79L401.8,78.9L397.1,79.4Z" fill="#ef6318" stroke-width="0.32"/><path d="M437.9,79.7L442.3,79.2L437.7,78.5L433.3,78.9Z" fill="#ef6218"/><path d="M410.6,79.3L415.2,78.8L410.7,78.6L406.1,79Z" fill="#ef6118" stroke-width="0.37"/><path d="M428.8,79.4L433.3,78.9L428.7,78.3L424.2,78.8Z" fill="#ef6018" stroke-width="0.44"/><path d="M419.7,79.3L424.2,78.8L419.7,78.4L415.2,78.8Z" fill="#ef6018" stroke-width="0.40"/><path d="M479,84.4L483.2,83.8L478.4,82.2L474.2,82.6Z" fill="#ee7d18"/><path d="M469.9,83.2L474.2,82.6L469.4,81.2L465.1,81.6Z" fill="#ef7318"/><path d="M369.3,81.8L374.2,81.2L370.1,81.6L365.2,82.1Z" fill="#f06e18" stroke-width="0.19"/><path d="M460.8,82.2L465.1,81.6L460.3,80.3L456,80.8Z" fill="#ef6a18"/><path d="M378.5,81.1L383.3,80.5L379.1,80.7L374.2,81.2Z" fill="#f06718" stroke-width="0.26"/><path d="M451.7,81.4L456,80.8L451.3,79.7L446.9,80.2Z" fill="#f06318"/><path d="M387.6,80.5L392.4,79.9L388.1,79.9L383.3,80.5Z" fill="#f06018" stroke-width="0.31"/><path d="M442.5,80.7L446.9,80.2L442.3,79.2L437.9,79.7Z" fill="#f05d18"/><path d="M396.8,80.1L401.5,79.5L397.1,79.4L392.4,79.9Z" fill="#f05c18" stroke-width="0.36"/><path d="M433.4,80.3L437.9,79.7L433.3,78.9L428.8,79.4Z" fill="#f05a18"/><path d="M405.9,79.9L410.6,79.3L406.1,79L401.5,79.5Z" fill="#f05918" stroke-width="0.40"/><path d="M424.2,80L428.8,79.4L424.2,78.8L419.7,79.3Z" fill="#f05818"/><path d="M415.1,79.8L419.7,79.3L415.2,78.8L410.6,79.3Z" fill="#f05818" stroke-width="0.44"/><path d="M474.8,85L479,84.4L474.2,82.6L469.9,83.2Z" fill="#ef7518"/><path d="M465.6,83.8L469.9,83.2L465.1,81.6L460.8,82.2Z" fill="#ef6b18"/><path d="M456.4,82.8L460.8,82.2L456,80.8L451.7,81.4Z" fill="#f06318"/><path d="M373.6,81.8L378.5,81.1L374.2,81.2L369.3,81.8Z" fill="#f16018" stroke-width="0.30"/><path d="M447.2,82L451.7,81.4L446.9,80.2L442.5,80.7Z" fill="#f05b18"/><path d="M382.8,81.2L387.6,80.5L383.3,80.5L378.5,81.1Z" fill="#f15918" stroke-width="0.35"/><path d="M438,81.4L442.5,80.7L437.9,79.7L433.4,80.3Z" fill="#f15618"/><path d="M392,80.8L396.8,80.1L392.4,79.9L387.6,80.5Z" fill="#f15518" stroke-width="0.39"/><path d="M428.8,80.9L433.4,80.3L428.8,79.4L424.2,80Z" fill="#f15218"/><path d="M401.2,80.6L405.9,79.9L401.5,79.5L396.8,80.1Z" fill="#f15118" stroke-width="0.43"/><path d="M419.6,80.6L424.2,80L419.7,79.3L415.1,79.8Z" fill="#f15018"/><path d="M410.4,80.5L415.1,79.8L410.6,79.3L405.9,79.9Z" fill="#f14f18"/><path d="M470.5,85.7L474.8,85L469.9,83.2L465.6,83.8Z" fill="#f06d18"/><path d="M461.2,84.5L465.6,83.8L460.8,82.2L456.4,82.8Z" fill="#f06318"/><path d="M452,83.6L456.4,82.8L451.7,81.4L447.2,82Z" fill="#f15b18"/><path d="M442.7,82.7L447.2,82L442.5,80.7L438,81.4Z" fill="#f15418"/><path d="M377.9,81.9L382.8,81.2L378.5,81.1L373.6,81.8Z" fill="#f25218" stroke-width="0.39"/><path d="M433.5,82.1L438,81.4L433.4,80.3L428.8,80.9Z" fill="#f14f18"/><path d="M387.1,81.5L392,80.8L387.6,80.5L382.8,81.2Z" fill="#f24d18" stroke-width="0.43"/><path d="M424.2,81.6L428.8,80.9L424.2,80L419.6,80.6Z" fill="#f24b18"/><path d="M396.4,81.3L401.2,80.6L396.8,80.1L392,80.8Z" fill="#f24b18"/><path d="M414.9,81.3L419.6,80.6L415.1,79.8L410.4,80.5Z" fill="#f24918"/><path d="M405.7,81.2L410.4,80.5L405.9,79.9L401.2,80.6Z" fill="#f24918"/><path d="M466.1,86.5L470.5,85.7L465.6,83.8L461.2,84.5Z" fill="#f06718"/><path d="M456.8,85.3L461.2,84.5L456.4,82.8L452,83.6Z" fill="#f15d18"/><path d="M447.5,84.3L452,83.6L447.2,82L442.7,82.7Z" fill="#f15518"/><path d="M438.2,83.5L442.7,82.7L438,81.4L433.5,82.1Z" fill="#f24e18"/><path d="M428.9,82.9L433.5,82.1L428.8,80.9L424.2,81.6Z" fill="#f24818"/><path d="M382.2,82.4L387.1,81.5L382.8,81.2L377.9,81.9Z" fill="#f34718" stroke-width="0.46"/><path d="M419.6,82.4L424.2,81.6L419.6,80.6L414.9,81.3Z" fill="#f24518"/><path d="M391.6,82.1L396.4,81.3L392,80.8L387.1,81.5Z" fill="#f34418"/><path d="M410.2,82.1L414.9,81.3L410.4,80.5L405.7,81.2Z" fill="#f34318"/><path d="M400.9,82L405.7,81.2L401.2,80.6L396.4,81.3Z" fill="#f34218"/><path d="M461.7,87.4L466.1,86.5L461.2,84.5L456.8,85.3Z" fill="#f16118"/><path d="M452.3,86.2L456.8,85.3L452,83.6L447.5,84.3Z" fill="#f25718"/><path d="M443,85.2L447.5,84.3L442.7,82.7L438.2,83.5Z" fill="#f24f18"/><path d="M433.6,84.4L438.2,83.5L433.5,82.1L428.9,82.9Z" fill="#f34718"/><path d="M424.2,83.8L428.9,82.9L424.2,81.6L419.6,82.4Z" fill="#f34218"/><path d="M414.8,83.3L419.6,82.4L414.9,81.3L410.2,82.1Z" fill="#f33f18"/><path d="M386.7,83L391.6,82.1L387.1,81.5L382.2,82.4Z" fill="#f43e18"/><path d="M405.4,83L410.2,82.1L405.7,81.2L400.9,82Z" fill="#f33d18"/><path d="M396,82.9L400.9,82L396.4,81.3L391.6,82.1Z" fill="#f43d18"/><path d="M457.2,88.3L461.7,87.4L456.8,85.3L452.3,86.2Z" fill="#f25c18"/><path d="M447.8,87.1L452.3,86.2L447.5,84.3L443,85.2Z" fill="#f25118"/><path d="M438.4,86.2L443,85.2L438.2,83.5L433.6,84.4Z" fill="#f34918"/><path d="M428.9,85.3L433.6,84.4L428.9,82.9L424.2,83.8Z" fill="#f34218"/><path d="M419.5,84.7L424.2,83.8L419.6,82.4L414.8,83.3Z" fill="#f43d18"/><path d="M410,84.3L414.8,83.3L410.2,82.1L405.4,83Z" fill="#f43a18"/><path d="M400.6,84L405.4,83L400.9,82L396,82.9Z" fill="#f43818"/><path d="M391.1,83.9L396,82.9L391.6,82.1L386.7,83Z" fill="#f43818"/><path d="M452.7,89.3L457.2,88.3L452.3,86.2L447.8,87.1Z" fill="#f25718"/><path d="M443.2,88.2L447.8,87.1L443,85.2L438.4,86.2Z" fill="#f34d18"/><path d="M433.7,87.2L438.4,86.2L433.6,84.4L428.9,85.3Z" fill="#f34518"/><path d="M424.2,86.4L428.9,85.3L424.2,83.8L419.5,84.7Z" fill="#f43e18"/><path d="M414.7,85.8L419.5,84.7L414.8,83.3L410,84.3Z" fill="#f43818"/><path d="M405.2,85.3L410,84.3L405.4,83L400.6,84Z" fill="#f53518"/><path d="M395.7,85L400.6,84L396,82.9L391.1,83.9Z" fill="#f53319"/><path d="M448.1,90.5L452.7,89.3L447.8,87.1L443.2,88.2Z" fill="#f35318"/><path d="M438.5,89.3L443.2,88.2L438.4,86.2L433.7,87.2Z" fill="#f34918"/><path d="M429,88.3L433.7,87.2L428.9,85.3L424.2,86.4Z" fill="#f44118"/><path d="M419.4,87.5L424.2,86.4L419.5,84.7L414.7,85.8Z" fill="#f53a18"/><path d="M409.9,86.9L414.7,85.8L410,84.3L405.2,85.3Z" fill="#f53519"/><path d="M400.3,86.4L405.2,85.3L400.6,84L395.7,85Z" fill="#f53219"/><path d="M443.4,91.7L448.1,90.5L443.2,88.2L438.5,89.3Z" fill="#f34f18"/><path d="M433.8,90.5L438.5,89.3L433.7,87.2L429,88.3Z" fill="#f44618"/><path d="M424.2,89.5L429,88.3L424.2,86.4L419.4,87.5Z" fill="#f53e18"/><path d="M414.6,88.7L419.4,87.5L414.7,85.8L409.9,86.9Z" fill="#f53719"/><path d="M405,88.1L409.9,86.9L405.2,85.3L400.3,86.4Z" fill="#f63219"/><path d="M438.7,92.9L443.4,91.7L438.5,89.3L433.8,90.5Z" fill="#f44d18"/><path d="M429.1,91.8L433.8,90.5L429,88.3L424.2,89.5Z" fill="#f54318"/><path d="M419.4,90.8L424.2,89.5L419.4,87.5L414.6,88.7Z" fill="#f53a19"/><path d="M409.7,90L414.6,88.7L409.9,86.9L405,88.1Z" fill="#f63319"/><path d="M433.9,94.3L438.7,92.9L433.8,90.5L429.1,91.8Z" fill="#f44a18"/><path d="M424.2,93.2L429.1,91.8L424.2,89.5L419.4,90.8Z" fill="#f54019"/><path d="M414.5,92.2L419.4,90.8L414.6,88.7L409.7,90Z" fill="#f63919"/><path d="M429.1,95.8L433.9,94.3L429.1,91.8L424.2,93.2Z" fill="#f54918"/><path d="M419.3,94.6L424.2,93.2L419.4,90.8L414.5,92.2Z" fill="#f64019"/><path d="M424.2,97.3L429.1,95.8L424.2,93.2L419.3,94.6Z" fill="#f54819"/></g>
<circle cx="329.4" cy="147" r="1.1" fill="#111"/>
<text x="323.6" y="144.6" font-size="11" text-anchor="end">72</text>
<circle cx="328.8" cy="133.6" r="1.1" fill="#111"/>
<text x="323" y="131.2" font-size="11" text-anchor="end">74</text>
<circle cx="328.1" cy="120.1" r="1.1" fill="#111"/>
<text x="322.3" y="117.7" font-size="11" text-anchor="end">76</text>
<circle cx="327.4" cy="106.3" r="1.1" fill="#111"/>
<text x="321.6" y="103.9" font-size="11" text-anchor="end">78</text>
<circle cx="326.7" cy="92.3" r="1.1" fill="#111"/>
<text x="320.9" y="89.9" font-size="11" text-anchor="end">80</text>
<circle cx="326" cy="78.2" r="1.1" fill="#111"/>
<text x="320.2" y="75.8" font-size="11" text-anchor="end">82</text>
<circle cx="325.3" cy="63.8" r="1.1" fill="#111"/>
<text x="319.5" y="61.4" font-size="11" text-anchor="end">84</text>
<circle cx="324.6" cy="49.2" r="1.1" fill="#111"/>
<text x="318.8" y="46.8" font-size="11" text-anchor="end">86</text>
<text transform="translate(301.3,114.8) rotate(-90)" font-size="11.4" text-anchor="middle">Recovery (%)</text>
<circle cx="330.9" cy="176.5" r="0.9" fill="#111"/>
<text x="323.3" y="189.6" font-size="11" text-anchor="middle">6</text>
<circle cx="352" cy="186.8" r="0.9" fill="#111"/>
<text x="346.3" y="200.1" font-size="11" text-anchor="middle">5</text>
<circle cx="374.5" cy="197.7" r="0.9" fill="#111"/>
<text x="369.4" y="211.4" font-size="11" text-anchor="middle">4</text>
<circle cx="398.6" cy="209.4" r="0.9" fill="#111"/>
<text x="392" y="221.9" font-size="11" text-anchor="middle">3</text>
<circle cx="424.2" cy="221.9" r="0.9" fill="#111"/>
<text x="415.4" y="233.2" font-size="11" text-anchor="middle">2</text>
<circle cx="424.2" cy="221.9" r="0.9" fill="#111"/>
<text x="432" y="233.2" font-size="11" text-anchor="middle">2</text>
<circle cx="449.9" cy="209.4" r="0.9" fill="#111"/>
<text x="455" y="221.9" font-size="11" text-anchor="middle">3</text>
<circle cx="473.9" cy="197.7" r="0.9" fill="#111"/>
<text x="478" y="210.6" font-size="11" text-anchor="middle">4</text>
<circle cx="496.4" cy="186.8" r="0.9" fill="#111"/>
<text x="502" y="198.9" font-size="11" text-anchor="middle">5</text>
<circle cx="517.5" cy="176.5" r="0.9" fill="#111"/>
<text x="525.8" y="187.6" font-size="11" text-anchor="middle">6</text>
<text x="341.5" y="223" font-size="11.3" text-anchor="middle">PS (mm)</text>
<text x="507" y="223" font-size="11.3" text-anchor="middle">PF (times/s)</text>
<circle cx="326.3" cy="97.5" r="2.3" fill="#fee" stroke="#933" stroke-width="0.8"/>
<circle cx="424.3" cy="76.5" r="2.3" fill="#d40000" stroke="#500" stroke-width="0.8"/>
<circle cx="522.3" cy="80" r="2.3" fill="#d40000" stroke="#500" stroke-width="0.8"/>
<polygon points="330.9,413.2 424.2,458.6 517.5,413.2 424.2,377.6" fill="#5c5c5c" stroke="#222" stroke-width="0.8"/>
<path d="M508.8,417.4L507.9,415.9L507.1,414.6L506,413L504.8,411.4L503.5,409.8L502.2,408.2L500.9,406.8" fill="none" stroke="#00ff16" stroke-width="1.7"/>
<path d="M441.3,384.1L437.6,384L434.4,383.9L431.2,383.9L428.2,384L424.3,384.2L421.5,384.4L418.8,384.6L415.3,384.9L411.9,385.2L408.5,385.6L405.3,386.1L402.1,386.5" fill="none" stroke="#00ff16" stroke-width="1.7"/>
<path d="M496.3,423.5L495.3,421.6L494.2,419.9L493.3,418.6L492.3,417.2L491,415.6L489.7,414L488.3,412.5L486.8,411L485.2,409.6L483.6,408.2L481.3,406.4L479.2,404.9L477.3,403.7L474.3,402L472.2,400.9L468.9,399.4L465.4,397.9L461.7,396.7L457.8,395.5L454.9,394.8L452,394.1L448,393.4L444.5,392.9L441.3,392.5L438.4,392.3L434.9,392.1L430.9,391.9L428.5,391.9L424.3,391.9L421.9,392L418.1,392.1L414.3,392.4L411.4,392.6L408.5,392.9L405.4,393.2L402,393.7L398.6,394.2L394.8,394.8L390.7,395.5L387.6,396.1L384.5,396.7L381.4,397.3L377.1,398.3L374.2,399L369.9,400.1L367,400.9L362.8,402L360,402.8L355.8,404.1L351.7,405.3" fill="none" stroke="#51ff00" stroke-width="1.7"/>
<path d="M482.1,430.4L481,428.5L480.2,427.1L479.2,425.7L478.1,424.1L476.8,422.4L475.4,420.8L473.9,419.2L472.3,417.7L470.7,416.2L468.2,414.3L466.2,412.9L464.3,411.6L461.2,409.9L457.9,408.2L455.5,407.2L453.1,406.3L449.1,405L444.9,403.8L441.9,403.2L438.7,402.6L435.3,402.1L431.8,401.7L428,401.3L424.6,401.2L421.7,401.1L417.6,401.1L414.8,401.1L411.3,401.3L407.3,401.6L403.9,401.8L400.8,402.2L397.6,402.6L394,403.1L390.3,403.7L386.3,404.3L383.1,405L380,405.6L376.6,406.3L372.3,407.3L369.3,408.1L364.9,409.2L361.9,410.1L357.6,411.3L354.7,412.2L350.5,413.5L346.3,414.9L342.1,416.3" fill="none" stroke="#b7ff00" stroke-width="1.7"/>
<path d="M465.3,438.6L464.3,436.6L463.2,434.7L462.1,433.1L461,431.6L459.6,429.9L458,428.2L456.1,426.3L454.4,424.8L452.6,423.4L449.7,421.5L447.5,420.2L444.1,418.5L440.4,417L436.4,415.6L433.5,414.8L429.3,413.8L425.4,413.2L421.9,412.7L418.9,412.4L415.8,412.2L411.4,412.1L408.7,412.1L404.3,412.2L401.4,412.4L398.1,412.6L394.3,413L390.6,413.4L387,413.9L383.5,414.5L380.1,415.1L376.2,415.9L371.9,416.8L368.7,417.6L364.9,418.5L360.9,419.6L357.3,420.6L353.4,421.8" fill="none" stroke="#ffe100" stroke-width="1.7"/>
<path d="M444.8,448.6L443.9,446.6L442.9,445L441.8,443.3L440.4,441.5L438.7,439.6L436.8,437.7L435,436.1L433,434.7L429.8,432.7L426.2,431L422.2,429.4L419.1,428.4L414.5,427.3L411,426.7L407.1,426.3L404,426L400.6,425.9L396.3,425.9L393,426L389.6,426.2L385.5,426.6L381.6,427.1L377.8,427.6L374.2,428.2L370.7,428.9L367,429.7" fill="none" stroke="#ff7a00" stroke-width="1.7"/>
<path d="M330.9,413.2L424.2,458.6L517.5,413.2" fill="none" stroke="#111" stroke-width="1.2"/>
<path d="M330.9,413.2L324.6,285.9L424.2,262.8L523.8,285.9M424.2,262.8L424.2,377.6M523.8,285.9L517.5,413.2" fill="none" stroke="#1a1a1a" stroke-width="1.1"/>
<g stroke="#0c0c0c" stroke-width="0.46" stroke-linejoin="round"><path d="M424.2,317.8L428,318L424.2,318.7L420.5,318.6Z" fill="#17e569" stroke-width="0.37"/><path d="M420.4,317.7L424.2,317.8L420.5,318.6L416.7,318.5Z" fill="#17e65b" stroke-width="0.37"/><path d="M428,317.2L431.8,317.4L428,318L424.2,317.8Z" fill="#17e454" stroke-width="0.35"/><path d="M416.6,317.6L420.4,317.7L416.7,318.5L412.8,318.5Z" fill="#17e64d" stroke-width="0.37"/><path d="M424.2,317L428,317.2L424.2,317.8L420.4,317.7Z" fill="#17e546" stroke-width="0.35"/><path d="M431.8,316.7L435.6,317L431.8,317.4L428,317.2Z" fill="#17e441" stroke-width="0.33"/><path d="M412.7,317.6L416.6,317.6L412.8,318.5L409,318.5Z" fill="#17e741" stroke-width="0.38"/><path d="M420.4,316.9L424.2,317L420.4,317.7L416.6,317.6Z" fill="#17e637" stroke-width="0.35"/><path d="M428.1,316.4L431.8,316.7L428,317.2L424.2,317Z" fill="#17e532" stroke-width="0.33"/><path d="M435.7,316.4L439.5,316.7L435.6,317L431.8,316.7Z" fill="#17e430" stroke-width="0.30"/><path d="M408.8,317.6L412.7,317.6L409,318.5L405,318.6Z" fill="#17e835" stroke-width="0.38"/><path d="M416.5,316.8L420.4,316.9L416.6,317.6L412.7,317.6Z" fill="#17e72a" stroke-width="0.35"/><path d="M424.2,316.3L428.1,316.4L424.2,317L420.4,316.9Z" fill="#17e624" stroke-width="0.33"/><path d="M439.7,316.2L443.4,316.6L439.5,316.7L435.7,316.4Z" fill="#17e322" stroke-width="0.27"/><path d="M431.9,316.1L435.7,316.4L431.8,316.7L428.1,316.4Z" fill="#17e421" stroke-width="0.30"/><path d="M404.8,317.7L408.8,317.6L405,318.6L401.1,318.8Z" fill="#17e828" stroke-width="0.38"/><path d="M412.6,316.8L416.5,316.8L412.7,317.6L408.8,317.6Z" fill="#17e71d" stroke-width="0.36"/><path d="M420.3,316.1L424.2,316.3L420.4,316.9L416.5,316.8Z" fill="#19e617" stroke-width="0.33"/><path d="M443.6,316.2L447.4,316.7L443.4,316.6L439.7,316.2Z" fill="#19e217" stroke-width="0.24"/><path d="M428.1,315.9L431.9,316.1L428.1,316.4L424.2,316.3Z" fill="#1de517" stroke-width="0.30"/><path d="M435.9,315.9L439.7,316.2L435.7,316.4L431.9,316.1Z" fill="#1ce417" stroke-width="0.27"/><path d="M400.8,317.9L404.8,317.7L401.1,318.8L397.1,319Z" fill="#17e91d" stroke-width="0.38"/><path d="M408.6,316.8L412.6,316.8L408.8,317.6L404.8,317.7Z" fill="#1ee817" stroke-width="0.36"/><path d="M447.6,316.4L451.4,316.9L447.4,316.7L443.6,316.2Z" fill="#24e217" stroke-width="0.21"/><path d="M416.4,316.1L420.3,316.1L416.5,316.8L412.6,316.8Z" fill="#27e717" stroke-width="0.33"/><path d="M439.8,315.9L443.6,316.2L439.7,316.2L435.9,315.9Z" fill="#2ae317" stroke-width="0.24"/><path d="M424.2,315.7L428.1,315.9L424.2,316.3L420.3,316.1Z" fill="#2be617" stroke-width="0.30"/><path d="M432,315.6L435.9,315.9L431.9,316.1L428.1,315.9Z" fill="#2ce517" stroke-width="0.27"/><path d="M396.8,318.1L400.8,317.9L397.1,319L393,319.3Z" fill="#1ce917" stroke-width="0.39"/><path d="M404.6,316.9L408.6,316.8L404.8,317.7L400.8,317.9Z" fill="#2ae917" stroke-width="0.36"/><path d="M451.7,316.8L455.4,317.4L451.4,316.9L447.6,316.4Z" fill="#2de116" stroke-width="0.16"/><path d="M412.4,316.1L416.4,316.1L412.6,316.8L408.6,316.8Z" fill="#34e817" stroke-width="0.33"/><path d="M443.8,316L447.6,316.4L443.6,316.2L439.8,315.9Z" fill="#36e317" stroke-width="0.20"/><path d="M420.3,315.6L424.2,315.7L420.3,316.1L416.4,316.1Z" fill="#39e717" stroke-width="0.30"/><path d="M436,315.5L439.8,315.9L435.9,315.9L432,315.6Z" fill="#3ae417" stroke-width="0.24"/><path d="M428.1,315.4L432,315.6L428.1,315.9L424.2,315.7Z" fill="#3be617" stroke-width="0.27"/><path d="M392.7,318.4L396.8,318.1L393,319.3L388.9,319.6Z" fill="#26ea17" stroke-width="0.39"/><path d="M400.5,317.1L404.6,316.9L400.8,317.9L396.8,318.1Z" fill="#35e917" stroke-width="0.36"/><path d="M455.8,317.4L459.5,318L455.4,317.4L451.7,316.8Z" fill="#34e016" stroke-width="0.09"/><path d="M408.4,316.1L412.4,316.1L408.6,316.8L404.6,316.9Z" fill="#40e917" stroke-width="0.33"/><path d="M447.9,316.3L451.7,316.8L447.6,316.4L443.8,316Z" fill="#3fe217" stroke-width="0.15"/><path d="M416.3,315.5L420.3,315.6L416.4,316.1L412.4,316.1Z" fill="#47e817" stroke-width="0.31"/><path d="M440,315.6L443.8,316L439.8,315.9L436,315.5Z" fill="#47e317" stroke-width="0.20"/><path d="M424.2,315.2L428.1,315.4L424.2,315.7L420.3,315.6Z" fill="#4ae617" stroke-width="0.27"/><path d="M432.1,315.2L436,315.5L432,315.6L428.1,315.4Z" fill="#4be517" stroke-width="0.24"/><path d="M388.5,318.7L392.7,318.4L388.9,319.6L384.8,320Z" fill="#30eb17" stroke-width="0.39"/><path d="M459.9,318.1L463.6,318.7L459.5,318L455.8,317.4Z" fill="#3adf16" stroke-width="0.10"/><path d="M396.4,317.3L400.5,317.1L396.8,318.1L392.7,318.4Z" fill="#40ea17" stroke-width="0.36"/><path d="M452,316.8L455.8,317.4L451.7,316.8L447.9,316.3Z" fill="#47e116" stroke-width="0.08"/><path d="M404.4,316.2L408.4,316.1L404.6,316.9L400.5,317.1Z" fill="#4ce917" stroke-width="0.34"/><path d="M444.1,315.9L447.9,316.3L443.8,316L440,315.6Z" fill="#51e317" stroke-width="0.15"/><path d="M412.3,315.5L416.3,315.5L412.4,316.1L408.4,316.1Z" fill="#55e817" stroke-width="0.31"/><path d="M436.1,315.3L440,315.6L436,315.5L432.1,315.2Z" fill="#57e417" stroke-width="0.20"/><path d="M420.2,315.1L424.2,315.2L420.3,315.6L416.3,315.5Z" fill="#59e717" stroke-width="0.27"/><path d="M428.2,315L432.1,315.2L428.1,315.4L424.2,315.2Z" fill="#5ae617" stroke-width="0.24"/><path d="M384.3,319.1L388.5,318.7L384.8,320L380.6,320.4Z" fill="#3aeb18" stroke-width="0.39"/><path d="M464.1,319L467.8,319.7L463.6,318.7L459.9,318.1Z" fill="#3dde16" stroke-width="0.17"/><path d="M392.3,317.6L396.4,317.3L392.7,318.4L388.5,318.7Z" fill="#4aeb17" stroke-width="0.37"/><path d="M456.1,317.5L459.9,318.1L455.8,317.4L452,316.8Z" fill="#4de016" stroke-width="0.11"/><path d="M400.3,316.4L404.4,316.2L400.5,317.1L396.4,317.3Z" fill="#58ea17" stroke-width="0.34"/><path d="M448.2,316.3L452,316.8L447.9,316.3L444.1,315.9Z" fill="#59e217" stroke-width="0.08"/><path d="M408.2,315.5L412.3,315.5L408.4,316.1L404.4,316.2Z" fill="#61e917" stroke-width="0.31"/><path d="M440.2,315.5L444.1,315.9L440,315.6L436.1,315.3Z" fill="#62e417" stroke-width="0.15"/><path d="M416.2,315L420.2,315.1L416.3,315.5L412.3,315.5Z" fill="#67e817" stroke-width="0.27"/><path d="M432.2,315L436.1,315.3L432.1,315.2L428.2,315Z" fill="#67e517" stroke-width="0.20"/><path d="M424.2,314.8L428.2,315L424.2,315.2L420.2,315.1Z" fill="#69e717" stroke-width="0.24"/><path d="M380.1,319.6L384.3,319.1L380.6,320.4L376.4,321Z" fill="#42ec18" stroke-width="0.40"/><path d="M468.3,320.1L472,320.8L467.8,319.7L464.1,319Z" fill="#3fdd16" stroke-width="0.21"/><path d="M388.1,317.9L392.3,317.6L388.5,318.7L384.3,319.1Z" fill="#54eb18" stroke-width="0.37"/><path d="M460.3,318.4L464.1,319L459.9,318.1L456.1,317.5Z" fill="#51df16" stroke-width="0.17"/><path d="M396.1,316.6L400.3,316.4L396.4,317.3L392.3,317.6Z" fill="#63eb17" stroke-width="0.34"/><path d="M452.3,317L456.1,317.5L452,316.8L448.2,316.3Z" fill="#60e116" stroke-width="0.12"/><path d="M404.1,315.7L408.2,315.5L404.4,316.2L400.3,316.4Z" fill="#6dea17" stroke-width="0.31"/><path d="M444.3,315.9L448.2,316.3L444.1,315.9L440.2,315.5Z" fill="#6be317" stroke-width="0.08"/><path d="M412.2,315L416.2,315L412.3,315.5L408.2,315.5Z" fill="#74e917" stroke-width="0.27"/><path d="M436.3,315.2L440.2,315.5L436.1,315.3L432.2,315Z" fill="#73e517" stroke-width="0.14"/><path d="M420.2,314.7L424.2,314.8L420.2,315.1L416.2,315Z" fill="#78e717" stroke-width="0.24"/><path d="M428.2,314.8L432.2,315L428.2,315L424.2,314.8Z" fill="#77e617" stroke-width="0.19"/><path d="M472.6,321.4L476.3,322.2L472,320.8L468.3,320.1Z" fill="#3fdc16" stroke-width="0.25"/><path d="M375.8,320.1L380.1,319.6L376.4,321L372.1,321.6Z" fill="#4aec18" stroke-width="0.40"/><path d="M464.6,319.4L468.3,320.1L464.1,319L460.3,318.4Z" fill="#52de16" stroke-width="0.22"/><path d="M383.9,318.3L388.1,317.9L384.3,319.1L380.1,319.6Z" fill="#5eec18" stroke-width="0.37"/><path d="M456.5,317.8L460.3,318.4L456.1,317.5L452.3,317Z" fill="#64e016" stroke-width="0.18"/><path d="M391.9,316.9L396.1,316.6L392.3,317.6L388.1,317.9Z" fill="#6deb18" stroke-width="0.34"/><path d="M448.5,316.5L452.3,317L448.2,316.3L444.3,315.9Z" fill="#71e217" stroke-width="0.13"/><path d="M400,315.8L404.1,315.7L400.3,316.4L396.1,316.6Z" fill="#79ea17" stroke-width="0.31"/><path d="M440.4,315.5L444.3,315.9L440.2,315.5L436.3,315.2Z" fill="#7ce417" stroke-width="0.08"/><path d="M408,315.1L412.2,315L408.2,315.5L404.1,315.7Z" fill="#81e917" stroke-width="0.28"/><path d="M432.3,314.9L436.3,315.2L432.2,315L428.2,314.8Z" fill="#83e517" stroke-width="0.14"/><path d="M416.1,314.7L420.2,314.7L416.2,315L412.2,315Z" fill="#85e817" stroke-width="0.24"/><path d="M424.2,314.6L428.2,314.8L424.2,314.8L420.2,314.7Z" fill="#86e717" stroke-width="0.19"/><path d="M476.9,322.8L480.6,323.7L476.3,322.2L472.6,321.4Z" fill="#3cda16" stroke-width="0.29"/><path d="M371.5,320.7L375.8,320.1L372.1,321.6L367.8,322.2Z" fill="#51ed18" stroke-width="0.40"/><path d="M468.8,320.6L472.6,321.4L468.3,320.1L464.6,319.4Z" fill="#53dd16" stroke-width="0.26"/><path d="M379.6,318.8L383.9,318.3L380.1,319.6L375.8,320.1Z" fill="#65ec18" stroke-width="0.37"/><path d="M460.7,318.8L464.6,319.4L460.3,318.4L456.5,317.8Z" fill="#67df16" stroke-width="0.23"/><path d="M387.7,317.3L391.9,316.9L388.1,317.9L383.9,318.3Z" fill="#76ec18" stroke-width="0.34"/><path d="M452.7,317.2L456.5,317.8L452.3,317L448.5,316.5Z" fill="#77e116" stroke-width="0.19"/><path d="M395.8,316.1L400,315.8L396.1,316.6L391.9,316.9Z" fill="#84eb18" stroke-width="0.31"/><path d="M444.5,316L448.5,316.5L444.3,315.9L440.4,315.5Z" fill="#84e317" stroke-width="0.14"/><path d="M403.9,315.2L408,315.1L404.1,315.7L400,315.8Z" fill="#8dea17" stroke-width="0.28"/><path d="M436.4,315.2L440.4,315.5L436.3,315.2L432.3,314.9Z" fill="#8de517" stroke-width="0.08"/><path d="M412,314.7L416.1,314.7L412.2,315L408,315.1Z" fill="#93e917" stroke-width="0.24"/><path d="M428.3,314.7L432.3,314.9L428.2,314.8L424.2,314.6Z" fill="#93e617" stroke-width="0.13"/><path d="M420.1,314.5L424.2,314.6L420.2,314.7L416.1,314.7Z" fill="#94e817" stroke-width="0.19"/><path d="M481.2,324.5L484.9,325.4L480.6,323.7L476.9,322.8Z" fill="#39d916" stroke-width="0.32"/><path d="M367.1,321.4L371.5,320.7L367.8,322.2L363.5,322.9Z" fill="#57ed18" stroke-width="0.41"/><path d="M473.1,322.1L476.9,322.8L472.6,321.4L468.8,320.6Z" fill="#52db16" stroke-width="0.29"/><path d="M375.2,319.4L379.6,318.8L375.8,320.1L371.5,320.7Z" fill="#6eed18" stroke-width="0.38"/><path d="M465,319.9L468.8,320.6L464.6,319.4L460.7,318.8Z" fill="#67de16" stroke-width="0.27"/><path d="M383.4,317.7L387.7,317.3L383.9,318.3L379.6,318.8Z" fill="#80ec18" stroke-width="0.35"/><path d="M456.9,318.2L460.7,318.8L456.5,317.8L452.7,317.2Z" fill="#79e016" stroke-width="0.23"/><path d="M391.5,316.4L395.8,316.1L391.9,316.9L387.7,317.3Z" fill="#8fec18" stroke-width="0.31"/><path d="M448.7,316.7L452.7,317.2L448.5,316.5L444.5,316Z" fill="#89e217" stroke-width="0.20"/><path d="M399.7,315.4L403.9,315.2L400,315.8L395.8,316.1Z" fill="#99eb17" stroke-width="0.28"/><path d="M440.6,315.7L444.5,316L440.4,315.5L436.4,315.2Z" fill="#94e417" stroke-width="0.14"/><path d="M407.8,314.7L412,314.7L408,315.1L403.9,315.2Z" fill="#a0ea17" stroke-width="0.24"/><path d="M432.4,314.9L436.4,315.2L432.3,314.9L428.3,314.7Z" fill="#9de617" stroke-width="0.08"/><path d="M416,314.5L420.1,314.5L416.1,314.7L412,314.7Z" fill="#a2e917" stroke-width="0.19"/><path d="M424.2,314.5L428.3,314.7L424.2,314.6L420.1,314.5Z" fill="#a1e717" stroke-width="0.13"/><path d="M485.6,326.4L489.3,327.3L484.9,325.4L481.2,324.5Z" fill="#33d816" stroke-width="0.35"/><path d="M477.5,323.7L481.2,324.5L476.9,322.8L473.1,322.1Z" fill="#4eda16" stroke-width="0.32"/><path d="M362.7,322.1L367.1,321.4L363.5,322.9L359,323.7Z" fill="#5dee18" stroke-width="0.41"/><path d="M469.3,321.3L473.1,322.1L468.8,320.6L465,319.9Z" fill="#66dc16" stroke-width="0.30"/><path d="M370.8,320L375.2,319.4L371.5,320.7L367.1,321.4Z" fill="#75ee18" stroke-width="0.38"/><path d="M461.2,319.3L465,319.9L460.7,318.8L456.9,318.2Z" fill="#7bdf16" stroke-width="0.27"/><path d="M379,318.2L383.4,317.7L379.6,318.8L375.2,319.4Z" fill="#89ed18" stroke-width="0.35"/><path d="M453,317.6L456.9,318.2L452.7,317.2L448.7,316.7Z" fill="#8ce116" stroke-width="0.24"/><path d="M387.2,316.7L391.5,316.4L387.7,317.3L383.4,317.7Z" fill="#98ec18" stroke-width="0.32"/><path d="M444.8,316.3L448.7,316.7L444.5,316L440.6,315.7Z" fill="#9ae317" stroke-width="0.20"/><path d="M490,328.4L493.7,329.4L489.3,327.3L485.6,326.4Z" fill="#2cd615" stroke-width="0.37"/><path d="M395.4,315.6L399.7,315.4L395.8,316.1L391.5,316.4Z" fill="#a4ec18" stroke-width="0.28"/><path d="M436.6,315.3L440.6,315.7L436.4,315.2L432.4,314.9Z" fill="#a5e517" stroke-width="0.15"/><path d="M403.6,314.9L407.8,314.7L403.9,315.2L399.7,315.4Z" fill="#aceb17" stroke-width="0.24"/><path d="M428.3,314.7L432.4,314.9L428.3,314.7L424.2,314.5Z" fill="#ade617" stroke-width="0.08"/><path d="M411.9,314.5L416,314.5L412,314.7L407.8,314.7Z" fill="#b0e917" stroke-width="0.19"/><path d="M420.1,314.4L424.2,314.5L420.1,314.5L416,314.5Z" fill="#b0e817" stroke-width="0.12"/><path d="M481.9,325.5L485.6,326.4L481.2,324.5L477.5,323.7Z" fill="#49d916" stroke-width="0.35"/><path d="M358.2,322.9L362.7,322.1L359,323.7L354.6,324.6Z" fill="#63ee18" stroke-width="0.41"/><path d="M473.7,322.9L477.5,323.7L473.1,322.1L469.3,321.3Z" fill="#63db16" stroke-width="0.33"/><path d="M366.4,320.6L370.8,320L367.1,321.4L362.7,322.1Z" fill="#7bee18" stroke-width="0.38"/><path d="M465.5,320.6L469.3,321.3L465,319.9L461.2,319.3Z" fill="#7ade16" stroke-width="0.31"/><path d="M374.6,318.7L379,318.2L375.2,319.4L370.8,320Z" fill="#91ee18" stroke-width="0.35"/><path d="M457.3,318.7L461.2,319.3L456.9,318.2L453,317.6Z" fill="#8ee016" stroke-width="0.28"/><path d="M494.5,330.7L498.1,331.7L493.7,329.4L490,328.4Z" fill="#24d515" stroke-width="0.40"/><path d="M382.9,317.2L387.2,316.7L383.4,317.7L379,318.2Z" fill="#a1ed18" stroke-width="0.32"/><path d="M449,317.2L453,317.6L448.7,316.7L444.8,316.3Z" fill="#9ee217" stroke-width="0.25"/><path d="M391.1,315.9L395.4,315.6L391.5,316.4L387.2,316.7Z" fill="#aeec18" stroke-width="0.28"/><path d="M440.8,315.9L444.8,316.3L440.6,315.7L436.6,315.3Z" fill="#ace417" stroke-width="0.21"/><path d="M399.4,315.1L403.6,314.9L399.7,315.4L395.4,315.6Z" fill="#b7eb18" stroke-width="0.24"/><path d="M486.3,327.5L490,328.4L485.6,326.4L481.9,325.5Z" fill="#42d716" stroke-width="0.38"/><path d="M432.5,315.1L436.6,315.3L432.4,314.9L428.3,314.7Z" fill="#b5e617" stroke-width="0.16"/><path d="M407.6,314.5L411.9,314.5L407.8,314.7L403.6,314.9Z" fill="#bdea17" stroke-width="0.19"/><path d="M424.2,314.5L428.3,314.7L424.2,314.5L420.1,314.4Z" fill="#bbe717" stroke-width="0.08"/><path d="M415.9,314.4L420.1,314.4L416,314.5L411.9,314.5Z" fill="#bee917" stroke-width="0.12"/><path d="M478.1,324.7L481.9,325.5L477.5,323.7L473.7,322.9Z" fill="#5eda16" stroke-width="0.36"/><path d="M353.7,323.8L358.2,322.9L354.6,324.6L350.1,325.5Z" fill="#67ef18" stroke-width="0.42"/><path d="M469.9,322.2L473.7,322.9L469.3,321.3L465.5,320.6Z" fill="#77dc16" stroke-width="0.34"/><path d="M361.9,321.4L366.4,320.6L362.7,322.1L358.2,322.9Z" fill="#81ef18" stroke-width="0.39"/><path d="M499,333.2L502.6,334.2L498.1,331.7L494.5,330.7Z" fill="#1ad315" stroke-width="0.42"/><path d="M461.6,320L465.5,320.6L461.2,319.3L457.3,318.7Z" fill="#8edf16" stroke-width="0.31"/><path d="M370.2,319.3L374.6,318.7L370.8,320L366.4,320.6Z" fill="#98ee18" stroke-width="0.36"/><path d="M453.3,318.2L457.3,318.7L453,317.6L449,317.2Z" fill="#a1e116" stroke-width="0.29"/><path d="M378.5,317.7L382.9,317.2L379,318.2L374.6,318.7Z" fill="#aaee18" stroke-width="0.32"/><path d="M490.8,329.7L494.5,330.7L490,328.4L486.3,327.5Z" fill="#3ad615" stroke-width="0.41"/><path d="M445,316.7L449,317.2L444.8,316.3L440.8,315.9Z" fill="#b0e317" stroke-width="0.25"/><path d="M386.8,316.3L391.1,315.9L387.2,316.7L382.9,317.2Z" fill="#b8ed18" stroke-width="0.28"/><path d="M436.7,315.6L440.8,315.9L436.6,315.3L432.5,315.1Z" fill="#bce517" stroke-width="0.21"/><path d="M395.1,315.3L399.4,315.1L395.4,315.6L391.1,315.9Z" fill="#c2ec18" stroke-width="0.24"/><path d="M428.4,314.9L432.5,315.1L428.3,314.7L424.2,314.5Z" fill="#c5e717" stroke-width="0.16"/><path d="M403.4,314.7L407.6,314.5L403.6,314.9L399.4,315.1Z" fill="#c9eb17" stroke-width="0.19"/><path d="M420,314.4L424.2,314.5L420.1,314.4L415.9,314.4Z" fill="#cae817" stroke-width="0.08"/><path d="M411.7,314.4L415.9,314.4L411.9,314.5L407.6,314.5Z" fill="#cbea17" stroke-width="0.12"/><path d="M482.5,326.6L486.3,327.5L481.9,325.5L478.1,324.7Z" fill="#58d816" stroke-width="0.39"/><path d="M349.2,324.7L353.7,323.8L350.1,325.5L345.5,326.5Z" fill="#6cef18" stroke-width="0.42"/><path d="M474.3,323.9L478.1,324.7L473.7,322.9L469.9,322.2Z" fill="#73db16" stroke-width="0.37"/><path d="M503.5,335.8L507.1,336.9L502.6,334.2L499,333.2Z" fill="#15d21c" stroke-width="0.44"/><path d="M357.4,322.2L361.9,321.4L358.2,322.9L353.7,323.8Z" fill="#86ef18" stroke-width="0.39"/><path d="M466,321.5L469.9,322.2L465.5,320.6L461.6,320Z" fill="#8bdd16" stroke-width="0.35"/><path d="M365.7,320L370.2,319.3L366.4,320.6L361.9,321.4Z" fill="#9eef18" stroke-width="0.36"/><path d="M495.3,332.2L499,333.2L494.5,330.7L490.8,329.7Z" fill="#2fd415" stroke-width="0.43"/><path d="M457.7,319.4L461.6,320L457.3,318.7L453.3,318.2Z" fill="#a1e016" stroke-width="0.32"/><path d="M374,318.2L378.5,317.7L374.6,318.7L370.2,319.3Z" fill="#b2ee18" stroke-width="0.32"/><path d="M449.3,317.7L453.3,318.2L449,317.2L445,316.7Z" fill="#b3e217" stroke-width="0.29"/><path d="M382.3,316.8L386.8,316.3L382.9,317.2L378.5,317.7Z" fill="#c1ee18" stroke-width="0.28"/><path d="M487,328.8L490.8,329.7L486.3,327.5L482.5,326.6Z" fill="#50d716" stroke-width="0.41"/><path d="M441,316.4L445,316.7L440.8,315.9L436.7,315.6Z" fill="#c1e417" stroke-width="0.26"/><path d="M390.7,315.6L395.1,315.3L391.1,315.9L386.8,316.3Z" fill="#cded18" stroke-width="0.24"/><path d="M432.6,315.4L436.7,315.6L432.5,315.1L428.4,314.9Z" fill="#cde617" stroke-width="0.22"/><path d="M399.1,314.9L403.4,314.7L399.4,315.1L395.1,315.3Z" fill="#d4ec18" stroke-width="0.19"/><path d="M424.2,314.7L428.4,314.9L424.2,314.5L420,314.4Z" fill="#d4e817" stroke-width="0.17"/><path d="M407.4,314.5L411.7,314.4L407.6,314.5L403.4,314.7Z" fill="#d8ea17" stroke-width="0.11"/><path d="M415.8,314.4L420,314.4L415.9,314.4L411.7,314.4Z" fill="#d8e917" stroke-width="0.09"/><path d="M344.5,325.7L349.2,324.7L345.5,326.5L340.9,327.6Z" fill="#6ff018" stroke-width="0.43"/><path d="M508,338.7L511.6,339.8L507.1,336.9L503.5,335.8Z" fill="#15d02a"/><path d="M478.7,325.8L482.5,326.6L478.1,324.7L474.3,323.9Z" fill="#6dda16" stroke-width="0.40"/><path d="M352.8,323.1L357.4,322.2L353.7,323.8L349.2,324.7Z" fill="#8bef18" stroke-width="0.40"/><path d="M470.4,323.2L474.3,323.9L469.9,322.2L466,321.5Z" fill="#87dc16" stroke-width="0.38"/><path d="M499.8,334.8L503.5,335.8L499,333.2L495.3,332.2Z" fill="#24d315" stroke-width="0.45"/><path d="M361.2,320.8L365.7,320L361.9,321.4L357.4,322.2Z" fill="#a4ef18" stroke-width="0.36"/><path d="M462,320.9L466,321.5L461.6,320L457.7,319.4Z" fill="#9fde16" stroke-width="0.35"/><path d="M369.5,318.9L374,318.2L370.2,319.3L365.7,320Z" fill="#b9ef18" stroke-width="0.33"/><path d="M453.7,318.9L457.7,319.4L453.3,318.2L449.3,317.7Z" fill="#b4e116" stroke-width="0.33"/><path d="M491.5,331.2L495.3,332.2L490.8,329.7L487,328.8Z" fill="#46d615" stroke-width="0.44"/><path d="M377.9,317.3L382.3,316.8L378.5,317.7L374,318.2Z" fill="#caee18" stroke-width="0.29"/><path d="M445.3,317.3L449.3,317.7L445,316.7L441,316.4Z" fill="#c4e317" stroke-width="0.30"/><path d="M512.6,341.8L516.2,342.9L511.6,339.8L508,338.7Z" fill="#15cf38"/><path d="M386.3,316L390.7,315.6L386.8,316.3L382.3,316.8Z" fill="#d7ed18" stroke-width="0.24"/><path d="M436.9,316.1L441,316.4L436.7,315.6L432.6,315.4Z" fill="#d2e517" stroke-width="0.27"/><path d="M483.2,328L487,328.8L482.5,326.6L478.7,325.8Z" fill="#65d816" stroke-width="0.42"/><path d="M394.7,315.1L399.1,314.9L395.1,315.3L390.7,315.6Z" fill="#dfec18" stroke-width="0.19"/><path d="M339.9,326.8L344.5,325.7L340.9,327.6L336.3,328.7Z" fill="#72f018" stroke-width="0.43"/><path d="M428.4,315.2L432.6,315.4L428.4,314.9L424.2,314.7Z" fill="#dce717" stroke-width="0.23"/><path d="M403.1,314.6L407.4,314.5L403.4,314.7L399.1,314.9Z" fill="#e5eb18" stroke-width="0.11"/><path d="M420,314.6L424.2,314.7L420,314.4L415.8,314.4Z" fill="#e3e817" stroke-width="0.17"/><path d="M411.6,314.4L415.8,314.4L411.7,314.4L407.4,314.5Z" fill="#e6ea17" stroke-width="0.10"/><path d="M504.4,337.6L508,338.7L503.5,335.8L499.8,334.8Z" fill="#17d115"/><path d="M474.9,325.1L478.7,325.8L474.3,323.9L470.4,323.2Z" fill="#82db16" stroke-width="0.40"/><path d="M348.2,324L352.8,323.1L349.2,324.7L344.5,325.7Z" fill="#8ff018" stroke-width="0.40"/><path d="M466.5,322.5L470.4,323.2L466,321.5L462,320.9Z" fill="#9cdd16" stroke-width="0.38"/><path d="M356.6,321.6L361.2,320.8L357.4,322.2L352.8,323.1Z" fill="#a9f018" stroke-width="0.37"/><path d="M496.1,333.8L499.8,334.8L495.3,332.2L491.5,331.2Z" fill="#3bd415" stroke-width="0.46"/><path d="M458.1,320.3L462,320.9L457.7,319.4L453.7,318.9Z" fill="#b2e016" stroke-width="0.36"/><path d="M517.3,345.1L520.8,346.3L516.2,342.9L512.6,341.8Z" fill="#15cd49"/><path d="M365,319.6L369.5,318.9L365.7,320L361.2,320.8Z" fill="#bfef18" stroke-width="0.33"/><path d="M449.6,318.5L453.7,318.9L449.3,317.7L445.3,317.3Z" fill="#c6e217" stroke-width="0.33"/><path d="M373.4,317.8L377.9,317.3L374,318.2L369.5,318.9Z" fill="#d1ef18" stroke-width="0.29"/><path d="M487.7,330.3L491.5,331.2L487,328.8L483.2,328Z" fill="#5cd715" stroke-width="0.45"/><path d="M441.2,317L445.3,317.3L441,316.4L436.9,316.1Z" fill="#d5e417" stroke-width="0.31"/><path d="M381.8,316.5L386.3,316L382.3,316.8L377.9,317.3Z" fill="#e0ee18" stroke-width="0.24"/><path d="M335.2,328L339.9,326.8L336.3,328.7L331.6,329.9Z" fill="#74f018" stroke-width="0.44"/><path d="M432.7,315.8L436.9,316.1L432.6,315.4L428.4,315.2Z" fill="#e3e617" stroke-width="0.27"/><path d="M390.3,315.5L394.7,315.1L390.7,315.6L386.3,316Z" fill="#eaed18" stroke-width="0.19"/><path d="M509,340.7L512.6,341.8L508,338.7L504.4,337.6Z" fill="#15d021"/><path d="M424.2,315L428.4,315.2L424.2,314.7L420,314.6Z" fill="#e8e417" stroke-width="0.23"/><path d="M398.8,314.8L403.1,314.6L399.1,314.9L394.7,315.1Z" fill="#ece818" stroke-width="0.11"/><path d="M415.7,314.6L420,314.6L415.8,314.4L411.6,314.4Z" fill="#e9e217" stroke-width="0.18"/><path d="M407.2,314.5L411.6,314.4L407.4,314.5L403.1,314.6Z" fill="#ebe317" stroke-width="0.10"/><path d="M479.4,327.1L483.2,328L478.7,325.8L474.9,325.1Z" fill="#7ad916" stroke-width="0.43"/><path d="M343.5,325.1L348.2,324L344.5,325.7L339.9,326.8Z" fill="#93f018" stroke-width="0.40"/><path d="M470.9,324.3L474.9,325.1L470.4,323.2L466.5,322.5Z" fill="#96dc16" stroke-width="0.41"/><path d="M500.7,336.6L504.4,337.6L499.8,334.8L496.1,333.8Z" fill="#2ed315"/><path d="M351.9,322.5L356.6,321.6L352.8,323.1L348.2,324Z" fill="#aef018" stroke-width="0.37"/><path d="M462.5,321.9L466.5,322.5L462,320.9L458.1,320.3Z" fill="#afde16" stroke-width="0.39"/><path d="M360.4,320.3L365,319.6L361.2,320.8L356.6,321.6Z" fill="#c6f018" stroke-width="0.33"/><path d="M492.3,332.8L496.1,333.8L491.5,331.2L487.7,330.3Z" fill="#51d515"/><path d="M454,319.8L458.1,320.3L453.7,318.9L449.6,318.5Z" fill="#c5e116" stroke-width="0.37"/><path d="M368.8,318.5L373.4,317.8L369.5,318.9L365,319.6Z" fill="#d9ef18" stroke-width="0.29"/><path d="M513.7,343.9L517.3,345.1L512.6,341.8L509,340.7Z" fill="#15ce31"/><path d="M445.5,318L449.6,318.5L445.3,317.3L441.2,317Z" fill="#d8e317" stroke-width="0.34"/><path d="M330.4,329.2L335.2,328L331.6,329.9L326.8,331.2Z" fill="#75f118" stroke-width="0.44"/><path d="M377.3,317L381.8,316.5L377.9,317.3L373.4,317.8Z" fill="#e8ef18" stroke-width="0.24"/><path d="M483.9,329.4L487.7,330.3L483.2,328L479.4,327.1Z" fill="#71d816" stroke-width="0.45"/><path d="M437,316.7L441.2,317L436.9,316.1L432.7,315.8Z" fill="#e5e317" stroke-width="0.31"/><path d="M385.8,315.9L390.3,315.5L386.3,316L381.8,316.5Z" fill="#eee818" stroke-width="0.19"/><path d="M428.5,315.6L432.7,315.8L428.4,315.2L424.2,315Z" fill="#e7db17" stroke-width="0.28"/><path d="M394.3,315.1L398.8,314.8L394.7,315.1L390.3,315.5Z" fill="#eddf18" stroke-width="0.11"/><path d="M419.9,315L424.2,315L420,314.6L415.7,314.6Z" fill="#e9d717" stroke-width="0.24"/><path d="M402.9,314.7L407.2,314.5L403.1,314.6L398.8,314.8Z" fill="#ecd818" stroke-width="0.11"/><path d="M411.4,314.6L415.7,314.6L411.6,314.4L407.2,314.5Z" fill="#ead617" stroke-width="0.18"/><path d="M338.8,326.2L343.5,325.1L339.9,326.8L335.2,328Z" fill="#96f118" stroke-width="0.41"/><path d="M505.3,339.6L509,340.7L504.4,337.6L500.7,336.6Z" fill="#1fd115"/><path d="M475.5,326.4L479.4,327.1L474.9,325.1L470.9,324.3Z" fill="#8fda16" stroke-width="0.44"/><path d="M347.2,323.5L351.9,322.5L348.2,324L343.5,325.1Z" fill="#b2f118" stroke-width="0.37"/><path d="M467,323.7L470.9,324.3L466.5,322.5L462.5,321.9Z" fill="#aadd16" stroke-width="0.42"/><path d="M496.9,335.6L500.7,336.6L496.1,333.8L492.3,332.8Z" fill="#44d415"/><path d="M355.7,321.2L360.4,320.3L356.6,321.6L351.9,322.5Z" fill="#cbf018" stroke-width="0.34"/><path d="M458.5,321.3L462.5,321.9L458.1,320.3L454,319.8Z" fill="#c2df16" stroke-width="0.40"/><path d="M364.2,319.2L368.8,318.5L365,319.6L360.4,320.3Z" fill="#e0f018" stroke-width="0.29"/><path d="M449.9,319.3L454,319.8L449.6,318.5L445.5,318Z" fill="#d7e217" stroke-width="0.37"/><path d="M488.5,331.9L492.3,332.8L487.7,330.3L483.9,329.4Z" fill="#66d615"/><path d="M372.7,317.6L377.3,317L373.4,317.8L368.8,318.5Z" fill="#efee18" stroke-width="0.25"/><path d="M441.4,317.7L445.5,318L441.2,317L437,316.7Z" fill="#e4df17" stroke-width="0.35"/><path d="M510,342.8L513.7,343.9L509,340.7L505.3,339.6Z" fill="#15cf1b"/><path d="M381.3,316.3L385.8,315.9L381.8,316.5L377.3,317Z" fill="#efe018" stroke-width="0.19"/><path d="M432.8,316.4L437,316.7L432.7,315.8L428.5,315.6Z" fill="#e6d517" stroke-width="0.32"/><path d="M480,328.6L483.9,329.4L479.4,327.1L475.5,326.4Z" fill="#86d916"/><path d="M389.9,315.4L394.3,315.1L390.3,315.5L385.8,315.9Z" fill="#eed518" stroke-width="0.11"/><path d="M334,327.4L338.8,326.2L335.2,328L330.4,329.2Z" fill="#98f118" stroke-width="0.41"/><path d="M424.2,315.5L428.5,315.6L424.2,315L419.9,315Z" fill="#e8ce17" stroke-width="0.28"/><path d="M398.4,314.9L402.9,314.7L398.8,314.8L394.3,315.1Z" fill="#ecce18" stroke-width="0.11"/><path d="M415.6,314.9L419.9,315L415.7,314.6L411.4,314.6Z" fill="#e9cb17" stroke-width="0.24"/><path d="M407,314.7L411.4,314.6L407.2,314.5L402.9,314.7Z" fill="#ebcb18" stroke-width="0.19"/><path d="M501.6,338.6L505.3,339.6L500.7,336.6L496.9,335.6Z" fill="#36d215"/><path d="M471.5,325.7L475.5,326.4L470.9,324.3L467,323.7Z" fill="#a4dc16" stroke-width="0.44"/><path d="M342.5,324.6L347.2,323.5L343.5,325.1L338.8,326.2Z" fill="#b6f118" stroke-width="0.38"/><path d="M463,323.1L467,323.7L462.5,321.9L458.5,321.3Z" fill="#bede16" stroke-width="0.42"/><path d="M351,322.1L355.7,321.2L351.9,322.5L347.2,323.5Z" fill="#d0f118" stroke-width="0.34"/><path d="M493.1,334.7L496.9,335.6L492.3,332.8L488.5,331.9Z" fill="#5ad515"/><path d="M454.4,320.8L458.5,321.3L454,319.8L449.9,319.3Z" fill="#d5e016" stroke-width="0.40"/><path d="M359.5,320L364.2,319.2L360.4,320.3L355.7,321.2Z" fill="#e5f018" stroke-width="0.30"/><path d="M445.8,318.9L449.9,319.3L445.5,318L441.4,317.7Z" fill="#e3dc17" stroke-width="0.38"/><path d="M368.1,318.3L372.7,317.6L368.8,318.5L364.2,319.2Z" fill="#f0e818" stroke-width="0.25"/><path d="M484.6,331.1L488.5,331.9L483.9,329.4L480,328.6Z" fill="#7bd716"/><path d="M437.2,317.4L441.4,317.7L437,316.7L432.8,316.4Z" fill="#e5d117" stroke-width="0.35"/><path d="M376.7,316.9L381.3,316.3L377.3,317L372.7,317.6Z" fill="#efd818" stroke-width="0.19"/><path d="M506.3,341.8L510,342.8L505.3,339.6L501.6,338.6Z" fill="#26d115"/><path d="M428.5,316.2L432.8,316.4L428.5,315.6L424.2,315.5Z" fill="#e7c717" stroke-width="0.32"/><path d="M385.3,315.9L389.9,315.4L385.8,315.9L381.3,316.3Z" fill="#eecd18" stroke-width="0.11"/><path d="M419.9,315.4L424.2,315.5L419.9,315L415.6,314.9Z" fill="#e9c117" stroke-width="0.29"/><path d="M394,315.2L398.4,314.9L394.3,315.1L389.9,315.4Z" fill="#edc518" stroke-width="0.12"/><path d="M411.2,315L415.6,314.9L411.4,314.6L407,314.7Z" fill="#eabf17" stroke-width="0.25"/><path d="M402.6,314.9L407,314.7L402.9,314.7L398.4,314.9Z" fill="#ecc018" stroke-width="0.19"/><path d="M476.1,327.9L480,328.6L475.5,326.4L471.5,325.7Z" fill="#9bda16"/><path d="M337.7,325.7L342.5,324.6L338.8,326.2L334,327.4Z" fill="#b8f218" stroke-width="0.38"/><path d="M467.5,325L471.5,325.7L467,323.7L463,323.1Z" fill="#b7dd16" stroke-width="0.45"/><path d="M497.8,337.6L501.6,338.6L496.9,335.6L493.1,334.7Z" fill="#4cd315"/><path d="M346.2,323.1L351,322.1L347.2,323.5L342.5,324.6Z" fill="#d4f118" stroke-width="0.34"/><path d="M458.9,322.5L463,323.1L458.5,321.3L454.4,320.8Z" fill="#d1df16" stroke-width="0.43"/><path d="M354.8,320.9L359.5,320L355.7,321.2L351,322.1Z" fill="#ebf118" stroke-width="0.30"/><path d="M489.2,333.8L493.1,334.7L488.5,331.9L484.6,331.1Z" fill="#70d615"/><path d="M450.2,320.4L454.4,320.8L449.9,319.3L445.8,318.9Z" fill="#e1dc17" stroke-width="0.41"/><path d="M363.4,319L368.1,318.3L364.2,319.2L359.5,320Z" fill="#f0e318" stroke-width="0.25"/><path d="M441.6,318.6L445.8,318.9L441.4,317.7L437.2,317.4Z" fill="#e4cd17" stroke-width="0.39"/><path d="M372.1,317.5L376.7,316.9L372.7,317.6L368.1,318.3Z" fill="#f0d218" stroke-width="0.19"/><path d="M480.7,330.3L484.6,331.1L480,328.6L476.1,327.9Z" fill="#91d916"/><path d="M432.9,317.2L437.2,317.4L432.8,316.4L428.5,316.2Z" fill="#e6c217" stroke-width="0.36"/><path d="M380.8,316.3L385.3,315.9L381.3,316.3L376.7,316.9Z" fill="#efc518" stroke-width="0.10"/><path d="M424.2,316.1L428.5,316.2L424.2,315.5L419.9,315.4Z" fill="#e8ba17" stroke-width="0.33"/><path d="M389.4,315.6L394,315.2L389.9,315.4L385.3,315.9Z" fill="#eebc18" stroke-width="0.12"/><path d="M415.5,315.4L419.9,315.4L415.6,314.9L411.2,315Z" fill="#eab517" stroke-width="0.29"/><path d="M398.1,315.2L402.6,314.9L398.4,314.9L394,315.2Z" fill="#edb618" stroke-width="0.20"/><path d="M406.8,315.1L411.2,315L407,314.7L402.6,314.9Z" fill="#ebb418" stroke-width="0.25"/><path d="M502.5,340.7L506.3,341.8L501.6,338.6L497.8,337.6Z" fill="#3dd215"/><path d="M472.1,327.2L476.1,327.9L471.5,325.7L467.5,325Z" fill="#afdb16"/><path d="M341.4,324.2L346.2,323.1L342.5,324.6L337.7,325.7Z" fill="#d6f218" stroke-width="0.35"/><path d="M463.4,324.4L467.5,325L463,323.1L458.9,322.5Z" fill="#cbde16" stroke-width="0.46"/><path d="M493.9,336.7L497.8,337.6L493.1,334.7L489.2,333.8Z" fill="#62d415"/><path d="M350.1,321.8L354.8,320.9L351,322.1L346.2,323.1Z" fill="#f0f218" stroke-width="0.31"/><path d="M454.7,322L458.9,322.5L454.4,320.8L450.2,320.4Z" fill="#e0dd16" stroke-width="0.44"/><path d="M358.7,319.8L363.4,319L359.5,320L354.8,320.9Z" fill="#f1dd18" stroke-width="0.26"/><path d="M485.3,332.9L489.2,333.8L484.6,331.1L480.7,330.3Z" fill="#85d716"/><path d="M446,320L450.2,320.4L445.8,318.9L441.6,318.6Z" fill="#e3cc17" stroke-width="0.42"/><path d="M367.4,318.2L372.1,317.5L368.1,318.3L363.4,319Z" fill="#f0cc18" stroke-width="0.19"/><path d="M437.3,318.3L441.6,318.6L437.2,317.4L432.9,317.2Z" fill="#e5bf17" stroke-width="0.39"/><path d="M376.1,316.9L380.8,316.3L376.7,316.9L372.1,317.5Z" fill="#f0be18" stroke-width="0.11"/><path d="M428.6,317L432.9,317.2L428.5,316.2L424.2,316.1Z" fill="#e7b417" stroke-width="0.36"/><path d="M476.7,329.6L480.7,330.3L476.1,327.9L472.1,327.2Z" fill="#a5da16"/><path d="M384.8,316L389.4,315.6L385.3,315.9L380.8,316.3Z" fill="#efb318" stroke-width="0.12"/><path d="M419.8,316.1L424.2,316.1L419.9,315.4L415.5,315.4Z" fill="#e9ad17" stroke-width="0.33"/><path d="M393.6,315.5L398.1,315.2L394,315.2L389.4,315.6Z" fill="#edac18" stroke-width="0.20"/><path d="M411.1,315.5L415.5,315.4L411.2,315L406.8,315.1Z" fill="#eba917" stroke-width="0.30"/><path d="M402.3,315.3L406.8,315.1L402.6,314.9L398.1,315.2Z" fill="#eca918" stroke-width="0.25"/><path d="M498.6,339.8L502.5,340.7L497.8,337.6L493.9,336.7Z" fill="#53d315"/><path d="M468,326.5L472.1,327.2L467.5,325L463.4,324.4Z" fill="#c3dc16"/><path d="M459.3,323.9L463.4,324.4L458.9,322.5L454.7,322Z" fill="#dedf16"/><path d="M345.2,322.8L350.1,321.8L346.2,323.1L341.4,324.2Z" fill="#f2f018" stroke-width="0.31"/><path d="M490,335.8L493.9,336.7L489.2,333.8L485.3,332.9Z" fill="#78d515"/><path d="M450.6,321.6L454.7,322L450.2,320.4L446,320Z" fill="#e1cd17" stroke-width="0.45"/><path d="M353.9,320.7L358.7,319.8L354.8,320.9L350.1,321.8Z" fill="#f2da18" stroke-width="0.26"/><path d="M441.8,319.7L446,320L441.6,318.6L437.3,318.3Z" fill="#e4bd17" stroke-width="0.42"/><path d="M362.7,318.9L367.4,318.2L363.4,319L358.7,319.8Z" fill="#f1c618" stroke-width="0.20"/><path d="M481.3,332.2L485.3,332.9L480.7,330.3L476.7,329.6Z" fill="#9ad816"/><path d="M433,318.1L437.3,318.3L432.9,317.2L428.6,317Z" fill="#e6b017" stroke-width="0.40"/><path d="M371.4,317.5L376.1,316.9L372.1,317.5L367.4,318.2Z" fill="#f0b718" stroke-width="0.11"/><path d="M424.2,316.9L428.6,317L424.2,316.1L419.8,316.1Z" fill="#e8a717" stroke-width="0.37"/><path d="M380.2,316.5L384.8,316L380.8,316.3L376.1,316.9Z" fill="#efab18" stroke-width="0.12"/><path d="M415.4,316.1L419.8,316.1L415.5,315.4L411.1,315.5Z" fill="#eaa117" stroke-width="0.34"/><path d="M389,315.8L393.6,315.5L389.4,315.6L384.8,316Z" fill="#eea318" stroke-width="0.20"/><path d="M472.6,328.9L476.7,329.6L472.1,327.2L468,326.5Z" fill="#badb16"/><path d="M406.6,315.6L411.1,315.5L406.8,315.1L402.3,315.3Z" fill="#eb9e18" stroke-width="0.30"/><path d="M397.8,315.5L402.3,315.3L398.1,315.2L393.6,315.5Z" fill="#ed9f18" stroke-width="0.26"/><path d="M463.9,326L468,326.5L463.4,324.4L459.3,323.9Z" fill="#d6dd16"/><path d="M494.7,338.9L498.6,339.8L493.9,336.7L490,335.8Z" fill="#69d415"/><path d="M455.1,323.4L459.3,323.9L454.7,322L450.6,321.6Z" fill="#e0cf16"/><path d="M349.1,321.6L353.9,320.7L350.1,321.8L345.2,322.8Z" fill="#f2d618" stroke-width="0.26"/><path d="M486.1,335L490,335.8L485.3,332.9L481.3,332.2Z" fill="#8dd715"/><path d="M446.3,321.2L450.6,321.6L446,320L441.8,319.7Z" fill="#e2be17" stroke-width="0.45"/><path d="M357.9,319.7L362.7,318.9L358.7,319.8L353.9,320.7Z" fill="#f2c218" stroke-width="0.20"/><path d="M437.5,319.4L441.8,319.7L437.3,318.3L433,318.1Z" fill="#e5af17" stroke-width="0.43"/><path d="M366.7,318.2L371.4,317.5L367.4,318.2L362.7,318.9Z" fill="#f1b118" stroke-width="0.11"/><path d="M477.3,331.4L481.3,332.2L476.7,329.6L472.6,328.9Z" fill="#aed916"/><path d="M428.6,317.9L433,318.1L428.6,317L424.2,316.9Z" fill="#e7a217" stroke-width="0.40"/><path d="M375.5,317.1L380.2,316.5L376.1,316.9L371.4,317.5Z" fill="#f0a418" stroke-width="0.13"/><path d="M419.8,316.9L424.2,316.9L419.8,316.1L415.4,316.1Z" fill="#e99a17" stroke-width="0.38"/><path d="M384.3,316.3L389,315.8L384.8,316L380.2,316.5Z" fill="#ef9b18" stroke-width="0.21"/><path d="M410.9,316.2L415.4,316.1L411.1,315.5L406.6,315.6Z" fill="#eb9517" stroke-width="0.34"/><path d="M393.2,315.9L397.8,315.5L393.6,315.5L389,315.8Z" fill="#ee9618" stroke-width="0.26"/><path d="M402.1,315.8L406.6,315.6L402.3,315.3L397.8,315.5Z" fill="#ec9318" stroke-width="0.31"/><path d="M468.5,328.3L472.6,328.9L468,326.5L463.9,326Z" fill="#cddc16"/><path d="M459.7,325.4L463.9,326L459.3,323.9L455.1,323.4Z" fill="#dfd416"/><path d="M490.8,338L494.7,338.9L490,335.8L486.1,335Z" fill="#7fd515"/><path d="M450.9,323L455.1,323.4L450.6,321.6L446.3,321.2Z" fill="#e1c017"/><path d="M353,320.6L357.9,319.7L353.9,320.7L349.1,321.6Z" fill="#f2bd18" stroke-width="0.20"/><path d="M482,334.2L486.1,335L481.3,332.2L477.3,331.4Z" fill="#a2d816"/><path d="M442,320.9L446.3,321.2L441.8,319.7L437.5,319.4Z" fill="#e3ae17" stroke-width="0.46"/><path d="M361.9,319L366.7,318.2L362.7,318.9L357.9,319.7Z" fill="#f2ac18" stroke-width="0.11"/><path d="M433.1,319.2L437.5,319.4L433,318.1L428.6,317.9Z" fill="#e6a017" stroke-width="0.44"/><path d="M370.7,317.7L375.5,317.1L371.4,317.5L366.7,318.2Z" fill="#f19d18" stroke-width="0.13"/><path d="M424.2,317.9L428.6,317.9L424.2,316.9L419.8,316.9Z" fill="#e89517" stroke-width="0.41"/><path d="M473.2,330.8L477.3,331.4L472.6,328.9L468.5,328.3Z" fill="#c3da16"/><path d="M379.6,316.8L384.3,316.3L380.2,316.5L375.5,317.1Z" fill="#f09318" stroke-width="0.21"/><path d="M415.3,316.9L419.8,316.9L415.4,316.1L410.9,316.2Z" fill="#ea8e17" stroke-width="0.38"/><path d="M388.5,316.2L393.2,315.9L389,315.8L384.3,316.3Z" fill="#ef8c18" stroke-width="0.27"/><path d="M406.4,316.3L410.9,316.2L406.6,315.6L402.1,315.8Z" fill="#ec8918" stroke-width="0.35"/><path d="M397.5,316.1L402.1,315.8L397.8,315.5L393.2,315.9Z" fill="#ed8a18" stroke-width="0.31"/><path d="M464.4,327.7L468.5,328.3L463.9,326L459.7,325.4Z" fill="#ddd916"/><path d="M455.5,325L459.7,325.4L455.1,323.4L450.9,323Z" fill="#e0c316"/><path d="M486.8,337.2L490.8,338L486.1,335L482,334.2Z" fill="#94d615"/><path d="M446.6,322.6L450.9,323L446.3,321.2L442,320.9Z" fill="#e2b017"/><path d="M437.6,320.7L442,320.9L437.5,319.4L433.1,319.2Z" fill="#e49f17"/><path d="M357,319.8L361.9,319L357.9,319.7L353,320.6Z" fill="#f2a718" stroke-width="0.11"/><path d="M478,333.5L482,334.2L477.3,331.4L473.2,330.8Z" fill="#b6d916"/><path d="M428.7,319.1L433.1,319.2L428.6,317.9L424.2,317.9Z" fill="#e79217" stroke-width="0.44"/><path d="M365.9,318.4L370.7,317.7L366.7,318.2L361.9,319Z" fill="#f19718" stroke-width="0.13"/><path d="M419.7,317.8L424.2,317.9L419.8,316.9L415.3,316.9Z" fill="#e98917" stroke-width="0.42"/><path d="M374.9,317.4L379.6,316.8L375.5,317.1L370.7,317.7Z" fill="#f08b18" stroke-width="0.21"/><path d="M410.8,317L415.3,316.9L410.9,316.2L406.4,316.3Z" fill="#eb8217" stroke-width="0.39"/><path d="M383.8,316.7L388.5,316.2L384.3,316.3L379.6,316.8Z" fill="#ef8418" stroke-width="0.27"/><path d="M469.1,330.1L473.2,330.8L468.5,328.3L464.4,327.7Z" fill="#d7dc16"/><path d="M401.8,316.5L406.4,316.3L402.1,315.8L397.5,316.1Z" fill="#ec7f18" stroke-width="0.35"/><path d="M392.8,316.4L397.5,316.1L393.2,315.9L388.5,316.2Z" fill="#ee8018" stroke-width="0.31"/><path d="M460.2,327.2L464.4,327.7L459.7,325.4L455.5,325Z" fill="#dec816"/><path d="M451.2,324.6L455.5,325L450.9,323L446.6,322.6Z" fill="#e1b316"/><path d="M482.7,336.4L486.8,337.2L482,334.2L478,333.5Z" fill="#a8d716"/><path d="M442.2,322.3L446.6,322.6L442,320.9L437.6,320.7Z" fill="#e3a117"/><path d="M433.2,320.5L437.6,320.7L433.1,319.2L428.7,319.1Z" fill="#e69117"/><path d="M361.1,319.2L365.9,318.4L361.9,319L357,319.8Z" fill="#f29218" stroke-width="0.13"/><path d="M473.8,332.8L478,333.5L473.2,330.8L469.1,330.1Z" fill="#cbda16"/><path d="M424.2,319L428.7,319.1L424.2,317.9L419.7,317.8Z" fill="#e88617" stroke-width="0.45"/><path d="M370.1,318L374.9,317.4L370.7,317.7L365.9,318.4Z" fill="#f18518" stroke-width="0.21"/><path d="M415.2,317.9L419.7,317.8L415.3,316.9L410.8,317Z" fill="#ea7c17" stroke-width="0.42"/><path d="M379.1,317.2L383.8,316.7L379.6,316.8L374.9,317.4Z" fill="#f07c18" stroke-width="0.27"/><path d="M406.2,317.1L410.8,317L406.4,316.3L401.8,316.5Z" fill="#ec7718" stroke-width="0.39"/><path d="M388.1,316.8L392.8,316.4L388.5,316.2L383.8,316.7Z" fill="#ef7718" stroke-width="0.32"/><path d="M397.1,316.8L401.8,316.5L397.5,316.1L392.8,316.4Z" fill="#ed7518" stroke-width="0.36"/><path d="M464.9,329.6L469.1,330.1L464.4,327.7L460.2,327.2Z" fill="#ddcf16"/><path d="M455.9,326.7L460.2,327.2L455.5,325L451.2,324.6Z" fill="#dfb816"/><path d="M446.9,324.2L451.2,324.6L446.6,322.6L442.2,322.3Z" fill="#e2a417"/><path d="M478.6,335.8L482.7,336.4L478,333.5L473.8,332.8Z" fill="#bdd816"/><path d="M437.8,322.1L442.2,322.3L437.6,320.7L433.2,320.5Z" fill="#e49217"/><path d="M428.8,320.3L433.2,320.5L428.7,319.1L424.2,319Z" fill="#e78317"/><path d="M365.2,318.8L370.1,318L365.9,318.4L361.1,319.2Z" fill="#f27f18" stroke-width="0.21"/><path d="M419.7,319L424.2,319L419.7,317.8L415.2,317.9Z" fill="#e97817" stroke-width="0.45"/><path d="M469.6,332.2L473.8,332.8L469.1,330.1L464.9,329.6Z" fill="#dbd816"/><path d="M374.2,317.8L379.1,317.2L374.9,317.4L370.1,318Z" fill="#f17518" stroke-width="0.27"/><path d="M410.6,318L415.2,317.9L410.8,317L406.2,317.1Z" fill="#eb7117" stroke-width="0.43"/><path d="M383.3,317.3L388.1,316.8L383.8,316.7L379.1,317.2Z" fill="#f06e18" stroke-width="0.32"/><path d="M401.5,317.4L406.2,317.1L401.8,316.5L397.1,316.8Z" fill="#ed6c18" stroke-width="0.40"/><path d="M392.4,317.1L397.1,316.8L392.8,316.4L388.1,316.8Z" fill="#ee6c18" stroke-width="0.36"/><path d="M460.6,329.1L464.9,329.6L460.2,327.2L455.9,326.7Z" fill="#debf16"/><path d="M451.5,326.3L455.9,326.7L451.2,324.6L446.9,324.2Z" fill="#e0a816"/><path d="M442.5,323.9L446.9,324.2L442.2,322.3L437.8,322.1Z" fill="#e39417"/><path d="M433.3,321.9L437.8,322.1L433.2,320.5L428.8,320.3Z" fill="#e58417"/><path d="M474.4,335.1L478.6,335.8L473.8,332.8L469.6,332.2Z" fill="#d0da16"/><path d="M424.2,320.3L428.8,320.3L424.2,319L419.7,319Z" fill="#e87717"/><path d="M415.1,319L419.7,319L415.2,317.9L410.6,318Z" fill="#ea6c17"/><path d="M369.3,318.5L374.2,317.8L370.1,318L365.2,318.8Z" fill="#f26e18" stroke-width="0.28"/><path d="M405.9,318.2L410.6,318L406.2,317.1L401.5,317.4Z" fill="#ec6618" stroke-width="0.43"/><path d="M465.4,331.7L469.6,332.2L464.9,329.6L460.6,329.1Z" fill="#dcc716"/><path d="M378.5,317.9L383.3,317.3L379.1,317.2L374.2,317.8Z" fill="#f06718" stroke-width="0.32"/><path d="M396.8,317.7L401.5,317.4L397.1,316.8L392.4,317.1Z" fill="#ed6218" stroke-width="0.40"/><path d="M387.6,317.6L392.4,317.1L388.1,316.8L383.3,317.3Z" fill="#ef6218" stroke-width="0.37"/><path d="M456.3,328.7L460.6,329.1L455.9,326.7L451.5,326.3Z" fill="#dfae16"/><path d="M447.1,326L451.5,326.3L446.9,324.2L442.5,323.9Z" fill="#e29917"/><path d="M438,323.7L442.5,323.9L437.8,322.1L433.3,321.9Z" fill="#e48617"/><path d="M428.8,321.8L433.3,321.9L428.8,320.3L424.2,320.3Z" fill="#e67617"/><path d="M470.2,334.5L474.4,335.1L469.6,332.2L465.4,331.7Z" fill="#dbd116"/><path d="M419.6,320.3L424.2,320.3L419.7,319L415.1,319Z" fill="#e96917"/><path d="M410.4,319.2L415.1,319L410.6,318L405.9,318.2Z" fill="#eb6017"/><path d="M373.6,318.5L378.5,317.9L374.2,317.8L369.3,318.5Z" fill="#f16018" stroke-width="0.33"/><path d="M401.2,318.4L405.9,318.2L401.5,317.4L396.8,317.7Z" fill="#ed5a18" stroke-width="0.44"/><path d="M382.8,318.1L387.6,317.6L383.3,317.3L378.5,317.9Z" fill="#f05a18" stroke-width="0.37"/><path d="M392,318L396.8,317.7L392.4,317.1L387.6,317.6Z" fill="#ee5918" stroke-width="0.41"/><path d="M461,331.2L465.4,331.7L460.6,329.1L456.3,328.7Z" fill="#ddb616"/><path d="M451.9,328.3L456.3,328.7L451.5,326.3L447.1,326Z" fill="#e09e16"/><path d="M442.7,325.7L447.1,326L442.5,323.9L438,323.7Z" fill="#e38a17"/><path d="M433.5,323.6L438,323.7L433.3,321.9L428.8,321.8Z" fill="#e57817"/><path d="M424.2,321.8L428.8,321.8L424.2,320.3L419.6,320.3Z" fill="#e76917"/><path d="M415,320.4L419.6,320.3L415.1,319L410.4,319.2Z" fill="#ea5d17"/><path d="M465.9,334L470.2,334.5L465.4,331.7L461,331.2Z" fill="#dcc016"/><path d="M405.7,319.3L410.4,319.2L405.9,318.2L401.2,318.4Z" fill="#ec5518"/><path d="M377.9,318.6L382.8,318.1L378.5,317.9L373.6,318.5Z" fill="#f15318" stroke-width="0.37"/><path d="M396.4,318.7L401.2,318.4L396.8,317.7L392,318Z" fill="#ee5118" stroke-width="0.44"/><path d="M387.1,318.5L392,318L387.6,317.6L382.8,318.1Z" fill="#ef5018" stroke-width="0.41"/><path d="M456.7,330.8L461,331.2L456.3,328.7L451.9,328.3Z" fill="#dfa616"/><path d="M447.4,328L451.9,328.3L447.1,326L442.7,325.7Z" fill="#e18f17"/><path d="M438.2,325.5L442.7,325.7L438,323.7L433.5,323.6Z" fill="#e47b17"/><path d="M428.9,323.5L433.5,323.6L428.8,321.8L424.2,321.8Z" fill="#e66a17"/><path d="M419.6,321.8L424.2,321.8L419.6,320.3L415,320.4Z" fill="#e95c17"/><path d="M410.2,320.5L415,320.4L410.4,319.2L405.7,319.3Z" fill="#eb5217"/><path d="M461.5,333.6L465.9,334L461,331.2L456.7,330.8Z" fill="#ddb016"/><path d="M400.9,319.6L405.7,319.3L401.2,318.4L396.4,318.7Z" fill="#ed4b18"/><path d="M391.6,319.1L396.4,318.7L392,318L387.1,318.5Z" fill="#ee4718" stroke-width="0.45"/><path d="M382.2,319L387.1,318.5L382.8,318.1L377.9,318.6Z" fill="#f04718" stroke-width="0.41"/><path d="M452.2,330.4L456.7,330.8L451.9,328.3L447.4,328Z" fill="#e09616"/><path d="M442.9,327.7L447.4,328L442.7,325.7L438.2,325.5Z" fill="#e28017"/><path d="M433.6,325.4L438.2,325.5L433.5,323.6L428.9,323.5Z" fill="#e56d17"/><path d="M424.2,323.4L428.9,323.5L424.2,321.8L419.6,321.8Z" fill="#e75d17"/><path d="M414.8,321.9L419.6,321.8L415,320.4L410.2,320.5Z" fill="#ea5017"/><path d="M405.4,320.7L410.2,320.5L405.7,319.3L400.9,319.6Z" fill="#ec4718"/><path d="M396,320L400.9,319.6L396.4,318.7L391.6,319.1Z" fill="#ee4118"/><path d="M386.7,319.6L391.6,319.1L387.1,318.5L382.2,319Z" fill="#ef3f18" stroke-width="0.45"/><path d="M457.1,333.2L461.5,333.6L456.7,330.8L452.2,330.4Z" fill="#de9f16"/><path d="M447.7,330.2L452.2,330.4L447.4,328L442.9,327.7Z" fill="#e18716"/><path d="M438.3,327.5L442.9,327.7L438.2,325.5L433.6,325.4Z" fill="#e37217"/><path d="M428.9,325.3L433.6,325.4L428.9,323.5L424.2,323.4Z" fill="#e66017"/><path d="M419.5,323.5L424.2,323.4L419.6,321.8L414.8,321.9Z" fill="#e85117"/><path d="M410.1,322.1L414.8,321.9L410.2,320.5L405.4,320.7Z" fill="#eb4517"/><path d="M400.6,321L405.4,320.7L400.9,319.6L396,320Z" fill="#ed3c18"/><path d="M391.1,320.4L396,320L391.6,319.1L386.7,319.6Z" fill="#ee3718"/><path d="M452.6,332.8L457.1,333.2L452.2,330.4L447.7,330.2Z" fill="#df9016"/><path d="M443.2,329.9L447.7,330.2L442.9,327.7L438.3,327.5Z" fill="#e27917"/><path d="M433.7,327.4L438.3,327.5L433.6,325.4L428.9,325.3Z" fill="#e56417"/><path d="M424.2,325.3L428.9,325.3L424.2,323.4L419.5,323.5Z" fill="#e75317"/><path d="M414.7,323.6L419.5,323.5L414.8,321.9L410.1,322.1Z" fill="#e94517"/><path d="M405.2,322.3L410.1,322.1L405.4,320.7L400.6,321Z" fill="#ec3a18"/><path d="M395.7,321.4L400.6,321L396,320L391.1,320.4Z" fill="#ee3318"/><path d="M448,332.6L452.6,332.8L447.7,330.2L443.2,329.9Z" fill="#e08116"/><path d="M438.5,329.8L443.2,329.9L438.3,327.5L433.7,327.4Z" fill="#e36a17"/><path d="M429,327.4L433.7,327.4L428.9,325.3L424.2,325.3Z" fill="#e65617"/><path d="M419.4,325.4L424.2,325.3L419.5,323.5L414.7,323.6Z" fill="#e84617"/><path d="M409.9,323.8L414.7,323.6L410.1,322.1L405.2,322.3Z" fill="#ea3917"/><path d="M400.3,322.6L405.2,322.3L400.6,321L395.7,321.4Z" fill="#ed2f18"/><path d="M443.4,332.4L448,332.6L443.2,329.9L438.5,329.8Z" fill="#e27217"/><path d="M433.8,329.7L438.5,329.8L433.7,327.4L429,327.4Z" fill="#e45c17"/><path d="M424.2,327.4L429,327.4L424.2,325.3L419.4,325.4Z" fill="#e74a17"/><path d="M414.6,325.5L419.4,325.4L414.7,323.6L409.9,323.8Z" fill="#e93a17"/><path d="M405,324.1L409.9,323.8L405.2,322.3L400.3,322.6Z" fill="#eb2e18"/><path d="M438.7,332.2L443.4,332.4L438.5,329.8L433.8,329.7Z" fill="#e36317"/><path d="M429.1,329.7L433.8,329.7L429,327.4L424.2,327.4Z" fill="#e54f17"/><path d="M419.4,327.5L424.2,327.4L419.4,325.4L414.6,325.5Z" fill="#e83d17"/><path d="M409.7,325.8L414.6,325.5L409.9,323.8L405,324.1Z" fill="#ea2f17"/><path d="M433.9,332.2L438.7,332.2L433.8,329.7L429.1,329.7Z" fill="#e45617"/><path d="M424.2,329.7L429.1,329.7L424.2,327.4L419.4,327.5Z" fill="#e64217"/><path d="M414.5,327.7L419.4,327.5L414.6,325.5L409.7,325.8Z" fill="#e93117"/><path d="M429.1,332.2L433.9,332.2L429.1,329.7L424.2,329.7Z" fill="#e54817"/><path d="M419.3,329.8L424.2,329.7L419.4,327.5L414.5,327.7Z" fill="#e83517"/><path d="M424.2,332.2L429.1,332.2L424.2,329.7L419.3,329.8Z" fill="#e63c17"/></g>
<circle cx="329.4" cy="383.7" r="1.1" fill="#111"/>
<text x="323.6" y="381.3" font-size="11" text-anchor="end">72</text>
<circle cx="328.8" cy="370.3" r="1.1" fill="#111"/>
<text x="323" y="367.9" font-size="11" text-anchor="end">74</text>
<circle cx="328.1" cy="356.8" r="1.1" fill="#111"/>
<text x="322.3" y="354.4" font-size="11" text-anchor="end">76</text>
<circle cx="327.4" cy="343" r="1.1" fill="#111"/>
<text x="321.6" y="340.6" font-size="11" text-anchor="end">78</text>
<circle cx="326.7" cy="329" r="1.1" fill="#111"/>
<text x="320.9" y="326.6" font-size="11" text-anchor="end">80</text>
<circle cx="326" cy="314.9" r="1.1" fill="#111"/>
<text x="320.2" y="312.5" font-size="11" text-anchor="end">82</text>
<circle cx="325.3" cy="300.5" r="1.1" fill="#111"/>
<text x="319.5" y="298.1" font-size="11" text-anchor="end">84</text>
<circle cx="324.6" cy="285.9" r="1.1" fill="#111"/>
<text x="318.8" y="283.5" font-size="11" text-anchor="end">86</text>
<text transform="translate(301.3,351.5) rotate(-90)" font-size="11.4" text-anchor="middle">Recovery (%)</text>
<circle cx="330.9" cy="413.2" r="0.9" fill="#111"/>
<text x="320.5" y="426.3" font-size="11" text-anchor="middle">40</text>
<circle cx="352" cy="423.5" r="0.9" fill="#111"/>
<text x="343.5" y="436.8" font-size="11" text-anchor="middle">36</text>
<circle cx="374.5" cy="434.4" r="0.9" fill="#111"/>
<text x="366.6" y="448.1" font-size="11" text-anchor="middle">32</text>
<circle cx="398.6" cy="446.1" r="0.9" fill="#111"/>
<text x="389.2" y="458.6" font-size="11" text-anchor="middle">28</text>
<circle cx="424.2" cy="458.6" r="0.9" fill="#111"/>
<text x="412.6" y="469.9" font-size="11" text-anchor="middle">24</text>
<circle cx="424.2" cy="458.6" r="0.9" fill="#111"/>
<text x="432" y="469.9" font-size="11" text-anchor="middle">2</text>
<circle cx="449.9" cy="446.1" r="0.9" fill="#111"/>
<text x="455" y="458.6" font-size="11" text-anchor="middle">3</text>
<circle cx="473.9" cy="434.4" r="0.9" fill="#111"/>
<text x="478" y="447.3" font-size="11" text-anchor="middle">4</text>
<circle cx="496.4" cy="423.5" r="0.9" fill="#111"/>
<text x="502" y="435.6" font-size="11" text-anchor="middle">5</text>
<circle cx="517.5" cy="413.2" r="0.9" fill="#111"/>
<text x="525.8" y="424.3" font-size="11" text-anchor="middle">6</text>
<text x="341.5" y="459.7" font-size="11.3" text-anchor="middle">FR (L/h)</text>
<text x="507" y="459.7" font-size="11.3" text-anchor="middle">PF (times/s)</text>
<circle cx="326.8" cy="331.2" r="2.3" fill="#fee" stroke="#933" stroke-width="0.8"/>
<circle cx="424.6" cy="314" r="2.3" fill="#d40000" stroke="#500" stroke-width="0.8"/>
<circle cx="424.6" cy="328" r="2.3" fill="#d40000" stroke="#500" stroke-width="0.8"/>
<circle cx="521.2" cy="344.8" r="2.3" fill="#d40000" stroke="#500" stroke-width="0.8"/>
<polygon points="330.9,652.6 424.2,698 517.5,652.6 424.2,617" fill="#5c5c5c" stroke="#222" stroke-width="0.8"/>
<path d="M511.8,655.4L510,653.9L508.2,652.5L505.7,650.8L503.5,649.2L501.5,647.9L499.4,646.5L496.5,644.8" fill="none" stroke="#00ffd1" stroke-width="1.7"/>
<path d="M448.1,626.1L443.9,625.2L441,624.6L438,624.1L435,623.5L431.4,623L428.1,622.6L425.1,622.2L422,621.9L418.6,621.6L415,621.3" fill="none" stroke="#00ffd1" stroke-width="1.7"/>
<path d="M502.9,659.7L501.2,658.2L499,656.4L496.6,654.6L494.8,653.3L492.9,652L490.2,650.2L487.9,648.8L485.9,647.6L482.8,645.8L480.3,644.5L477.4,643.1L474.1,641.5L470.6,640L467.1,638.6L463.5,637.2L459.8,635.9L456,634.7L452.1,633.5L449.4,632.8L445.2,631.7L442.4,631.1L439.5,630.5L435.7,629.7L431.9,629.1L428.8,628.6L425.5,628.2L422.1,627.8L419,627.5L416.3,627.2L413.1,627L409.2,626.8L406.3,626.8L403.1,626.7L399.7,626.7" fill="none" stroke="#00ff4d" stroke-width="1.7"/>
<path d="M492.4,664.8L490.8,663.2L489.1,661.7L487.3,660.2L485.5,658.7L482.8,656.7L480.8,655.4L478.9,654.1L475.9,652.2L473.8,651L470.6,649.2L467.6,647.7L465,646.5L461.5,645L458,643.5L454.2,642.2L450.6,641L447.8,640.1L443.7,638.9L440.9,638.2L436.9,637.3L433.5,636.6L430.4,636L427.2,635.5L423.9,635L420.5,634.6L416.9,634.2L413.2,633.9L410.3,633.8L407.2,633.6L403.2,633.6L400.8,633.6L396.7,633.7L393.5,633.8L390.7,634L387,634.3L383.4,634.6L380,635.1L376.6,635.6" fill="none" stroke="#38ff00" stroke-width="1.7"/>
<path d="M479.5,671.1L478,669.4L476.4,667.8L474.8,666.2L472.8,664.5L470.4,662.5L468.5,661.1L466.6,659.7L463.6,657.8L461.5,656.6L458.2,654.8L454.9,653.1L452.5,652.1L448.9,650.6L446.4,649.6L442.5,648.3L438.4,647L435.6,646.2L431.2,645.2L428,644.5L424.8,644L421.4,643.4L417.9,643L414.3,642.6L410.6,642.4L408.1,642.2L404,642.1L401,642.1L396.9,642.2L394.2,642.4L390.7,642.7L387,643L383.5,643.5L380.1,644L376.9,644.7L372.3,645.7L369.3,646.5L365.1,647.7L361.2,649L358.5,650L356.1,651.1L352.5,652.7L349.1,654.5L346.9,655.7L343.7,657.6" fill="none" stroke="#bcff00" stroke-width="1.7"/>
<path d="M461.3,679.9L460.4,678.4L459.4,676.8L458.1,675.2L456.6,673.4L454.7,671.5L452.7,669.6L450.8,668.2L448.9,666.8L445.9,664.8L443.3,663.3L440.3,661.8L436.6,660.2L432.7,658.7L429.9,657.8L425.5,656.6L422.3,655.9L419,655.3L415.5,654.8L411.7,654.4L407.6,654.1L405.1,654L400.6,654.1L397.9,654.2L394.2,654.5L390.4,654.9L386.9,655.5L383.6,656.1L379,657.3L376.1,658.2L372,659.7L368.3,661.3L365.9,662.5L362.6,664.4L360.5,665.8" fill="none" stroke="#ffbd00" stroke-width="1.7"/>
<path d="M330.9,652.6L424.2,698L517.5,652.6" fill="none" stroke="#111" stroke-width="1.2"/>
<path d="M330.9,652.6L324.6,525.3L424.2,502.2L523.8,525.3M424.2,502.2L424.2,617M523.8,525.3L517.5,652.6" fill="none" stroke="#1a1a1a" stroke-width="1.1"/>
<g stroke="#0c0c0c" stroke-width="0.46" stroke-linejoin="round"><path d="M424.2,570.6L427.9,572.8L424.2,573.4L420.5,571.4Z" fill="#14a2c5"/><path d="M428,570.1L431.7,572.2L427.9,572.8L424.2,570.6Z" fill="#14b4c4"/><path d="M420.4,568.7L424.2,570.6L420.5,571.4L416.7,569.5Z" fill="#14c5c8"/><path d="M431.8,569.6L435.5,571.9L431.7,572.2L428,570.1Z" fill="#14c4c4"/><path d="M424.2,568L428,570.1L424.2,570.6L420.4,568.7Z" fill="#14c7b8"/><path d="M416.6,566.9L420.4,568.7L416.7,569.5L412.9,567.8Z" fill="#14cbaf"/><path d="M435.6,569.4L439.4,571.6L435.5,571.9L431.8,569.6Z" fill="#14c3b5"/><path d="M428,567.5L431.8,569.6L428,570.1L424.2,568Z" fill="#14c7a6"/><path d="M420.4,566.2L424.2,568L420.4,568.7L416.6,566.9Z" fill="#14ca9b"/><path d="M412.8,565.3L416.6,566.9L412.9,567.8L409,566.2Z" fill="#15cd95"/><path d="M439.5,569.2L443.2,571.6L439.4,571.6L435.6,569.4Z" fill="#13c2a6"/><path d="M431.9,567.2L435.6,569.4L431.8,569.6L428,567.5Z" fill="#14c696"/><path d="M424.2,565.6L428,567.5L424.2,568L420.4,566.2Z" fill="#14c989"/><path d="M416.5,564.5L420.4,566.2L416.6,566.9L412.8,565.3Z" fill="#14cd80"/><path d="M408.8,563.8L412.8,565.3L409,566.2L405.1,564.8Z" fill="#15d07b"/><path d="M443.5,569.3L447.2,571.7L443.2,571.6L439.5,569.2Z" fill="#13c29b"/><path d="M435.8,567.1L439.5,569.2L435.6,569.4L431.9,567.2Z" fill="#14c588"/><path d="M428.1,565.2L431.9,567.2L428,567.5L424.2,565.6Z" fill="#14c979"/><path d="M420.3,563.9L424.2,565.6L420.4,566.2L416.5,564.5Z" fill="#14cc6d"/><path d="M412.6,563L416.5,564.5L412.8,565.3L408.8,563.8Z" fill="#15d065"/><path d="M404.9,562.5L408.8,563.8L405.1,564.8L401.2,563.6Z" fill="#15d363"/><path d="M447.5,569.5L451.2,572L447.2,571.7L443.5,569.3Z" fill="#13c190"/><path d="M439.7,567.1L443.5,569.3L439.5,569.2L435.8,567.1Z" fill="#14c47b"/><path d="M432,565L435.8,567.1L431.9,567.2L428.1,565.2Z" fill="#14c869"/><path d="M424.2,563.4L428.1,565.2L424.2,565.6L420.3,563.9Z" fill="#14cc5c"/><path d="M416.4,562.3L420.3,563.9L416.5,564.5L412.6,563Z" fill="#15cf52"/><path d="M408.6,561.6L412.6,563L408.8,563.8L404.9,562.5Z" fill="#15d34d"/><path d="M400.9,561.4L404.9,562.5L401.2,563.6L397.1,562.5Z" fill="#15d64c"/><path d="M451.5,569.9L455.2,572.5L451.2,572L447.5,569.5Z" fill="#13c087"/><path d="M443.7,567.2L447.5,569.5L443.5,569.3L439.7,567.1Z" fill="#14c470"/><path d="M435.9,565L439.7,567.1L435.8,567.1L432,565Z" fill="#14c75c"/><path d="M428.1,563.2L432,565L428.1,565.2L424.2,563.4Z" fill="#14cb4d"/><path d="M420.3,561.8L424.2,563.4L420.3,563.9L416.4,562.3Z" fill="#15cf40"/><path d="M412.5,560.9L416.4,562.3L412.6,563L408.6,561.6Z" fill="#15d239"/><path d="M396.8,560.5L400.9,561.4L397.1,562.5L393.1,561.6Z" fill="#16d936"/><path d="M404.6,560.5L408.6,561.6L404.9,562.5L400.9,561.4Z" fill="#15d535"/><path d="M455.6,570.5L459.2,573.1L455.2,572.5L451.5,569.9Z" fill="#13bf80"/><path d="M447.8,567.6L451.5,569.9L447.5,569.5L443.7,567.2Z" fill="#13c367"/><path d="M439.9,565.1L443.7,567.2L439.7,567.1L435.9,565Z" fill="#14c751"/><path d="M432.1,563L435.9,565L432,565L428.1,563.2Z" fill="#14ca3f"/><path d="M424.2,561.5L428.1,563.2L424.2,563.4L420.3,561.8Z" fill="#15ce31"/><path d="M416.3,560.3L420.3,561.8L416.4,562.3L412.5,560.9Z" fill="#15d126"/><path d="M459.7,571.3L463.3,573.9L459.2,573.1L455.6,570.5Z" fill="#13be7a"/><path d="M392.7,559.7L396.8,560.5L393.1,561.6L389,561Z" fill="#16db22"/><path d="M408.5,559.7L412.5,560.9L408.6,561.6L404.6,560.5Z" fill="#15d520"/><path d="M400.6,559.5L404.6,560.5L400.9,561.4L396.8,560.5Z" fill="#16d81f"/><path d="M451.8,568.1L455.6,570.5L451.5,569.9L447.8,567.6Z" fill="#13c25f"/><path d="M444,565.4L447.8,567.6L443.7,567.2L439.9,565.1Z" fill="#14c647"/><path d="M436.1,563.1L439.9,565.1L435.9,565L432.1,563Z" fill="#14ca33"/><path d="M428.2,561.3L432.1,563L428.1,563.2L424.2,561.5Z" fill="#15cd22"/><path d="M463.8,572.2L467.5,574.9L463.3,573.9L459.7,571.3Z" fill="#13bd76"/><path d="M420.3,559.9L424.2,561.5L420.3,561.8L416.3,560.3Z" fill="#15d116"/><path d="M388.5,559.2L392.7,559.7L389,561L384.8,560.5Z" fill="#1dde16"/><path d="M412.3,559.1L416.3,560.3L412.5,560.9L408.5,559.7Z" fill="#1dd415"/><path d="M396.5,558.7L400.6,559.5L396.8,560.5L392.7,559.7Z" fill="#22db16"/><path d="M404.4,558.6L408.5,559.7L404.6,560.5L400.6,559.5Z" fill="#23d816"/><path d="M456,568.8L459.7,571.3L455.6,570.5L451.8,568.1Z" fill="#13c159"/><path d="M448.1,565.8L451.8,568.1L447.8,567.6L444,565.4Z" fill="#14c53f"/><path d="M440.1,563.3L444,565.4L439.9,565.1L436.1,563.1Z" fill="#14c929"/><path d="M468,573.3L471.6,576.1L467.5,574.9L463.8,572.2Z" fill="#13bd73"/><path d="M432.2,561.3L436.1,563.1L432.1,563L428.2,561.3Z" fill="#14cd16"/><path d="M424.2,559.7L428.2,561.3L424.2,561.5L420.3,559.9Z" fill="#23d015"/><path d="M384.3,558.8L388.5,559.2L384.8,560.5L380.6,560.2Z" fill="#2fe116"/><path d="M416.2,558.6L420.3,559.9L416.3,560.3L412.3,559.1Z" fill="#2fd415"/><path d="M460.1,569.7L463.8,572.2L459.7,571.3L456,568.8Z" fill="#13c054"/><path d="M392.3,558.1L396.5,558.7L392.7,559.7L388.5,559.2Z" fill="#36de16"/><path d="M408.3,558L412.3,559.1L408.5,559.7L404.4,558.6Z" fill="#35d716"/><path d="M400.3,557.8L404.4,558.6L400.6,559.5L396.5,558.7Z" fill="#39db16"/><path d="M452.2,566.5L456,568.8L451.8,568.1L448.1,565.8Z" fill="#14c439"/><path d="M444.2,563.7L448.1,565.8L444,565.4L440.1,563.3Z" fill="#14c820"/><path d="M472.2,574.6L475.9,577.4L471.6,576.1L468,573.3Z" fill="#13bd73"/><path d="M436.2,561.5L440.1,563.3L436.1,563.1L432.2,561.3Z" fill="#1ecc14"/><path d="M428.2,559.7L432.2,561.3L428.2,561.3L424.2,559.7Z" fill="#30d015"/><path d="M464.3,570.7L468,573.3L463.8,572.2L460.1,569.7Z" fill="#13bf51"/><path d="M380.1,558.7L384.3,558.8L380.6,560.2L376.4,560.1Z" fill="#3fe317"/><path d="M420.2,558.3L424.2,559.7L420.3,559.9L416.2,558.6Z" fill="#3dd315"/><path d="M388.1,557.7L392.3,558.1L388.5,559.2L384.3,558.8Z" fill="#49e116"/><path d="M412.2,557.4L416.2,558.6L412.3,559.1L408.3,558Z" fill="#48d715"/><path d="M396.1,557.1L400.3,557.8L396.5,558.7L392.3,558.1Z" fill="#4dde16"/><path d="M404.1,557L408.3,558L404.4,558.6L400.3,557.8Z" fill="#4dda16"/><path d="M456.3,567.3L460.1,569.7L456,568.8L452.2,566.5Z" fill="#14c334"/><path d="M476.5,576.1L480.1,579L475.9,577.4L472.2,574.6Z" fill="#13bd73"/><path d="M448.4,564.3L452.2,566.5L448.1,565.8L444.2,563.7Z" fill="#14c71a"/><path d="M440.3,561.8L444.2,563.7L440.1,563.3L436.2,561.5Z" fill="#26cb14"/><path d="M468.6,572L472.2,574.6L468,573.3L464.3,570.7Z" fill="#13be50"/><path d="M432.3,559.8L436.2,561.5L432.2,561.3L428.2,559.7Z" fill="#3bcf15"/><path d="M375.8,558.7L380.1,558.7L376.4,560.1L372.1,560.2Z" fill="#4de617"/><path d="M424.2,558.2L428.2,559.7L424.2,559.7L420.2,558.3Z" fill="#4bd315"/><path d="M383.8,557.4L388.1,557.7L384.3,558.8L380.1,558.7Z" fill="#59e317"/><path d="M416.1,557.1L420.2,558.3L416.2,558.6L412.2,557.4Z" fill="#57d615"/><path d="M460.6,568.3L464.3,570.7L460.1,569.7L456.3,567.3Z" fill="#13c231"/><path d="M391.9,556.6L396.1,557.1L392.3,558.1L388.1,557.7Z" fill="#61e016"/><path d="M408.1,556.5L412.2,557.4L408.3,558L404.1,557Z" fill="#5fda16"/><path d="M400,556.3L404.1,557L400.3,557.8L396.1,557.1Z" fill="#63dd16"/><path d="M480.8,577.8L484.4,580.7L480.1,579L476.5,576.1Z" fill="#13bd76"/><path d="M452.5,565.1L456.3,567.3L452.2,566.5L448.4,564.3Z" fill="#14c615"/><path d="M444.5,562.4L448.4,564.3L444.2,563.7L440.3,561.8Z" fill="#2dca14"/><path d="M472.8,573.4L476.5,576.1L472.2,574.6L468.6,572Z" fill="#13bd50"/><path d="M436.4,560.1L440.3,561.8L436.2,561.5L432.3,559.8Z" fill="#44ce15"/><path d="M371.5,559L375.8,558.7L372.1,560.2L367.8,560.5Z" fill="#5ae817"/><path d="M428.3,558.3L432.3,559.8L428.2,559.7L424.2,558.2Z" fill="#57d215"/><path d="M464.8,569.5L468.6,572L464.3,570.7L460.6,568.3Z" fill="#13c12f"/><path d="M379.5,557.4L383.8,557.4L380.1,558.7L375.8,558.7Z" fill="#69e617"/><path d="M420.2,556.9L424.2,558.2L420.2,558.3L416.1,557.1Z" fill="#65d615"/><path d="M387.6,556.4L391.9,556.6L388.1,557.7L383.8,557.4Z" fill="#72e317"/><path d="M485.2,579.7L488.7,582.6L484.4,580.7L480.8,577.8Z" fill="#13bd7a"/><path d="M412,556.1L416.1,557.1L412.2,557.4L408.1,556.5Z" fill="#6fd916"/><path d="M395.8,555.8L400,556.3L396.1,557.1L391.9,556.6Z" fill="#76e016"/><path d="M403.9,555.7L408.1,556.5L404.1,557L400,556.3Z" fill="#75dd16"/><path d="M456.7,566.1L460.6,568.3L456.3,567.3L452.5,565.1Z" fill="#17c514"/><path d="M477.2,575.1L480.8,577.8L476.5,576.1L472.8,573.4Z" fill="#13bd52"/><path d="M448.7,563.1L452.5,565.1L448.4,564.3L444.5,562.4Z" fill="#33c914"/><path d="M440.5,560.6L444.5,562.4L440.3,561.8L436.4,560.1Z" fill="#4ccd15"/><path d="M367.1,559.4L371.5,559L367.8,560.5L363.4,561Z" fill="#64eb17" stroke-width="0.44"/><path d="M469.1,570.9L472.8,573.4L468.6,572L464.8,569.5Z" fill="#13c02f"/><path d="M432.4,558.5L436.4,560.1L432.3,559.8L428.3,558.3Z" fill="#60d115" stroke-width="0.46"/><path d="M489.5,581.8L493.1,584.8L488.7,582.6L485.2,579.7Z" fill="#13bd80"/><path d="M375.2,557.6L379.5,557.4L375.8,558.7L371.5,559Z" fill="#76e817" stroke-width="0.44"/><path d="M424.2,556.9L428.3,558.3L424.2,558.2L420.2,556.9Z" fill="#72d515" stroke-width="0.45"/><path d="M383.3,556.3L387.6,556.4L383.8,557.4L379.5,557.4Z" fill="#82e617" stroke-width="0.44"/><path d="M416,555.9L420.2,556.9L416.1,557.1L412,556.1Z" fill="#7ed916" stroke-width="0.45"/><path d="M461,567.2L464.8,569.5L460.6,568.3L456.7,566.1Z" fill="#18c414" stroke-width="0.46"/><path d="M391.5,555.5L395.8,555.8L391.9,556.6L387.6,556.4Z" fill="#88e317" stroke-width="0.44"/><path d="M407.9,555.2L412,556.1L408.1,556.5L403.9,555.7Z" fill="#87dc16" stroke-width="0.45"/><path d="M399.7,555.1L403.9,555.7L400,556.3L395.8,555.8Z" fill="#8ae016" stroke-width="0.44"/><path d="M481.5,576.9L485.2,579.7L480.8,577.8L477.2,575.1Z" fill="#13bd56" stroke-width="0.46"/><path d="M452.9,564L456.7,566.1L452.5,565.1L448.7,563.1Z" fill="#37c814" stroke-width="0.45"/><path d="M444.7,561.2L448.7,563.1L444.5,562.4L440.5,560.6Z" fill="#51cc14" stroke-width="0.44"/><path d="M473.4,572.5L477.2,575.1L472.8,573.4L469.1,570.9Z" fill="#13bf31" stroke-width="0.45"/><path d="M494,584L497.5,587.1L493.1,584.8L489.5,581.8Z" fill="#13bd87" stroke-width="0.45"/><path d="M362.7,560.1L367.1,559.4L363.4,561L359,561.7Z" fill="#6ced18" stroke-width="0.42"/><path d="M436.5,558.9L440.5,560.6L436.4,560.1L432.4,558.5Z" fill="#69d015" stroke-width="0.44"/><path d="M370.8,558L375.2,557.6L371.5,559L367.1,559.4Z" fill="#81eb17" stroke-width="0.42"/><path d="M428.3,557.1L432.4,558.5L428.3,558.3L424.2,556.9Z" fill="#7cd415" stroke-width="0.43"/><path d="M465.3,568.6L469.1,570.9L464.8,569.5L461,567.2Z" fill="#18c314" stroke-width="0.44"/><path d="M379,556.4L383.3,556.3L379.5,557.4L375.2,557.6Z" fill="#90e817" stroke-width="0.42"/><path d="M420.1,555.8L424.2,556.9L420.2,556.9L416,555.9Z" fill="#8bd816" stroke-width="0.43"/><path d="M387.2,555.3L391.5,555.5L387.6,556.4L383.3,556.3Z" fill="#99e617" stroke-width="0.42"/><path d="M485.9,578.9L489.5,581.8L485.2,579.7L481.5,576.9Z" fill="#13bd5b" stroke-width="0.44"/><path d="M411.9,555L416,555.9L412,556.1L407.9,555.2Z" fill="#96dc16" stroke-width="0.42"/><path d="M395.4,554.7L399.7,555.1L395.8,555.8L391.5,555.5Z" fill="#9de317" stroke-width="0.42"/><path d="M403.6,554.6L407.9,555.2L403.9,555.7L399.7,555.1Z" fill="#9cdf16" stroke-width="0.42"/><path d="M457.2,565.1L461,567.2L456.7,566.1L452.9,564Z" fill="#38c714" stroke-width="0.43"/><path d="M498.4,586.5L501.9,589.6L497.5,587.1L494,584Z" fill="#13bd90" stroke-width="0.44"/><path d="M477.8,574.3L481.5,576.9L477.2,575.1L473.4,572.5Z" fill="#13be34" stroke-width="0.43"/><path d="M449,562.1L452.9,564L448.7,563.1L444.7,561.2Z" fill="#55cb14" stroke-width="0.42"/><path d="M358.2,560.9L362.7,560.1L359,561.7L354.5,562.6Z" fill="#72ef18" stroke-width="0.40"/><path d="M440.7,559.6L444.7,561.2L440.5,560.6L436.5,558.9Z" fill="#6fcf15" stroke-width="0.42"/><path d="M366.4,558.6L370.8,558L367.1,559.4L362.7,560.1Z" fill="#8aed18" stroke-width="0.40"/><path d="M469.7,570.1L473.4,572.5L469.1,570.9L465.3,568.6Z" fill="#17c213" stroke-width="0.42"/><path d="M432.5,557.5L436.5,558.9L432.4,558.5L428.3,557.1Z" fill="#84d315" stroke-width="0.41"/><path d="M490.4,581.2L494,584L489.5,581.8L485.9,578.9Z" fill="#13bd62" stroke-width="0.42"/><path d="M374.6,556.8L379,556.4L375.2,557.6L370.8,558Z" fill="#9ceb17" stroke-width="0.40"/><path d="M424.2,555.9L428.3,557.1L424.2,556.9L420.1,555.8Z" fill="#96d716" stroke-width="0.41"/><path d="M382.8,555.4L387.2,555.3L383.3,556.3L379,556.4Z" fill="#a8e817" stroke-width="0.39"/><path d="M415.9,554.9L420.1,555.8L416,555.9L411.9,555Z" fill="#a3db16" stroke-width="0.40"/><path d="M391.1,554.6L395.4,554.7L391.5,555.5L387.2,555.3Z" fill="#aee517" stroke-width="0.39"/><path d="M461.5,566.4L465.3,568.6L461,567.2L457.2,565.1Z" fill="#39c614" stroke-width="0.41"/><path d="M407.7,554.3L411.9,555L407.9,555.2L403.6,554.6Z" fill="#acdf16" stroke-width="0.40"/><path d="M399.4,554.2L403.6,554.6L399.7,555.1L395.4,554.7Z" fill="#b0e217" stroke-width="0.40"/><path d="M502.9,589.2L506.4,592.3L501.9,589.6L498.4,586.5Z" fill="#13bd9a" stroke-width="0.42"/><path d="M482.2,576.3L485.9,578.9L481.5,576.9L477.8,574.3Z" fill="#13bd38" stroke-width="0.41"/><path d="M453.2,563.1L457.2,565.1L452.9,564L449,562.1Z" fill="#57ca14" stroke-width="0.40"/><path d="M353.7,562L358.2,560.9L354.5,562.6L350,563.7Z" fill="#76f118" stroke-width="0.38"/><path d="M445,560.4L449,562.1L444.7,561.2L440.7,559.6Z" fill="#73ce15" stroke-width="0.39"/><path d="M474.1,571.8L477.8,574.3L473.4,572.5L469.7,570.1Z" fill="#14c113" stroke-width="0.40"/><path d="M494.8,583.6L498.4,586.5L494,584L490.4,581.2Z" fill="#13bd6a" stroke-width="0.41"/><path d="M361.9,559.4L366.4,558.6L362.7,560.1L358.2,560.9Z" fill="#91f018" stroke-width="0.37"/><path d="M436.7,558.1L440.7,559.6L436.5,558.9L432.5,557.5Z" fill="#8bd315" stroke-width="0.39"/><path d="M370.1,557.3L374.6,556.8L370.8,558L366.4,558.6Z" fill="#a6ed18" stroke-width="0.37"/><path d="M428.4,556.3L432.5,557.5L428.3,557.1L424.2,555.9Z" fill="#9fd715" stroke-width="0.38"/><path d="M507.4,592.1L510.9,595.2L506.4,592.3L502.9,589.2Z" fill="#13bda6" stroke-width="0.40"/><path d="M465.8,567.9L469.7,570.1L465.3,568.6L461.5,566.4Z" fill="#38c514" stroke-width="0.39"/><path d="M378.4,555.7L382.8,555.4L379,556.4L374.6,556.8Z" fill="#b5eb17" stroke-width="0.37"/><path d="M420.1,555L424.2,555.9L420.1,555.8L415.9,554.9Z" fill="#afda16" stroke-width="0.38"/><path d="M386.7,554.6L391.1,554.6L387.2,555.3L382.8,555.4Z" fill="#bee817" stroke-width="0.37"/><path d="M486.7,578.5L490.4,581.2L485.9,578.9L482.2,576.3Z" fill="#13bd3e" stroke-width="0.39"/><path d="M411.7,554.1L415.9,554.9L411.9,555L407.7,554.3Z" fill="#bade16" stroke-width="0.37"/><path d="M395.1,553.9L399.4,554.2L395.4,554.7L391.1,554.6Z" fill="#c2e517" stroke-width="0.37"/><path d="M403.4,553.8L407.7,554.3L403.6,554.6L399.4,554.2Z" fill="#c0e217" stroke-width="0.37"/><path d="M457.6,564.4L461.5,566.4L457.2,565.1L453.2,563.1Z" fill="#58c914" stroke-width="0.38"/><path d="M349.1,563.3L353.7,562L350,563.7L345.5,565.1Z" fill="#78f318" stroke-width="0.35"/><path d="M499.3,586.2L502.9,589.2L498.4,586.5L494.8,583.6Z" fill="#13bd74" stroke-width="0.39"/><path d="M478.5,573.8L482.2,576.3L477.8,574.3L474.1,571.8Z" fill="#13c017" stroke-width="0.38"/><path d="M449.3,561.4L453.2,563.1L449,562.1L445,560.4Z" fill="#76cd15" stroke-width="0.37"/><path d="M357.4,560.5L361.9,559.4L358.2,560.9L353.7,562Z" fill="#96f218" stroke-width="0.34"/><path d="M512,595.2L515.5,598.3L510.9,595.2L507.4,592.1Z" fill="#13bdb3" stroke-width="0.38"/><path d="M440.9,558.8L445,560.4L440.7,559.6L436.7,558.1Z" fill="#90d215" stroke-width="0.36"/><path d="M365.7,558.1L370.1,557.3L366.4,558.6L361.9,559.4Z" fill="#aef018" stroke-width="0.34"/><path d="M470.2,569.6L474.1,571.8L469.7,570.1L465.8,567.9Z" fill="#35c414" stroke-width="0.37"/><path d="M432.6,556.8L436.7,558.1L432.5,557.5L428.4,556.3Z" fill="#a6d615" stroke-width="0.36"/><path d="M491.2,580.8L494.8,583.6L490.4,581.2L486.7,578.5Z" fill="#13bd46" stroke-width="0.37"/><path d="M374,556.2L378.4,555.7L374.6,556.8L370.1,557.3Z" fill="#bfed18" stroke-width="0.34"/><path d="M424.2,555.2L428.4,556.3L424.2,555.9L420.1,555Z" fill="#b9da16" stroke-width="0.35"/><path d="M382.3,554.8L386.7,554.6L382.8,555.4L378.4,555.7Z" fill="#cceb17" stroke-width="0.34"/><path d="M415.8,554.1L420.1,555L415.9,554.9L411.7,554.1Z" fill="#c6de16" stroke-width="0.34"/><path d="M390.7,553.9L395.1,553.9L391.1,554.6L386.7,554.6Z" fill="#d3e817" stroke-width="0.34"/><path d="M461.9,565.8L465.8,567.9L461.5,566.4L457.6,564.4Z" fill="#57c814" stroke-width="0.36"/><path d="M407.4,553.6L411.7,554.1L407.7,554.3L403.4,553.8Z" fill="#d0e117" stroke-width="0.34"/><path d="M399.1,553.5L403.4,553.8L399.4,554.2L395.1,553.9Z" fill="#d4e517" stroke-width="0.34"/><path d="M503.9,589.1L507.4,592.1L502.9,589.2L499.3,586.2Z" fill="#13bd7f" stroke-width="0.37"/><path d="M344.5,564.9L349.1,563.3L345.5,565.1L340.9,566.7Z" fill="#78f519" stroke-width="0.32"/><path d="M483,575.9L486.7,578.5L482.2,576.3L478.5,573.8Z" fill="#13bf1d" stroke-width="0.36"/><path d="M453.6,562.5L457.6,564.4L453.2,563.1L449.3,561.4Z" fill="#77cc14" stroke-width="0.35"/><path d="M516.6,598.4L520,601.7L515.5,598.3L512,595.2Z" fill="#13b7bd" stroke-width="0.36"/><path d="M352.8,561.7L357.4,560.5L353.7,562L349.1,563.3Z" fill="#99f418" stroke-width="0.31"/><path d="M445.2,559.8L449.3,561.4L445,560.4L440.9,558.8Z" fill="#93d115" stroke-width="0.34"/><path d="M474.7,571.4L478.5,573.8L474.1,571.8L470.2,569.6Z" fill="#30c313" stroke-width="0.34"/><path d="M495.7,583.4L499.3,586.2L494.8,583.6L491.2,580.8Z" fill="#13bd4f" stroke-width="0.35"/><path d="M361.1,559.1L365.7,558.1L361.9,559.4L357.4,560.5Z" fill="#b4f218" stroke-width="0.31"/><path d="M436.8,557.5L440.9,558.8L436.7,558.1L432.6,556.8Z" fill="#abd515" stroke-width="0.33"/><path d="M369.5,556.9L374,556.2L370.1,557.3L365.7,558.1Z" fill="#c8f018" stroke-width="0.30"/><path d="M428.4,555.7L432.6,556.8L428.4,556.3L424.2,555.2Z" fill="#c0d916" stroke-width="0.32"/><path d="M508.5,592.1L512,595.2L507.4,592.1L503.9,589.1Z" fill="#13bd8c" stroke-width="0.34"/><path d="M466.4,567.4L470.2,569.6L465.8,567.9L461.9,565.8Z" fill="#55c714" stroke-width="0.33"/><path d="M377.9,555.3L382.3,554.8L378.4,555.7L374,556.2Z" fill="#d8ed18" stroke-width="0.30"/><path d="M420,554.4L424.2,555.2L420.1,555L415.8,554.1Z" fill="#d0dd16" stroke-width="0.31"/><path d="M339.9,566.6L344.5,564.9L340.9,566.7L336.3,568.5Z" fill="#74f719" stroke-width="0.29"/><path d="M386.3,554.1L390.7,553.9L386.7,554.6L382.3,554.8Z" fill="#e1eb17" stroke-width="0.30"/><path d="M487.5,578.2L491.2,580.8L486.7,578.5L483,575.9Z" fill="#13be24" stroke-width="0.33"/><path d="M411.6,553.5L415.8,554.1L411.7,554.1L407.4,553.6Z" fill="#dce116" stroke-width="0.31"/><path d="M394.7,553.4L399.1,553.5L395.1,553.9L390.7,553.9Z" fill="#e4e817" stroke-width="0.30"/><path d="M403.1,553.2L407.4,553.6L403.4,553.8L399.1,553.5Z" fill="#e4e417" stroke-width="0.30"/><path d="M458,563.9L461.9,565.8L457.6,564.4L453.6,562.5Z" fill="#76cb14" stroke-width="0.32"/><path d="M348.2,563.2L352.8,561.7L349.1,563.3L344.5,564.9Z" fill="#98f619" stroke-width="0.28"/><path d="M500.3,586.2L503.9,589.1L499.3,586.2L495.7,583.4Z" fill="#13bd5b" stroke-width="0.33"/><path d="M479.2,573.5L483,575.9L478.5,573.8L474.7,571.4Z" fill="#2bc213" stroke-width="0.32"/><path d="M449.6,560.9L453.6,562.5L449.3,561.4L445.2,559.8Z" fill="#94d015" stroke-width="0.31"/><path d="M356.5,560.3L361.1,559.1L357.4,560.5L352.8,561.7Z" fill="#b7f418" stroke-width="0.27"/><path d="M513.1,595.4L516.6,598.4L512,595.2L508.5,592.1Z" fill="#13bd9b" stroke-width="0.32"/><path d="M441.1,558.4L445.2,559.8L440.9,558.8L436.8,557.5Z" fill="#afd415" stroke-width="0.29"/><path d="M364.9,557.9L369.5,556.9L365.7,558.1L361.1,559.1Z" fill="#cff218" stroke-width="0.27"/><path d="M470.8,569.3L474.7,571.4L470.2,569.6L466.4,567.4Z" fill="#51c614" stroke-width="0.30"/><path d="M492,580.8L495.7,583.4L491.2,580.8L487.5,578.2Z" fill="#13bd2d" stroke-width="0.31"/><path d="M432.7,556.3L436.8,557.5L432.6,556.8L428.4,555.7Z" fill="#c6d816" stroke-width="0.28"/><path d="M335.2,568.6L339.9,566.6L336.3,568.5L331.6,570.5Z" fill="#6ff919" stroke-width="0.25"/><path d="M373.3,555.9L377.9,555.3L374,556.2L369.5,556.9Z" fill="#e1f018" stroke-width="0.26"/><path d="M424.2,554.8L428.4,555.7L424.2,555.2L420,554.4Z" fill="#d9dc16" stroke-width="0.28"/><path d="M381.8,554.5L386.3,554.1L382.3,554.8L377.9,555.3Z" fill="#eded18" stroke-width="0.26"/><path d="M415.7,553.7L420,554.4L415.8,554.1L411.6,553.5Z" fill="#e0d916" stroke-width="0.27"/><path d="M390.3,553.5L394.7,553.4L390.7,553.9L386.3,554.1Z" fill="#ebe117" stroke-width="0.26"/><path d="M462.4,565.5L466.4,567.4L461.9,565.8L458,563.9Z" fill="#74ca14" stroke-width="0.29"/><path d="M407.2,553.2L411.6,553.5L407.4,553.6L403.1,553.2Z" fill="#e4d717" stroke-width="0.26"/><path d="M398.7,553.1L403.1,553.2L399.1,553.5L394.7,553.4Z" fill="#e7d917" stroke-width="0.26"/><path d="M343.5,564.9L348.2,563.2L344.5,564.9L339.9,566.6Z" fill="#97f719" stroke-width="0.24"/><path d="M504.9,589.2L508.5,592.1L503.9,589.1L500.3,586.2Z" fill="#13bd67" stroke-width="0.30"/><path d="M483.7,575.8L487.5,578.2L483,575.9L479.2,573.5Z" fill="#23c113" stroke-width="0.29"/><path d="M454,562.2L458,563.9L453.6,562.5L449.6,560.9Z" fill="#94cf15" stroke-width="0.27"/><path d="M351.9,561.7L356.5,560.3L352.8,561.7L348.2,563.2Z" fill="#b8f619" stroke-width="0.23"/><path d="M445.5,559.5L449.6,560.9L445.2,559.8L441.1,558.4Z" fill="#b1d315" stroke-width="0.26"/><path d="M475.3,571.3L479.2,573.5L474.7,571.4L470.8,569.3Z" fill="#4bc514" stroke-width="0.27"/><path d="M496.6,583.5L500.3,586.2L495.7,583.4L492,580.8Z" fill="#13bd38" stroke-width="0.28"/><path d="M360.3,559L364.9,557.9L361.1,559.1L356.5,560.3Z" fill="#d3f418" stroke-width="0.22"/><path d="M330.5,570.8L335.2,568.6L331.6,570.5L326.9,572.7Z" fill="#67fa19" stroke-width="0.20"/><path d="M437,557.2L441.1,558.4L436.8,557.5L432.7,556.3Z" fill="#cad716" stroke-width="0.24"/><path d="M368.8,556.8L373.3,555.9L369.5,556.9L364.9,557.9Z" fill="#e8f218" stroke-width="0.21"/><path d="M509.5,592.5L513.1,595.4L508.5,592.1L504.9,589.2Z" fill="#13bd75" stroke-width="0.27"/><path d="M428.5,555.4L432.7,556.3L428.4,555.7L424.2,554.8Z" fill="#dbd716" stroke-width="0.23"/><path d="M466.9,567.3L470.8,569.3L466.4,567.4L462.4,565.5Z" fill="#70c914" stroke-width="0.25"/><path d="M377.3,555.1L381.8,554.5L377.9,555.3L373.3,555.9Z" fill="#f0e818" stroke-width="0.21"/><path d="M338.9,566.9L343.5,564.9L339.9,566.6L335.2,568.6Z" fill="#91f919" stroke-width="0.19"/><path d="M419.9,554.1L424.2,554.8L420,554.4L415.7,553.7Z" fill="#dfcf16" stroke-width="0.22"/><path d="M385.8,553.9L390.3,553.5L386.3,554.1L381.8,554.5Z" fill="#edd918" stroke-width="0.21"/><path d="M488.3,578.3L492,580.8L487.5,578.2L483.7,575.8Z" fill="#1ac013" stroke-width="0.25"/><path d="M411.4,553.3L415.7,553.7L411.6,553.5L407.2,553.2Z" fill="#e3ca17" stroke-width="0.22"/><path d="M394.3,553.2L398.7,553.1L394.7,553.4L390.3,553.5Z" fill="#eacf17" stroke-width="0.21"/><path d="M402.9,553L407.2,553.2L403.1,553.2L398.7,553.1Z" fill="#e7ca17" stroke-width="0.21"/><path d="M458.4,563.8L462.4,565.5L458,563.9L454,562.2Z" fill="#92cd15" stroke-width="0.23"/><path d="M347.3,563.4L351.9,561.7L348.2,563.2L343.5,564.9Z" fill="#b6f819" stroke-width="0.17"/><path d="M501.2,586.5L504.9,589.2L500.3,586.2L496.6,583.5Z" fill="#13bd43" stroke-width="0.24"/><path d="M479.9,573.6L483.7,575.8L479.2,573.5L475.3,571.3Z" fill="#43c414" stroke-width="0.23"/><path d="M449.9,560.7L454,562.2L449.6,560.9L445.5,559.5Z" fill="#b0d215" stroke-width="0.21"/><path d="M355.7,560.4L360.3,559L356.5,560.3L351.9,561.7Z" fill="#d5f619" stroke-width="0.16"/><path d="M441.4,558.2L445.5,559.5L441.1,558.4L437,557.2Z" fill="#ccd615" stroke-width="0.20"/><path d="M364.2,557.9L368.8,556.8L364.9,557.9L360.3,559Z" fill="#eef518" stroke-width="0.15"/><path d="M471.4,569.3L475.3,571.3L470.8,569.3L466.9,567.3Z" fill="#6ac814" stroke-width="0.21"/><path d="M334.1,569L338.9,566.9L335.2,568.6L330.5,570.8Z" fill="#8afb19" stroke-width="0.12"/><path d="M492.9,581L496.6,583.5L492,580.8L488.3,578.3Z" fill="#13be16" stroke-width="0.21"/><path d="M432.8,556.1L437,557.2L432.7,556.3L428.5,555.4Z" fill="#dad116" stroke-width="0.18"/><path d="M372.7,555.9L377.3,555.1L373.3,555.9L368.8,556.8Z" fill="#f2e518" stroke-width="0.14"/><path d="M424.2,554.6L428.5,555.4L424.2,554.8L419.9,554.1Z" fill="#dec616" stroke-width="0.17"/><path d="M381.3,554.4L385.8,553.9L381.8,554.5L377.3,555.1Z" fill="#f0d318" stroke-width="0.14"/><path d="M415.6,553.6L419.9,554.1L415.7,553.7L411.4,553.3Z" fill="#e2bf17" stroke-width="0.15"/><path d="M389.8,553.5L394.3,553.2L390.3,553.5L385.8,553.9Z" fill="#edc718" stroke-width="0.14"/><path d="M462.9,565.5L466.9,567.3L462.4,565.5L458.4,563.8Z" fill="#8ecc14" stroke-width="0.18"/><path d="M407,553L411.4,553.3L407.2,553.2L402.9,553Z" fill="#e6bd17" stroke-width="0.14"/><path d="M398.4,553L402.9,553L398.7,553.1L394.3,553.2Z" fill="#eac017" stroke-width="0.14"/><path d="M342.5,565.3L347.3,563.4L343.5,564.9L338.9,566.9Z" fill="#b2fa19" stroke-width="0.09"/><path d="M505.9,589.7L509.5,592.5L504.9,589.2L501.2,586.5Z" fill="#13bd51" stroke-width="0.20"/><path d="M484.4,576L488.3,578.3L483.7,575.8L479.9,573.6Z" fill="#3bc213" stroke-width="0.18"/><path d="M454.3,562.2L458.4,563.8L454,562.2L449.9,560.7Z" fill="#afd115" stroke-width="0.16"/><path d="M351,562L355.7,560.4L351.9,561.7L347.3,563.4Z" fill="#d4f819" stroke-width="0.08"/><path d="M445.8,559.4L449.9,560.7L445.5,559.5L441.4,558.2Z" fill="#cdd515" stroke-width="0.13"/><path d="M359.5,559.3L364.2,557.9L360.3,559L355.7,560.4Z" fill="#f0f719" stroke-width="0.08"/><path d="M497.5,584L501.2,586.5L496.6,583.5L492.9,581Z" fill="#13bd22" stroke-width="0.17"/><path d="M476,571.5L479.9,573.6L475.3,571.3L471.4,569.3Z" fill="#63c714" stroke-width="0.15"/><path d="M437.2,557.1L441.4,558.2L437,557.2L432.8,556.1Z" fill="#d9cc16" stroke-width="0.10"/><path d="M368.1,557L372.7,555.9L368.8,556.8L364.2,557.9Z" fill="#f5e318" stroke-width="0.08"/><path d="M428.5,555.3L432.8,556.1L428.5,555.4L424.2,554.6Z" fill="#debf16" stroke-width="0.08"/><path d="M376.7,555.2L381.3,554.4L377.3,555.1L372.7,555.9Z" fill="#f2cf18" stroke-width="0.08"/><path d="M467.4,567.5L471.4,569.3L466.9,567.3L462.9,565.5Z" fill="#88cb14" stroke-width="0.11"/><path d="M337.8,567.4L342.5,565.3L338.9,566.9L334.1,569Z" fill="#acfb19" stroke-width="0.12"/><path d="M419.9,554.1L424.2,554.6L419.9,554.1L415.6,553.6Z" fill="#e2b717" stroke-width="0.08"/><path d="M385.3,554L389.8,553.5L385.8,553.9L381.3,554.4Z" fill="#f0c018" stroke-width="0.08"/><path d="M489.1,578.7L492.9,581L488.3,578.3L484.4,576Z" fill="#30c113" stroke-width="0.12"/><path d="M411.2,553.3L415.6,553.6L411.4,553.3L407,553Z" fill="#e6b217" stroke-width="0.08"/><path d="M393.9,553.2L398.4,553L394.3,553.2L389.8,553.5Z" fill="#edb618" stroke-width="0.08"/><path d="M402.6,553L407,553L402.9,553L398.4,553Z" fill="#e9b117" stroke-width="0.08"/><path d="M458.8,563.9L462.9,565.5L458.4,563.8L454.3,562.2Z" fill="#accf15" stroke-width="0.08"/><path d="M346.3,563.9L351,562L347.3,563.4L342.5,565.3Z" fill="#d2fa19" stroke-width="0.14"/><path d="M502.2,587.1L505.9,589.7L501.2,586.5L497.5,584Z" fill="#13bd2f" stroke-width="0.10"/><path d="M480.6,573.9L484.4,576L479.9,573.6L476,571.5Z" fill="#5ac514" stroke-width="0.08"/><path d="M450.2,560.9L454.3,562.2L449.9,560.7L445.8,559.4Z" fill="#cbd415" stroke-width="0.08"/><path d="M354.9,560.8L359.5,559.3L355.7,560.4L351,562Z" fill="#f0f919" stroke-width="0.16"/><path d="M441.6,558.3L445.8,559.4L441.4,558.2L437.2,557.1Z" fill="#d8ca16" stroke-width="0.11"/><path d="M363.4,558.3L368.1,557L364.2,557.9L359.5,559.3Z" fill="#f7e519" stroke-width="0.17"/><path d="M472,569.6L476,571.5L471.4,569.3L467.4,567.5Z" fill="#82ca14" stroke-width="0.09"/><path d="M493.7,581.6L497.5,584L492.9,581L489.1,578.7Z" fill="#25c013" stroke-width="0.08"/><path d="M432.9,556.3L437.2,557.1L432.8,556.1L428.5,555.3Z" fill="#ddba16" stroke-width="0.14"/><path d="M372.1,556.2L376.7,555.2L372.7,555.9L368.1,557Z" fill="#f5cd18" stroke-width="0.18"/><path d="M424.2,554.7L428.5,555.3L424.2,554.6L419.9,554.1Z" fill="#e1af16" stroke-width="0.15"/><path d="M380.7,554.7L385.3,554L381.3,554.4L376.7,555.2Z" fill="#f2bc18" stroke-width="0.18"/><path d="M415.5,553.7L419.9,554.1L415.6,553.6L411.2,553.3Z" fill="#e5a817" stroke-width="0.17"/><path d="M389.4,553.7L393.9,553.2L389.8,553.5L385.3,554Z" fill="#efaf18" stroke-width="0.18"/><path d="M463.4,565.8L467.4,567.5L462.9,565.5L458.8,563.9Z" fill="#a6ce15" stroke-width="0.14"/><path d="M341.5,566L346.3,563.9L342.5,565.3L337.8,567.4Z" fill="#ccfc19" stroke-width="0.21"/><path d="M406.8,553.2L411.2,553.3L407,553L402.6,553Z" fill="#e9a517" stroke-width="0.18"/><path d="M398.1,553.2L402.6,553L398.4,553L393.9,553.2Z" fill="#eca818" stroke-width="0.18"/><path d="M485.2,576.6L489.1,578.7L484.4,576L480.6,573.9Z" fill="#50c414" stroke-width="0.13"/><path d="M454.7,562.5L458.8,563.9L454.3,562.2L450.2,560.9Z" fill="#c8d315" stroke-width="0.17"/><path d="M350.1,562.6L354.9,560.8L351,562L346.3,563.9Z" fill="#eefb19" stroke-width="0.22"/><path d="M446,559.7L450.2,560.9L445.8,559.4L441.6,558.3Z" fill="#d7c916" stroke-width="0.19"/><path d="M358.7,559.8L363.4,558.3L359.5,559.3L354.9,560.8Z" fill="#f9e719" stroke-width="0.23"/><path d="M498.4,584.7L502.2,587.1L497.5,584L493.7,581.6Z" fill="#18bf13" stroke-width="0.16"/><path d="M476.6,572L480.6,573.9L476,571.5L472,569.6Z" fill="#79c914" stroke-width="0.17"/><path d="M437.3,557.4L441.6,558.3L437.2,557.1L432.9,556.3Z" fill="#dcb716" stroke-width="0.21"/><path d="M367.4,557.5L372.1,556.2L368.1,557L363.4,558.3Z" fill="#f7ce19" stroke-width="0.24"/><path d="M428.6,555.6L432.9,556.3L428.5,555.3L424.2,554.7Z" fill="#e0a916" stroke-width="0.22"/><path d="M376.1,555.7L380.7,554.7L376.7,555.2L372.1,556.2Z" fill="#f5b918" stroke-width="0.24"/><path d="M468,568L472,569.6L467.4,567.5L463.4,565.8Z" fill="#9fcd14" stroke-width="0.20"/><path d="M419.8,554.4L424.2,554.7L419.9,554.1L415.5,553.7Z" fill="#e4a017" stroke-width="0.23"/><path d="M384.8,554.4L389.4,553.7L385.3,554L380.7,554.7Z" fill="#f2aa18" stroke-width="0.25"/><path d="M489.9,579.4L493.7,581.6L489.1,578.7L485.2,576.6Z" fill="#44c313" stroke-width="0.19"/><path d="M411.1,553.6L415.5,553.7L411.2,553.3L406.8,553.2Z" fill="#e89c17" stroke-width="0.24"/><path d="M393.6,553.6L398.1,553.2L393.9,553.2L389.4,553.7Z" fill="#efa018" stroke-width="0.25"/><path d="M402.3,553.3L406.8,553.2L402.6,553L398.1,553.2Z" fill="#ec9b18" stroke-width="0.24"/><path d="M345.3,564.7L350.1,562.6L346.3,563.9L341.5,566Z" fill="#eafc19" stroke-width="0.27"/><path d="M459.3,564.4L463.4,565.8L458.8,563.9L454.7,562.5Z" fill="#c3d115" stroke-width="0.22"/><path d="M481.3,574.6L485.2,576.6L480.6,573.9L476.6,572Z" fill="#6fc714" stroke-width="0.23"/><path d="M354,561.6L358.7,559.8L354.9,560.8L350.1,562.6Z" fill="#fbed19" stroke-width="0.28"/><path d="M450.6,561.3L454.7,562.5L450.2,560.9L446,559.7Z" fill="#d6c915" stroke-width="0.24"/><path d="M362.7,559L367.4,557.5L363.4,558.3L358.7,559.8Z" fill="#f9d019" stroke-width="0.29"/><path d="M441.8,558.8L446,559.7L441.6,558.3L437.3,557.4Z" fill="#dab516" stroke-width="0.26"/><path d="M472.6,570.3L476.6,572L472,569.6L468,568Z" fill="#97cc14" stroke-width="0.25"/><path d="M494.6,582.5L498.4,584.7L493.7,581.6L489.9,579.4Z" fill="#38c213" stroke-width="0.24"/><path d="M371.4,556.9L376.1,555.7L372.1,556.2L367.4,557.5Z" fill="#f7b819" stroke-width="0.29"/><path d="M433,556.7L437.3,557.4L432.9,556.3L428.6,555.6Z" fill="#dfa616" stroke-width="0.27"/><path d="M380.2,555.3L384.8,554.4L380.7,554.7L376.1,555.7Z" fill="#f5a718" stroke-width="0.30"/><path d="M424.2,555.2L428.6,555.6L424.2,554.7L419.8,554.4Z" fill="#e39a17" stroke-width="0.28"/><path d="M389,554.2L393.6,553.6L389.4,553.7L384.8,554.4Z" fill="#f29a18" stroke-width="0.30"/><path d="M415.4,554.2L419.8,554.4L415.5,553.7L411.1,553.6Z" fill="#e79317" stroke-width="0.29"/><path d="M463.9,566.5L468,568L463.4,565.8L459.3,564.4Z" fill="#bcd015" stroke-width="0.27"/><path d="M397.8,553.7L402.3,553.3L398.1,553.2L393.6,553.6Z" fill="#ef9318" stroke-width="0.30"/><path d="M406.6,553.7L411.1,553.6L406.8,553.2L402.3,553.3Z" fill="#eb9118" stroke-width="0.29"/><path d="M486,577.4L489.9,579.4L485.2,576.6L481.3,574.6Z" fill="#63c614" stroke-width="0.27"/><path d="M349.2,563.6L354,561.6L350.1,562.6L345.3,564.7Z" fill="#fdf519" stroke-width="0.32"/><path d="M455.1,563.1L459.3,564.4L454.7,562.5L450.6,561.3Z" fill="#d5cc15" stroke-width="0.29"/><path d="M357.9,560.7L362.7,559L358.7,559.8L354,561.6Z" fill="#fbd419" stroke-width="0.33"/><path d="M446.3,560.3L450.6,561.3L446,559.7L441.8,558.8Z" fill="#d9b616" stroke-width="0.30"/><path d="M477.3,572.8L481.3,574.6L476.6,572L472.6,570.3Z" fill="#8dca14" stroke-width="0.29"/><path d="M366.7,558.3L371.4,556.9L367.4,557.5L362.7,559Z" fill="#f9ba19" stroke-width="0.34"/><path d="M437.5,558L441.8,558.8L437.3,557.4L433,556.7Z" fill="#dea416" stroke-width="0.31"/><path d="M375.5,556.5L380.2,555.3L376.1,555.7L371.4,556.9Z" fill="#f7a619" stroke-width="0.34"/><path d="M428.6,556.2L433,556.7L428.6,555.6L424.2,555.2Z" fill="#e29617" stroke-width="0.32"/><path d="M468.5,568.8L472.6,570.3L468,568L463.9,566.5Z" fill="#b4cf15" stroke-width="0.31"/><path d="M384.3,555.1L389,554.2L384.8,554.4L380.2,555.3Z" fill="#f49618" stroke-width="0.34"/><path d="M419.8,555L424.2,555.2L419.8,554.4L415.4,554.2Z" fill="#e68d17" stroke-width="0.33"/><path d="M490.7,580.4L494.6,582.5L489.9,579.4L486,577.4Z" fill="#56c514" stroke-width="0.31"/><path d="M393.2,554.3L397.8,553.7L393.6,553.6L389,554.2Z" fill="#f18c18" stroke-width="0.34"/><path d="M410.9,554.2L415.4,554.2L411.1,553.6L406.6,553.7Z" fill="#ea8817" stroke-width="0.34"/><path d="M402,554L406.6,553.7L402.3,553.3L397.8,553.7Z" fill="#ee8818" stroke-width="0.34"/><path d="M459.7,565.2L463.9,566.5L459.3,564.4L455.1,563.1Z" fill="#d3cf15" stroke-width="0.33"/><path d="M482,575.6L486,577.4L481.3,574.6L477.3,572.8Z" fill="#81c914" stroke-width="0.33"/><path d="M353.1,562.6L357.9,560.7L354,561.6L349.2,563.6Z" fill="#fddb19" stroke-width="0.37"/><path d="M450.9,562.1L455.1,563.1L450.6,561.3L446.3,560.3Z" fill="#d8b816" stroke-width="0.34"/><path d="M361.9,560L366.7,558.3L362.7,559L357.9,560.7Z" fill="#fbbe19" stroke-width="0.38"/><path d="M442,559.5L446.3,560.3L441.8,558.8L437.5,558Z" fill="#dda416" stroke-width="0.35"/><path d="M473.2,571.3L477.3,572.8L472.6,570.3L468.5,568.8Z" fill="#aace15" stroke-width="0.35"/><path d="M370.8,557.8L375.5,556.5L371.4,556.9L366.7,558.3Z" fill="#f9a719" stroke-width="0.38"/><path d="M433.1,557.5L437.5,558L433,556.7L428.6,556.2Z" fill="#e19417" stroke-width="0.36"/><path d="M379.6,556.2L384.3,555.1L380.2,555.3L375.5,556.5Z" fill="#f79419" stroke-width="0.38"/><path d="M424.2,556L428.6,556.2L424.2,555.2L419.8,555Z" fill="#e58817" stroke-width="0.37"/><path d="M388.5,555.1L393.2,554.3L389,554.2L384.3,555.1Z" fill="#f48818" stroke-width="0.38"/><path d="M415.3,555L419.8,555L415.4,554.2L410.9,554.2Z" fill="#e98117" stroke-width="0.38"/><path d="M464.4,567.4L468.5,568.8L463.9,566.5L459.7,565.2Z" fill="#cfd215" stroke-width="0.36"/><path d="M397.4,554.5L402,554L397.8,553.7L393.2,554.3Z" fill="#f18118" stroke-width="0.38"/><path d="M406.4,554.5L410.9,554.2L406.6,553.7L402,554Z" fill="#ed7e18" stroke-width="0.38"/><path d="M486.7,578.6L490.7,580.4L486,577.4L482,575.6Z" fill="#75c814" stroke-width="0.36"/><path d="M455.5,564.1L459.7,565.2L455.1,563.1L450.9,562.1Z" fill="#d7bb15" stroke-width="0.38"/><path d="M357.1,561.9L361.9,560L357.9,560.7L353.1,562.6Z" fill="#fdc419" stroke-width="0.41"/><path d="M446.6,561.3L450.9,562.1L446.3,560.3L442,559.5Z" fill="#dba616" stroke-width="0.39"/><path d="M477.9,574L482,575.6L477.3,572.8L473.2,571.3Z" fill="#9ecc14" stroke-width="0.38"/><path d="M366,559.5L370.8,557.8L366.7,558.3L361.9,560Z" fill="#fbaa19" stroke-width="0.42"/><path d="M437.7,559L442,559.5L437.5,558L433.1,557.5Z" fill="#e09316" stroke-width="0.40"/><path d="M374.9,557.6L379.6,556.2L375.5,556.5L370.8,557.8Z" fill="#f99519" stroke-width="0.42"/><path d="M428.7,557.2L433.1,557.5L428.6,556.2L424.2,556Z" fill="#e48517" stroke-width="0.41"/><path d="M469.1,569.9L473.2,571.3L468.5,568.8L464.4,567.4Z" fill="#c6d115" stroke-width="0.40"/><path d="M383.8,556.2L388.5,555.1L384.3,555.1L379.6,556.2Z" fill="#f78519" stroke-width="0.42"/><path d="M419.7,555.9L424.2,556L419.8,555L415.3,555Z" fill="#e97c17" stroke-width="0.41"/><path d="M392.8,555.3L397.4,554.5L393.2,554.3L388.5,555.1Z" fill="#f47b18" stroke-width="0.42"/><path d="M410.7,555.2L415.3,555L410.9,554.2L406.4,554.5Z" fill="#ed7718" stroke-width="0.42"/><path d="M401.8,555L406.4,554.5L402,554L397.4,554.5Z" fill="#f07618" stroke-width="0.42"/><path d="M460.2,566.3L464.4,567.4L459.7,565.2L455.5,564.1Z" fill="#d5c015" stroke-width="0.41"/><path d="M482.7,576.9L486.7,578.6L482,575.6L477.9,574Z" fill="#92cb14" stroke-width="0.41"/><path d="M451.2,563.2L455.5,564.1L450.9,562.1L446.6,561.3Z" fill="#daa916" stroke-width="0.42"/><path d="M361.1,561.3L366,559.5L361.9,560L357.1,561.9Z" fill="#fdb019" stroke-width="0.45"/><path d="M442.2,560.6L446.6,561.3L442,559.5L437.7,559Z" fill="#df9516" stroke-width="0.43"/><path d="M473.8,572.6L477.9,574L473.2,571.3L469.1,569.9Z" fill="#bacf15" stroke-width="0.43"/><path d="M370.1,559.1L374.9,557.6L370.8,557.8L366,559.5Z" fill="#fb9719" stroke-width="0.45"/><path d="M433.2,558.6L437.7,559L433.1,557.5L428.7,557.2Z" fill="#e38517" stroke-width="0.44"/><path d="M379.1,557.5L383.8,556.2L379.6,556.2L374.9,557.6Z" fill="#f98519" stroke-width="0.46"/><path d="M424.2,557.1L428.7,557.2L424.2,556L419.7,555.9Z" fill="#e87817" stroke-width="0.45"/><path d="M388.1,556.3L392.8,555.3L388.5,555.1L383.8,556.2Z" fill="#f67819" stroke-width="0.46"/><path d="M415.2,556.1L419.7,555.9L415.3,555L410.7,555.2Z" fill="#ec7118" stroke-width="0.45"/><path d="M464.9,568.7L469.1,569.9L464.4,567.4L460.2,566.3Z" fill="#d4c715" stroke-width="0.44"/><path d="M397.1,555.7L401.8,555L397.4,554.5L392.8,555.3Z" fill="#f37118" stroke-width="0.46"/><path d="M406.1,555.6L410.7,555.2L406.4,554.5L401.8,555Z" fill="#f06e18" stroke-width="0.46"/><path d="M455.9,565.4L460.2,566.3L455.5,564.1L451.2,563.2Z" fill="#d9ae16" stroke-width="0.45"/><path d="M446.9,562.5L451.2,563.2L446.6,561.3L442.2,560.6Z" fill="#dd9816"/><path d="M478.6,575.5L482.7,576.9L477.9,574L473.8,572.6Z" fill="#adce15" stroke-width="0.45"/><path d="M365.3,561L370.1,559.1L366,559.5L361.1,561.3Z" fill="#fd9c19"/><path d="M437.8,560.2L442.2,560.6L437.7,559L433.2,558.6Z" fill="#e28517"/><path d="M374.3,559L379.1,557.5L374.9,557.6L370.1,559.1Z" fill="#fb8719"/><path d="M428.8,558.5L433.2,558.6L428.7,557.2L424.2,557.1Z" fill="#e67717"/><path d="M469.6,571.3L473.8,572.6L469.1,569.9L464.9,568.7Z" fill="#d3d015"/><path d="M383.3,557.6L388.1,556.3L383.8,556.2L379.1,557.5Z" fill="#f97819"/><path d="M419.7,557.2L424.2,557.1L419.7,555.9L415.2,556.1Z" fill="#eb6e17"/><path d="M392.4,556.7L397.1,555.7L392.8,555.3L388.1,556.3Z" fill="#f66d19"/><path d="M410.6,556.5L415.2,556.1L410.7,555.2L406.1,555.6Z" fill="#ef6918"/><path d="M401.5,556.3L406.1,555.6L401.8,555L397.1,555.7Z" fill="#f26818"/><path d="M460.6,567.7L464.9,568.7L460.2,566.3L455.9,565.4Z" fill="#d7b416"/><path d="M451.6,564.6L455.9,565.4L451.2,563.2L446.9,562.5Z" fill="#dc9c16"/><path d="M442.5,562.1L446.9,562.5L442.2,560.6L437.8,560.2Z" fill="#e18916"/><path d="M474.4,574.2L478.6,575.5L473.8,572.6L469.6,571.3Z" fill="#c8d115"/><path d="M369.4,560.8L374.3,559L370.1,559.1L365.3,561Z" fill="#fd8b19"/><path d="M433.3,560L437.8,560.2L433.2,558.6L428.8,558.5Z" fill="#e57817"/><path d="M378.5,559.1L383.3,557.6L379.1,557.5L374.3,559Z" fill="#fb7919"/><path d="M424.2,558.5L428.8,558.5L424.2,557.1L419.7,557.2Z" fill="#ea6b17"/><path d="M387.6,557.9L392.4,556.7L388.1,556.3L383.3,557.6Z" fill="#f86b19"/><path d="M415.1,557.6L419.7,557.2L415.2,556.1L410.6,556.5Z" fill="#ee6418"/><path d="M396.8,557.2L401.5,556.3L397.1,555.7L392.4,556.7Z" fill="#f56419"/><path d="M465.4,570.3L469.6,571.3L464.9,568.7L460.6,567.7Z" fill="#d6bd15"/><path d="M405.9,557.1L410.6,556.5L406.1,555.6L401.5,556.3Z" fill="#f26218"/><path d="M456.3,567L460.6,567.7L455.9,565.4L451.6,564.6Z" fill="#dba316"/><path d="M447.2,564.2L451.6,564.6L446.9,562.5L442.5,562.1Z" fill="#df8d16"/><path d="M438,561.9L442.5,562.1L437.8,560.2L433.3,560Z" fill="#e47b17"/><path d="M373.7,560.8L378.5,559.1L374.3,559L369.4,560.8Z" fill="#fd7d19"/><path d="M428.8,560.1L433.3,560L428.8,558.5L424.2,558.5Z" fill="#e86c17"/><path d="M470.2,573.2L474.4,574.2L469.6,571.3L465.4,570.3Z" fill="#d4c715"/><path d="M382.8,559.3L387.6,557.9L383.3,557.6L378.5,559.1Z" fill="#fb6c19"/><path d="M419.6,558.9L424.2,558.5L419.7,557.2L415.1,557.6Z" fill="#ed6218"/><path d="M392,558.4L396.8,557.2L392.4,556.7L387.6,557.9Z" fill="#f86119"/><path d="M410.4,558.2L415.1,557.6L410.6,556.5L405.9,557.1Z" fill="#f15d18"/><path d="M401.2,558L405.9,557.1L401.5,556.3L396.8,557.2Z" fill="#f55d18"/><path d="M461.1,569.6L465.4,570.3L460.6,567.7L456.3,567Z" fill="#d9ab16"/><path d="M451.9,566.5L456.3,567L451.6,564.6L447.2,564.2Z" fill="#de9316"/><path d="M442.7,563.9L447.2,564.2L442.5,562.1L438,561.9Z" fill="#e37f17"/><path d="M433.5,561.9L438,561.9L433.3,560L428.8,560.1Z" fill="#e76e17"/><path d="M377.9,561L382.8,559.3L378.5,559.1L373.7,560.8Z" fill="#fd6f19"/><path d="M424.2,560.4L428.8,560.1L424.2,558.5L419.6,558.9Z" fill="#ec6218"/><path d="M387.2,559.8L392,558.4L387.6,557.9L382.8,559.3Z" fill="#fa6119"/><path d="M415,559.4L419.6,558.9L415.1,557.6L410.4,558.2Z" fill="#f05a18"/><path d="M396.4,559.1L401.2,558L396.8,557.2L392,558.4Z" fill="#f75a19"/><path d="M465.9,572.3L470.2,573.2L465.4,570.3L461.1,569.6Z" fill="#d8b516"/><path d="M405.7,559L410.4,558.2L405.9,557.1L401.2,558Z" fill="#f45718"/><path d="M456.7,569L461.1,569.6L456.3,567L451.9,566.5Z" fill="#dd9a16"/><path d="M447.4,566.1L451.9,566.5L447.2,564.2L442.7,563.9Z" fill="#e18417"/><path d="M438.2,563.8L442.7,563.9L438,561.9L433.5,561.9Z" fill="#e67217"/><path d="M428.9,562.1L433.5,561.9L428.8,560.1L424.2,560.4Z" fill="#ea6417"/><path d="M382.3,561.5L387.2,559.8L382.8,559.3L377.9,561Z" fill="#fd6419"/><path d="M419.6,560.9L424.2,560.4L419.6,558.9L415,559.4Z" fill="#ef5a18"/><path d="M391.6,560.5L396.4,559.1L392,558.4L387.2,559.8Z" fill="#fa5919"/><path d="M410.2,560.2L415,559.4L410.4,558.2L405.7,559Z" fill="#f35418"/><path d="M400.9,560.1L405.7,559L401.2,558L396.4,559.1Z" fill="#f65519"/><path d="M461.5,571.7L465.9,572.3L461.1,569.6L456.7,569Z" fill="#dba416"/><path d="M452.2,568.6L456.7,569L451.9,566.5L447.4,566.1Z" fill="#e08c16"/><path d="M442.9,566.1L447.4,566.1L442.7,563.9L438.2,563.8Z" fill="#e57717"/><path d="M433.6,564L438.2,563.8L433.5,561.9L428.9,562.1Z" fill="#e96617"/><path d="M424.2,562.6L428.9,562.1L424.2,560.4L419.6,560.9Z" fill="#ee5b18"/><path d="M386.7,562.1L391.6,560.5L387.2,559.8L382.3,561.5Z" fill="#fc5b19"/><path d="M414.8,561.6L419.6,560.9L415,559.4L410.2,560.2Z" fill="#f25318"/><path d="M396.1,561.4L400.9,560.1L396.4,559.1L391.6,560.5Z" fill="#f95319"/><path d="M405.5,561.2L410.2,560.2L405.7,559L400.9,560.1Z" fill="#f65119"/><path d="M457.1,571.4L461.5,571.7L456.7,569L452.2,568.6Z" fill="#de9516"/><path d="M447.7,568.5L452.2,568.6L447.4,566.1L442.9,566.1Z" fill="#e37e17"/><path d="M438.3,566.2L442.9,566.1L438.2,563.8L433.6,564Z" fill="#e86b17"/><path d="M428.9,564.5L433.6,564L428.9,562.1L424.2,562.6Z" fill="#ec5e18"/><path d="M419.5,563.3L424.2,562.6L419.6,560.9L414.8,561.6Z" fill="#f15418"/><path d="M391.2,563L396.1,561.4L391.6,560.5L386.7,562.1Z" fill="#fc5519"/><path d="M410.1,562.6L414.8,561.6L410.2,560.2L405.5,561.2Z" fill="#f54f18"/><path d="M400.6,562.5L405.5,561.2L400.9,560.1L396.1,561.4Z" fill="#f84f19"/><path d="M452.6,571.2L457.1,571.4L452.2,568.6L447.7,568.5Z" fill="#e28817"/><path d="M443.2,568.6L447.7,568.5L442.9,566.1L438.3,566.2Z" fill="#e67317"/><path d="M433.7,566.6L438.3,566.2L433.6,564L428.9,564.5Z" fill="#eb6217"/><path d="M424.2,565.1L428.9,564.5L424.2,562.6L419.5,563.3Z" fill="#ef5618"/><path d="M414.7,564.2L419.5,563.3L414.8,561.6L410.1,562.6Z" fill="#f44f18"/><path d="M395.7,564.1L400.6,562.5L396.1,561.4L391.2,563Z" fill="#fb4f19"/><path d="M405.2,563.9L410.1,562.6L405.5,561.2L400.6,562.5Z" fill="#f74c19"/><path d="M448,571.3L452.6,571.2L447.7,568.5L443.2,568.6Z" fill="#e57c17"/><path d="M438.5,569L443.2,568.6L438.3,566.2L433.7,566.6Z" fill="#ea6917"/><path d="M429,567.2L433.7,566.6L428.9,564.5L424.2,565.1Z" fill="#ee5b18"/><path d="M419.4,566.1L424.2,565.1L419.5,563.3L414.7,564.2Z" fill="#f25118"/><path d="M409.9,565.4L414.7,564.2L410.1,562.6L405.2,563.9Z" fill="#f64c19"/><path d="M400.3,565.4L405.2,563.9L400.6,562.5L395.7,564.1Z" fill="#fa4c19"/><path d="M443.4,571.6L448,571.3L443.2,568.6L438.5,569Z" fill="#e87117"/><path d="M433.8,569.6L438.5,569L433.7,566.6L429,567.2Z" fill="#ed6118"/><path d="M424.2,568.1L429,567.2L424.2,565.1L419.4,566.1Z" fill="#f15518"/><path d="M414.6,567.2L419.4,566.1L414.7,564.2L409.9,565.4Z" fill="#f54d19"/><path d="M405,566.9L409.9,565.4L405.2,563.9L400.3,565.4Z" fill="#f94c19"/><path d="M438.7,572.2L443.4,571.6L438.5,569L433.8,569.6Z" fill="#eb6918"/><path d="M429,570.4L433.8,569.6L429,567.2L424.2,568.1Z" fill="#f05b18"/><path d="M419.4,569.3L424.2,568.1L419.4,566.1L414.6,567.2Z" fill="#f45118"/><path d="M409.7,568.6L414.6,567.2L409.9,565.4L405,566.9Z" fill="#f84c19"/><path d="M433.9,573L438.7,572.2L433.8,569.6L429,570.4Z" fill="#ee6318"/><path d="M424.2,571.5L429,570.4L424.2,568.1L419.4,569.3Z" fill="#f35718"/><path d="M414.5,570.6L419.4,569.3L414.6,567.2L409.7,568.6Z" fill="#f75019"/><path d="M429.1,574L433.9,573L429,570.4L424.2,571.5Z" fill="#f15e18"/><path d="M419.3,572.9L424.2,571.5L419.4,569.3L414.5,570.6Z" fill="#f65519"/><path d="M424.2,575.3L429.1,574L424.2,571.5L419.3,572.9Z" fill="#f45c18"/></g>
<circle cx="329.4" cy="623.1" r="1.1" fill="#111"/>
<text x="323.6" y="620.7" font-size="11" text-anchor="end">72</text>
<circle cx="328.8" cy="609.7" r="1.1" fill="#111"/>
<text x="323" y="607.3" font-size="11" text-anchor="end">74</text>
<circle cx="328.1" cy="596.2" r="1.1" fill="#111"/>
<text x="322.3" y="593.8" font-size="11" text-anchor="end">76</text>
<circle cx="327.4" cy="582.4" r="1.1" fill="#111"/>
<text x="321.6" y="580" font-size="11" text-anchor="end">78</text>
<circle cx="326.7" cy="568.4" r="1.1" fill="#111"/>
<text x="320.9" y="566" font-size="11" text-anchor="end">80</text>
<circle cx="326" cy="554.3" r="1.1" fill="#111"/>
<text x="320.2" y="551.9" font-size="11" text-anchor="end">82</text>
<circle cx="325.3" cy="539.9" r="1.1" fill="#111"/>
<text x="319.5" y="537.5" font-size="11" text-anchor="end">84</text>
<circle cx="324.6" cy="525.3" r="1.1" fill="#111"/>
<text x="318.8" y="522.9" font-size="11" text-anchor="end">86</text>
<text transform="translate(301.3,590.9) rotate(-90)" font-size="11.4" text-anchor="middle">Recovery (%)</text>
<circle cx="330.9" cy="652.6" r="0.9" fill="#111"/>
<text x="320.5" y="665.7" font-size="11" text-anchor="middle">40</text>
<circle cx="352" cy="662.9" r="0.9" fill="#111"/>
<text x="343.5" y="676.2" font-size="11" text-anchor="middle">36</text>
<circle cx="374.5" cy="673.8" r="0.9" fill="#111"/>
<text x="366.6" y="687.5" font-size="11" text-anchor="middle">32</text>
<circle cx="398.6" cy="685.5" r="0.9" fill="#111"/>
<text x="389.2" y="698" font-size="11" text-anchor="middle">28</text>
<circle cx="424.2" cy="698" r="0.9" fill="#111"/>
<text x="412.6" y="709.3" font-size="11" text-anchor="middle">24</text>
<circle cx="424.2" cy="698" r="0.9" fill="#111"/>
<text x="432" y="709.3" font-size="11" text-anchor="middle">2</text>
<circle cx="449.9" cy="685.5" r="0.9" fill="#111"/>
<text x="455" y="698" font-size="11" text-anchor="middle">3</text>
<circle cx="473.9" cy="673.8" r="0.9" fill="#111"/>
<text x="478" y="686.7" font-size="11" text-anchor="middle">4</text>
<circle cx="496.4" cy="662.9" r="0.9" fill="#111"/>
<text x="502" y="675" font-size="11" text-anchor="middle">5</text>
<circle cx="517.5" cy="652.6" r="0.9" fill="#111"/>
<text x="525.8" y="663.7" font-size="11" text-anchor="middle">6</text>
<text x="341.5" y="699.1" font-size="11.3" text-anchor="middle">FR (L/h)</text>
<text x="503" y="699.1" font-size="11.3" text-anchor="middle">PS (mm)</text>
<circle cx="326.8" cy="571.2" r="2.3" fill="#d40000" stroke="#500" stroke-width="0.8"/>
<circle cx="424.6" cy="553.2" r="2.3" fill="#d40000" stroke="#500" stroke-width="0.8"/>
<circle cx="424.6" cy="576" r="2.3" fill="#fee" stroke="#933" stroke-width="0.8"/>
<circle cx="520.4" cy="602.8" r="2.3" fill="#fee" stroke="#933" stroke-width="0.8"/>
</svg>
</body></html>
